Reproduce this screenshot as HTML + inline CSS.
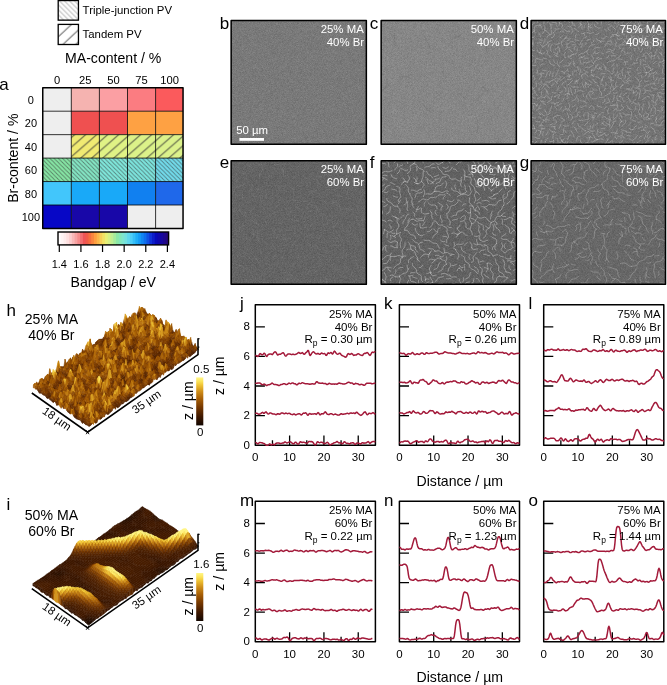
<!DOCTYPE html>
<html lang="en"><head><meta charset="utf-8"><title>Figure</title>
<style>html,body{margin:0;padding:0;background:#fff}svg{display:block}text{font-family:'Liberation Sans', sans-serif}</style>
</head><body>
<svg width="667" height="685" viewBox="0 0 667 685">
<defs>
<pattern id="hTJ" width="4.2" height="4.2" patternUnits="userSpaceOnUse" x="42.75" y="0"><path d="M-1,-1L5.2,5.2M-1,3.2L1,5.2M3.2,-1L5.2,1" stroke="#333" stroke-opacity="0.58" stroke-width="0.85"/></pattern>
<pattern id="hTD" width="11" height="9.6" patternUnits="userSpaceOnUse" x="52.3" y="135"><path d="M-1,10.47L12,-0.87M-1,0.87L1,-0.87M10,10.47L12,8.73" stroke="#333" stroke-opacity="0.75" stroke-width="1.1"/></pattern>
<pattern id="hTJl" width="5" height="5" patternUnits="userSpaceOnUse" x="59.2" y="0.6"><rect width="5" height="5" fill="#fff"/><path d="M-1,-1L6,6M-1,4L1,6M4,-1L6,1" stroke="#777" stroke-opacity="0.5" stroke-width="1.1"/></pattern>
<pattern id="hTDl" width="12.85" height="12" patternUnits="userSpaceOnUse" x="52.875" y="29.8"><rect width="13" height="12" fill="#fff"/><path d="M-1,12.93L13.85,-0.93M-1,0.93L1,-0.93M11.85,12.93L13.85,11.07" stroke="#444" stroke-opacity="0.8" stroke-width="1"/></pattern>
<filter id="sn00" x="0" y="0" width="1" height="1" color-interpolation-filters="sRGB"><feTurbulence type="fractalNoise" baseFrequency="2.31 2.73" numOctaves="2" seed="3"/><feColorMatrix type="matrix" values="0.16 0 0 0 0.395 0.16 0 0 0 0.395 0.16 0 0 0 0.395 0 0 0 0 1"/></filter>
<clipPath id="sc00"><rect x="231.15" y="20.55" width="135.2" height="123.6"/></clipPath>
<filter id="sn01" x="0" y="0" width="1" height="1" color-interpolation-filters="sRGB"><feTurbulence type="fractalNoise" baseFrequency="2.31 2.73" numOctaves="2" seed="4"/><feColorMatrix type="matrix" values="0.16 0 0 0 0.445 0.16 0 0 0 0.445 0.16 0 0 0 0.445 0 0 0 0 1"/></filter>
<clipPath id="sc01"><rect x="381.15" y="20.55" width="135.2" height="123.6"/></clipPath>
<filter id="sn02" x="0" y="0" width="1" height="1" color-interpolation-filters="sRGB"><feTurbulence type="fractalNoise" baseFrequency="2.31 2.73" numOctaves="2" seed="5"/><feColorMatrix type="matrix" values="0.16 0 0 0 0.371 0.16 0 0 0 0.371 0.16 0 0 0 0.371 0 0 0 0 1"/></filter>
<clipPath id="sc02"><rect x="531.1" y="20.55" width="134.4" height="123.6"/></clipPath>
<filter id="sn10" x="0" y="0" width="1" height="1" color-interpolation-filters="sRGB"><feTurbulence type="fractalNoise" baseFrequency="2.31 2.73" numOctaves="2" seed="6"/><feColorMatrix type="matrix" values="0.16 0 0 0 0.312 0.16 0 0 0 0.312 0.16 0 0 0 0.312 0 0 0 0 1"/></filter>
<clipPath id="sc10"><rect x="231.15" y="160.65" width="135.2" height="123.6"/></clipPath>
<filter id="sn11" x="0" y="0" width="1" height="1" color-interpolation-filters="sRGB"><feTurbulence type="fractalNoise" baseFrequency="2.31 2.73" numOctaves="2" seed="7"/><feColorMatrix type="matrix" values="0.16 0 0 0 0.304 0.16 0 0 0 0.304 0.16 0 0 0 0.304 0 0 0 0 1"/></filter>
<clipPath id="sc11"><rect x="381.15" y="160.65" width="135.2" height="123.6"/></clipPath>
<filter id="sn12" x="0" y="0" width="1" height="1" color-interpolation-filters="sRGB"><feTurbulence type="fractalNoise" baseFrequency="2.31 2.73" numOctaves="2" seed="8"/><feColorMatrix type="matrix" values="0.16 0 0 0 0.324 0.16 0 0 0 0.324 0.16 0 0 0 0.324 0 0 0 0 1"/></filter>
<clipPath id="sc12"><rect x="531.1" y="160.65" width="134.4" height="123.6"/></clipPath>
<linearGradient id="afmg" x1="0" y1="1" x2="0" y2="0"><stop offset="0.00" stop-color="rgb(18,6,0)"/><stop offset="0.18" stop-color="rgb(62,24,0)"/><stop offset="0.38" stop-color="rgb(118,56,0)"/><stop offset="0.55" stop-color="rgb(166,94,6)"/><stop offset="0.70" stop-color="rgb(206,140,24)"/><stop offset="0.83" stop-color="rgb(238,192,50)"/><stop offset="0.92" stop-color="rgb(252,228,90)"/><stop offset="1.00" stop-color="rgb(255,246,136)"/></linearGradient>
</defs>
<rect width="667" height="685" fill="#fff"/>
<rect x="58.2" y="0.55" width="20.25" height="19.6" fill="url(#hTJl)" stroke="#000" stroke-width="1.3"/>
<rect x="58.2" y="24.4" width="20.25" height="20.1" fill="url(#hTDl)" stroke="#000" stroke-width="1.3"/>
<text x="82.60" y="14.20" font-size="11.4" text-anchor="start" fill="#000">Triple-junction PV</text>
<text x="82.60" y="38.30" font-size="11.4" text-anchor="start" fill="#000">Tandem PV</text>
<rect x="42.75" y="87.75" width="28.55" height="23.45" fill="#eeeeee"/>
<rect x="71.30" y="87.75" width="28.10" height="23.45" fill="#f5b3b0"/>
<rect x="99.40" y="87.75" width="28.10" height="23.45" fill="#fb9fa3"/>
<rect x="127.50" y="87.75" width="28.10" height="23.45" fill="#fb7c81"/>
<rect x="155.60" y="87.75" width="27.45" height="23.45" fill="#fb5a5c"/>
<rect x="42.75" y="111.20" width="28.55" height="23.45" fill="#eeeeee"/>
<rect x="71.30" y="111.20" width="28.10" height="23.45" fill="#ef5050"/>
<rect x="99.40" y="111.20" width="28.10" height="23.45" fill="#ef5050"/>
<rect x="127.50" y="111.20" width="28.10" height="23.45" fill="#fea143"/>
<rect x="155.60" y="111.20" width="27.45" height="23.45" fill="#fea143"/>
<rect x="42.75" y="134.65" width="28.55" height="23.45" fill="#eeeeee"/>
<rect x="71.30" y="134.65" width="28.10" height="23.45" fill="#f0ea72"/>
<rect x="99.40" y="134.65" width="28.10" height="23.45" fill="#e0f285"/>
<rect x="127.50" y="134.65" width="28.10" height="23.45" fill="#dcf289"/>
<rect x="155.60" y="134.65" width="27.45" height="23.45" fill="#dcf28b"/>
<rect x="42.75" y="158.10" width="28.55" height="23.45" fill="#86e5a4"/>
<rect x="71.30" y="158.10" width="28.10" height="23.45" fill="#84e6c4"/>
<rect x="99.40" y="158.10" width="28.10" height="23.45" fill="#80e8dc"/>
<rect x="127.50" y="158.10" width="28.10" height="23.45" fill="#7de5de"/>
<rect x="155.60" y="158.10" width="27.45" height="23.45" fill="#72dcec"/>
<rect x="42.75" y="181.55" width="28.55" height="23.45" fill="#42c6fb"/>
<rect x="71.30" y="181.55" width="28.10" height="23.45" fill="#19a9f8"/>
<rect x="99.40" y="181.55" width="28.10" height="23.45" fill="#19a9f8"/>
<rect x="127.50" y="181.55" width="28.10" height="23.45" fill="#1180f0"/>
<rect x="155.60" y="181.55" width="27.45" height="23.45" fill="#1f68ea"/>
<rect x="42.75" y="205.00" width="28.55" height="23.45" fill="#0707c6"/>
<rect x="71.30" y="205.00" width="28.10" height="23.45" fill="#1807a8"/>
<rect x="99.40" y="205.00" width="28.10" height="23.45" fill="#1807a8"/>
<rect x="127.50" y="205.00" width="28.10" height="23.45" fill="#eeeeee"/>
<rect x="155.60" y="205.00" width="27.45" height="23.45" fill="#eeeeee"/>
<rect x="71.30" y="134.65" width="111.75" height="23.45" fill="url(#hTD)"/>
<rect x="42.75" y="158.10" width="140.30" height="23.45" fill="url(#hTJ)"/>
<path d="M71.30,87.75V228.45M99.40,87.75V228.45M127.50,87.75V228.45M155.60,87.75V228.45M42.75,111.20H183.05M42.75,134.65H183.05M42.75,158.10H183.05M42.75,181.55H183.05M42.75,205.00H183.05" stroke="#000" stroke-width="0.8" fill="none"/>
<rect x="42.75" y="87.75" width="140.30" height="140.70" fill="none" stroke="#000" stroke-width="1.5" stroke-linejoin="round"/>
<text x="113.20" y="62.60" font-size="14.1" text-anchor="middle" fill="#000">MA-content / %</text>
<text x="57.20" y="84.20" font-size="11.2" text-anchor="middle" fill="#000">0</text>
<text x="85.30" y="84.20" font-size="11.2" text-anchor="middle" fill="#000">25</text>
<text x="113.40" y="84.20" font-size="11.2" text-anchor="middle" fill="#000">50</text>
<text x="141.50" y="84.20" font-size="11.2" text-anchor="middle" fill="#000">75</text>
<text x="169.60" y="84.20" font-size="11.2" text-anchor="middle" fill="#000">100</text>
<text x="30.90" y="103.97" font-size="11" text-anchor="middle" fill="#000">0</text>
<text x="30.90" y="127.42" font-size="11" text-anchor="middle" fill="#000">20</text>
<text x="30.90" y="150.88" font-size="11" text-anchor="middle" fill="#000">40</text>
<text x="30.90" y="174.32" font-size="11" text-anchor="middle" fill="#000">60</text>
<text x="30.90" y="197.77" font-size="11" text-anchor="middle" fill="#000">80</text>
<text x="30.90" y="221.22" font-size="11" text-anchor="middle" fill="#000">100</text>
<text x="18.00" y="158.20" font-size="14.1" text-anchor="middle" fill="#000" transform="rotate(-90 18.00 158.20)">Br-content / %</text>
<text x="-0.70" y="89.90" font-size="17" text-anchor="start" fill="#000">a</text>
<rect x="58.00" y="232.0" width="3.76" height="12.90" fill="#fffcfc"/>
<rect x="60.77" y="232.0" width="3.76" height="12.90" fill="#fff5f5"/>
<rect x="63.53" y="232.0" width="3.76" height="12.90" fill="#feecec"/>
<rect x="66.30" y="232.0" width="3.76" height="12.90" fill="#fee0e0"/>
<rect x="69.06" y="232.0" width="3.76" height="12.90" fill="#fccfcf"/>
<rect x="71.83" y="232.0" width="3.76" height="12.90" fill="#fab9b9"/>
<rect x="74.59" y="232.0" width="3.76" height="12.90" fill="#f8a3a3"/>
<rect x="77.35" y="232.0" width="3.76" height="12.90" fill="#f68c8c"/>
<rect x="80.12" y="232.0" width="3.76" height="12.90" fill="#f27072"/>
<rect x="82.88" y="232.0" width="3.76" height="12.90" fill="#ef5557"/>
<rect x="85.65" y="232.0" width="3.76" height="12.90" fill="#f15b49"/>
<rect x="88.41" y="232.0" width="3.76" height="12.90" fill="#f56f40"/>
<rect x="91.18" y="232.0" width="3.76" height="12.90" fill="#f9863f"/>
<rect x="93.94" y="232.0" width="3.76" height="12.90" fill="#fe9e40"/>
<rect x="96.71" y="232.0" width="3.76" height="12.90" fill="#fbb64b"/>
<rect x="99.47" y="232.0" width="3.76" height="12.90" fill="#f8ce57"/>
<rect x="102.24" y="232.0" width="3.76" height="12.90" fill="#f2e265"/>
<rect x="105.00" y="232.0" width="3.76" height="12.90" fill="#e8f075"/>
<rect x="107.77" y="232.0" width="3.76" height="12.90" fill="#d5f085"/>
<rect x="110.53" y="232.0" width="3.76" height="12.90" fill="#c0ef93"/>
<rect x="113.30" y="232.0" width="3.76" height="12.90" fill="#a5ec9d"/>
<rect x="116.06" y="232.0" width="3.76" height="12.90" fill="#8be8a7"/>
<rect x="118.83" y="232.0" width="3.76" height="12.90" fill="#84e7ba"/>
<rect x="121.59" y="232.0" width="3.76" height="12.90" fill="#7ee6ce"/>
<rect x="124.36" y="232.0" width="3.76" height="12.90" fill="#73e1df"/>
<rect x="127.12" y="232.0" width="3.76" height="12.90" fill="#61d8ec"/>
<rect x="129.89" y="232.0" width="3.76" height="12.90" fill="#4ecef8"/>
<rect x="132.65" y="232.0" width="3.76" height="12.90" fill="#36bef8"/>
<rect x="135.42" y="232.0" width="3.76" height="12.90" fill="#1fadf8"/>
<rect x="138.19" y="232.0" width="3.76" height="12.90" fill="#169af6"/>
<rect x="140.95" y="232.0" width="3.76" height="12.90" fill="#1286f2"/>
<rect x="143.71" y="232.0" width="3.76" height="12.90" fill="#106fed"/>
<rect x="146.48" y="232.0" width="3.76" height="12.90" fill="#1051e3"/>
<rect x="149.25" y="232.0" width="3.76" height="12.90" fill="#1033d9"/>
<rect x="152.01" y="232.0" width="3.76" height="12.90" fill="#0c1eca"/>
<rect x="154.77" y="232.0" width="3.76" height="12.90" fill="#080aba"/>
<rect x="157.54" y="232.0" width="3.76" height="12.90" fill="#0f08ac"/>
<rect x="160.31" y="232.0" width="3.76" height="12.90" fill="#18089f"/>
<rect x="163.07" y="232.0" width="3.76" height="12.90" fill="#1f088e"/>
<rect x="165.83" y="232.0" width="2.77" height="12.90" fill="#25087a"/>
<rect x="58.0" y="232.0" width="110.60" height="12.90" fill="none" stroke="#000" stroke-width="1.4"/>
<path d="M59.30,244.9V252M80.92,244.9V252M102.54,244.9V252M124.16,244.9V252M145.78,244.9V252M167.40,244.9V252" stroke="#000" stroke-width="1.2" fill="none"/>
<text x="59.30" y="267.80" font-size="11" text-anchor="middle" fill="#000">1.4</text>
<text x="80.92" y="267.80" font-size="11" text-anchor="middle" fill="#000">1.6</text>
<text x="102.54" y="267.80" font-size="11" text-anchor="middle" fill="#000">1.8</text>
<text x="124.16" y="267.80" font-size="11" text-anchor="middle" fill="#000">2.0</text>
<text x="145.78" y="267.80" font-size="11" text-anchor="middle" fill="#000">2.2</text>
<text x="167.40" y="267.80" font-size="11" text-anchor="middle" fill="#000">2.4</text>
<text x="113.20" y="287.20" font-size="14.1" text-anchor="middle" fill="#000">Bandgap / eV</text>
<rect x="231.15" y="20.55" width="135.2" height="123.6" fill="rgb(121,121,121)" filter="url(#sn00)"/>
<g clip-path="url(#sc00)">
</g>
<rect x="231.15" y="20.55" width="135.2" height="123.6" fill="none" stroke="#000" stroke-width="1.5" stroke-linejoin="round"/>
<text x="363.75" y="32.55" font-size="11.4" text-anchor="end" fill="#fff">25% MA</text>
<text x="364.15" y="45.85" font-size="11.4" text-anchor="end" fill="#fff">40% Br</text>
<text x="219.85" y="29.45" font-size="17" text-anchor="start" fill="#000">b</text>
<rect x="381.15" y="20.55" width="135.2" height="123.6" fill="rgb(134,134,134)" filter="url(#sn01)"/>
<g clip-path="url(#sc01)">
<path d="M386.4,79.5l0.6,1.5l0.3,1.6l-0.1,1.6l-0.5,1.5l-0.8,1.4l-1.0,1.2l-1.2,1.1l-1.3,0.9l-1.5,0.5M518.0,161.9l-0.5,1.5l-0.2,1.6l-0.2,1.6l-0.2,1.6l-0.1,1.6l-0.2,1.6l-0.3,1.6l-0.3,1.6l-0.6,1.5l-0.7,1.5l-0.8,1.4M458.4,93.5l1.4,0.7l1.3,0.9l1.3,0.9l1.2,1.1l1.0,1.2M437.9,164.0l-1.5,-0.7l-1.4,-0.9l-1.1,-1.2l-0.8,-1.4l-0.8,-1.4l-0.7,-1.4l-0.4,-1.6l-0.1,-1.6l0.0,-1.6l0.4,-1.5l0.5,-1.5M498.6,150.5l-0.9,-1.3l-0.6,-1.5l-0.4,-1.5l-0.0,-1.6l0.1,-1.6l0.6,-1.5l0.7,-1.5l0.6,-1.5M476.0,117.2l0.7,1.4l0.5,1.5l0.2,1.6l0.2,1.6l0.3,1.6l-0.0,1.6l-0.2,1.6l-0.3,1.6l-0.4,1.6l-0.6,1.5M522.1,120.6l1.5,0.5l1.5,0.4l1.6,0.1l1.6,0.3l1.5,0.6l1.4,0.7M508.3,21.3l-0.5,-1.5l-0.5,-1.5l-0.3,-1.6l-0.3,-1.6l-0.3,-1.6l-0.3,-1.6l-0.4,-1.5l-0.6,-1.5l-0.8,-1.4M454.5,37.4l1.6,-0.2l1.6,-0.3l1.4,-0.7l1.3,-1.0l1.0,-1.3M445.4,165.9l0.3,-1.6l-0.2,-1.6l-0.3,-1.6l-0.5,-1.5l-0.5,-1.5l-0.8,-1.4l-1.1,-1.1l-1.3,-0.9l-1.5,-0.5l-1.5,-0.5l-1.5,-0.5M515.0,50.3l-1.1,-1.2l-1.1,-1.2l-1.2,-1.0l-1.3,-0.9l-1.5,-0.6l-1.6,-0.1l-1.6,-0.0l-1.6,-0.2l-1.5,-0.5l-1.4,-0.9l-1.2,-1.1l-1.2,-1.0M395.9,46.3l-0.5,-1.5l-0.4,-1.6l-0.4,-1.6l-0.2,-1.6l-0.1,-1.6l-0.1,-1.6l-0.2,-1.6l-0.1,-1.6M487.6,53.3l-0.5,-1.5l-0.5,-1.5l-0.2,-1.6l-0.0,-1.6l0.3,-1.6l0.6,-1.5l0.3,-1.6l0.3,-1.6M410.4,78.0l-1.4,-0.7l-1.6,-0.3l-1.6,-0.1l-1.6,-0.1l-1.6,0.1l-1.6,0.0l-1.6,0.1M424.4,36.2l0.7,1.4l0.5,1.5l0.6,1.5l0.8,1.4l1.0,1.3l0.8,1.4l0.5,1.5l0.4,1.6M482.9,86.9l1.3,1.0l1.1,1.1l1.2,1.1l1.2,1.0l1.2,1.0M422.4,103.8l1.1,1.2l1.0,1.2l1.1,1.1l1.1,1.1l1.1,1.2l1.2,1.1l1.3,0.9l1.5,0.7" fill="none" stroke="#444" stroke-width="0.7" stroke-opacity="0.25" stroke-linecap="round" stroke-linejoin="round"/>
<path d="M394.6,107.8l-0.8,1.4l-0.4,1.6l-0.1,1.6M546.9,77.1l-1.6,-0.2l-1.5,-0.5l-1.4,-0.7M531.2,42.8l0.5,-1.5l0.3,-1.6l0.2,-1.6M508.1,83.4l0.4,-1.5l0.2,-1.6l0.2,-1.6l0.3,-1.6l0.2,-1.6l0.1,-1.6M388.4,64.3l-0.1,-1.6l-0.2,-1.6l-0.3,-1.6l-0.2,-1.6l0.0,-1.6M497.3,24.6l0.7,1.4l1.1,1.2l1.2,1.0l1.3,1.0l1.1,1.1l1.3,1.0M466.5,116.4l1.6,0.3l1.6,-0.0l1.6,0.1l1.6,-0.1l1.6,-0.3l1.5,-0.4l1.5,-0.5M401.3,127.5l-1.5,-0.5l-1.5,-0.5l-1.5,-0.4l-1.6,-0.4M468.0,78.3l-1.4,0.8l-1.4,0.8l-1.4,0.8l-1.5,0.5l-1.6,0.3l-1.6,0.2" fill="none" stroke="#ddd" stroke-width="0.6" stroke-opacity="0.2" stroke-linecap="round" stroke-linejoin="round"/>
</g>
<rect x="381.15" y="20.55" width="135.2" height="123.6" fill="none" stroke="#000" stroke-width="1.5" stroke-linejoin="round"/>
<text x="513.75" y="32.55" font-size="11.4" text-anchor="end" fill="#fff">50% MA</text>
<text x="514.15" y="45.85" font-size="11.4" text-anchor="end" fill="#fff">40% Br</text>
<text x="369.85" y="29.45" font-size="17" text-anchor="start" fill="#000">c</text>
<rect x="531.1" y="20.55" width="134.4" height="123.6" fill="rgb(115,115,115)" filter="url(#sn02)"/>
<g clip-path="url(#sc02)">
<path d="M567.1,35.6l-1.0,0.9l-0.6,1.2l-0.7,1.1l-1.0,0.9l-1.1,0.8l-0.9,1.0M548.5,20.0l-0.3,1.3l-0.4,1.3l-0.9,0.9M606.2,67.8l-0.8,-1.0l-0.9,-0.9l-0.6,-1.2M645.8,59.2l0.1,-1.3l-0.7,-1.1l-0.2,-1.3M567.8,84.8l1.2,-0.5l0.8,-1.0l0.8,-1.0l1.0,-0.8l0.8,-1.0M648.5,114.2l-1.1,-0.8l-1.2,-0.5l-1.0,-0.9M646.3,119.7l-0.4,-1.2l0.3,-1.3l1.1,-0.7l0.9,-0.9l0.3,-1.3M609.0,21.6l1.0,-0.8l1.2,-0.4l1.3,-0.3l1.2,-0.5l1.3,-0.1M593.0,65.5l-1.2,0.5l-1.1,0.6l-1.0,0.8l-1.3,-0.1l-1.3,-0.2l-1.3,0.4M594.5,44.5l-1.3,0.4l-1.3,-0.1l-1.2,0.5l-0.7,1.1l-1.0,0.8M576.1,140.7l0.7,-1.1l0.2,-1.3l0.5,-1.2l1.1,-0.7l1.3,-0.1M648.2,28.0l0.5,1.2l0.8,1.0M570.2,113.9l0.8,1.0l0.9,0.9l0.8,1.1l-0.2,1.3l-0.8,1.0l-1.1,0.7M617.5,71.6l0.0,1.3l-0.8,1.0l-1.0,0.8l-0.4,1.2M591.5,72.6l-0.3,-1.3l0.6,-1.1l0.2,-1.3M561.6,140.9l-0.3,-1.3l-0.9,-0.9l-0.4,-1.2M567.7,145.0l-0.4,-1.2l-1.2,-0.6l-1.3,-0.2l-1.2,-0.5l-1.0,-0.8l-1.1,-0.7M607.5,42.0l1.1,-0.7l1.3,-0.2M613.3,94.7l0.9,1.0l-0.0,1.3l-0.4,1.2l-0.4,1.2l-0.4,1.3l-0.7,1.1M626.0,80.8l0.9,-1.0l1.0,-0.8l0.8,-1.0l0.8,-1.0M549.2,111.6l1.0,-0.8l0.5,-1.2l0.1,-1.3l0.4,-1.2l0.7,-1.1M618.3,35.9l-1.2,-0.5l-1.1,-0.7l-1.3,-0.3l-1.3,0.1l-1.3,0.2M611.9,25.6l-1.2,0.4l-1.0,0.8l-0.9,0.9M626.8,105.7l1.0,0.8l0.5,1.2l0.7,1.1l1.2,0.6l1.3,-0.2M661.8,54.5l-0.9,-0.9l-1.1,-0.7l-1.0,-0.8M575.7,144.3l-1.3,-0.1l-1.2,-0.6l-0.8,-1.0l-1.2,-0.5M668.7,130.5l1.3,0.2l1.3,-0.1l1.2,-0.5M580.1,106.9l1.2,0.5l1.3,-0.3l1.1,-0.8l1.2,-0.4l1.3,0.1M658.5,63.8l0.7,1.1l-0.0,1.3M580.0,100.6l1.2,0.4l1.3,0.1l1.3,0.1M533.8,92.7l-0.9,1.0l-1.0,0.8l-0.9,0.9M594.1,109.6l-0.2,-1.3l-0.6,-1.2l-0.8,-1.0M639.7,93.3l0.5,-1.2l0.1,-1.3l-0.3,-1.3l-0.4,-1.3M639.4,28.6l-0.9,-1.0l-1.0,-0.8l-1.2,-0.5l-1.2,-0.4l-0.8,-1.0l-0.1,-1.3M582.4,40.5l-1.1,0.7l-0.6,1.1l-0.3,1.3l-0.6,1.1M554.5,104.7l0.7,-1.1l1.0,-0.8l1.3,-0.0l1.3,-0.4M535.2,19.7l-0.3,-1.3l0.3,-1.3M661.0,124.1l0.6,-1.2l0.6,-1.1l0.9,-0.9l1.3,-0.2M597.4,98.0l-1.2,0.6l-1.3,0.3l-1.3,0.1l-1.2,-0.5M585.8,130.5l-1.3,0.2l-1.1,-0.7l-0.7,-1.1l-0.9,-0.9l-1.1,-0.7l-0.9,-1.0M625.3,75.0l0.2,1.3l-0.4,1.2l-0.9,0.9M537.6,104.5l-1.0,0.8l-0.4,1.2M626.2,25.1l0.8,-1.0l0.7,-1.1l1.2,-0.5M575.5,117.2l0.8,-1.0l1.0,-0.8l1.3,-0.3l1.0,0.9l0.9,1.0M616.5,108.6l-1.2,0.4l-1.0,0.8l-0.8,1.0M633.3,92.6l1.3,-0.1l1.0,-0.8l1.0,-0.8M657.2,110.4l1.3,-0.1l1.1,0.7l1.3,0.2l1.2,-0.4l0.9,-0.9M619.2,96.4l1.3,0.3l1.2,0.5l0.7,1.1l0.4,1.2l0.6,1.2l0.7,1.1M611.6,132.6l1.2,-0.5l1.2,0.6l1.2,0.5l1.3,0.1l1.2,0.4M663.4,29.6l-1.2,0.5l-0.5,1.2l-0.5,1.2l-0.8,1.0M647.9,25.6l-0.4,-1.2l-0.3,-1.3l0.4,-1.2M654.3,24.4l1.1,-0.7l0.8,-1.0l1.0,-0.8M537.2,95.2l-1.1,-0.7l-0.9,-0.9M619.7,35.7l-1.3,0.2l-1.3,-0.3l-0.9,-0.9M538.9,90.4l0.2,-1.3l0.0,-1.3M612.0,44.4l-0.1,-1.3l-0.7,-1.1l-0.3,-1.3M538.6,146.9l0.6,-1.2l1.0,-0.8l0.7,-1.1l0.2,-1.3l0.2,-1.3l0.6,-1.2M634.4,51.1l0.6,-1.2l-0.2,-1.3M586.7,51.1l-1.1,0.6l-1.0,0.8l-1.1,0.8l-1.1,0.7M534.7,133.0l1.1,-0.7l0.6,-1.1l0.3,-1.3M559.1,94.7l-1.3,0.1l-1.0,0.9l-1.2,0.6l-1.3,0.2M650.1,84.1l1.2,-0.4l1.3,0.0l1.3,-0.1M664.8,82.5l-0.3,-1.3l-0.3,-1.3l-0.8,-1.1M542.6,47.3l1.0,-0.8l1.1,-0.7l0.9,-0.9l1.2,-0.5l0.9,-0.9l0.2,-1.3M576.6,95.8l-0.1,1.3l-0.5,1.2l-1.1,0.7M535.5,98.0l-1.3,0.1l-1.2,-0.4l-0.9,-1.0M634.9,142.4l-1.1,0.6l-0.9,0.9l-0.4,1.2M591.3,144.8l-0.4,1.2l0.1,1.3l0.8,1.0l1.1,0.6l0.8,1.0l0.8,1.0M632.9,129.6l-1.3,0.1l-1.2,-0.4l-0.9,-1.0M636.4,126.1l-1.2,0.4l-0.8,1.0l-0.6,1.2l-0.9,1.0M549.5,88.0l-1.2,-0.5l-0.8,-1.1l-0.6,-1.1l-0.8,-1.0l-1.3,-0.1l-1.3,0.1M612.8,27.1l1.1,0.6l0.7,1.1l1.0,0.9M587.8,112.2l0.7,1.1l0.3,1.3l-0.5,1.2l-0.3,1.3l0.6,1.1M554.2,65.4l-1.2,-0.4l-1.3,-0.3l-1.1,-0.7l-0.7,-1.1l-0.2,-1.3l-0.7,-1.1M617.6,107.4l-0.0,-1.3l-1.0,-0.9l-1.3,-0.0l-1.3,-0.1l-1.1,-0.6M533.2,89.8l1.2,0.6l0.6,1.2l0.1,1.3M657.4,77.8l-0.7,1.1l-0.4,1.2l-0.9,0.9M570.1,87.9l0.7,1.1l0.2,1.3l0.1,1.3l0.5,1.2l0.7,1.1l0.3,1.3M666.3,125.7l1.1,-0.7l1.3,-0.1l1.2,0.4l1.2,0.4l1.3,0.0M603.3,139.7l-1.2,-0.6l-1.3,-0.2l-1.3,0.2l-1.2,0.4l-1.3,0.2l-1.1,0.8M557.1,109.4l-0.9,-0.9l-0.9,-1.0l-0.5,-1.2M634.1,63.7l-1.2,0.4l-1.2,0.6M622.1,152.6l-1.3,-0.3l-0.9,-1.0M626.9,147.0l-1.1,0.7l-0.7,1.1l-0.3,1.3l-0.6,1.2l-0.9,0.9l-1.2,0.5M561.0,118.0l1.3,0.3l0.9,0.9l1.2,0.6M596.1,60.7l-1.1,0.6l-1.0,0.8l-0.3,1.3M627.0,132.0l-1.0,-0.8l-1.3,-0.3l-1.3,-0.2l-1.2,-0.5l-1.1,-0.7M573.7,61.2l0.2,1.3l0.4,1.2M595.9,68.7l-0.3,-1.3l0.1,-1.3l0.2,-1.3M665.1,20.0l-0.4,1.2l-0.9,1.0l-1.2,0.4l-1.3,0.2l-1.3,-0.2M604.1,108.8l0.9,-1.0l1.1,-0.8M648.3,65.1l0.7,1.1l0.7,1.1l0.9,0.9l0.5,1.2l-0.6,1.1l-0.9,1.0M542.5,33.8l0.8,-1.0l0.8,-1.0l0.4,-1.2M567.1,70.1l-0.8,1.0l-1.0,0.8l-1.2,0.6M586.8,103.2l-1.0,-0.9l-1.1,-0.6l-0.9,-0.9M604.0,54.0l-1.2,-0.5l-1.2,-0.5M544.6,64.2l-1.3,-0.3l-1.3,0.3l-1.1,0.8l-1.1,0.7M531.7,79.6l-1.1,0.7l-1.2,0.5l-1.3,0.0l-1.0,-0.8l-0.9,-0.9M559.9,52.5l-0.5,-1.2l0.1,-1.3l0.0,-1.3l-0.8,-1.1M567.7,139.4l0.4,-1.2l0.3,-1.3l0.7,-1.1l1.2,-0.5M591.8,55.7l0.8,1.0l0.6,1.2l0.3,1.3M561.6,71.5l1.3,0.1l1.0,0.9l0.5,1.2M543.3,146.1l1.3,-0.1l1.2,-0.4l1.0,-0.8l1.1,-0.7l1.2,-0.4l1.3,0.2M650.1,74.4l-0.4,1.3l-0.6,1.1l-1.3,0.2M644.6,72.2l1.3,0.3l1.3,-0.0l1.3,-0.1l1.0,0.8l0.7,1.1M630.4,32.1l1.3,0.1l1.1,0.7l1.3,0.3M588.6,24.3l-0.4,1.2l0.2,1.3l1.2,0.5l1.3,0.2l1.2,0.5M574.2,42.1l-1.3,-0.3l-1.2,-0.5l-1.2,0.4l-0.8,1.0l-0.9,0.9l-1.1,0.7M593.5,32.6l-1.3,0.2l-1.2,0.6l-1.3,0.0l-1.2,-0.6l-1.3,-0.3M583.7,33.4l0.7,1.1l0.4,1.2M581.4,75.9l0.4,1.2l0.7,1.1M586.3,72.3l-0.9,0.9l-1.0,0.8l-1.3,0.1l-1.2,0.6l-0.6,1.2M622.1,135.7l0.3,-1.3l0.0,-1.3l-0.5,-1.2M649.4,119.5l-0.7,-1.1l-0.8,-1.0l-0.0,-1.3M630.2,114.8l-1.3,-0.2l-1.3,0.1l-1.3,0.3l-1.3,-0.3l-0.9,-0.9l-0.8,-1.1M530.6,67.0l-1.3,-0.3l-1.2,0.6l-1.3,-0.1l-1.2,-0.6l-0.8,-1.0M562.6,90.7l-0.8,1.0l-1.1,0.7l-1.3,0.3M583.2,64.8l-0.2,-1.3l0.7,-1.1l1.3,-0.2l1.3,0.2M599.2,52.3l-1.1,0.6l-1.2,0.6l-1.3,-0.1M588.3,58.2l-1.3,0.1l-1.3,-0.2l-1.3,0.1M652.0,139.7l0.5,1.2l0.5,1.2l0.1,1.3l-0.4,1.2M645.3,146.2l-0.6,-1.1l0.2,-1.3l0.8,-1.1l0.8,-1.1l1.0,-0.8l1.3,0.1M662.0,73.1l0.5,-1.2l-0.0,-1.3l0.2,-1.3l0.4,-1.2l0.3,-1.3l0.0,-1.3M616.9,138.7l-1.1,-0.7l-0.9,-1.0l0.3,-1.3M617.2,86.5l-1.2,0.4l-0.9,1.0l-0.7,1.1l-0.9,0.9l-1.2,0.6M581.6,33.3l1.3,0.2l1.2,-0.4l1.1,-0.7M598.3,136.6l1.2,-0.5l1.2,-0.4l1.1,-0.6l1.0,-0.8l1.2,-0.5l1.2,-0.6M639.7,113.9l-0.8,-1.0l-0.5,-1.2l0.5,-1.2l0.7,-1.1l0.3,-1.3M554.6,43.9l1.2,0.5l1.3,-0.1l1.1,-0.7l1.3,-0.0M604.1,147.3l1.3,0.3l1.2,0.5l1.3,-0.2l1.1,-0.8M576.1,45.0l-1.3,-0.3l-1.3,-0.1l-1.3,0.2M643.6,103.8l-0.3,1.3l-0.8,1.0l-0.9,0.9M532.5,112.7l-0.7,1.1l-0.7,1.1l-1.2,0.5M645.9,66.7l1.3,-0.0l1.1,0.6l1.0,0.8M610.7,82.5l0.5,-1.2l-0.2,-1.3l-0.8,-1.0l-1.0,-0.9l-0.6,-1.2M563.8,32.1l-1.1,-0.7l-1.3,-0.3l-1.1,0.6M550.1,57.3l-0.2,-1.3l-1.0,-0.8l-1.1,-0.6M546.2,92.8l0.2,-1.3l-0.0,-1.3l-0.6,-1.2l-1.2,-0.5M533.7,137.1l1.3,-0.0l1.1,0.6l1.1,0.7l1.3,-0.0l1.3,-0.2M623.1,68.4l-0.6,1.1l-0.5,1.2l-0.2,1.3l0.4,1.2l0.4,1.2l0.1,1.3M617.1,66.9l-0.0,-1.3l-0.2,-1.3M546.0,119.0l0.5,-1.2l0.8,-1.0M538.5,117.0l1.3,-0.1l0.9,0.9l0.3,1.3M534.4,36.4l-1.0,0.9l-1.3,0.2l-1.2,0.5l-0.7,1.1M537.4,49.8l0.1,1.3l0.7,1.1l1.2,0.4l1.3,0.2l1.1,0.8M590.3,136.4l-0.6,1.2l-0.2,1.3l-0.6,1.1M538.3,83.2l1.1,0.8l1.1,0.7l1.0,0.8M556.7,137.9l0.9,0.9l0.4,1.2l-0.0,1.3M601.5,95.2l0.0,-1.3l-0.2,-1.3l-0.7,-1.1l-0.9,-0.9l-0.3,-1.3l0.3,-1.3M559.6,63.2l1.0,-0.8l1.0,-0.8l0.8,-1.0l0.9,-0.9M663.4,145.4l0.9,1.0l1.2,0.5l1.3,-0.2M633.1,90.1l0.4,1.2l-0.2,1.3l0.1,1.3M660.6,41.1l-0.8,-1.0l-0.8,-1.1l-1.2,-0.4l-1.2,-0.5l-0.9,-0.9M542.8,59.8l-1.3,-0.0l-1.3,-0.2l-1.2,-0.4l-1.2,-0.6l-1.3,0.1M641.3,130.5l1.3,-0.2l1.3,-0.2l1.2,0.4l0.8,1.0l0.6,1.2M664.6,128.2l-0.3,1.3l-0.7,1.1l-1.0,0.8l-0.9,1.0M638.8,98.7l0.2,-1.3l0.7,-1.1l0.1,-1.3l-0.6,-1.2M662.1,116.2l-0.9,0.9l-0.8,1.1l-0.8,1.0M562.0,84.9l0.4,-1.2l0.9,-0.9l1.1,-0.7l1.2,-0.5M546.7,114.9l1.3,-0.3l1.2,-0.6l0.7,-1.1M667.2,103.1l0.7,1.1l0.5,1.2l0.8,1.0M613.2,119.6l0.9,-0.9l1.0,-0.8l1.2,-0.6l0.8,-1.0l0.1,-1.3M584.6,125.9l0.6,-1.1l1.1,-0.7l0.8,-1.1l0.7,-1.1M574.3,49.9l-0.2,-1.3l0.5,-1.2l0.7,-1.1M623.0,140.2l-1.0,0.9l-0.6,1.2l-0.9,0.9M579.4,111.9l-1.3,0.3l-0.6,1.1l0.4,1.2M563.6,66.5l1.2,-0.5l1.3,-0.3l1.2,0.4l1.3,-0.1l0.8,-1.0l0.8,-1.0M556.8,55.5l0.5,-1.2l0.3,-1.3l0.2,-1.3M594.9,69.8l-1.3,0.3l-1.3,0.2l-1.3,0.1M546.4,30.9l-1.3,-0.2l-0.6,-1.2l0.4,-1.2l0.1,-1.3l-0.5,-1.2M578.2,101.6l0.2,-1.3l-0.4,-1.2l-0.5,-1.2M639.0,81.5l-0.5,-1.2l-0.6,-1.2l-1.0,-0.8l-1.1,-0.7l-0.9,-0.9M608.5,108.7l-0.6,1.2l-0.3,1.3l0.2,1.3l0.7,1.1M540.7,49.8l-0.1,1.3l-0.8,1.0l-0.4,1.2M594.0,76.9l-1.1,-0.8l-0.8,-1.0l-0.7,-1.1M552.9,24.8l-1.3,-0.0l-1.2,-0.5l-0.6,-1.2M642.3,41.7l-1.3,-0.1l-1.3,-0.1l-1.1,-0.7M636.9,70.8l0.4,-1.2l0.3,-1.3l0.8,-1.0M576.5,129.4l-0.6,-1.1l-1.1,-0.6l-1.1,-0.7M598.3,129.2l-0.7,1.1l-0.1,1.3l-0.3,1.3l-0.3,1.3l0.3,1.3M628.5,83.2l-1.3,-0.2l-1.3,-0.0l-1.2,-0.4l-1.2,-0.6l-0.4,-1.2M639.2,137.6l1.0,-0.8l1.2,-0.5l1.0,-0.8M588.3,54.6l-0.9,-1.0l-0.6,-1.2l0.2,-1.3l0.8,-1.0l0.8,-1.0M536.0,81.6l0.1,1.3l0.2,1.3l0.3,1.3l-0.3,1.3M608.1,142.9l1.2,-0.5l1.0,-0.8l1.1,-0.6l1.3,0.0M544.0,73.6l-1.3,-0.0l-1.2,0.4l-1.3,-0.1l-1.3,0.0M665.9,134.8l0.2,-1.3l0.3,-1.3l1.0,-0.9M579.8,68.9l0.7,1.1l-0.1,1.3l-0.5,1.2l-0.4,1.2l-0.4,1.2M535.7,65.6l-1.3,-0.1l-1.3,0.0l-1.2,-0.5M610.2,37.4l1.1,-0.7l1.1,-0.7l1.3,-0.1M623.6,107.4l-1.1,-0.6l-0.8,-1.0l-0.1,-1.3M581.5,57.0l1.3,0.2l1.1,-0.6l0.8,-1.1M660.6,141.1l0.6,-1.1l0.6,-1.2l-0.3,-1.3l-0.6,-1.2M605.2,73.5l-1.3,-0.1l-1.3,0.3l-1.3,0.2M565.4,106.4l0.3,1.3l0.6,1.1l1.0,0.8l0.6,1.1M540.9,132.1l-0.6,-1.2l-1.2,-0.5l-1.3,-0.2M583.4,91.4l-1.3,-0.3l-1.2,-0.5l-1.3,0.0l-1.2,0.4l-1.3,0.3M558.9,85.9l-0.7,1.1l-0.2,1.3l-0.4,1.3l-0.7,1.1M557.2,61.2l-0.0,1.3l0.0,1.3l0.8,1.0l1.0,0.8l0.6,1.1M607.9,138.6l-0.0,1.3l-0.8,1.0l-0.9,1.0l-0.5,1.2l-0.2,1.3M613.9,63.4l-0.6,1.2l-0.6,1.1l-1.0,0.8M549.7,82.1l-1.3,0.1l-1.3,-0.3l-1.3,0.0M556.2,78.2l-1.2,0.5l-1.0,0.8l-1.1,0.7l-1.3,0.3l-1.2,0.6l-0.8,1.1M649.9,42.1l1.2,0.5l1.1,0.7l0.4,1.2l0.1,1.3l0.4,1.3M563.9,29.3l1.1,0.7l0.9,0.9l1.1,0.6l1.3,-0.2l1.3,0.1M554.2,83.1l-0.7,1.1l-0.8,1.0l-1.3,0.3M618.1,31.5l-0.5,1.2l-0.5,1.2l-1.0,0.8M535.1,63.0l0.3,-1.3l0.0,-1.3l0.4,-1.2M530.2,91.5l-1.3,-0.1l-1.3,0.2l-1.3,0.1l-1.3,-0.3l-1.2,-0.5M610.4,91.2l-0.2,1.3l-0.7,1.1l-1.2,0.5l-1.1,0.6l-1.1,0.7l-1.2,0.5M544.4,97.7l0.6,-1.1l1.0,-0.8M537.3,98.9l1.2,-0.5l1.1,-0.7l1.0,-0.8l1.3,-0.1l1.2,0.4l1.2,0.4M642.5,99.6l1.0,-0.8l1.0,-0.8l1.2,-0.5M579.2,22.7l0.8,1.1l1.2,0.5l0.9,0.9l0.1,1.3l-0.3,1.3l0.1,1.3M580.2,60.4l0.1,1.3l0.5,1.2l0.4,1.2M667.1,75.9l-1.0,-0.8l-1.2,-0.4l-1.1,-0.7M568.6,117.9l-0.0,-1.3l-0.2,-1.3l-0.8,-1.0l-0.3,-1.3M593.4,92.4l-0.8,1.0l-0.8,1.0M597.6,116.8l0.5,-1.2l0.9,-0.9l1.2,-0.5l1.0,-0.8l0.9,-0.9l1.3,0.1M575.0,39.3l1.1,0.8l1.3,0.2l1.3,0.3M642.9,126.2l-1.1,0.6l-1.1,0.7l-1.2,0.5l-1.3,0.2M613.0,86.1l0.1,1.3l0.6,1.2l0.4,1.2M644.3,113.8l-0.6,1.1l0.0,1.3l0.4,1.2l-0.2,1.3l0.4,1.2M551.0,147.2l1.3,-0.3l0.7,-1.1l0.2,-1.3l0.2,-1.3l0.4,-1.2l-0.1,-1.3M537.1,69.9l0.3,1.3l-0.1,1.3l-0.4,1.2M665.9,97.9l-0.9,1.0l-1.1,0.6l-0.9,1.0l-0.9,0.9M669.2,25.3l-1.1,-0.8l-0.8,-1.0M544.0,101.8l-1.3,-0.2l-1.3,-0.2l-1.0,-0.9M665.4,60.3l-1.3,0.2l-1.1,0.7l-1.1,0.7l-1.3,0.3l-1.3,-0.1M656.5,101.1l0.7,-1.1l0.2,-1.3l-0.9,-1.0M657.5,44.3l-1.2,-0.6l-0.9,-0.9l-0.6,-1.2l-1.0,-0.9l-1.2,-0.4M642.9,59.8l1.1,0.8l1.0,0.8l1.0,0.9M650.2,112.4l0.8,-1.0l0.3,-1.3l0.1,-1.3l0.8,-1.0M582.9,120.5l-1.3,-0.3l-1.3,0.2l-1.3,-0.0M653.6,73.2l-1.3,-0.1l-1.3,0.1M656.9,73.9l-0.1,-1.3l-1.0,-0.8l-1.2,0.4l-0.9,1.0M574.8,93.2l0.5,-1.2l0.2,-1.3l-0.1,-1.3M606.9,126.1l-1.2,-0.4l-1.2,-0.5l-1.0,-0.9l-0.8,-1.1l-1.0,-0.9M662.3,56.0l-0.9,-0.9l-0.1,-1.3l-0.0,-1.3M559.9,37.7l1.2,-0.5l0.9,-0.9l1.0,-0.8M653.2,75.5l0.2,1.3l0.4,1.2l0.1,1.3M585.0,119.7l1.3,-0.0l1.3,-0.2l1.2,-0.5M617.6,77.7l1.2,0.4l1.3,0.3l1.3,0.3M602.1,107.8l-1.0,-0.8l-1.2,-0.4l-1.3,-0.2l-1.1,-0.6l-0.4,-1.2M609.9,129.2l1.0,-0.8l0.8,-1.0l0.5,-1.2l0.5,-1.2l0.6,-1.1l0.1,-1.3M558.3,70.1l-0.4,1.2l-0.5,1.2l-0.5,1.2l-0.4,1.2l-0.8,1.0l-1.0,0.9M597.6,68.7l1.2,0.4l1.1,-0.7l0.9,-1.0l1.1,-0.6M546.3,121.4l-1.1,-0.6l-1.1,-0.7l-1.3,-0.2M626.6,93.3l-1.2,0.5l-1.2,0.6l-0.7,1.1M620.3,110.3l-1.3,-0.1l-1.3,-0.1l-1.2,-0.4M542.1,128.6l-0.5,1.2l-0.6,1.1l-0.4,1.2l-0.1,1.3l-0.6,1.2l-1.0,0.8M574.5,24.9l-1.0,-0.8l-0.8,-1.0l-1.0,-0.9M663.7,46.9l-0.0,-1.3l-0.1,-1.3l0.1,-1.3l0.9,-0.9l1.2,-0.5l1.1,-0.7M625.8,31.2l-1.3,0.1l-1.3,0.2l-1.1,-0.8l-0.9,-1.0l-0.8,-1.0l-1.0,-0.9M625.5,41.0l-1.1,0.7l-1.1,0.6l-0.8,1.0M602.5,81.0l-0.4,-1.2l0.2,-1.3l0.7,-1.1l0.4,-1.2M570.0,55.6l1.2,-0.4l1.1,-0.6l1.1,-0.6M585.3,113.4l-1.1,0.6l-0.5,1.2l-0.0,1.3M569.6,94.8l-0.6,-1.2l-0.6,-1.1l-0.1,-1.3l0.1,-1.3l-0.1,-1.3M532.1,46.6l0.8,-1.0l0.0,-1.3l-0.3,-1.3M542.7,135.5l0.2,-1.3l0.1,-1.3l0.1,-1.3M622.1,126.3l0.7,-1.1l1.0,-0.8l1.0,-0.8l0.8,-1.0l0.1,-1.3l-0.2,-1.3M631.8,35.5l-0.1,1.3l-0.4,1.2l-0.8,1.1l-0.4,1.2l0.0,1.3M551.4,99.8l-0.9,0.9l-1.1,0.6l-1.2,0.4l-0.8,1.1M657.8,55.7l0.2,1.3l0.9,1.0l0.8,1.0M631.1,80.8l-1.3,-0.2l-1.3,0.3l-1.2,0.6M639.3,49.4l-0.7,-1.1l-0.7,-1.1M615.1,48.7l-1.0,0.9l-1.0,0.9l-1.3,-0.1l-1.2,-0.6l-1.2,-0.6l-1.3,-0.1M592.0,142.0l1.3,-0.2l1.0,-0.8l1.0,-0.8M623.7,108.7l-1.3,0.3l-0.9,0.9l-1.0,0.8M531.8,127.5l0.8,1.0l1.3,0.3l1.3,-0.3M597.7,123.4l-1.2,0.5l-0.9,0.9l-0.7,1.1M608.9,55.5l-0.6,1.2l-1.0,0.8l-1.2,0.5M564.8,94.8l1.1,-0.7l1.2,-0.5l1.3,-0.2M529.2,47.4l-1.3,0.3l-1.3,0.2l-1.3,-0.3l-1.2,-0.5l-1.2,0.4l-0.7,1.1M551.2,37.9l1.2,-0.4l1.1,-0.8l0.6,-1.1l0.5,-1.2M576.8,18.9l-1.2,-0.5l-1.1,-0.7l-0.7,-1.1M599.0,33.0l-0.9,0.9l-1.2,0.5l-1.3,0.2M631.4,103.7l1.1,-0.7l1.3,-0.2l1.2,0.6l1.1,0.6l1.2,0.6M646.1,127.8l-1.2,-0.4l-0.9,0.9l-0.3,1.3M533.8,56.4l-1.1,-0.8l-1.1,-0.6l-1.3,0.1l-1.2,0.5l-1.3,0.1l-1.3,-0.2M566.8,47.1l0.3,-1.3l-0.3,-1.3l0.3,-1.3M630.3,136.1l-1.2,-0.4l-1.3,-0.1l-1.2,-0.5M652.0,56.2l1.3,-0.1l1.1,-0.6l1.1,-0.7M564.2,21.5l1.2,-0.5l1.2,-0.5l1.3,0.0l0.9,0.9l0.7,1.1M616.8,102.0l0.1,1.3l0.5,1.2l-0.1,1.3M544.8,109.7l0.4,1.2l0.5,1.2l0.9,0.9M651.7,87.3l0.8,1.0l1.2,0.5l1.3,-0.0l1.3,0.0l1.2,0.4M574.2,87.0l-1.3,0.2l-1.2,-0.6l-0.7,-1.1M596.7,82.9l-1.2,-0.4l-1.0,-0.8l-0.6,-1.1l-0.7,-1.1M587.2,94.7l-0.8,1.1l0.2,1.3l0.6,1.2M552.1,44.8l-1.1,0.6l-0.4,1.2l-0.3,1.3l-0.2,1.3l0.3,1.3l1.0,0.8M641.6,80.5l-0.9,0.9l-0.9,0.9l-0.4,1.2l0.0,1.3l-0.3,1.3M559.8,79.6l0.2,-1.3l0.3,-1.3l-0.5,-1.2M584.7,143.4l1.2,-0.4l1.3,-0.2l0.8,-1.0M609.4,119.5l0.4,1.2l-0.3,1.3l-0.2,1.3l0.3,1.3l0.2,1.3l-0.4,1.2M565.6,52.3l-0.9,1.0l-0.6,1.1l-0.0,1.3l0.7,1.1l0.6,1.1M572.3,107.0l1.2,-0.4l1.1,-0.7l0.7,-1.1M535.8,117.9l-1.3,0.2l-1.2,-0.4l-1.3,-0.3M549.6,98.4l-0.7,-1.1l-1.0,-0.8l-1.0,-0.8M546.9,50.5l0.9,1.0l-0.4,1.2l-0.5,1.2M666.2,70.8l0.8,-1.0l1.2,-0.4l1.3,0.0M588.9,80.2l0.7,1.1l1.2,0.6l1.3,0.4M666.7,57.6l0.7,-1.1l1.3,-0.3l1.3,-0.0l1.1,-0.7M539.8,43.9l0.8,1.0l1.0,0.9l1.2,0.6M620.5,86.6l1.1,-0.8l1.1,-0.7l0.8,-1.0M616.2,82.1l-0.6,1.2l0.1,1.3l-0.0,1.3M618.9,20.2l-1.2,-0.5l-1.3,-0.0l-1.3,0.3M557.4,115.3l1.3,0.2l1.3,0.0M553.9,120.6l-0.1,-1.3l-0.5,-1.2l0.6,-1.2l1.2,-0.4l1.2,-0.4l1.1,-0.8M580.2,140.1l0.3,1.3l0.7,1.1l1.1,0.7l0.9,0.9l1.0,0.8M572.7,71.8l0.2,1.3l0.0,1.3l0.1,1.3M585.6,82.5l0.1,1.3l-0.5,1.2l0.1,1.3l0.6,1.2M533.4,145.2l0.9,-0.9l0.5,-1.2l0.8,-1.0l1.2,-0.5M588.3,131.6l1.2,0.4l0.8,1.0M583.9,134.2l1.2,-0.5l0.9,-0.9l1.0,-0.8l1.2,-0.4M530.8,145.1l1.2,0.4l1.2,0.5l1.3,0.0M530.9,134.4l-1.1,0.7l-0.7,1.1l-0.9,1.0l-1.3,0.1M666.1,118.9l0.2,1.3l-0.4,1.2l-0.7,1.1M529.4,142.1l1.3,-0.3l1.3,-0.3l1.3,0.2M616.8,58.1l1.2,-0.5l1.1,-0.6l1.0,-0.9l0.6,-1.1M555.7,22.3l-1.3,0.2l-1.3,0.1l-1.2,-0.4M587.0,36.3l-1.1,0.7l-1.1,0.7l-0.9,0.9M654.1,115.0l-1.2,0.4l-1.3,0.3l-1.2,0.5M539.9,113.0l1.3,-0.1l0.9,0.9l0.6,1.2l1.1,0.7l1.3,0.1M657.3,146.7l0.3,1.3l0.7,1.1l0.4,1.2l0.1,1.3l0.2,1.3l0.9,0.9M631.9,55.0l-0.4,1.2l-0.6,1.2l0.0,1.3l0.2,1.3M666.1,110.3l1.0,-0.9l1.1,-0.7l0.8,-1.0M669.1,40.1l-1.3,-0.1l-0.8,-1.1l-0.5,-1.2l-1.2,-0.6l-1.3,0.3l-1.3,-0.3M652.9,68.2l-0.4,1.3l-1.0,0.8l-1.3,-0.0M618.7,145.8l1.0,-0.9l0.1,-1.3l-0.2,-1.3M615.3,40.8l1.0,0.9l-0.1,1.3l-0.5,1.2l0.0,1.3l0.5,1.2M551.1,28.7l0.1,-1.3l-0.1,-1.3l-0.5,-1.2M575.7,82.1l0.9,-0.9l1.1,-0.7l1.0,-0.8l0.7,-1.1M658.9,92.6l1.3,0.0l1.2,0.5l1.2,0.5l1.3,0.1l1.0,-0.8l0.7,-1.1M651.1,127.2l0.8,1.0l1.2,0.5l1.0,0.8l0.3,1.3l0.4,1.2l0.9,1.0M605.7,70.0l0.0,-1.3l-0.4,-1.2l-1.1,-0.6M648.3,36.5l-1.3,0.0l-1.2,0.4l-0.8,1.0l-0.9,0.9M626.9,28.5l-0.1,1.3l-0.2,1.3l0.4,1.2M658.5,125.0l-1.3,-0.1l-1.3,-0.0l-1.1,0.7M577.9,27.5l1.0,-0.8l1.2,-0.6l1.0,-0.8M591.9,131.2l1.3,0.1l1.2,-0.5M587.3,128.9l1.2,0.5l1.1,0.7l1.0,0.8l1.3,0.3M555.6,120.0l0.7,1.1l0.1,1.3l-0.7,1.1l-0.9,0.9M557.2,82.3l0.7,-1.1l0.1,-1.3l-0.1,-1.3M610.4,89.1l0.0,-1.3l0.6,-1.1l0.6,-1.2l-0.0,-1.3M624.5,61.5l0.8,1.0l0.2,1.3l0.1,1.3M584.8,45.2l0.9,-0.9l0.6,-1.2M623.9,51.0l0.8,1.0l0.3,1.3l0.1,1.3M645.3,125.1l1.2,0.6l1.0,0.8M568.6,125.7l-1.3,0.1l-1.3,0.3l-1.3,-0.1l-1.2,-0.4M566.9,96.9l0.6,-1.2l0.4,-1.2l-0.2,-1.3M659.7,46.3l0.5,1.2l0.8,1.0l0.9,0.9M656.5,122.9l-0.7,-1.1l-0.3,-1.3l0.7,-1.1l0.7,-1.1M635.8,99.4l-1.1,0.7l-1.1,0.6l-0.7,1.1M561.6,143.9l-0.9,-0.9l-1.3,-0.2l-1.2,0.6l-1.2,0.6l-1.2,0.4M642.2,25.0l-1.3,0.2l-0.6,-1.2l-0.1,-1.3l-0.4,-1.2l-0.2,-1.3l0.8,-1.1M574.9,83.8l-0.0,-1.3l0.5,-1.2l1.2,-0.6M544.9,38.7l0.2,1.3l-0.3,1.3l-0.6,1.1l-1.0,0.8M530.4,71.1l1.0,-0.8l0.9,-0.9M551.5,126.6l1.3,-0.2l1.3,0.2l1.3,0.3M622.9,120.9l-1.3,0.3l-1.0,0.8l-0.6,1.2l-0.5,1.2l0.2,1.3M568.6,38.7l-1.1,-0.7l-1.3,-0.2l-1.1,0.7M551.7,34.3l-0.2,-1.3l0.1,-1.3l0.0,-1.3M611.1,73.7l1.3,0.1l0.9,-0.9l1.0,-0.8M569.9,47.3l-1.3,0.1l-1.3,0.3l-0.8,1.0l-0.8,1.0M532.9,40.5l-0.1,1.3l0.2,1.3l-0.3,1.3M608.5,134.4l-1.1,0.7l-1.3,0.3l-1.0,-0.8M555.5,49.1l1.2,-0.5l1.0,-0.8l0.6,-1.1M594.1,113.0l1.3,0.1l1.2,0.5M641.2,75.4l0.5,1.2l0.2,1.3M588.1,76.3l-1.1,-0.6l-0.7,-1.1l-1.0,-0.8M536.6,110.1l1.2,-0.4l1.1,-0.8l1.2,-0.6l1.3,-0.3M657.3,138.8l-1.2,0.4l-1.2,0.4M540.3,105.2l-0.5,1.2l-0.7,1.1l-1.0,0.8M547.6,32.0l0.7,1.1l1.0,0.8l1.2,0.5M649.0,101.7l-0.1,1.3l0.1,1.3l0.4,1.2l-0.2,1.3l-0.5,1.2l-0.6,1.1M539.9,39.9l1.3,0.2l1.3,0.2M597.6,23.0l-1.0,-0.8l-1.0,-0.8l-1.1,-0.7l-0.7,-1.1l-0.2,-1.3M578.9,147.1l1.3,-0.3l1.3,-0.0l1.3,0.3M653.3,64.1l0.7,-1.1l1.1,-0.7l1.1,-0.7M555.3,132.4l-0.9,0.9l-0.9,0.9l-0.5,1.2l0.0,1.3l-0.1,1.3M529.5,132.1l-0.7,1.1l-0.0,1.3l0.3,1.3M552.1,92.4l1.2,0.5l1.3,0.1l1.3,-0.1M538.9,113.3l1.0,0.8l1.1,0.7M534.6,103.5l0.6,1.2l1.2,0.4l1.3,0.1M530.1,106.5l-0.1,-1.3l0.7,-1.1l1.2,-0.5l1.3,-0.0l1.3,-0.1M571.2,131.1l0.5,1.2l1.0,0.9l0.6,1.1l0.3,1.3l0.3,1.3M666.7,113.6l0.1,-1.3l-0.5,-1.2l-1.1,-0.7M541.6,80.8l-0.6,1.2l0.3,1.3M666.2,79.0l-1.0,-0.8l-1.3,0.1l-1.3,0.1M665.0,62.7l-1.3,0.3l-0.7,1.1l-0.2,1.3M631.0,68.8l-1.3,-0.3l-1.2,-0.5l-1.2,0.4M650.0,56.7l-0.7,-1.1l-0.7,-1.1l-1.0,-0.8l-0.8,-1.1M596.8,90.0l-1.3,-0.0l-1.3,0.1l-1.1,-0.7l-0.5,-1.2M545.7,105.0l-0.8,-1.0l-1.1,-0.6l-1.2,-0.4M562.6,111.3l0.8,-1.0l1.2,-0.6l1.0,-0.8M598.2,18.8l1.1,0.6l1.0,0.8l0.8,1.0l0.4,1.2l-0.2,1.3l-0.5,1.2M588.0,72.4l-1.1,-0.7l-1.2,-0.5l-1.1,-0.6l-1.1,-0.7M642.7,28.6l1.2,-0.5l1.3,-0.2l1.1,-0.7l0.6,-1.2M633.1,139.9l1.2,-0.6l0.9,-1.0l0.9,-1.0l0.8,-1.1l0.8,-1.0M655.5,101.9l0.4,1.2l0.2,1.3l-0.3,1.3M622.1,59.6l-1.2,-0.4l-1.3,-0.1l-1.3,0.2M549.0,120.3l-1.1,-0.7l-1.3,0.1l-1.3,-0.1M649.3,97.2l-1.1,-0.7l-1.3,0.1M622.2,38.1l-1.2,0.6l-1.1,0.7l-1.3,-0.1l-1.1,-0.7M594.6,117.7l-1.3,-0.2l-1.3,-0.1l-1.2,-0.5M570.2,147.6l1.3,0.2l1.3,-0.3l1.0,-0.8l1.3,-0.3l1.3,-0.2l0.9,-1.0M654.8,34.9l-1.2,0.6l-0.9,0.9l-0.4,1.2M563.0,134.6l-1.3,-0.2l-1.2,0.4l-0.9,0.9M541.9,76.1l-0.9,-0.9l-0.1,-1.3l0.1,-1.3M561.4,122.1l1.0,-0.8l1.2,-0.5l1.1,-0.7M552.1,96.1l-0.5,1.2l-0.5,1.2l0.4,1.2M548.7,71.2l-0.8,1.1l-0.7,1.1l-0.5,1.2l-0.4,1.3l-0.9,1.0M583.7,87.4l-0.3,-1.3l-0.6,-1.2l-0.5,-1.2l-0.5,-1.2M642.7,110.3l-0.3,-1.3l0.2,-1.3l0.9,-0.9M604.7,46.2l0.8,-1.0l0.5,-1.2l0.8,-1.0M602.3,102.9l1.2,-0.6l1.0,-0.8l0.4,-1.2l-0.0,-1.3M583.1,93.9l0.1,1.3l0.2,1.3M667.0,45.0l0.8,1.0l0.3,1.3l-0.9,0.9l-1.1,0.7l-0.9,0.9M661.5,27.2l-1.3,0.3l-1.0,0.8l-1.0,0.8l-1.3,0.0l-1.3,-0.3l-1.1,0.6M572.8,19.4l-0.6,1.2l0.0,1.3l0.1,1.3M611.1,77.2l-0.7,-1.1l-0.7,-1.1M613.8,80.9l-1.2,-0.5l-1.1,-0.6l-0.5,-1.2l0.1,-1.3M628.0,144.5l-0.0,1.3l0.4,1.3l0.4,1.2M641.4,121.1l-1.0,0.9l-1.3,0.2l-1.3,0.1M532.5,61.1l-1.3,0.3l-1.2,0.5l-1.0,0.8l-1.1,0.7M597.9,63.8l-0.7,1.1l-0.3,1.3l-0.7,1.1M631.1,45.1l1.1,-0.7l0.7,-1.1l0.4,-1.2l0.7,-1.1l0.8,-1.0l0.7,-1.1M636.6,60.6l0.2,-1.3l0.6,-1.2l1.1,-0.8M624.2,20.7l-0.9,1.0l-1.1,0.7l-1.1,0.7M611.9,60.6l1.2,0.4l1.2,-0.5l1.0,-0.8M665.7,138.6l-1.2,0.5l-1.1,0.6l-1.2,0.4M623.2,48.0l-0.2,1.3l-0.5,1.2l-1.1,0.6M560.8,80.4l1.0,-0.8l1.0,-0.8l1.0,-0.8l0.9,-0.9M559.1,98.7l-0.5,-1.2l0.4,-1.2l0.7,-1.1M651.3,59.2l-0.2,-1.3l0.3,-1.3l0.2,-1.3M653.1,99.6l0.0,-1.3l0.0,-1.3l0.2,-1.3l0.9,-1.0M649.9,130.9l-0.7,1.1l-1.1,0.7l-0.9,0.9M610.7,30.2l-1.3,0.0l-1.1,-0.8l-0.2,-1.3M555.8,30.4l-1.1,0.7l-1.0,0.8l-0.5,1.2M643.2,21.6l-0.3,-1.3l0.5,-1.2l0.7,-1.1M531.1,109.1l-0.6,1.1l0.0,1.3l-0.3,1.3M534.9,26.1l1.2,-0.4l1.3,-0.1l1.3,0.1l1.2,-0.4l1.2,-0.6M597.4,147.8l-0.9,1.0l-1.3,0.3l-1.3,-0.2M535.1,32.4l-0.9,-1.0l-0.2,-1.3l0.2,-1.3l0.5,-1.2M651.4,21.4l-1.3,0.2l-1.3,-0.3l-1.2,-0.5M539.2,125.9l1.3,-0.1l1.3,0.1M620.4,137.9l1.1,-0.7l1.2,-0.5l1.2,0.5l0.8,1.0M628.2,72.8l0.4,1.2l0.8,1.1l0.8,1.0M568.9,103.5l0.6,1.2l0.1,1.3l-0.2,1.3M575.2,66.9l-0.9,-1.0l-0.5,-1.2l0.1,-1.3M570.2,27.1l-1.3,-0.3l-1.1,-0.7M620.1,45.0l1.3,-0.1l1.3,0.0l1.2,-0.5M655.8,113.8l-0.6,-1.2l-0.1,-1.3l0.3,-1.3l0.2,-1.3M546.5,70.3l-1.2,0.4l-1.3,-0.2l-1.3,0.1M627.8,61.8l-1.3,-0.1l-1.3,0.1l-1.2,0.5M548.1,130.7l-0.2,1.3l-0.6,1.2l-0.5,1.2l-1.2,0.5M648.1,81.0l-1.2,0.5l-1.3,-0.1l-1.2,-0.5M615.3,145.5l-0.8,-1.0l-1.0,-0.8l-1.1,-0.7M613.9,53.8l-1.2,-0.5l-0.8,-1.0l-0.8,-1.0M564.1,138.9l-1.0,0.9l-0.5,1.2l0.1,1.3M530.9,121.0l-0.2,1.3l0.0,1.3l-0.7,1.1l-1.2,0.5l-1.3,-0.0l-1.3,0.0M590.5,125.8l-0.1,1.3l-0.4,1.2l-0.8,1.0M616.8,27.2l0.6,-1.2l0.9,-0.9l0.8,-1.0M561.6,103.7l-1.2,0.4l-1.0,0.8l-1.2,0.5l-1.3,-0.1M541.9,88.9l0.7,-1.1l0.8,-1.1l0.9,-1.0M529.2,19.2l0.0,-1.3l-0.3,-1.3l-1.0,-0.8M622.5,24.8l1.1,0.6l0.7,1.1l0.4,1.2M620.2,48.6l-0.6,-1.1l-0.6,-1.1l0.0,-1.3M544.4,52.8l-1.1,0.7l-1.1,0.6l-1.1,-0.7M568.0,55.9l1.2,0.6l1.3,0.1l0.9,-1.0M588.8,84.5l-1.3,0.0l-1.1,-0.6l-0.4,-1.2M594.8,74.7l-1.2,0.4l-1.3,0.2l-1.3,-0.1M617.3,95.5l-0.5,1.2l0.2,1.3l0.5,1.2l0.2,1.3M571.4,62.1l-0.7,1.1l-1.3,0.3l-1.2,-0.5M641.9,85.9l-1.3,0.1l-1.3,0.4l-1.2,0.6l-1.3,-0.1M569.3,77.3l-0.1,-1.3l-0.3,-1.3l-0.7,-1.1M602.0,69.4l-1.3,-0.3l-1.0,-0.8l-0.4,-1.2M596.5,38.7l0.7,1.1l1.2,0.5l1.2,0.4l1.0,0.8l0.5,1.2M548.0,47.0l0.4,-1.2l0.6,-1.2l0.9,-1.0M558.0,56.6l-1.2,-0.4l-1.2,-0.6l-0.9,-0.9M666.2,19.8l-1.1,-0.6l-1.3,0.1M650.3,144.3l-0.3,1.3l0.2,1.3M576.5,34.4l-1.1,0.8l-0.1,1.3l0.3,1.3M588.7,92.4l1.2,-0.6l1.3,-0.3l1.3,-0.0M599.7,97.4l1.3,0.2l1.3,-0.1l1.3,0.3M593.9,40.3l-0.4,1.3l-1.0,0.8l-1.1,0.6M529.3,51.2l-0.2,-1.3l0.6,-1.1l0.6,-1.2l0.3,-1.3M610.1,72.1l-0.9,-0.9l-1.1,-0.6l-1.2,-0.5M594.3,137.4l1.0,0.9l0.9,1.0l1.3,0.2M567.0,68.1l0.5,1.2l0.4,1.2l0.4,1.2M630.4,119.2l0.6,-1.2l0.2,-1.3l0.1,-1.3l0.2,-1.3l0.3,-1.3l-0.7,-1.1M592.4,137.9l-0.9,-0.9l-1.3,0.0l-1.1,0.7l-1.3,0.2l-1.3,-0.1M628.7,48.2l0.9,-0.9l1.1,-0.8l0.7,-1.1M602.2,131.9l-1.2,0.6l-1.3,-0.1l-1.1,-0.6M537.4,43.4l1.1,-0.6l1.2,-0.4l1.3,0.1M667.4,63.5l1.2,-0.4l1.2,-0.5l0.9,-0.9l1.1,-0.7M546.5,140.4l-1.0,0.8l-0.3,1.3l-0.4,1.2M668.3,97.6l1.3,0.2l1.1,0.7l0.3,1.3l0.1,1.3M548.9,94.4l-1.0,-0.8l-0.6,-1.2l-0.1,-1.3M549.8,141.5l1.3,0.0l1.3,-0.2l1.1,-0.6M637.2,142.6l1.2,-0.5l1.0,-0.9l1.1,-0.7M577.6,107.7l-0.6,1.2l-0.8,1.0l-0.2,1.3M649.6,94.0l1.0,0.8l1.3,0.3l1.3,-0.1M561.8,107.0l-0.9,1.0l-0.5,1.2l-0.9,0.9M550.0,124.7l1.3,-0.3l1.1,-0.7M559.3,22.5l1.0,0.8l1.1,0.6l1.0,0.8l0.1,1.3l-0.6,1.1l0.2,1.3M600.1,27.8l-1.2,0.5l-1.2,-0.6l-1.1,-0.8l-1.2,-0.4l-0.9,-0.9l-0.2,-1.3M640.3,52.1l1.2,-0.5l0.7,-1.1l0.1,-1.3l0.6,-1.2M594.1,136.5l-0.5,-1.2l-1.0,-0.8l-0.3,-1.3M615.2,23.7l-0.4,-1.3l0.2,-1.3l-0.4,-1.3M634.8,87.8l1.3,0.1l1.3,0.3l1.2,0.4M541.0,123.5l1.1,-0.7l0.8,-1.0l0.5,-1.2M592.8,120.2l0.3,-1.3l0.1,-1.3l-0.6,-1.2M577.6,83.4l-0.5,-1.2l-0.1,-1.3M637.3,147.4l-0.6,-1.2l-0.4,-1.3l0.1,-1.3M645.0,90.7l0.4,1.2l-0.4,1.2l-1.2,0.4M571.8,101.1l1.1,-0.7l1.3,-0.2l1.2,-0.4M591.4,60.4l0.7,1.1l0.6,1.1l0.9,0.9M668.0,84.3l0.8,1.0l0.3,1.3l0.6,1.2l1.1,0.7M634.8,110.1l0.8,-1.0l0.2,-1.3l-0.2,-1.3M533.4,75.1l-0.1,1.3l0.7,1.1l0.9,1.0l-0.5,1.2M628.4,95.6l-0.4,1.2l0.0,1.3l1.0,0.8l1.1,0.8l0.1,1.3l-0.5,1.2M662.4,125.1l-1.3,-0.1l-1.2,0.4l-1.2,0.4M630.7,52.7l-1.3,0.3l-1.3,-0.0l-1.3,0.3M647.0,137.6l0.5,-1.2l0.1,-1.3M655.3,85.4l-0.7,-1.1l-0.4,-1.2l0.0,-1.3M605.3,82.6l0.7,1.1l0.1,1.3l-0.6,1.2M589.6,31.1l-0.7,-1.1l-0.7,-1.1l0.1,-1.3M547.2,37.3l0.5,-1.2l1.1,-0.7l1.0,-0.8M576.4,53.4l-1.1,0.6l-1.3,0.2l-1.2,0.6M539.6,121.8l-1.3,0.1l-1.3,-0.2l-1.2,-0.5M551.5,103.0l1.3,-0.1l1.3,0.3l1.0,0.8M541.9,28.0l-0.5,-1.2l-0.9,-0.9l-0.7,-1.1M616.2,120.9l-1.2,0.6l-1.3,0.3l-1.2,0.5M605.8,88.5l-1.1,0.7l-0.4,1.2M650.4,49.8l-0.1,-1.3l0.4,-1.2l0.1,-1.3M605.7,117.7l0.9,0.9l1.3,0.3l1.3,0.3M573.0,30.1l-0.4,1.2l-0.4,1.2l-1.0,0.9M650.6,123.9l1.2,-0.6l1.3,0.2l1.2,0.6M541.7,91.7l-0.1,1.3l0.0,1.3l0.5,1.2M661.5,106.5l-0.5,1.2l0.4,1.2l0.7,1.1M555.9,129.6l-1.2,-0.5l-0.4,-1.2l0.0,-1.3M667.2,128.1l0.1,-1.3l0.3,-1.3l-0.1,-1.3M621.2,92.8l-0.2,1.3l-0.7,1.1l-0.4,1.2M637.4,118.2l-0.8,-1.0l-1.0,-0.8l-0.3,-1.3M603.4,41.4l-1.3,-0.3l-1.3,0.2l-1.2,-0.5M651.5,100.6l1.3,0.2l1.0,0.8l0.2,1.3M664.3,135.6l1.2,-0.6l1.2,-0.5l1.0,-0.9M538.5,18.9l-0.5,1.2l-0.4,1.3l0.2,1.3M662.2,97.4l-1.1,-0.6l-1.2,-0.6l-1.3,-0.3M643.8,67.1l1.0,0.8l0.2,1.3l0.5,1.2M575.5,26.0l-1.2,-0.5l-1.2,-0.5l-1.3,0.2M643.0,64.8l1.3,-0.2l1.3,0.2M554.2,72.2l-1.0,0.8l-0.3,1.3l0.0,1.3l-0.6,1.1M609.6,116.8l0.4,1.2l0.3,1.3l0.8,1.0M572.0,123.9l0.8,-1.0l1.0,-0.9l0.6,-1.1M590.5,39.2l-1.2,0.5l-1.3,0.2l-1.2,0.6M529.1,23.4l0.6,1.2l0.0,1.3l-1.1,0.7M583.9,28.1l0.2,-1.3l0.5,-1.2l0.9,-0.9M606.0,122.6l0.8,1.0l1.2,0.5l1.1,0.7M534.9,23.0l-1.3,0.3l-1.1,0.8l-0.5,1.2l-0.8,1.0M543.6,126.1l-0.9,-1.0l-1.3,-0.3l-1.2,0.4M590.4,97.3l-0.5,-1.2l-0.4,-1.2l-0.7,-1.1M626.8,35.5l-0.2,1.3l0.1,1.3l0.8,1.0M615.3,55.7l-1.3,0.0l-1.3,0.1l-1.3,0.1M563.9,128.6l-0.4,1.2l-0.0,1.3l-0.2,1.3M644.6,87.1l0.7,-1.1l1.0,-0.8l1.3,-0.3l1.3,0.0M563.8,144.8l0.6,-1.1l0.8,-1.0l0.5,-1.2M578.3,87.5l-1.3,-0.3l-1.3,-0.2l-1.3,-0.1M577.3,48.7l-0.4,1.2l0.5,1.2M572.0,29.5l0.1,-1.3l-0.8,-1.0l-0.8,-1.0M604.5,29.0l0.8,1.0l1.0,0.8M664.2,115.8l-0.6,1.2l-0.9,0.9l-1.0,0.8M627.6,89.5l1.3,0.3l1.3,0.3l1.3,0.1M638.3,36.8l0.2,1.3l-0.2,1.3l-0.8,1.0M569.2,49.4l0.9,1.0l1.0,0.8l1.2,0.5M665.8,28.2l-1.3,0.2l-1.3,-0.2l-1.2,0.4M565.9,99.5l0.9,-1.0l1.1,-0.6l0.8,-1.0M641.5,116.8l-0.3,-1.3l-0.8,-1.0l-1.3,-0.2M607.9,24.8l1.2,-0.5l1.2,-0.4M581.0,47.5l0.3,-1.3l0.7,-1.1l0.2,-1.3M642.9,56.6l0.5,-1.2l0.5,-1.2l1.1,-0.7M566.0,132.7l-0.3,-1.3l-0.9,-0.9M660.1,99.5l-0.2,-1.3l-0.6,-1.1l-0.8,-1.0M581.0,21.4l-0.2,1.3l0.1,1.3l-0.1,1.3M578.5,31.5l-1.1,-0.6l-1.0,-0.9l-0.8,-1.0l-1.2,-0.5M538.9,79.6l0.7,-1.1l0.8,-1.1l1.1,-0.6M593.5,49.4l1.1,-0.7l1.0,-0.8l1.2,-0.4l1.3,0.1l1.3,0.0M551.3,19.3l0.6,-1.1l-0.4,-1.2l-0.5,-1.2l-0.2,-1.3l0.6,-1.2M642.8,35.5l-0.1,1.3l-0.3,1.3l0.4,1.2M647.5,48.5l0.6,-1.1l0.1,-1.3l0.5,-1.2M608.4,98.6l0.5,1.2l0.6,1.1l-0.2,1.3l-1.3,0.3l-1.2,0.4l-1.1,0.8M560.7,124.7l-0.3,1.3l-0.9,0.9l-0.3,1.3M624.7,34.2l-1.3,-0.1l-1.3,-0.0M665.3,53.6l-0.6,-1.2l0.7,-1.1l1.1,-0.8M556.6,20.5l-0.0,-1.3l0.1,-1.3l0.4,-1.2l0.1,-1.3l-0.2,-1.3l-0.2,-1.3M635.5,121.3l-1.2,-0.5l-1.2,-0.4l-1.2,-0.5M617.5,136.1l1.3,0.2l1.3,-0.0l1.0,-0.9M538.7,33.0l0.8,1.0l0.6,1.2l0.3,1.3M672.4,140.8l0.7,1.1l0.6,1.2M665.3,143.3l1.3,-0.3l1.3,-0.1l1.1,-0.7l1.0,-0.9l1.2,-0.5l1.3,-0.0M549.6,75.9l0.1,-1.3l0.5,-1.2l0.3,-1.3l-0.6,-1.2M631.5,21.2l-0.8,1.0l-0.7,1.1M601.5,38.2l1.2,0.6l1.3,-0.2l0.8,-1.0l0.9,-0.9l1.3,-0.3M661.7,84.8l1.2,-0.4l1.2,-0.6l0.4,-1.2M558.8,28.7l-1.3,0.4l-1.3,-0.0l-1.3,-0.3M531.1,88.9l1.3,0.0l1.2,-0.4l1.1,-0.7M627.1,42.2l0.7,-1.1l0.3,-1.3l0.7,-1.1M623.5,39.2l0.8,1.0l0.6,1.2l0.9,1.0M553.3,52.1l1.1,0.7l1.2,0.4l1.1,0.7M650.2,136.5l-0.6,1.2l-0.9,1.0l-1.2,0.4M628.9,138.9l1.3,0.2l1.2,0.6l0.9,0.9M661.1,89.5l1.3,0.3l1.3,-0.3l1.3,-0.1M621.3,101.8l-1.2,-0.4l-1.1,-0.7l-1.3,-0.3M641.1,72.3l-1.1,0.7l-1.3,0.3l-1.1,0.8M657.1,33.9l1.1,0.6l1.3,0.0l1.3,0.0M531.6,33.3l0.8,-1.0l1.1,-0.8l1.1,-0.7M551.4,40.8l-1.3,0.3l-1.1,0.8l-1.3,0.3M631.3,122.2l-0.9,1.0l-0.9,0.9l-0.6,1.1M584.6,21.0l-0.1,-1.3l0.0,-1.3l-0.8,-1.0M637.2,21.8l0.9,1.0l0.4,1.2l-0.2,1.3M640.5,59.5l0.5,1.2l-0.1,1.3l-0.2,1.3l-0.4,1.2M642.7,143.6l-1.3,0.2l-1.3,0.2l-1.3,-0.0M651.7,52.9l-1.3,0.1l-1.2,0.5M645.4,135.4l-0.0,1.3l-0.6,1.1l-0.4,1.2M600.9,82.1l0.4,-1.2l0.7,-1.1l0.7,-1.1M636.0,95.5l0.8,-1.0l0.5,-1.2l0.7,-1.1M599.3,78.5l-0.8,-1.0l-1.2,-0.5l-1.3,-0.2M619.6,118.4l0.8,1.0l0.5,1.2l0.7,1.1M634.2,36.4l-1.2,0.4l-1.1,0.7l-0.1,1.3M549.8,147.2l1.3,-0.1l1.3,-0.0l1.3,0.3l1.1,0.7l1.2,0.4M607.5,62.6l0.9,-0.9l1.2,-0.5l1.3,0.1M619.9,113.0l0.2,1.3l0.8,1.1l0.7,1.1l0.3,1.3M558.5,147.4l0.6,-1.1l0.5,-1.2l0.9,-1.0M530.0,85.3l0.8,1.0l1.1,0.6l0.8,1.0M576.6,70.9l-1.3,-0.0l-1.3,0.1M663.7,113.0l0.9,-1.0l0.4,-1.2l0.4,-1.2M641.6,43.9l1.3,0.2l1.2,0.4M660.5,77.9l-0.9,1.0l-0.7,1.1l-0.1,1.3l-0.1,1.3l-0.7,1.1M613.5,68.1l0.3,1.3l-0.6,1.1l-0.5,1.2M531.0,73.8l0.2,1.3l-0.4,1.2l-0.8,1.0l-0.9,1.0M570.2,38.8l-1.1,0.7l-0.9,0.9l-1.2,0.4M627.6,71.8l1.2,0.6l1.3,-0.2M604.4,121.3l-0.9,0.9l-1.0,0.8l-1.0,0.8M534.7,50.3l-1.3,0.1l-1.3,-0.3l-0.4,-1.3M647.2,40.4l0.6,1.2l-0.3,1.3l-0.8,1.1M667.8,28.3l-1.3,0.1l-0.8,1.1l-0.1,1.3l-0.5,1.2M568.1,141.3l-0.6,1.1l-0.6,1.1l0.0,1.3l0.2,1.3l0.2,1.3M653.9,59.0l0.3,-1.3l0.1,-1.3l0.6,-1.1M643.7,88.9l1.2,0.5l1.1,0.8l1.3,0.3l1.3,0.3l1.3,0.2l1.3,0.2M636.5,32.4l0.5,-1.2l0.6,-1.2l1.2,-0.4M613.8,114.5l-0.4,1.2l-0.3,1.3l0.5,1.2M557.5,83.6l-0.8,-1.0l-0.8,-1.1l-1.0,-0.8M544.9,128.6l-1.3,0.0l-1.3,-0.3l-1.3,-0.1M662.8,58.1l0.7,1.1l0.3,1.3l0.2,1.3M544.2,20.5l-0.2,1.3l-0.0,1.3l-0.5,1.2M564.2,87.2l1.1,0.7l0.5,1.2l0.1,1.3l-0.3,1.3M664.0,106.3l-1.1,0.7l-0.2,1.3l-0.5,1.2M606.7,19.1l-1.3,-0.2l-1.0,-0.8l-0.8,-1.0l-0.7,-1.1l-0.7,-1.1l-0.6,-1.2M602.1,117.5l1.2,-0.6l1.3,-0.3l1.2,0.4M557.1,26.5l-0.7,-1.1l-0.4,-1.2l0.1,-1.3M592.5,128.3l0.4,-1.2l0.2,-1.3l0.6,-1.2M530.6,99.8l-0.9,0.9l-1.2,0.4l-1.3,0.3l-0.7,1.1l-0.1,1.3M590.7,84.4l-1.1,0.8l-0.8,1.0l-0.5,1.2M597.0,85.2l1.1,0.7l1.1,0.7M598.7,57.3l-0.8,1.0l-1.3,0.3M610.3,105.3l1.3,0.2l1.3,0.2l1.3,-0.1M570.4,111.4l-1.0,-0.8l-0.4,-1.2l-0.6,-1.2M637.5,62.8l-1.3,0.3l-1.3,-0.0l-1.2,-0.6M595.1,51.0l-0.2,1.3l-0.7,1.1l-1.1,0.6M664.9,86.1l-1.3,0.1l-1.3,-0.1l-1.0,-0.8M548.9,137.7l-0.9,0.9l-1.2,0.4l-1.2,0.5M591.1,114.8l1.2,0.4l1.3,0.3l1.2,0.6M552.3,131.7l1.2,0.4l1.1,-0.7M626.1,45.0l0.9,-0.9l0.9,-0.9l0.5,-1.2M604.6,128.8l-1.2,-0.5l-1.3,0.2l-1.2,0.4M623.6,143.5l-1.1,0.8l-0.3,1.3l-0.3,1.3M533.2,125.1l0.8,1.1l0.2,1.3l0.3,1.3M567.8,79.5l1.3,0.0l1.3,0.0l1.0,-0.8M645.5,75.4l1.0,-0.8l0.0,-1.3l-0.4,-1.2M591.3,24.5l-0.6,1.2l-1.1,0.6l-1.3,0.2M630.7,132.6l-1.3,-0.2l-1.3,-0.3l-1.3,0.2M549.4,129.7l1.1,0.7l1.0,0.8l1.1,0.7M577.3,66.4l0.5,1.2l0.3,1.3l0.6,1.2M606.1,53.2l1.0,-0.9l1.1,-0.7l1.3,-0.1M665.0,102.2l-1.2,-0.4l-1.3,-0.3l-1.1,-0.7M669.1,33.8l-0.9,-0.9l-0.9,-1.0l-1.0,-0.8M567.0,76.0l1.3,0.3l1.3,-0.3l1.1,-0.7M617.1,92.5l-1.2,0.6l-1.3,0.1l-1.2,-0.4M617.3,130.1l-0.5,1.2l-0.5,1.2l-1.1,0.7M553.5,59.9l0.6,1.2l0.4,1.2l0.9,0.9M657.4,92.8l0.6,1.1l0.1,1.3l-0.8,1.0M587.3,147.2l0.9,-0.9l0.4,-1.2l0.2,-1.3M634.2,19.1l0.3,1.3l0.7,1.1l0.7,1.1M610.8,45.1l-1.1,-0.7l-1.1,-0.6l-1.3,0.1M578.6,55.3l1.0,-0.9l1.2,-0.6l1.1,-0.7M603.9,85.9l-1.1,-0.7l-0.9,-0.9l-1.3,-0.3M656.7,135.4l-0.6,1.2l-0.7,1.1l-0.5,1.2M563.8,98.0l-0.2,1.3l-0.6,1.2l-0.9,1.0M620.3,20.2l-0.8,1.0l-1.0,0.9l-0.6,1.2M577.7,123.5l0.6,1.1l0.2,1.3l0.7,1.1M639.0,43.9l-1.3,-0.2l-1.1,-0.6l-0.8,-1.0M579.1,58.4l1.2,-0.6l1.3,-0.3l1.2,0.4M589.9,61.8l-1.3,0.2l-1.2,0.5l-0.9,0.9M601.6,58.6l-1.3,0.2l-1.3,0.3l-0.9,1.0M653.2,105.4l0.1,1.3l0.8,1.0l1.2,0.5M577.3,132.2l-0.6,-1.1l-0.5,-1.2l-1.1,-0.6M534.1,109.8l-0.3,-1.3l0.0,-1.3l-0.2,-1.3M571.7,58.6l-1.3,-0.3l-1.1,-0.7l-1.1,-0.7M641.0,31.1l1.3,-0.0l1.2,-0.5l0.5,-1.2M637.8,33.2l-0.9,-1.0l-1.2,-0.5l-0.9,-1.0l-0.4,-1.2l-0.9,-0.9M633.3,85.7l-0.6,1.2l-0.8,1.0l-0.4,1.2M651.5,119.0l-1.3,-0.1l-1.3,-0.3l-1.1,0.6M656.9,49.4l-0.3,1.3l-0.7,1.1l-0.1,1.3M588.8,107.8l1.2,-0.5l0.9,-1.0l0.9,-0.9M638.4,102.6l0.4,1.2l0.4,1.2l0.5,1.2M546.6,58.9l-1.3,-0.1l-1.2,-0.5l-1.2,-0.4M587.4,21.0l0.2,1.3l0.8,1.0l0.5,1.2M619.9,73.6l-1.1,0.7l-0.7,1.1l0.1,1.3M620.7,88.5l0.2,-1.3l0.9,-0.9l0.8,-1.1M657.2,116.0l-0.9,1.0l-0.1,1.3l-0.1,1.3M562.4,45.7l-0.6,-1.1l-0.5,-1.2l0.0,-1.3M667.3,67.4l-0.3,-1.3l-0.5,-1.2l-0.7,-1.1M560.1,21.6l-0.6,1.2l-0.0,1.3l-0.6,1.2M626.0,89.4l1.0,-0.8l1.3,0.1l1.3,0.1" fill="none" stroke="#fff" stroke-width="0.9" stroke-opacity="0.27" stroke-linecap="round" stroke-linejoin="round"/>
</g>
<rect x="531.1" y="20.55" width="134.4" height="123.6" fill="none" stroke="#000" stroke-width="1.5" stroke-linejoin="round"/>
<text x="662.90" y="32.55" font-size="11.4" text-anchor="end" fill="#fff">75% MA</text>
<text x="663.30" y="45.85" font-size="11.4" text-anchor="end" fill="#fff">40% Br</text>
<text x="519.80" y="29.45" font-size="17" text-anchor="start" fill="#000">d</text>
<rect x="231.15" y="160.65" width="135.2" height="123.6" fill="rgb(100,100,100)" filter="url(#sn10)"/>
<g clip-path="url(#sc10)">
<path d="M232.8,280.9l1.2,-0.7l1.2,-0.8M298.4,166.5l-1.3,0.5l-1.2,0.7l-1.1,0.9l-1.2,0.7M350.3,200.6l-0.7,1.2l-0.9,1.1M370.4,285.8l1.4,0.2l1.4,0.1M262.7,169.1l-0.7,1.2l-0.6,1.3l-0.7,1.2l-0.7,1.2l-0.4,1.3l-0.3,1.4l0.1,1.4M310.8,245.1l-1.2,-0.8l-1.1,-0.8l-0.7,-1.2l-0.3,-1.4M313.2,286.1l0.5,1.3l0.4,1.3l0.6,1.3l0.7,1.2M328.2,177.9l0.1,1.4l-0.1,1.4l-0.2,1.4l-0.6,1.3M253.1,230.2l0.1,1.4l0.0,1.4l0.2,1.4l0.1,1.4l-0.1,1.4M321.2,293.4l-1.3,0.4l-1.4,0.3l-1.4,0.0M345.8,220.6l0.2,-1.4l0.1,-1.4l-0.0,-1.4M236.9,212.0l1.1,-0.8l1.2,-0.8l1.3,-0.6M365.6,179.4l-1.2,0.8l-1.1,0.9l-1.2,0.8M356.1,160.0l1.4,0.1l1.4,-0.3l1.4,-0.2l1.4,-0.0l1.4,-0.0l1.4,0.0M311.3,281.3l-1.3,0.4l-1.3,0.5M302.9,175.3l1.0,1.0l1.0,1.0l1.1,0.9l1.2,0.7M278.5,202.6l0.6,-1.3l0.7,-1.2l0.6,-1.3l0.4,-1.3M249.2,269.2l0.6,1.2l0.6,1.3l0.6,1.3l0.6,1.3l0.5,1.3l0.5,1.3M361.5,240.6l-0.0,-1.4l-0.2,-1.4l-0.3,-1.4l-0.2,-1.4l-0.5,-1.3l-0.6,-1.3M326.7,284.1l-0.0,-1.4l-0.1,-1.4l-0.4,-1.3l-0.4,-1.3l-0.4,-1.3M352.1,213.5l-0.6,1.3l-0.8,1.2l-1.0,1.0l-1.0,1.0M280.8,293.5l0.9,-1.1l0.7,-1.2l0.6,-1.3M290.5,271.9l-1.4,0.1l-1.4,0.1l-1.4,0.1l-1.4,0.3l-1.3,0.4l-1.3,0.4M275.1,268.7l-0.6,1.2l-0.6,1.2l-0.6,1.3M294.8,190.2l-1.0,-1.0l-1.2,-0.7l-1.2,-0.7l-1.1,-0.8l-0.9,-1.1M231.7,250.2l1.3,0.6l1.2,0.7M310.1,161.2l-1.4,0.2l-1.4,0.3l-1.3,0.5M248.8,173.5l-1.4,0.2l-1.4,0.1l-1.4,0.0l-1.4,-0.3l-1.3,-0.5l-1.3,-0.4M274.8,207.4l1.3,-0.6l1.2,-0.7l1.2,-0.6M318.0,210.6l-0.5,-1.3l-0.6,-1.2l-0.7,-1.2l-0.7,-1.2M365.6,249.9l-0.5,-1.3l-0.5,-1.3l-0.4,-1.3l-0.1,-1.4M359.3,201.9l0.7,-1.2l0.6,-1.2l0.5,-1.3l0.5,-1.3l0.4,-1.4l0.2,-1.4M233.5,246.3l1.4,0.0l1.4,0.1M329.5,250.8l0.2,1.4l0.0,1.4M292.2,237.1l-1.2,0.8l-1.2,0.7l-1.3,0.6l-1.1,0.8l-0.9,1.1M273.3,257.2l1.2,-0.6l1.2,-0.7M291.2,211.8l-1.2,0.7l-1.2,0.7l-1.2,0.7M331.1,227.5l1.4,-0.2l1.3,-0.4l1.2,-0.7l0.9,-1.1l0.5,-1.3l0.5,-1.3M366.4,193.4l-1.3,-0.4l-1.3,-0.5l-1.1,-0.8M321.7,176.6l-1.4,-0.1l-1.4,-0.0l-1.4,-0.1l-1.4,-0.1l-1.4,-0.0M316.2,161.4l1.3,0.4l1.4,0.2M335.7,237.9l-1.3,0.6l-1.4,0.1M352.5,225.1l0.4,-1.3l0.7,-1.2l0.9,-1.1M276.7,238.6l0.5,-1.3l0.5,-1.3l0.7,-1.2M336.3,166.5l0.9,-1.1l1.1,-0.9M373.1,228.6l-0.6,1.3l-0.2,1.4l-0.0,1.4M276.1,215.0l-0.8,-1.1l-1.0,-1.0l-0.9,-1.1l-0.9,-1.1M323.0,262.7l-1.1,0.9l-1.1,0.9l-1.0,1.0l-0.8,1.2M291.0,230.3l-1.4,0.0l-1.4,-0.0l-1.4,-0.2l-1.4,-0.1M357.8,205.9l-0.1,1.4l0.1,1.4l0.2,1.4l0.5,1.3l0.7,1.2M348.8,176.3l-1.4,-0.0l-1.3,-0.5M247.6,248.9l-0.5,1.3l-0.5,1.3l-0.5,1.3l-0.6,1.3M257.1,237.4l0.2,-1.4l0.1,-1.4l-0.1,-1.4l-0.1,-1.4l-0.0,-1.4M255.2,196.8l-1.2,-0.6l-1.3,-0.6M349.0,234.9l1.3,-0.5l1.3,-0.6l1.1,-0.9M342.4,290.2l0.6,-1.2l0.5,-1.3l0.4,-1.3l0.2,-1.4M287.8,161.2l0.8,-1.2l1.0,-1.0l1.2,-0.7l1.4,-0.3l1.4,-0.1M234.5,201.1l-0.9,1.1l-0.8,1.1l-0.9,1.1l-1.1,0.8l-1.2,0.8l-1.2,0.7l-1.3,0.6M250.8,163.8l-0.7,1.2l-0.7,1.2l-0.5,1.3M237.3,176.4l-0.3,-1.4l-0.5,-1.3l-0.6,-1.2M353.8,284.8l0.5,-1.3l0.2,-1.4l0.4,-1.3l0.8,-1.1M338.3,245.9l-1.4,-0.2l-1.4,-0.1l-1.4,0.1l-1.4,0.2l-1.4,0.0l-1.4,0.2M306.3,274.6l1.0,-1.0l0.8,-1.1l0.8,-1.2l0.7,-1.2l0.6,-1.3l0.5,-1.3M258.7,240.8l-0.8,-1.1l-0.6,-1.3l-0.4,-1.4M373.0,164.3l-1.3,0.6l-1.2,0.7l-1.3,0.6l-1.3,0.4l-1.3,0.4l-1.4,0.3M368.0,236.9l-1.3,0.5l-1.3,0.5l-1.3,0.5M261.2,281.8l1.4,0.3l1.4,0.3l1.4,0.2l1.4,0.1l1.4,-0.2l1.3,-0.4M286.9,279.5l1.4,-0.2l1.4,0.3M256.0,188.9l1.4,0.2l1.4,0.0l1.4,-0.1M284.1,252.9l-0.6,1.3l-0.4,1.4l-0.6,1.3l-0.6,1.3l-0.7,1.2l-0.6,1.2M236.7,181.1l0.8,-1.1l0.7,-1.2l0.4,-1.3M346.2,252.6l0.0,1.4l-0.0,1.4l-0.0,1.4l0.1,1.4M320.1,200.7l1.4,-0.1l1.4,0.2l1.3,0.5l1.1,0.9l0.9,1.1M269.4,288.3l0.5,-1.3l0.5,-1.3l0.3,-1.4M311.8,223.3l-0.5,1.3l-0.5,1.3l-0.3,1.4M283.3,188.5l1.1,0.8l1.0,1.0l1.0,1.0M343.0,223.9l-0.4,1.3l-0.1,1.4l0.0,1.4l0.3,1.4l0.5,1.3M293.2,257.0l-1.0,-0.9l-0.9,-1.1l-0.6,-1.2l-0.2,-1.4l0.1,-1.4l0.2,-1.4M286.6,291.0l-0.7,1.2l-0.8,1.2l-0.7,1.2l-0.6,1.3l-0.7,1.2l-0.7,1.2M334.9,286.1l0.1,1.4l-0.0,1.4l0.1,1.4l0.1,1.4l-0.2,1.4l-0.3,1.4M319.2,272.1l-1.4,-0.1l-1.4,-0.3l-1.3,-0.5M366.6,258.0l-0.3,-1.4l-0.3,-1.4l-0.2,-1.4M295.2,262.1l-1.0,1.0l-0.9,1.1l-0.6,1.3l-0.8,1.2l-1.0,0.9M255.3,207.4l-1.1,0.9l-1.0,1.0l-1.1,0.9l-1.1,0.9l-1.0,1.0M331.6,189.8l1.4,0.1l1.4,-0.2l1.4,-0.3l1.2,-0.8l1.1,-0.8l1.1,-0.9l1.3,-0.6M258.6,262.8l-0.7,-1.2l-0.7,-1.2l-0.7,-1.2l-0.9,-1.1l-1.0,-1.0l-0.8,-1.1M337.7,235.5l1.4,-0.3l1.4,-0.2M359.1,270.7l1.2,-0.7l1.3,-0.6l1.2,-0.7l1.1,-0.8l1.0,-1.0M233.1,221.9l1.3,0.5l1.1,0.9M328.5,261.2l0.9,-1.1l0.9,-1.1l0.7,-1.2M292.1,244.9l0.8,-1.1l1.0,-0.9l1.0,-1.0l0.9,-1.1M266.9,224.8l-0.6,-1.3l-0.6,-1.3l-0.5,-1.3M353.4,208.7l-1.2,0.6l-1.2,0.7M232.0,272.5l-1.4,0.1l-1.4,-0.1l-1.4,-0.1M324.0,230.4l1.4,0.2l1.4,0.1l1.4,0.0M346.7,163.5l0.3,-1.4l-0.1,-1.4l-0.6,-1.3l-0.8,-1.1l-1.0,-1.0M356.4,263.0l0.5,1.3l0.4,1.3l0.5,1.3M258.9,224.3l-1.4,-0.3l-1.3,-0.6l-1.2,-0.8l-1.1,-0.9l-1.1,-0.9l-1.2,-0.6M295.2,176.1l-0.9,1.1l-1.0,0.9l-1.2,0.7M352.6,260.4l1.4,-0.1l1.4,-0.1l1.4,0.1l1.4,0.3M299.5,243.7l-1.2,0.8l-1.2,0.7l-1.3,0.6M266.8,269.0l1.0,-1.0l1.0,-1.0l0.9,-1.0M238.8,158.8l0.5,-1.3l0.4,-1.3l0.7,-1.2l0.7,-1.2l0.8,-1.1l1.0,-1.0M343.8,250.6l-0.1,1.4l-0.2,1.4l-0.4,1.3l-0.4,1.3l-0.2,1.4l-0.0,1.4M327.5,164.4l0.2,-1.4l-0.1,-1.4l-0.4,-1.4l-0.6,-1.3M294.0,195.8l0.0,-1.4l-0.2,-1.4l-0.2,-1.4M317.4,180.7l0.6,1.3l0.6,1.3l0.8,1.2M329.9,174.5l-1.4,0.1l-1.4,0.1l-1.4,-0.1l-1.4,-0.3M269.3,176.1l-0.5,1.3l-0.4,1.3M302.2,217.1l-1.2,-0.7l-1.3,-0.5l-1.4,-0.3l-1.4,-0.1l-1.4,-0.0M238.1,187.9l1.0,-1.0l1.1,-0.9l1.3,-0.6l1.3,-0.5l1.3,-0.6l1.3,-0.6M371.8,205.7l1.4,-0.4l1.3,-0.6l1.1,-0.8M337.5,159.9l-1.2,0.8l-1.3,0.4M357.9,174.8l0.9,1.1l0.8,1.2l0.6,1.3M351.1,275.0l0.4,-1.3l0.4,-1.3l0.6,-1.3M315.5,237.2l1.2,0.7l1.3,0.4l1.4,0.3M305.9,186.4l0.8,-1.1l0.6,-1.3l0.6,-1.3M347.4,192.9l0.2,-1.4l0.2,-1.4M246.8,225.5l-1.4,-0.1l-1.4,0.2l-1.3,0.4l-1.2,0.8l-0.9,1.1l-0.7,1.2M354.0,242.0l1.4,-0.2l1.4,-0.1l1.4,-0.1M336.7,202.1l-1.4,0.3l-1.4,0.3l-1.3,0.5l-1.2,0.6M273.5,220.0l-0.2,1.4l-0.2,1.4M344.2,265.3l1.3,0.5l1.2,0.7l1.1,0.8M232.7,285.8l-0.4,1.4l-0.4,1.4M298.6,221.2l-1.4,-0.3l-1.4,-0.3l-1.4,-0.3l-1.4,-0.2l-1.3,-0.5M242.3,193.1l0.2,1.4l0.1,1.4l-0.1,1.4l-0.1,1.4M306.1,207.7l0.8,-1.1l0.9,-1.0l0.9,-1.1l0.9,-1.0l1.1,-0.9M302.1,260.8l-1.2,-0.6l-1.1,-0.9l-0.8,-1.2l-0.4,-1.3l-0.4,-1.4l-0.2,-1.4M243.9,215.4l0.5,-1.3l0.8,-1.1l0.8,-1.1M333.3,269.2l1.4,-0.2l1.4,0.1l1.4,0.0l1.4,0.2l1.4,0.1M372.6,272.7l-1.4,-0.2l-1.4,-0.2l-1.4,-0.1l-1.4,-0.2M301.8,291.8l1.2,-0.7l1.2,-0.8l1.1,-0.8M256.6,286.5l1.3,-0.5l1.3,-0.5l1.3,-0.4M316.7,190.1l-1.3,0.6l-1.3,0.4l-1.4,0.1l-1.4,0.2l-1.4,0.1l-1.4,0.0M321.2,213.0l0.6,1.3l0.4,1.4l0.2,1.4l0.1,1.4l0.2,1.4M233.5,239.5l-0.9,1.1l-0.8,1.2M296.3,206.9l1.2,0.7l1.3,0.5l1.3,0.6l1.3,0.5l1.4,0.3M340.7,210.2l-0.3,-1.4l-0.4,-1.4l-0.3,-1.4l-0.5,-1.3l-0.4,-1.4M268.1,244.7l-1.1,-0.8l-1.2,-0.7M317.6,253.6l1.3,0.5l1.4,0.3l1.3,0.5l1.3,0.6l1.2,0.7M361.8,219.1l1.4,-0.1l1.4,0.0l1.3,0.4M283.0,169.7l0.6,1.3l0.2,1.4l-0.2,1.4l-0.2,1.4l-0.1,1.4M326.6,208.6l-1.1,-0.8l-1.2,-0.7l-1.3,-0.5M296.6,281.9l0.2,1.4l0.2,1.4l0.1,1.4l-0.3,1.4l-0.2,1.4M273.5,236.1l0.3,-1.4l0.3,-1.4l0.3,-1.4l0.4,-1.3l0.6,-1.3M276.5,185.4l1.3,0.5l1.3,0.4l1.2,0.7M373.0,279.3l-0.4,-1.4l-0.2,-1.4l-0.1,-1.4M295.3,225.7l-0.1,1.4l-0.2,1.4l-0.1,1.4l-0.1,1.4l-0.0,1.4l0.1,1.4M244.2,267.8l-1.1,-0.9l-1.2,-0.8l-1.3,-0.5l-1.3,-0.4l-1.3,-0.4l-1.3,-0.5M262.4,272.5l-0.2,1.4l-0.3,1.4l-0.5,1.3M259.9,195.4l0.3,1.4l0.3,1.4l0.2,1.4l0.2,1.4M337.6,195.8l1.3,0.4l1.4,0.3l1.4,0.1M261.3,253.8l-0.5,-1.3l-0.8,-1.2l-1.0,-1.0l-1.2,-0.8M264.5,209.5l-1.3,-0.5l-1.4,-0.3M368.8,217.6l1.0,-1.0l0.8,-1.1l0.8,-1.1l0.8,-1.1l0.7,-1.2M229.7,164.6l-0.3,-1.4l-0.3,-1.4M303.2,201.5l1.4,0.1l1.4,-0.1l1.4,-0.1M265.2,197.8l0.6,-1.3l0.4,-1.3l0.1,-1.4l-0.2,-1.4l-0.3,-1.4l-0.3,-1.4M346.5,182.4l-1.4,-0.1l-1.4,-0.3l-1.3,-0.4l-1.3,-0.5l-1.4,-0.3l-1.4,-0.2M247.0,293.0l-1.4,0.2l-1.4,0.1M320.0,250.1l-1.1,-0.9l-0.9,-1.1l-0.7,-1.2l-0.7,-1.2l-0.8,-1.1l-0.7,-1.2M332.1,218.4l0.7,-1.2l0.6,-1.2M281.3,165.8l-1.3,-0.6l-1.3,-0.6l-1.4,-0.3l-1.4,0.0l-1.4,0.1M278.7,224.2l1.2,-0.7l1.3,-0.5l1.3,-0.6M267.6,161.3l0.7,-1.2l0.6,-1.3l0.4,-1.3l0.3,-1.4l0.3,-1.4l0.5,-1.3M290.6,198.8l1.1,0.8l1.3,0.6l1.4,0.3l1.4,0.1l1.4,-0.2l1.4,-0.1l1.4,-0.2M277.3,283.8l-0.1,1.4l-0.1,1.4l0.2,1.4l0.4,1.3l0.5,1.3M283.0,239.9l1.3,-0.4l1.3,-0.4l1.4,-0.2M297.5,185.4l1.2,0.7l1.2,0.7M237.1,258.1l0.3,-1.4l0.6,-1.3l0.6,-1.3l0.7,-1.2l0.9,-1.1M304.4,237.2l1.3,-0.5l1.3,-0.5l1.3,-0.4l1.4,-0.3l1.3,-0.6l1.3,-0.5M252.1,184.7l-0.2,1.4l-0.1,1.4l0.0,1.4l-0.2,1.4M256.8,163.6l1.4,0.2l1.4,0.3l1.4,0.3l1.3,0.6M292.4,290.2l1.3,-0.4l1.3,-0.5l1.4,-0.2M301.2,222.8l1.3,-0.6l1.3,-0.5l1.4,-0.3M355.9,191.9l0.1,-1.4l-0.3,-1.4M248.6,287.5l1.1,-0.9l1.1,-0.9l1.3,-0.6M315.5,214.2l-1.1,-0.8l-1.1,-0.8l-1.2,-0.7l-1.4,-0.2l-1.4,-0.1l-1.4,-0.1M246.7,279.1l0.0,1.4l0.2,1.4M250.4,258.6l-1.0,-0.9l-1.1,-0.9" fill="none" stroke="#fff" stroke-width="0.5" stroke-opacity="0.15" stroke-linecap="round" stroke-linejoin="round"/>
</g>
<rect x="231.15" y="160.65" width="135.2" height="123.6" fill="none" stroke="#000" stroke-width="1.5" stroke-linejoin="round"/>
<text x="363.75" y="172.65" font-size="11.4" text-anchor="end" fill="#fff">25% MA</text>
<text x="364.15" y="185.95" font-size="11.4" text-anchor="end" fill="#fff">60% Br</text>
<text x="219.85" y="168.45" font-size="17" text-anchor="start" fill="#000">e</text>
<rect x="381.15" y="160.65" width="135.2" height="123.6" fill="rgb(98,98,98)" filter="url(#sn11)"/>
<g clip-path="url(#sc11)">
<path d="M522.5,183.8l-0.5,-1.4l-0.3,-1.5l0.4,-1.5l0.4,-1.5l0.1,-1.5l-0.8,-1.3l-1.1,-1.0M511.0,199.6l1.0,-1.2l1.0,-1.1l0.6,-1.4l0.1,-1.5l0.2,-1.5l0.8,-1.3l1.4,-0.6l1.4,-0.4l1.1,-1.0l0.4,-1.4l0.3,-1.5l0.7,-1.3l1.2,-0.9l1.2,-0.9l0.8,-1.3M397.7,206.0l-1.5,0.3l-1.5,-0.0l-1.3,-0.8l-0.9,-1.2l-0.9,-1.2l-1.3,-0.8l-1.4,-0.5l-1.3,-0.7l-0.7,-1.3l-0.1,-1.5M399.6,212.8l0.4,-1.4l0.0,-1.5l-0.8,-1.3l-1.0,-1.1l-0.6,-1.4M516.6,247.9l1.4,-0.5l1.5,0.0l1.3,0.7l1.2,0.9l1.5,0.3l1.5,-0.4l1.4,-0.6l1.5,-0.3l1.4,0.4M501.6,238.6l1.3,0.7l1.5,0.1l1.5,-0.1l1.4,0.5l1.1,1.0l1.1,1.0l1.4,0.4l1.5,-0.0l1.5,0.4l1.0,1.1l0.4,1.4l0.4,1.5l0.9,1.2M485.5,245.0l-1.0,1.1l-1.5,0.1l-1.2,-0.9l-1.2,-0.9l-1.5,-0.2l-1.5,0.4l-1.5,0.3l-1.4,-0.5l-0.8,-1.2M493.2,256.6l-0.7,-1.3l-0.7,-1.3l-1.0,-1.1l-1.3,-0.7l-1.2,-0.9l-0.5,-1.4l0.1,-1.5l-0.2,-1.5l-0.9,-1.2l-1.4,-0.6l-1.4,-0.6M513.4,238.4l-0.4,1.4l-0.9,1.2l-0.8,1.3M412.2,250.3l-1.1,-1.0l-0.6,-1.4l-0.1,-1.5l-0.3,-1.5l-0.7,-1.3l-1.0,-1.1M417.8,259.9l0.0,-1.5l-0.6,-1.4l-1.0,-1.1l-0.7,-1.3l-0.4,-1.5l-0.4,-1.4l-1.1,-1.0l-1.5,-0.4M460.7,180.8l-1.5,0.2l-1.4,-0.6l-1.1,-1.0l-1.4,-0.6l-1.5,0.2l-1.5,0.3l-1.5,-0.2l-1.0,-1.1l-0.5,-1.4l-0.8,-1.2l-1.4,-0.6l-1.5,-0.1l-1.5,-0.2l-1.3,-0.8l-0.8,-1.3l-0.7,-1.3l-1.1,-1.0l-1.2,-0.9l-0.9,-1.2l-0.2,-1.5M448.4,166.9l-1.2,1.0l-1.5,0.4l-1.5,-0.3l-1.4,-0.5M409.9,193.5l0.1,1.5l0.8,1.3l0.9,1.2l0.5,1.4l-0.2,1.5l-0.3,1.5l0.5,1.4l1.2,0.9M405.7,184.5l1.0,1.1l1.0,1.1l0.6,1.4l0.0,1.5l-0.0,1.5l0.5,1.4l1.0,1.1M451.3,187.8l0.6,1.4l0.9,1.2l1.4,0.6l1.5,0.1l1.5,0.3l1.2,0.8l0.9,1.2l1.2,0.9l1.4,0.4l1.5,-0.4l1.5,-0.2l1.4,0.5l1.3,0.7l1.5,-0.0l1.0,-1.1l0.7,-1.3l0.8,-1.3M412.3,263.3l0.1,1.5l0.6,1.4l1.1,1.1l1.2,0.9l0.9,1.2l0.3,1.5l0.3,1.5l0.8,1.3l1.3,0.7l1.4,0.6l0.9,1.2l0.1,1.5l-0.0,1.5l0.4,1.4l1.0,1.1M492.9,205.0l1.5,0.1l1.5,-0.3l1.0,-1.1l0.6,-1.4l0.9,-1.2l1.4,-0.6l1.5,-0.3M481.8,206.7l1.5,0.1l1.5,0.2l1.5,-0.3l1.2,-0.9l1.1,-1.0l1.4,-0.5l1.5,0.3l1.4,0.5M486.6,178.5l1.4,0.5l1.4,0.6l1.5,-0.1l1.3,-0.7l1.2,-0.9l1.4,-0.6M480.3,179.7l1.5,0.2l1.4,0.5l1.5,0.2l1.3,-0.8l0.6,-1.4M392.2,170.4l-1.3,0.7l-1.4,0.6l-1.5,0.2l-1.4,-0.4l-1.5,-0.3l-1.4,0.5l-1.0,1.1l-1.3,0.8l-1.5,0.0l-1.3,-0.7l-1.3,-0.8l-1.5,-0.2M395.4,276.8l1.5,0.1l1.5,0.1l1.4,-0.5l1.1,-1.1l1.0,-1.1l1.3,-0.7l1.4,-0.4l1.4,-0.4l1.2,-1.0l0.5,-1.4l0.4,-1.4l1.1,-1.0M390.1,275.6l1.4,-0.6l1.5,0.1l1.2,0.9l1.2,0.9M487.1,263.5l-0.0,1.5l0.5,1.4l0.4,1.5l-0.3,1.5l-0.7,1.3l-0.7,1.3M492.4,265.4l-1.1,-1.0l-1.2,-1.0l-1.5,-0.4l-1.5,0.4M496.0,187.9l0.5,-1.4l1.1,-1.0l1.4,-0.4l1.5,-0.3l1.3,-0.8l0.9,-1.2l0.8,-1.2l1.1,-1.0l1.4,-0.6l1.4,-0.6l0.9,-1.2l0.1,-1.5l0.2,-1.5l0.7,-1.3l1.1,-1.0l0.9,-1.2l0.3,-1.5l-0.4,-1.5l-0.3,-1.5l0.2,-1.5M442.5,225.2l1.1,1.0l1.4,0.6l1.3,0.8l0.8,1.3l-0.0,1.5l-0.3,1.5l0.5,1.4l0.8,1.3l0.5,1.4l-0.3,1.5l-0.9,1.2l-0.9,1.2l-0.2,1.5l0.5,1.4M433.8,220.9l1.5,0.2l1.2,0.8l0.8,1.3l0.8,1.2l1.3,0.7l1.5,0.0l1.5,-0.1M407.6,149.9l1.3,0.7l1.4,0.5l1.4,-0.5l1.0,-1.1l0.9,-1.2l1.2,-0.9l1.4,-0.4l1.4,-0.6M412.2,141.1l-0.4,-1.4l-1.1,-1.0l-1.2,-0.9l-0.9,-1.2l-0.3,-1.5l-0.1,-1.5l-0.6,-1.4l-1.2,-0.9l-1.3,-0.8l-0.9,-1.2l-0.3,-1.5l0.0,-1.5M394.2,162.7l1.1,-1.1l0.7,-1.3l0.3,-1.5l0.6,-1.4l1.2,-0.9l1.4,-0.5l1.4,-0.5l1.2,-0.9l0.7,-1.3l0.8,-1.3l1.2,-0.8l1.4,-0.4l1.3,-0.8l0.8,-1.3l0.1,-1.5l0.2,-1.5l1.0,-1.1l1.2,-0.9l1.0,-1.1l0.4,-1.4M434.9,251.3l1.5,-0.2l1.5,-0.4l1.5,0.3l1.2,0.8l1.2,1.0l1.4,0.5l1.5,-0.3l1.5,-0.4l1.5,0.1l1.3,0.8l1.4,0.6l1.5,-0.0M428.7,248.4l1.4,0.5l1.5,-0.1l1.5,0.2l1.1,1.0l0.7,1.4M464.7,304.3l-0.5,1.4l-1.1,1.0l-1.5,0.0l-1.5,-0.3l-1.5,0.2l-1.2,0.9l-0.8,1.3l-1.0,1.1l-1.4,0.5l-1.5,0.2l-1.4,0.6M467.2,286.4l-0.1,1.5l-0.8,1.3l-0.9,1.2l-0.3,1.5l0.3,1.5l0.2,1.5l-0.4,1.4l-0.9,1.2l-0.8,1.2l-0.2,1.5l0.6,1.4l0.7,1.3l0.1,1.5M364.0,170.7l-1.2,0.9l-1.4,0.6l-1.1,1.0l-0.4,1.5l0.2,1.5l-0.1,1.5l-1.1,1.1l-1.4,0.5l-1.4,0.6l-1.0,1.1M387.1,179.9l-1.3,-0.7l-1.2,-0.9l-1.3,-0.7l-1.5,-0.2l-1.5,0.3l-1.4,0.5l-1.5,-0.3l-1.0,-1.1l-0.9,-1.2l-1.4,-0.6l-1.5,-0.1l-1.5,-0.2l-1.3,-0.8l-0.8,-1.3l-0.7,-1.3l-1.3,-0.7l-1.5,0.0l-1.5,-0.0M434.0,191.7l1.5,-0.2l1.5,-0.3l1.5,0.1l1.4,0.5l1.4,0.6l1.5,0.0l1.4,-0.6l1.3,-0.8l1.5,-0.2l1.3,0.7M426.0,194.1l1.5,-0.3l1.5,0.1l1.5,0.2l1.4,-0.5l1.1,-1.0l1.1,-1.0M443.4,286.9l-0.1,1.5l-0.8,1.3l-0.8,1.3l0.0,1.5l0.8,1.2l0.5,1.4l-0.4,1.4l-1.1,1.0l-1.3,0.8l-0.8,1.3M436.8,286.3l1.5,-0.4l1.4,-0.4l1.4,0.5M505.4,248.7l-0.9,-1.2l-0.5,-1.4l0.4,-1.4l0.9,-1.2M365.8,224.6l-0.5,-1.4l0.3,-1.5l0.7,-1.3l0.2,-1.5l-0.4,-1.4l-0.6,-1.4l0.2,-1.5M382.1,225.3l-1.4,0.6l-1.5,-0.3l-1.4,-0.6l-1.5,-0.0l-1.2,0.9l-1.1,1.0l-1.4,0.5l-1.4,-0.5l-1.2,-0.9l-1.3,-0.8l-1.4,-0.4l-1.5,-0.2M506.3,165.4l1.5,-0.3l1.3,-0.7l1.5,-0.3M501.0,173.4l1.3,-0.8l0.9,-1.2l0.2,-1.5l-0.1,-1.5l0.6,-1.4l1.2,-0.9l1.3,-0.7M421.4,286.9l-1.5,-0.2l-1.4,-0.4l-1.2,-0.9l-0.7,-1.3l-0.7,-1.3l-1.3,-0.8l-1.5,-0.2l-1.5,-0.2l-1.0,-1.1l-0.4,-1.4l-0.3,-1.5l-0.7,-1.3M461.0,284.5l-0.0,-1.5l-0.9,-1.2l-0.8,-1.3l-0.1,-1.5M449.8,285.3l1.3,-0.8l1.3,-0.7l1.5,-0.1l1.4,0.5l1.3,0.7l1.5,0.3l1.5,-0.3l1.4,-0.4M508.1,278.0l-1.4,-0.4l-1.4,-0.6l-1.0,-1.1l-0.8,-1.3l-1.0,-1.1l-1.3,-0.7l-1.3,-0.7l-1.1,-1.0l-0.3,-1.5l0.2,-1.5l0.1,-1.5l-0.7,-1.3l-1.0,-1.1l-0.9,-1.2l-0.4,-1.4l-0.2,-1.5l-0.6,-1.4M465.9,192.3l-1.2,0.8l-1.4,0.5l-1.5,-0.3M391.4,267.9l-1.5,-0.1l-1.4,-0.5l-1.5,-0.2l-1.4,0.6l-0.9,1.2l-1.0,1.1l-1.4,0.6l-1.5,0.2l-1.4,0.5l-1.1,1.1l-0.7,1.3M497.7,254.9l-1.5,-0.1l-1.4,0.6l-1.4,0.4M424.1,240.2l1.5,0.3l1.5,-0.2l1.5,0.0l1.4,0.6l1.2,1.0l1.3,0.8l1.4,0.4l1.5,0.1l1.4,0.4l1.0,1.1l0.4,1.4l0.6,1.4l1.1,1.0M396.7,178.9l-1.4,-0.7l-1.5,-0.3l-1.3,-0.7l-0.8,-1.2l-0.4,-1.4M406.2,197.9l-0.0,1.5l0.4,1.5l0.6,1.4l0.4,1.4l0.1,1.5l-0.3,1.5l-0.3,1.5l0.1,1.5l0.8,1.2M479.2,252.6l0.8,-1.2l1.3,-0.8l1.5,-0.3l1.5,-0.3l1.3,-0.8M480.9,164.8l1.4,-0.6l1.3,-0.8l0.7,-1.3l0.1,-1.5M477.0,159.2l0.9,1.2l0.1,1.5l0.3,1.5l1.1,1.0l1.5,0.4M512.5,208.1l1.2,-0.9l1.2,-0.9l1.5,-0.2l1.2,0.8l1.1,1.0l1.4,0.5l1.5,-0.3l1.4,-0.4l1.5,0.3M460.9,161.8l1.2,-0.9l1.3,-0.7l1.0,-1.2l0.5,-1.4l0.4,-1.4M456.1,164.8l1.1,-1.0l0.9,-1.2l1.3,-0.8l1.5,-0.0M446.5,264.4l-1.4,0.6l-1.2,0.9l-0.7,1.3l-0.4,1.4l-0.8,1.3l-1.3,0.8l-1.4,0.5l-1.0,1.1M440.5,258.6l1.1,1.0l1.4,0.5l1.4,0.4l1.1,1.0l0.5,1.4l0.5,1.4M446.5,256.6l0.4,1.4l-0.3,1.5l-0.6,1.4M505.9,168.6l1.4,-0.6l1.5,-0.1l1.3,0.7M471.6,223.6l1.5,-0.2l1.2,-0.9l0.9,-1.2l0.6,-1.4l0.9,-1.2M472.3,234.8l-0.2,-1.5l-0.4,-1.4l-0.8,-1.3l-0.7,-1.3l-0.0,-1.5l0.6,-1.4l0.7,-1.3l0.2,-1.5l-0.6,-1.4l-0.9,-1.2l-0.5,-1.4l-0.1,-1.5M398.4,201.6l-0.1,-1.5l0.8,-1.3l1.0,-1.1l0.7,-1.3l-0.2,-1.5l-0.6,-1.4l-0.3,-1.5l0.2,-1.5l0.2,-1.5l-0.6,-1.4l-1.3,-0.7l-1.5,-0.4M394.1,236.1l1.4,-0.6l1.0,-1.1l0.4,-1.5l-0.3,-1.5l0.1,-1.5l0.7,-1.3l1.0,-1.2l0.5,-1.4l-0.3,-1.5l-0.8,-1.3l-0.7,-1.3l-0.0,-1.5l0.0,-1.5l-0.7,-1.3l-1.4,-0.6l-1.4,-0.4l-1.2,-0.9M404.7,230.2l1.5,0.1l1.4,0.4l1.0,1.1l0.7,1.3l1.0,1.2l1.4,0.6l1.5,0.3l1.3,0.7l0.8,1.3l0.3,1.5M409.9,218.4l-1.1,1.0l-0.7,1.4l-0.1,1.5l0.1,1.5l-0.4,1.4l-0.9,1.2l-1.1,1.0l-0.8,1.2l-0.2,1.5M446.8,213.9l0.3,1.5l0.1,1.5l0.6,1.4l1.0,1.1l1.0,1.1l0.4,1.4l-0.1,1.5l-0.3,1.5M458.2,201.7l-1.1,1.0l-0.9,1.2l-1.1,1.1l-1.4,0.4l-1.5,0.1l-1.3,0.7l-0.7,1.4l-0.1,1.5l-0.4,1.4l-0.8,1.3l-1.2,0.9l-1.0,1.1M488.2,162.8l1.3,0.7l0.8,1.2l0.8,1.3l1.3,0.8l1.5,0.2l1.5,0.3l1.1,1.0l0.5,1.4l0.7,1.3l1.2,0.9M440.2,227.9l-1.4,0.4l-0.9,1.2l-0.2,1.5l-0.4,1.5l-0.9,1.2l-1.3,0.8l-1.2,0.9l-0.8,1.3l-0.4,1.4M496.4,243.7l0.2,-1.5l0.1,-1.5l-0.5,-1.4l-1.2,-0.9l-1.5,-0.4l-1.4,-0.5l-1.1,-1.1M492.4,249.5l0.1,-1.5l0.8,-1.3l1.2,-0.8l1.1,-1.0l0.7,-1.3M393.1,195.9l1.4,0.5l1.4,0.6l1.5,0.2M442.6,283.5l-1.5,0.3l-1.5,-0.1l-1.5,0.2M480.5,240.3l1.3,0.7l1.4,0.5l1.5,-0.2l1.4,-0.6l1.5,-0.4M478.3,225.0l0.8,1.3l0.0,1.5l-0.4,1.4l-0.1,1.5l0.6,1.4l0.7,1.3l0.2,1.5l-0.5,1.4l-0.4,1.4l0.3,1.5l1.0,1.1M455.7,249.7l-1.1,-1.0l-1.4,-0.7M457.6,259.0l0.5,-1.4l0.6,-1.4l0.2,-1.5l-0.7,-1.3l-1.1,-1.1l-0.9,-1.2l-0.4,-1.5M479.6,214.1l-0.5,-1.4l-0.9,-1.2l-1.4,-0.6l-1.5,-0.3l-1.2,-0.9l-0.5,-1.4l-0.4,-1.5l-0.8,-1.3l-1.1,-1.0l-1.2,-0.9l-0.8,-1.3l0.0,-1.5l0.3,-1.5l-0.2,-1.5M485.1,287.0l1.5,0.3l1.5,-0.1l1.5,0.2l1.2,0.9l1.2,0.9l1.4,0.4M479.8,267.0l1.3,0.8l1.0,1.1l0.2,1.5l-0.4,1.5l-0.5,1.4l0.0,1.5l0.8,1.3l0.8,1.3l0.1,1.5l-0.5,1.4l-0.0,1.5l0.7,1.3l1.0,1.1l0.7,1.3l0.2,1.5M436.0,183.9l1.2,-0.9l1.4,-0.5l1.3,-0.7l0.6,-1.4l0.4,-1.4l0.8,-1.3l1.4,-0.7l1.5,-0.1l1.5,-0.3M473.9,278.3l-0.3,1.5l-0.2,1.5l-0.7,1.3l-0.9,1.2l-0.6,1.4l0.5,1.4l1.1,1.0l1.1,1.0l0.6,1.4l-0.1,1.5l0.2,1.5l0.8,1.3l1.0,1.1M446.6,204.3l1.0,1.1l0.6,1.4l-0.5,1.4l-1.1,1.0M463.5,277.8l0.3,1.5l-0.3,1.5l-0.8,1.2M394.6,170.1l0.8,-1.3l1.1,-1.0l0.9,-1.2l0.2,-1.5l-0.3,-1.5M503.4,257.0l-1.5,-0.3l-1.4,-0.6l-1.2,-0.9M452.4,167.1l-0.9,1.2l-0.7,1.3l-1.1,1.0l-1.4,0.4l-1.5,0.2l-1.5,0.3M386.4,214.1l1.3,-0.8l1.3,-0.7l0.9,-1.2l0.3,-1.5l-0.1,-1.5l0.4,-1.5M420.6,257.1l1.2,-0.9l1.1,-1.1l1.3,-0.8l1.5,-0.2l1.5,0.3l1.5,-0.1l1.2,-0.9l0.6,-1.4l0.9,-1.2M389.9,185.2l-1.5,0.3l-1.4,0.5l-1.1,1.0l-0.6,1.4l-0.6,1.4l-1.1,1.0l-1.3,0.7l-1.2,0.9l-0.3,1.5l0.2,1.5M432.7,282.4l-1.4,0.5l-1.3,0.7l-1.0,1.2l-0.7,1.3l-0.9,1.2l-1.4,0.4l-1.5,-0.0M430.1,277.1l0.7,1.4l0.9,1.2l0.8,1.3l0.3,1.5M503.7,205.2l0.4,-1.4l-0.2,-1.5l-0.4,-1.4l0.1,-1.5l1.2,-1.0l1.3,-0.8l1.1,-1.0l0.4,-1.5l-0.1,-1.5l0.4,-1.5l1.1,-1.0l1.4,-0.6M498.0,215.0l-0.0,-1.5l0.4,-1.4l1.1,-1.0l1.3,-0.8l0.9,-1.2l0.5,-1.4l0.5,-1.4l1.1,-1.0M476.0,191.7l-0.6,1.4l-0.8,1.3l-0.2,1.5l0.6,1.4l0.7,1.3l0.0,1.5l-0.7,1.3l-0.7,1.3M470.2,177.5l0.9,1.2l0.2,1.5l-0.4,1.4l-0.2,1.5l0.6,1.4l1.1,1.0l1.2,0.8l0.8,1.3l0.3,1.5l0.4,1.4l0.9,1.2l1.3,0.7l1.2,1.0l0.7,1.3M478.1,273.7l-1.3,-0.7l-0.9,-1.2l-0.9,-1.2l-1.3,-0.7l-1.4,-0.5l-1.3,-0.7l-1.0,-1.2l-0.4,-1.5l-0.3,-1.5l-0.9,-1.2l-1.3,-0.7l-1.3,-0.7l-0.8,-1.3l-0.3,-1.5l-0.3,-1.5l-0.9,-1.2l-1.3,-0.8l-1.2,-0.9M402.1,257.0l-1.3,-0.8l-1.4,-0.6l-1.5,0.0l-1.4,0.6l-1.4,0.4l-1.5,0.0l-1.5,-0.2l-1.5,0.3M405.0,243.0l-0.0,1.5l-0.1,1.5l-0.6,1.4l-0.8,1.2l-0.9,1.2l-0.5,1.4l0.1,1.5l0.5,1.4l0.1,1.5l-0.6,1.4l-1.0,1.1l-0.7,1.3l-0.1,1.5l-0.1,1.5l-0.8,1.3l-1.3,0.8l-1.4,0.5l-1.2,0.9l-0.9,1.2l-0.9,1.2M505.9,271.9l1.5,0.3l1.5,0.2l1.4,0.6l1.1,1.0M502.8,259.3l0.6,1.4l0.8,1.3l0.5,1.4l-0.2,1.5l-0.4,1.4l0.1,1.5l0.7,1.3l0.7,1.3l0.3,1.5M421.7,181.5l-1.3,0.7l-1.2,1.0l-1.4,0.4l-1.5,-0.1M424.0,171.5l-0.6,-1.4l-1.3,-0.8l-1.5,-0.4l-1.3,-0.7l-1.1,-1.0l-1.1,-1.0M422.2,187.4l1.1,-1.0l0.8,-1.3l-0.4,-1.4l-1.1,-1.0l-0.9,-1.2l0.0,-1.5l0.7,-1.4l0.5,-1.4l0.2,-1.5l-0.1,-1.5l0.1,-1.5l0.8,-1.3M490.9,284.1l0.1,1.5l0.7,1.3l1.1,1.0M384.6,158.4l-1.2,-0.9l-1.3,-0.8l-1.5,-0.1l-1.4,0.4l-1.4,0.5l-1.5,-0.3l-1.2,-0.9M389.1,167.1l-0.5,-1.4l0.0,-1.5l-0.2,-1.5l-1.0,-1.1l-1.3,-0.7l-1.1,-1.0l-0.3,-1.5M435.7,197.6l1.2,-0.9l1.0,-1.1l1.3,-0.7l1.5,-0.2l1.5,0.2l1.5,-0.1l1.3,-0.7M477.7,171.6l1.0,1.1l1.3,0.8l1.1,1.0l0.9,1.2l0.8,1.3l1.3,0.8M512.3,218.2l-0.1,1.5l-0.5,1.4l-0.3,1.5l0.7,1.3l1.3,0.7l1.3,0.7l0.9,1.2l0.4,1.4l0.8,1.3l1.4,0.4l1.4,-0.5M504.0,219.6l1.5,-0.0l1.4,-0.5l1.2,-0.9l1.3,-0.7l1.5,0.1l1.4,0.6M390.4,280.6l0.2,-1.5l0.8,-1.2l1.3,-0.8M457.9,218.7l-1.3,0.7l-1.5,0.3l-1.5,0.1l-1.4,0.6M375.0,202.9l-0.5,1.4l-1.1,1.0l-1.4,0.5l-1.4,0.6l-0.9,1.2l-0.7,1.3l-0.9,1.2M381.2,204.6l-0.7,-1.3l-1.1,-1.0l-1.5,0.1l-1.4,0.5l-1.5,0.1l-1.4,-0.6l-1.4,-0.6l-1.5,-0.1l-1.4,0.6l-1.2,0.9l-1.4,0.4l-1.4,-0.4l-1.3,-0.7l-1.5,-0.2l-1.5,0.3l-1.4,0.5l-1.5,-0.1l-1.2,-0.9M523.0,260.9l1.5,-0.1l1.4,-0.4l1.5,-0.1l1.4,0.6M518.6,264.7l0.7,-1.3l1.2,-0.9l1.4,-0.6l1.2,-0.9M412.1,219.2l-1.4,0.6l-1.0,1.1l-0.9,1.2M423.4,220.8l-1.4,-0.4l-1.5,-0.1l-1.4,0.4l-1.4,0.5l-1.5,-0.2l-1.2,-0.8l-1.3,-0.8l-1.5,-0.1M505.0,285.4l-0.3,1.5l-0.9,1.2l-1.5,0.2l-1.5,-0.0l-1.4,0.5l-1.2,0.9l-1.2,0.9M418.6,234.6l-0.9,-1.2l-1.1,-1.0l-0.7,-1.3l-0.3,-1.5l-0.3,-1.5M423.9,234.5l-1.1,1.1l-1.5,0.2l-1.4,-0.6l-1.4,-0.6M501.6,248.5l0.8,-1.3l0.1,-1.5l-0.4,-1.4l-0.4,-1.4M520.3,200.6l1.5,0.3l1.2,0.9l0.7,1.3l0.8,1.3M519.1,193.7l1.0,1.1l0.6,1.4l-0.1,1.5l-0.4,1.4l0.1,1.5M433.1,183.6l-0.6,-1.4l-1.2,-0.8l-1.4,-0.5l-1.3,-0.8l-0.9,-1.2l-1.0,-1.1l-1.4,-0.6M489.6,174.4l1.5,-0.1l1.4,0.4l1.5,0.2l1.4,-0.6M381.2,262.7l-1.2,0.9l-1.3,0.8l-1.1,1.0l-0.7,1.3l-0.4,1.4l-0.9,1.2l-1.1,1.0l-1.1,1.1l-0.4,1.4l0.3,1.5l0.7,1.3l0.2,1.5M491.3,160.0l-1.3,0.8l-1.5,0.2l-1.5,0.2M443.5,276.4l-1.4,0.6l-1.5,0.2l-1.5,0.2l-1.2,0.8l-0.8,1.3l-0.8,1.2l-1.2,0.8M463.6,243.0l-1.1,1.0l-1.4,0.4l-1.5,-0.1l-1.5,-0.2l-1.5,0.3l-1.0,1.1M417.5,224.2l-1.3,0.7l-1.5,0.2l-1.3,-0.7l-1.2,-0.8M442.5,162.5l1.2,-0.9l0.7,-1.3l0.4,-1.5l0.6,-1.4l1.1,-1.0M436.1,162.7l0.9,1.2l1.4,0.5l1.4,-0.5l1.2,-0.8l1.4,-0.5M491.2,222.6l-1.3,-0.8l-1.3,-0.8l-1.0,-1.1l-0.7,-1.3l-1.0,-1.1l-1.5,-0.4l-1.4,0.5l-1.4,0.5l-1.5,-0.0l-1.4,-0.4M501.5,215.5l1.3,0.8l1.5,0.2l1.5,0.1M487.0,233.9l-0.7,-1.3l-0.3,-1.5l0.6,-1.4l1.2,-0.9l1.3,-0.8l0.9,-1.2l0.2,-1.5l0.2,-1.5l0.8,-1.2l1.3,-0.7l1.4,-0.5l1.0,-1.1l0.6,-1.4l0.6,-1.4l1.2,-0.9l1.5,-0.2l1.5,-0.1l1.3,-0.8l0.8,-1.3l1.1,-1.0l1.4,-0.4M424.9,280.1l1.1,-1.0l1.5,-0.2l1.5,0.3M515.6,231.8l-0.4,1.4l0.1,1.5l0.7,1.3l0.9,1.2l0.5,1.4l-0.2,1.5l-0.3,1.5M511.3,227.8l1.3,0.7l1.0,1.1l0.8,1.3l1.2,0.9M420.7,227.8l-0.6,-1.4l-0.1,-1.5l-0.1,-1.5M426.6,227.1l-1.5,0.3l-1.4,0.5l-1.5,0.1l-1.5,-0.2M407.8,169.8l-1.4,0.5l-1.5,0.0l-1.4,-0.6l-1.3,-0.8l-1.5,-0.3M493.6,230.4l0.3,-1.5l-0.2,-1.5l-0.5,-1.4l-0.2,-1.5M517.7,260.1l-1.5,0.1l-1.3,0.7l-1.4,0.5l-1.5,0.0l-1.5,-0.4l-1.5,-0.3l-1.5,0.3M504.0,281.3l1.2,-0.9l0.9,-1.2l1.2,-1.0M418.6,244.1l1.1,-1.0l1.3,-0.8l1.5,-0.1M412.7,239.6l1.1,1.1l1.1,1.1l1.3,0.8l1.4,0.6l1.1,1.0l0.5,1.4l0.1,1.5l0.4,1.4l1.1,1.0l1.4,0.5l1.3,0.7l0.9,1.2M475.5,257.8l1.5,0.4l1.0,1.1l0.3,1.5l0.1,1.5l0.6,1.4l1.1,1.1M418.6,201.7l1.4,-0.6l1.1,-1.0l1.2,-0.9l1.5,-0.2l1.4,0.5l1.4,0.5l1.5,-0.3l1.1,-1.0l1.1,-1.0l1.4,-0.4l1.5,0.1l1.5,-0.1M455.7,215.3l-1.5,0.0l-1.4,0.5l-1.1,1.0M467.5,242.4l-1.2,0.9l-1.0,1.1l-1.1,1.0M399.7,234.5l-0.1,1.5l0.8,1.3l0.8,1.2l0.2,1.5l-0.5,1.4l-0.6,1.4l-0.1,1.5l0.3,1.5l0.2,1.5M513.9,265.0l-1.1,-1.0l-1.0,-1.1l-1.4,-0.6M390.8,232.3l1.2,0.9l1.5,0.2l1.5,-0.1M390.5,245.8l1.5,0.3l1.3,0.8l1.3,0.7l1.5,0.1l1.5,-0.3M513.8,166.0l1.5,-0.0l1.5,-0.3l1.1,-1.0l1.0,-1.2l1.4,-0.6l1.5,0.2l1.4,0.6l1.5,0.3l1.5,-0.3l1.3,-0.7l1.5,-0.3l1.4,0.6l1.1,1.0l1.3,0.8l1.5,-0.0l1.5,-0.1l1.4,0.6l1.0,1.1l0.7,1.3l1.0,1.1l1.4,0.6l1.5,0.2l1.4,0.5l1.1,1.0M407.8,163.7l-0.5,-1.4l-0.5,-1.4l-0.1,-1.5l0.6,-1.4l0.6,-1.4l-0.1,-1.5l-0.9,-1.2M448.9,246.0l-1.5,-0.4l-1.4,-0.4l-1.3,-0.8M493.1,279.3l-0.5,-1.4l0.1,-1.5l0.4,-1.4l-0.0,-1.5l-0.8,-1.2l-1.0,-1.1l-0.7,-1.3l0.0,-1.5l0.6,-1.4M384.2,229.7l1.5,0.4l1.1,1.0l1.2,0.9l1.5,0.2l1.4,-0.6l1.2,-0.9l1.3,-0.8M417.0,177.6l0.1,1.5l-0.4,1.4l-0.4,1.4M422.7,265.1l-0.8,1.3l-1.2,0.9l-1.5,0.1M459.8,233.0l1.3,-0.7l1.5,-0.1l1.2,0.9l0.8,1.2l1.2,0.9l1.5,0.1M451.8,233.4l1.4,-0.5l1.5,0.2l1.3,0.8l1.4,0.6l1.5,-0.3l1.0,-1.1M380.1,207.4l-1.5,0.1l-1.4,-0.5l-1.2,-0.9M382.1,214.1l0.4,-1.4l-0.1,-1.5l-0.8,-1.2l-0.9,-1.2l-0.6,-1.4M511.2,233.5l0.6,-1.4l1.0,-1.1l1.4,-0.5M517.9,169.3l0.3,1.5l0.1,1.5l0.5,1.4M465.9,176.7l1.5,-0.0l1.5,0.3l1.5,0.1M463.6,169.8l0.9,1.2l0.4,1.5l-0.1,1.5l0.3,1.5l0.9,1.2M461.1,246.7l0.3,1.5l0.3,1.5l0.9,1.2l1.3,0.7l1.3,0.7l0.9,1.2M413.0,163.4l1.5,0.3l1.4,0.5l1.0,1.1M471.2,218.5l1.5,0.2l1.4,0.6l1.0,1.1M404.1,204.9l1.2,-0.8l1.2,-0.9l0.6,-1.4M385.6,279.6l0.3,-1.5l0.2,-1.5l-0.4,-1.5l-0.8,-1.3l-0.6,-1.4M488.8,197.1l1.2,0.8l1.3,0.8l1.5,0.3l1.5,-0.3l1.4,-0.5M430.8,273.6l0.8,1.3l1.3,0.8l1.5,-0.2l1.4,-0.4M431.2,265.3l-0.8,1.3l-0.8,1.3l-0.2,1.5l0.5,1.4l0.7,1.3l0.1,1.5M381.1,187.5l0.9,-1.2l1.1,-1.1l1.5,-0.3M477.0,207.3l-1.1,1.0l-0.6,1.4l0.0,1.5M495.8,235.2l-1.5,-0.3l-1.3,-0.8l-0.5,-1.4M512.1,176.1l0.8,1.3l1.3,0.8l1.5,-0.1l1.4,-0.5l1.5,-0.0M520.4,212.7l1.2,0.9l0.7,1.4l0.4,1.5M514.7,214.2l1.5,0.2l1.4,-0.6l1.3,-0.7l1.5,-0.4M437.2,208.7l-0.5,-1.4l-0.6,-1.4l-1.2,-0.9l-1.5,-0.0l-1.5,0.2l-1.4,-0.4l-1.2,-0.9l-1.1,-1.0M416.1,218.5l1.4,0.6l1.5,-0.1l1.4,-0.5l1.5,-0.1M389.1,224.7l1.2,0.9l0.7,1.3l0.0,1.5M400.6,232.6l-1.5,0.4l-1.3,0.7l-1.5,0.2M381.9,259.3l-0.9,-1.2l-1.0,-1.1l-1.5,-0.3l-1.5,0.0l-1.4,-0.6l-0.8,-1.3l-0.3,-1.5l-0.7,-1.3l-1.3,-0.8M391.4,253.0l-0.6,1.4l-1.3,0.8l-1.5,0.2l-1.4,0.4l-1.3,0.8l-0.9,1.2l-1.1,1.0l-1.4,0.5M483.8,254.4l1.5,-0.0l1.4,0.5l1.4,0.6l1.5,-0.1M485.5,225.8l0.8,1.2l1.3,0.7l1.4,0.6M465.5,216.3l-1.4,-0.6l-1.4,0.5l-1.0,1.1l-1.1,1.0M505.9,171.9l0.4,-1.5l-0.2,-1.5l-0.6,-1.4M504.9,177.1l-0.3,-1.5l-0.4,-1.5l0.3,-1.5l1.2,-0.8M462.2,205.9l0.7,-1.3l1.4,-0.6l1.5,-0.2M435.4,255.5l1.5,-0.3l1.5,0.2l1.3,0.8l1.4,0.6l1.5,-0.1l1.2,-0.9M461.9,186.5l-1.2,-0.9l-0.1,-1.5l0.5,-1.4l0.4,-1.4l-0.3,-1.5l-0.1,-1.5l0.7,-1.3M487.3,210.3l-0.7,-1.3l-1.3,-0.8l-1.3,-0.8M444.9,284.3l1.5,-0.1l1.5,0.3l1.5,-0.0M376.8,287.8l-0.2,-1.5l-0.1,-1.5l-0.7,-1.3l-1.3,-0.7l-1.5,-0.3l-1.4,-0.6l-0.9,-1.2l-0.5,-1.4M370.9,292.0l-1.1,1.0l-0.8,1.3l-0.1,1.5l0.1,1.5l-0.2,1.5l-1.1,1.0l-1.4,0.5l-1.3,0.7l-0.9,1.2l-0.6,1.4M393.2,286.4l-1.2,0.9l-1.0,1.1l-1.2,0.9l-1.5,0.2l-1.4,-0.5l-1.5,-0.3l-1.5,0.1l-1.4,0.4l-1.5,0.3l-1.5,-0.4l-1.2,-0.8l-1.4,-0.4l-1.4,0.6l-0.9,1.2l-0.9,1.2l-1.2,0.9l-1.4,0.5M442.3,206.2l-0.8,1.2l-0.4,1.4l-0.1,1.5M438.0,202.3l1.0,1.2l1.4,0.6l1.3,0.7l0.7,1.3M422.3,192.0l-1.3,0.8l-1.5,0.2l-1.5,-0.1l-1.4,0.6l-0.7,1.3l-0.3,1.5l-0.7,1.3M435.3,179.1l1.5,0.1l1.4,-0.4l1.3,-0.8M430.5,184.2l0.9,-1.2l1.3,-0.8l1.4,-0.5l1.0,-1.1l0.2,-1.5M504.3,194.3l-1.0,1.1l-0.4,1.4l0.3,1.5M401.2,279.0l-1.1,-1.0l-0.6,-1.4l-0.3,-1.5M381.9,250.5l-1.4,0.6l-1.1,1.0l-1.2,0.9M386.9,245.7l-1.5,0.3l-1.3,0.8l-0.8,1.3l-0.5,1.4l-1.0,1.1M506.0,159.3l-1.4,-0.6l-1.5,-0.0l-1.5,0.2l-1.5,-0.3l-1.1,-1.0l-0.9,-1.2l-1.2,-0.9l-1.5,-0.2l-1.5,-0.2l-1.4,-0.6l-0.9,-1.2l-0.9,-1.2M499.5,276.0l1.3,0.7l1.5,0.1l1.5,-0.0M494.5,282.5l1.3,-0.8l0.7,-1.3l-0.0,-1.5l0.5,-1.4l1.2,-0.9l1.3,-0.7M390.3,239.5l0.7,-1.3l-0.1,-1.5l-0.5,-1.4M524.2,287.3l1.0,1.1l1.1,1.0l1.4,0.6l1.4,0.5l1.2,0.9M519.1,279.1l0.5,1.4l0.2,1.5l0.5,1.4l1.2,1.0l1.4,0.5l1.1,1.1l0.3,1.5M436.7,258.7l1.4,-0.6l1.5,0.0l1.5,0.2M433.8,269.7l1.4,-0.6l1.4,-0.5l1.0,-1.1l0.5,-1.4l0.4,-1.5l0.7,-1.3l1.1,-1.0M389.1,259.5l-0.9,1.2l-0.6,1.4l-1.0,1.2l-1.5,0.3l-1.5,-0.2M386.0,285.2l0.1,-1.5l-0.4,-1.5l-0.5,-1.4M523.6,256.9l0.2,1.5l0.5,1.4l0.7,1.3M516.7,255.6l1.2,0.9l1.3,0.8l1.5,0.2l1.5,-0.4l1.5,-0.3M502.3,284.6l-0.2,1.5l0.2,1.5l0.9,1.2M473.8,161.7l0.6,1.4l0.8,1.3l0.4,1.4l-0.4,1.4l-0.8,1.3M468.1,160.1l1.5,-0.1l1.4,0.5l1.3,0.7l1.4,0.4M488.2,283.4l-1.2,0.9l-1.3,0.8l-0.9,1.2M407.1,265.1l0.1,1.5l0.3,1.5l0.8,1.2M474.4,236.1l1.4,0.4l1.5,-0.1l1.4,-0.6M513.0,247.6l-0.9,-1.2l-0.3,-1.5l-0.6,-1.4M500.9,249.6l1.2,0.9l0.9,1.2l1.2,0.9l1.5,0.0l1.1,-1.0l1.0,-1.1l1.2,-0.8l1.4,-0.4l1.4,-0.6l1.0,-1.1M409.0,214.1l-1.4,0.4l-1.1,1.1l-0.6,1.4l-0.4,1.4l-0.8,1.3l-1.0,1.1l-0.7,1.3l-0.0,1.5M423.4,196.8l0.4,-1.4l0.7,-1.3l0.2,-1.5l-0.3,-1.5l-0.4,-1.4M510.1,301.0l-1.2,-0.9l-1.1,-1.0l-1.4,-0.5l-1.5,0.1l-1.5,-0.1l-1.3,-0.8M515.6,287.5l0.7,1.3l0.4,1.4l-0.4,1.4l-0.8,1.3l-0.7,1.3l-0.3,1.5l-0.0,1.5l-0.6,1.4l-1.2,0.9l-1.4,0.5l-1.2,0.9l-0.2,1.5M404.3,181.4l-1.1,1.0l-1.0,1.1l-0.6,1.4M428.4,257.4l0.3,-1.5l0.3,-1.5l0.8,-1.3M382.0,279.8l1.4,0.4l1.1,1.0l0.4,1.5M419.7,261.4l-1.3,-0.7l-0.9,-1.2l-0.8,-1.3M381.2,181.1l1.1,-1.0l1.2,-0.9l0.7,-1.3M457.4,228.3l0.4,1.4l1.0,1.1l1.2,0.8M400.5,218.2l0.9,-1.2l1.1,-1.0l1.4,-0.6M400.0,284.1l-0.5,-1.4l0.4,-1.5l0.4,-1.4M468.0,164.8l0.7,1.3l0.3,1.5l-0.2,1.5l0.2,1.5l0.9,1.2l1.2,0.9l1.2,0.9l0.6,1.4l-0.1,1.5M474.2,178.1l0.4,1.4l0.8,1.2l0.6,1.4l0.1,1.5l-0.1,1.5M465.9,226.5l0.6,1.4l1.2,0.9l1.5,0.2M450.3,162.7l-1.3,-0.8l-1.0,-1.1l-0.3,-1.5M481.1,203.2l-1.4,-0.5l-1.5,0.2l-1.4,0.6M510.8,258.6l0.1,-1.5l0.0,-1.5M505.2,257.6l1.2,0.9l1.4,0.5l1.5,-0.1l1.5,-0.3M529.8,281.5l1.5,0.1l1.5,0.0l1.4,-0.5l1.1,-1.0l1.0,-1.1l1.3,-0.7l1.5,-0.2l1.5,-0.2l1.2,-0.8l0.8,-1.3M518.4,275.3l1.5,0.3l1.3,0.7l1.0,1.1l1.0,1.2l1.2,0.9l1.4,0.4l1.5,0.1l1.4,0.4l1.1,1.0M489.2,201.8l-1.2,-0.9l-1.4,-0.5l-1.5,0.1l-1.5,0.3l-1.5,0.1M385.1,202.7l-1.3,-0.8l-1.4,-0.6l-1.5,0.1M505.7,188.7l-0.4,-1.5l-0.6,-1.4l-0.1,-1.5M379.1,214.9l-1.2,-0.9l-0.9,-1.2l-1.2,-0.9l-1.5,-0.2l-1.5,0.1l-1.4,-0.5M386.1,221.8l-1.2,-0.9l-1.4,-0.4l-1.4,-0.5l-1.1,-1.0l-0.6,-1.4l-0.4,-1.4l-0.8,-1.3M471.0,272.3l-0.9,1.2l-0.3,1.5l-0.5,1.4l-1.0,1.2l-1.3,0.7l-1.4,0.7M475.1,214.3l1.2,0.9l1.0,1.1l0.4,1.4M443.1,199.2l0.3,-1.5l0.8,-1.3l1.2,-0.9M470.6,288.4l1.4,-0.4l1.1,-1.0l0.6,-1.4M395.7,237.8l-1.2,-1.0l-1.4,-0.6l-1.2,-0.9M448.3,271.0l0.1,-1.5l0.7,-1.3l1.0,-1.1l0.6,-1.4l-0.2,-1.5l-0.8,-1.3M488.9,278.1l-1.1,-1.0l-1.4,-0.6l-1.3,-0.8l-0.9,-1.2M518.7,250.9l-1.5,-0.4l-1.5,0.2l-1.5,0.1M424.8,167.5l1.3,-0.7l1.5,-0.1l1.5,-0.2l1.3,-0.8l1.1,-1.1l1.3,-0.8l1.5,0.2M461.3,202.0l-0.9,-1.2l-1.3,-0.7l-1.5,0.0M495.8,250.1l-0.9,-1.2l-0.1,-1.5l0.4,-1.4M456.4,237.2l0.8,-1.3l0.8,-1.2l0.2,-1.5M483.4,237.9l1.3,-0.7l0.8,-1.2l0.5,-1.4M480.4,197.5l-0.9,1.2l-1.0,1.1l-1.4,0.5M413.0,275.2l-1.5,0.4l-1.4,0.4l-1.4,-0.4M449.9,275.1l-1.5,0.0l-1.4,-0.6l-1.3,-0.8l-1.5,-0.4l-1.5,0.3l-1.5,0.4M456.3,277.2l-1.5,-0.4l-1.5,0.2l-1.5,0.1l-1.3,-0.7l-0.6,-1.4M471.6,247.3l0.5,1.4l1.2,0.9l1.5,-0.0l1.4,-0.5l1.5,-0.1M469.7,242.1l1.1,1.0l0.9,1.2l0.2,1.5l-0.2,1.5M484.3,267.3l1.4,0.6l1.5,0.3l1.2,0.8M445.2,187.9l0.6,-1.4l0.7,-1.3l0.2,-1.5l-0.5,-1.4l-0.7,-1.3M424.4,206.0l-0.3,-1.5l0.4,-1.4l0.7,-1.3M413.0,212.3l1.2,0.9l0.6,1.4l-0.2,1.5M464.7,221.8l0.9,1.2l0.4,1.4l-0.1,1.5M469.3,205.9l1.5,-0.1l1.5,0.4l1.1,1.0M440.5,215.6l-0.2,1.5l0.6,1.4l0.8,1.2l0.4,1.4l-0.2,1.5M386.7,251.4l-0.9,-1.2l-0.1,-1.5l0.0,-1.5M412.5,287.9l1.4,-0.5l1.5,0.1l1.5,0.3M416.7,170.9l0.3,-1.5l-0.2,-1.5l-0.6,-1.4M464.6,270.1l0.2,-1.5l-0.4,-1.4l-0.2,-1.5l0.5,-1.4M506.9,203.9l1.3,-0.8l1.0,-1.1l1.0,-1.1M484.2,261.2l-1.5,-0.1l-1.4,0.4l-1.4,0.4M476.3,286.2l-1.4,-0.6l-1.3,-0.7l-1.5,-0.2M425.2,283.9l1.3,-0.7l1.1,-1.0l1.5,-0.3M418.6,206.6l-1.1,1.0l-0.5,1.4l-0.2,1.5l-0.8,1.3M476.4,252.8l-0.7,1.3l-1.1,1.0l-1.1,1.0l-0.5,1.4l0.3,1.5l0.3,1.5l-0.7,1.3l-1.4,0.6M403.7,160.1l1.5,0.0l1.5,-0.0l1.4,-0.6M457.1,197.0l1.1,-1.0l1.4,-0.5l1.3,-0.7M494.2,194.3l-0.8,1.3l-1.1,1.0l-1.4,0.5M463.4,208.8l-0.8,1.3l-1.4,0.7l-1.5,0.1l-1.5,0.3l-1.1,1.0l-0.5,1.4l-0.1,1.5M406.8,249.8l1.3,-0.7l1.5,-0.0l1.5,-0.1M479.5,209.5l-0.4,-1.4l-0.9,-1.2l-0.9,-1.2M483.8,230.0l-0.6,-1.4l0.1,-1.5l-0.1,-1.5l-1.0,-1.1l-1.4,-0.5l-1.4,-0.5l-1.3,-0.8l-0.9,-1.2M485.2,171.3l-1.5,0.0l-1.4,-0.6l-1.4,-0.6l-1.5,0.2M420.5,207.7l-0.9,1.2l-1.4,0.5l-1.5,0.1M503.1,162.6l0.5,1.4l0.3,1.5l0.6,1.4M512.9,159.3l0.6,1.4l-0.3,1.5l-0.4,1.4M381.2,164.1l1.4,-0.5l1.5,-0.0l1.4,0.4M426.8,273.4l1.5,-0.2l1.4,-0.6l1.5,-0.0M514.8,181.0l-0.8,-1.3l-1.3,-0.7l-1.4,-0.6M476.6,239.6l0.1,1.5l0.5,1.4l0.2,1.5M383.5,233.8l0.4,-1.4l0.2,-1.5l0.4,-1.4M495.6,162.9l1.4,-0.4l1.0,-1.1l0.5,-1.4M502.8,224.7l-0.6,-1.4l0.2,-1.5l0.1,-1.5l-0.5,-1.4M464.6,185.0l0.5,1.4l0.1,1.5l0.1,1.5l0.7,1.3l1.0,1.2M430.0,227.5l1.0,-1.1l1.0,-1.1l0.6,-1.4l0.4,-1.5M517.6,285.6l0.2,-1.5l-0.2,-1.5l-0.9,-1.2l-1.1,-1.0M512.9,288.3l1.5,0.1l1.4,-0.5l1.0,-1.1l0.9,-1.2M432.4,177.8l-0.6,-1.4l-1.2,-0.9l-1.4,-0.6l-1.2,-0.9l-0.8,-1.3l-0.6,-1.4M517.4,269.1l-1.5,0.1l-1.4,0.5l-1.0,1.1M447.3,200.6l1.4,0.4l1.4,0.5l1.5,0.1l1.3,-0.7l1.1,-1.0M459.4,265.4l0.9,1.2l1.2,0.9l1.5,0.0M454.0,254.5l-1.5,0.1l-1.3,0.7l-1.4,0.5M462.1,271.1l-0.6,-1.4l-1.2,-0.8l-1.3,-0.8M438.6,175.0l-1.4,0.5l-1.3,0.7l-1.5,0.3M453.9,242.4l0.4,1.5l0.3,1.5l-0.5,1.4M512.3,184.6l-1.0,1.1l-1.4,0.5l-1.5,-0.3M402.8,164.7l-1.2,0.8l-1.4,0.4l-1.3,0.7M479.3,281.3l-0.5,-1.4l-1.1,-1.1l-1.5,-0.3M414.0,182.1l1.2,0.9l1.5,0.4l1.4,0.6M505.7,233.6l-0.8,1.2l-1.3,0.7l-1.3,0.7l-0.9,1.2M451.3,227.5l-1.5,0.2l-1.3,-0.7l-1.1,-1.0M437.1,215.3l-1.0,-1.1l-0.9,-1.2l-0.1,-1.5l0.8,-1.3M399.3,219.2l-1.3,-0.7l-1.3,-0.8l-1.4,-0.4M397.3,242.3l0.0,1.5l-0.3,1.5l0.0,1.5M388.2,240.8l1.0,1.1l1.4,0.6l1.5,-0.3l1.3,-0.8l1.4,-0.5l1.4,0.5l1.2,0.9M491.6,186.5l1.1,-1.0l1.1,-1.1l0.7,-1.3l0.1,-1.5l0.0,-1.5M460.1,221.9l1.4,-0.6l1.5,-0.2l1.3,-0.7l0.8,-1.3l0.2,-1.5M407.3,182.2l-1.4,-0.5l-1.5,-0.1l-1.3,0.7M408.4,175.7l0.8,1.3l0.4,1.5l-0.6,1.4l-1.0,1.1l-0.6,1.4M456.3,264.5l-1.4,0.5l-1.4,0.5l-1.5,-0.2M379.6,241.9l0.5,1.4l0.2,1.5l-0.3,1.5M479.0,166.7l-1.3,0.7l-1.5,-0.0l-1.5,-0.1M390.4,260.2l-0.4,-1.5l0.2,-1.5l0.1,-1.5M406.9,284.6l0.6,-1.4l0.3,-1.5l0.8,-1.3M390.6,271.1l-1.4,-0.5l-0.9,-1.2l-0.4,-1.4M402.7,178.0l1.2,0.9l0.9,1.2l0.7,1.3M425.2,222.1l-1.1,1.0l-0.7,1.3l-0.9,1.2M457.0,171.1l-0.9,-1.2l-1.3,-0.8l-1.5,-0.1M391.6,189.0l1.4,0.4l1.5,0.1l1.4,0.6l0.9,1.2M478.4,271.8l-0.2,-1.5l-0.6,-1.4l-1.1,-1.0l-1.4,-0.7l-1.1,-1.0M435.8,187.2l-0.4,1.4l-0.6,1.4l-0.1,1.5M443.1,183.0l-0.8,1.2l-1.0,1.1l-1.4,0.5l-1.5,-0.1l-1.4,0.4l-1.0,1.1M492.3,169.5l1.0,-1.1l1.5,-0.3l1.5,0.1M446.3,278.7l1.5,0.2l1.5,-0.3l1.5,0.1M395.8,269.8l0.2,1.5l-0.5,1.4l-0.7,1.3M429.0,260.1l1.3,-0.7l1.5,-0.2l1.4,0.5l1.5,0.3l1.5,-0.2M459.9,225.0l-0.5,1.4l-1.1,1.0l-1.3,0.8M379.5,278.3l1.5,0.1l1.3,0.7l0.7,1.3M440.7,240.3l1.1,1.0l1.4,0.5l1.5,-0.3M470.0,254.3l-0.7,1.3l-0.4,1.4l0.4,1.5l0.9,1.2M423.2,162.9l-0.3,-1.5l0.2,-1.5l0.9,-1.2l1.2,-0.9l0.7,-1.3l0.1,-1.5l-0.1,-1.5l0.4,-1.4l0.9,-1.2l0.9,-1.2l0.3,-1.5l-0.5,-1.4l-0.6,-1.4l-0.1,-1.5l0.4,-1.5l0.1,-1.5l-0.5,-1.4l-1.1,-1.0l-1.2,-0.8l-0.9,-1.2l-0.4,-1.5l-0.2,-1.5M398.2,204.0l0.9,-1.2l0.6,-1.4l0.9,-1.2M499.0,179.7l0.3,1.5l-0.3,1.5l-0.3,1.5M405.8,290.2l-0.3,1.5l-0.8,1.3l-1.3,0.8l-1.4,0.5l-1.1,1.1l-0.4,1.4l-0.2,1.5l-0.6,1.4l-1.0,1.1M396.3,284.7l1.4,0.6l1.1,1.0l1.3,0.7l1.5,0.2l1.5,-0.0l1.4,0.4l0.9,1.2l0.3,1.5M505.3,224.9l0.9,1.2l1.3,0.8l1.2,0.8l0.7,1.3l0.1,1.5l0.0,1.5l0.7,1.3M491.0,191.4l0.8,-1.3l1.3,-0.8l1.1,-1.0M434.0,229.1l0.8,1.3l1.3,0.8l1.0,1.1M418.5,280.5l-0.2,1.5l-0.1,1.5l-0.5,1.4M428.6,183.7l-0.9,-1.2l-0.4,-1.5l-0.3,-1.5M492.1,215.1l-1.1,1.0l-0.6,1.4l0.2,1.5M470.6,213.1l0.1,1.5l-0.4,1.5l-0.2,1.5M538.9,223.1l-0.7,1.3l-0.6,1.4l0.3,1.5l0.7,1.3l0.4,1.4l-0.5,1.4l-1.0,1.1l-0.9,1.2M514.8,221.9l1.3,0.7l1.5,0.1l1.5,-0.2l1.5,0.2l1.3,0.7l1.3,0.8l1.5,0.1l1.4,-0.5l1.3,-0.8l1.5,-0.4l1.5,0.3l1.5,0.4l1.5,-0.1l1.4,-0.5l1.4,-0.5l1.5,0.2l1.3,0.7M410.5,273.1l1.4,-0.5l1.5,0.1l1.5,-0.0M429.9,210.7l1.1,1.0l0.8,1.3l0.1,1.5l-0.2,1.5l0.3,1.5l0.9,1.2M387.1,175.8l-1.4,-0.5l-1.5,-0.2l-1.4,0.6M429.7,152.5l0.8,-1.3l1.1,-1.1l1.3,-0.7l1.4,-0.4l1.4,-0.6l1.0,-1.1M428.2,160.7l1.0,-1.1l0.8,-1.3l0.2,-1.5l-0.4,-1.4l-0.3,-1.5l0.3,-1.5M431.8,263.0l1.2,-0.9l1.2,-0.9l0.8,-1.3M402.8,267.4l-1.5,0.2l-1.5,0.2l-1.3,0.8M415.1,161.2l-0.4,1.4l-0.9,1.2l-1.3,0.7l-1.4,0.5l-1.0,1.1l0.1,1.5l0.4,1.4l-0.2,1.5l-1.0,1.1l-1.2,0.9l-0.8,1.3M496.9,224.6l-0.1,-1.5l-0.9,-1.2l-1.3,-0.8M497.8,193.4l-1.4,0.5l-1.4,0.4l-1.2,0.9M411.6,190.2l1.5,-0.1l1.4,0.6l1.4,0.6l1.5,-0.2l1.2,-0.8l1.3,-0.8l1.5,-0.4M469.4,186.1l0.5,1.4l0.6,1.4l0.2,1.5M435.4,168.0l-1.4,-0.6l-1.5,0.3l-1.4,0.4M405.9,256.1l-1.5,-0.1l-1.4,0.5l-0.5,1.4M425.0,276.5l0.2,1.5l0.4,1.5l-0.1,1.5M492.5,211.0l-0.8,1.3l-0.4,1.5l-0.7,1.3M483.1,167.0l-1.3,-0.7l-1.5,-0.1l-1.5,0.4M480.7,186.7l-1.5,0.3l-1.5,-0.3l-1.5,-0.3M485.2,183.3l-1.4,0.4l-1.4,0.4l-1.1,1.1l-0.5,1.4M414.1,207.7l-1.1,-1.0l-0.4,-1.4l-0.6,-1.4M442.8,236.9l1.5,-0.4l1.5,-0.0l1.4,0.7M390.7,182.7l1.4,0.4l1.3,0.8l1.4,0.5M397.3,173.7l1.1,-1.0l0.9,-1.2l0.1,-1.5M388.1,191.6l-1.2,0.9l-1.5,0.1l-1.4,-0.5M421.8,212.8l-0.5,-1.4l0.1,-1.5l0.3,-1.5M496.4,227.9l-0.7,-1.3l-0.8,-1.3l-0.3,-1.5M500.0,232.4l-0.3,-1.5l-0.9,-1.2l-1.2,-0.9l-1.2,-0.9M484.7,190.5l-0.2,-1.5l-0.6,-1.4l-0.2,-1.5M459.1,189.4l0.7,1.3l0.2,1.5l0.7,1.3M387.6,204.6l-1.3,0.7l-1.2,0.9l-1.4,0.4M450.3,195.7l-1.1,-1.0l-1.1,-1.1l-1.4,-0.6M511.0,280.9l1.5,-0.3l1.3,-0.7l1.4,-0.4M455.1,184.9l-0.3,1.5l0.4,1.4l0.6,1.4M392.2,221.2l-1.3,-0.8l-1.5,-0.1l-1.4,0.5M427.0,231.7l1.5,-0.0l1.4,-0.5l1.0,-1.1l1.0,-1.2M408.6,262.9l-0.1,-1.5l0.3,-1.5l1.1,-1.1l1.3,-0.7l1.3,-0.7l1.0,-1.1M468.8,174.7l1.4,-0.6l1.5,-0.1l1.2,0.8M470.5,212.6l-0.0,-1.5l-0.2,-1.5l0.4,-1.4M465.6,210.6l1.1,1.0l1.0,1.1l1.4,0.4l1.4,-0.5M463.9,286.2l0.8,-1.3l0.7,-1.3l1.1,-1.0l1.5,-0.4l1.5,-0.2M387.0,237.4l0.2,-1.5l-0.1,-1.5l0.4,-1.5M415.4,247.1l-1.1,-1.0l-1.5,-0.3l-1.5,-0.2M417.6,252.2l-0.9,-1.2l-1.1,-1.0l-0.5,-1.4l0.3,-1.5M417.1,278.3l-1.5,-0.3l-1.4,-0.6l-1.4,-0.4M512.7,212.0l0.3,1.5l0.4,1.4l-0.1,1.5M464.2,179.8l0.4,-1.5l-0.2,-1.5l-0.1,-1.5M425.2,216.2l-0.5,1.4l-0.3,1.5l-0.8,1.3M369.8,157.5l-1.5,0.0l-1.5,-0.0l-1.3,0.8l-0.7,1.3l-0.6,1.4l-1.0,1.1l-1.3,0.7M379.4,160.2l-1.0,1.1l-1.3,0.7l-1.5,-0.4l-1.0,-1.2l-0.7,-1.3l-1.1,-1.0l-1.5,-0.3l-1.5,-0.3M413.7,177.9l1.3,0.8l0.7,1.3l0.1,1.5M502.0,188.8l-1.0,1.1l-0.9,1.2l-1.1,1.0M457.0,271.0l0.5,-1.4l1.0,-1.1l1.4,-0.6M428.8,213.4l-1.5,0.2l-1.4,0.4l-1.5,0.0l-1.4,-0.6M444.1,248.2l-0.0,1.5l0.5,1.4l0.0,1.5M488.2,187.9l1.3,0.7l1.2,0.9l0.7,1.3M517.6,158.7l-1.5,-0.2l-1.3,-0.7l-1.4,-0.4l-1.4,0.5l-1.2,1.0l-1.4,0.6l-1.5,-0.3M510.7,269.8l-0.9,-1.2l-0.8,-1.3l0.0,-1.5M423.7,294.1l-1.3,-0.7l-1.5,0.2l-1.3,0.8l-1.3,0.8M430.4,288.6l-1.2,0.9l-1.5,0.3l-1.3,0.7l-1.0,1.1l-0.7,1.3l-1.0,1.1" fill="none" stroke="#fff" stroke-width="0.5" stroke-opacity="0.68" stroke-linecap="round" stroke-linejoin="round"/>
</g>
<rect x="381.15" y="160.65" width="135.2" height="123.6" fill="none" stroke="#000" stroke-width="1.5" stroke-linejoin="round"/>
<text x="513.75" y="172.65" font-size="11.4" text-anchor="end" fill="#fff">50% MA</text>
<text x="514.15" y="185.95" font-size="11.4" text-anchor="end" fill="#fff">60% Br</text>
<text x="369.85" y="168.45" font-size="17" text-anchor="start" fill="#000">f</text>
<rect x="531.1" y="160.65" width="134.4" height="123.6" fill="rgb(103,103,103)" filter="url(#sn12)"/>
<g clip-path="url(#sc12)">
<path d="M553.5,263.9l-0.5,1.4l-0.2,1.5l-0.3,1.5l-0.9,1.2l-1.4,0.6l-1.4,0.5l-1.4,0.6l-1.1,1.0l-0.9,1.2l-0.9,1.2l-1.2,0.9l-1.3,0.8l-1.2,0.9l-0.7,1.3M535.4,171.7l-1.4,-0.6l-1.4,-0.6l-1.5,-0.3l-1.5,0.3l-1.4,0.5M536.1,165.9l-0.1,1.5l0.2,1.5l-0.1,1.5l-0.7,1.3M554.8,164.2l-0.6,1.4l-0.6,1.4l-0.0,1.5l0.6,1.4l0.9,1.2l0.7,1.3l0.5,1.4l0.5,1.4l0.7,1.3M552.5,196.6l-0.7,1.4l-0.3,1.5M557.8,194.7l-1.1,1.0l-1.3,0.8l-1.5,0.3l-1.5,-0.2M582.7,160.2l0.8,1.2l1.2,0.9l1.4,0.5l1.4,0.5l1.1,1.0l0.6,1.4l0.2,1.5l0.4,1.5l0.7,1.3l1.1,1.0l1.2,0.8l1.1,1.1l0.9,1.2l0.9,1.2l1.2,1.0M642.8,207.8l-0.9,-1.2l-0.9,-1.2l-0.4,-1.5l0.2,-1.5l0.6,-1.4l0.6,-1.4l0.1,-1.5l-0.1,-1.5l0.1,-1.5l0.5,-1.4l0.8,-1.2l1.0,-1.1l0.8,-1.3l0.4,-1.4l-0.1,-1.5M631.5,266.4l-1.5,-0.2l-1.4,-0.6l-1.2,-0.9l-1.2,-1.0l-1.3,-0.7l-1.5,-0.1l-1.5,0.2l-1.5,0.3M653.9,254.1l-0.9,1.2l-1.3,0.8l-1.5,0.3l-1.5,0.1l-1.5,0.3l-1.3,0.8l-0.9,1.2l-1.0,1.1l-1.3,0.7l-1.5,0.3l-1.4,0.4l-1.2,0.9l-0.7,1.3l-0.8,1.3l-1.2,0.9l-1.5,0.3l-1.5,0.1l-1.5,0.3M571.1,291.2l-1.2,-1.0l-1.3,-0.7l-1.5,-0.3l-1.5,0.3l-1.4,0.5l-1.5,0.2l-1.5,-0.2l-1.4,-0.4l-1.5,-0.2l-1.5,0.3l-1.3,0.7l-1.4,0.6l-1.4,0.4l-1.5,0.2l-1.5,0.3l-1.4,0.6l-1.2,0.9M542.5,208.0l-0.6,1.4l-1.0,1.1l-0.8,1.3l-0.4,1.4l-0.0,1.5l0.1,1.5M547.8,201.2l-1.0,1.1l-0.7,1.3l-0.5,1.4l-0.6,1.4l-1.0,1.1l-1.4,0.5M638.0,192.5l1.2,-0.9l0.8,-1.3l0.9,-1.2l1.1,-1.0M573.3,189.9l-1.1,1.0l-0.5,1.4l-0.2,1.5l-0.3,1.5l-0.9,1.2M563.7,179.9l1.5,0.1l1.3,0.8l0.9,1.2l0.8,1.3l1.0,1.1l1.3,0.8l1.4,0.6l1.1,1.1l0.4,1.4l0.1,1.5M576.7,185.3l0.4,1.4l-0.0,1.5l-0.7,1.3M569.9,225.2l-1.4,-0.4l-1.5,0.2l-1.4,0.7l-1.3,0.7l-1.5,0.3l-1.5,-0.1l-1.5,-0.3l-1.5,0.2l-1.3,0.8l-1.3,0.8l-1.4,0.5l-1.5,-0.2l-1.2,-0.9l-1.2,-0.8l-1.3,-0.7l-1.4,-0.4l-1.5,-0.4M636.5,211.4l1.3,0.7l1.4,0.4l1.5,0.2l1.4,0.5l1.2,0.9l1.2,1.0l1.3,0.7l1.5,0.2l1.5,-0.0l1.5,0.1M629.3,215.1l0.2,1.5l0.6,1.4l0.3,1.5M622.5,212.5l1.4,0.5l1.5,0.1l1.5,0.2l1.3,0.7l1.0,1.1M584.1,172.6l0.8,-1.3l1.3,-0.8l1.5,-0.3M586.7,181.8l-1.1,-1.0l-1.1,-1.0l-0.8,-1.3l0.0,-1.5l0.4,-1.5l0.3,-1.5l-0.2,-1.5M640.7,165.8l-1.5,0.3l-1.4,0.6l-1.0,1.1l-0.7,1.3l-1.0,1.1l-1.2,0.9l-1.2,0.9M661.9,167.8l-1.3,0.8l-1.4,0.6l-1.5,0.1l-1.4,-0.5l-1.4,-0.6l-1.5,-0.2l-1.5,0.2l-1.4,0.5l-1.5,0.0l-1.4,-0.6l-1.2,-0.8l-1.4,-0.6l-1.5,-0.3l-1.5,-0.1l-1.5,-0.4M570.4,209.5l1.5,0.2l1.5,-0.2l1.3,-0.7l1.3,-0.7l1.5,-0.3l1.5,0.3l1.4,0.6M562.5,222.1l1.0,-1.2l0.6,-1.4l0.5,-1.4l0.8,-1.3l1.0,-1.1l1.1,-1.0l1.0,-1.2l0.7,-1.3l0.5,-1.4l0.6,-1.4M562.7,266.6l-1.3,0.8l-1.4,0.4l-1.5,0.2l-1.3,0.7M624.8,250.5l0.6,1.4l1.0,1.1l1.1,1.0l1.0,1.1l0.8,1.3l0.6,1.4l0.9,1.2l1.3,0.8l1.4,0.4M602.0,184.5l0.5,1.4l0.4,1.4l0.7,1.3l1.2,0.9l1.4,0.6l1.3,0.8l0.8,1.3l0.3,1.5l0.1,1.5M609.4,168.1l0.4,1.4l-0.1,1.5l-0.7,1.3l-0.9,1.2l-0.7,1.4l-0.2,1.5l0.1,1.5l-0.2,1.5l-1.1,1.1l-1.3,0.7l-1.3,0.8l-1.0,1.2l-0.6,1.4M625.2,221.9l-0.3,-1.5l-0.3,-1.5l0.1,-1.5M550.7,166.9l1.0,-1.1l0.8,-1.3l1.0,-1.1M667.3,189.9l0.7,-1.3l1.0,-1.1l1.1,-1.0l0.9,-1.2l0.2,-1.5l-0.4,-1.5l-0.7,-1.3l-0.6,-1.4l-0.4,-1.5l-0.2,-1.5l-0.5,-1.4l-1.1,-1.0l-1.4,-0.6M600.7,266.5l0.6,1.4l1.0,1.1l1.0,1.1l0.7,1.3l0.2,1.5l0.2,1.5l0.7,1.3l0.8,1.3l0.7,1.3l0.1,1.5l-0.4,1.5l-0.5,1.4l-0.1,1.5l0.4,1.5l0.8,1.3l0.6,1.4l-0.1,1.5l-0.7,1.3l-0.9,1.2M587.5,218.5l0.9,-1.2l1.3,-0.8l1.2,-0.8l0.9,-1.2l0.3,-1.5l-0.3,-1.5M575.9,217.1l1.5,0.0l1.4,0.5l1.4,0.6l1.5,0.4l1.5,-0.1l1.4,-0.4l1.5,-0.1l1.4,0.5M555.6,258.7l-0.0,-1.5l0.0,-1.5l-0.3,-1.5l-0.8,-1.3l-1.0,-1.1l-0.8,-1.3M557.9,247.3l-1.3,0.7l-1.2,0.9l-0.8,1.3M591.6,253.1l-0.6,-1.4l-0.8,-1.3l-0.7,-1.3l-0.5,-1.4l-0.1,-1.5l-0.0,-1.5l-0.5,-1.4l-1.1,-1.0l-1.4,-0.6M562.0,245.6l-1.4,-0.5l-1.5,-0.3l-1.5,0.2M566.5,231.2l0.9,1.2l0.1,1.5l-0.4,1.5l-0.6,1.4l-0.5,1.4l-0.1,1.5l-0.2,1.5l-0.6,1.4l-1.0,1.1l-1.2,0.9l-1.1,1.1M555.4,279.4l1.2,-0.9l1.4,-0.6l1.3,-0.7l1.0,-1.1l0.6,-1.4M554.6,286.1l1.0,-1.1l0.8,-1.3l0.1,-1.5l-0.4,-1.4l-0.6,-1.4M544.5,232.7l-1.5,-0.3l-1.3,-0.7l-1.4,-0.6M553.0,231.1l-1.3,0.7l-1.5,0.1l-1.5,-0.3l-1.5,-0.1l-1.5,0.3l-1.2,0.9M586.5,194.5l-0.4,1.4l-0.3,1.5l0.5,1.4l0.8,1.3l0.7,1.3l0.2,1.5l-0.4,1.5M598.2,184.7l-1.4,0.6l-1.0,1.1l-1.1,1.0l-1.5,0.3l-1.5,0.1l-1.5,0.3l-1.1,1.0l-0.6,1.4l-0.4,1.4l-0.7,1.3l-1.1,1.0M590.8,302.9l0.8,1.2l0.5,1.4l0.4,1.4l0.7,1.3l1.2,0.9l1.3,0.7M592.0,291.5l0.1,1.5l-0.6,1.4l-0.7,1.4l-0.1,1.5l0.4,1.4l0.5,1.4l-0.0,1.5l-0.7,1.3M644.9,202.0l-0.8,-1.3l-0.5,-1.4l-0.5,-1.4M659.4,255.2l-1.4,0.5l-1.5,0.1l-1.5,0.1M662.9,258.1l1.0,1.1l1.0,1.1l0.7,1.3l0.6,1.4l0.9,1.2l1.2,0.9l1.5,0.4M654.1,264.8l0.5,1.4l-0.2,1.5l-0.4,1.4l-0.3,1.5l0.3,1.5l0.4,1.4l0.4,1.4l0.2,1.5l0.2,1.5M666.9,253.7l-1.0,1.1l-1.2,0.9l-1.1,1.0l-0.8,1.3l-0.6,1.4l-0.8,1.3l-1.3,0.7l-1.5,0.2l-1.5,0.2l-1.4,0.6l-0.9,1.2l-0.7,1.3M561.8,204.7l-0.2,-1.5l0.7,-1.3l1.0,-1.1l0.9,-1.2l0.5,-1.4l-0.2,-1.5l-0.5,-1.4l-0.1,-1.5l0.5,-1.4l0.7,-1.3l0.3,-1.5M569.7,174.7l1.3,-0.7l1.3,-0.8l0.9,-1.2l0.5,-1.4l0.0,-1.5l0.1,-1.5l0.5,-1.4l1.0,-1.2l1.0,-1.1l0.7,-1.3l0.0,-1.5l-0.3,-1.5l0.0,-1.5l0.5,-1.4M620.2,175.4l-1.4,-0.5l-1.4,-0.5l-1.2,-0.9l-0.7,-1.3l-0.5,-1.4l-0.8,-1.3l-1.3,-0.8M549.0,179.1l1.2,-0.9l1.5,-0.3l1.5,-0.0M663.2,228.7l1.2,0.9l0.9,1.2l0.3,1.5M653.9,232.9l1.4,-0.5l1.4,-0.5l1.2,-0.9l1.1,-1.0l1.2,-0.9l1.4,-0.5l1.5,0.1M590.9,270.8l1.3,0.8l1.4,0.6l1.5,0.0l1.5,-0.0l1.5,0.3l1.1,1.0l0.8,1.3l0.7,1.3M662.4,177.0l1.5,-0.2l1.4,-0.6l1.3,-0.8M573.1,178.5l1.2,-0.8l1.3,-0.7l1.5,-0.0l1.4,0.6l1.4,0.6l1.5,0.3M610.8,224.7l-1.4,0.4l-1.5,-0.1l-1.5,-0.2l-1.5,0.2l-1.4,0.5M612.7,219.3l-1.1,1.0l-0.5,1.4l-0.1,1.5l-0.2,1.5M531.9,224.4l-1.5,-0.0l-1.5,0.0l-1.5,-0.1l-1.4,-0.6l-1.1,-1.0M544.5,289.4l1.4,-0.6l1.3,-0.7l1.5,-0.3l1.5,0.1l1.5,0.3M663.8,163.5l-1.1,-1.0l-1.2,-0.8l-1.3,-0.8l-0.9,-1.2l-0.4,-1.5l-0.4,-1.4l-1.0,-1.1l-1.4,-0.6l-1.2,-0.8l-0.9,-1.2l-0.4,-1.4l-0.2,-1.5M605.4,261.0l0.8,-1.2l0.5,-1.4l-0.1,-1.5l-0.1,-1.5l0.1,-1.5l0.3,-1.5l0.2,-1.5l-0.3,-1.5l-0.9,-1.2l-1.0,-1.1l-0.7,-1.3l-0.1,-1.5l0.2,-1.5l0.3,-1.5l-0.1,-1.5l-0.3,-1.5l-0.4,-1.4l-0.2,-1.5l0.3,-1.5M540.8,271.6l-0.5,-1.4l0.2,-1.5l0.6,-1.4l0.5,-1.4l-0.1,-1.5l-0.4,-1.4l-0.0,-1.5l0.5,-1.4l1.1,-1.1l1.3,-0.7l1.2,-0.9l0.7,-1.3l0.4,-1.5l0.6,-1.4l1.0,-1.1l1.3,-0.8M560.1,251.3l0.1,-1.5l-0.5,-1.4l-0.9,-1.2M531.5,160.5l-1.4,0.4l-1.2,0.8l-1.1,1.0l-1.3,0.7l-1.5,0.3M625.3,194.2l-1.3,-0.7l-1.4,-0.6l-1.5,-0.2l-1.5,-0.0l-1.5,-0.2l-1.3,-0.8l-1.1,-1.1l-1.0,-1.1l-1.3,-0.8M640.0,244.4l1.4,-0.5l1.5,0.0l1.5,-0.2M632.3,235.9l1.3,0.8l1.0,1.1l0.5,1.4l0.4,1.5l0.8,1.3l1.2,0.9l1.3,0.7l1.2,0.9M632.8,205.5l1.4,-0.6l1.5,-0.1l1.4,0.5M591.1,264.5l-0.4,-1.5l0.3,-1.5l0.8,-1.3l0.7,-1.3l0.1,-1.5l-0.7,-1.3l-0.8,-1.3M660.0,282.9l1.5,0.0l1.5,0.4l1.5,0.3l1.5,-0.1l1.2,-0.9l1.0,-1.1l1.2,-1.0l1.5,-0.4l1.5,0.1l1.5,-0.2l1.4,-0.5l1.3,-0.8l1.4,-0.6l1.5,-0.0l1.4,0.4l1.5,0.2l1.4,-0.6M573.7,241.6l-0.9,1.2l-0.8,1.3l-0.5,1.4l-0.1,1.5l0.1,1.5l-0.2,1.5l-0.8,1.3l-1.0,1.1M587.5,232.2l-0.9,1.2l-0.7,1.3l-0.6,1.4l-0.8,1.2l-1.4,0.6l-1.5,0.1l-1.5,-0.1l-1.5,0.4l-1.3,0.8l-1.1,1.0l-1.1,1.0l-1.4,0.4M599.5,172.3l-1.0,-1.1l-1.0,-1.1l-1.1,-1.0l-1.4,-0.5M578.2,276.6l-1.0,1.1l-1.3,0.7l-1.5,0.4l-1.5,0.2l-1.4,0.5l-1.0,1.1l-0.7,1.3l-0.9,1.2l-1.2,0.9l-1.3,0.7l-1.2,0.9M618.6,164.5l1.4,0.6l1.1,1.0l0.9,1.2l1.1,1.1l1.3,0.7l1.5,0.3l1.4,0.5l1.0,1.1l0.4,1.4l0.2,1.5l0.5,1.4l0.9,1.2l1.1,1.0l1.2,1.0l0.8,1.3l0.3,1.5l0.2,1.5l0.5,1.4M600.7,217.2l-0.8,-1.2l-0.8,-1.3l-0.3,-1.5l0.2,-1.5l0.1,-1.5l-0.5,-1.4l-0.8,-1.3l-0.8,-1.3l-0.3,-1.5l0.1,-1.5M594.4,222.8l0.2,-1.5l0.8,-1.3l1.3,-0.7l1.4,-0.5l1.3,-0.7l1.1,-1.0M664.3,240.7l1.4,0.6l1.5,0.4l1.5,0.0l1.5,-0.3l1.5,-0.1l1.4,0.5l1.0,1.1l0.8,1.3M656.1,237.5l1.1,1.0l1.3,0.7l1.5,0.1l1.5,0.1l1.4,0.5l1.3,0.7M567.1,205.1l0.2,-1.5l-0.3,-1.5l-0.7,-1.3M562.1,212.3l0.5,-1.4l0.5,-1.4l1.0,-1.1l1.2,-0.9l1.1,-1.0l0.8,-1.3M529.4,240.0l1.5,0.0l1.4,-0.5l1.3,-0.7l1.5,-0.3l1.5,0.1l1.4,0.6l1.4,0.5l1.5,0.1l1.5,-0.3M570.7,165.6l1.3,-0.8l1.5,-0.2l1.5,-0.1M629.2,232.4l-0.4,-1.4l-0.5,-1.4l-0.0,-1.5l0.8,-1.3l1.1,-1.0l1.1,-1.1l0.7,-1.4l0.4,-1.4M562.4,232.0l1.1,-1.0l1.2,-0.9l1.4,-0.4M568.8,264.2l-1.3,0.8l-1.2,0.9l-1.3,0.8l-1.4,0.4M656.4,219.3l1.4,0.4l1.3,0.8l1.0,1.2l1.0,1.1M659.4,211.2l-0.4,1.4l-0.8,1.3l-1.0,1.1l-0.8,1.3l-0.2,1.5l0.2,1.5M596.4,229.1l-1.3,-0.8l-1.1,-1.0l-0.7,-1.3l-0.3,-1.5M593.2,238.7l0.8,-1.3l0.6,-1.4l0.0,-1.5l-0.2,-1.5l0.3,-1.5l0.8,-1.2l0.8,-1.3M615.6,223.7l1.4,0.6l1.5,0.0l1.5,0.1l1.4,0.6l1.1,1.0l1.0,1.1l1.1,1.0l1.4,0.6M650.6,190.9l-0.4,1.5l-0.5,1.4l-0.0,1.5l0.3,1.5l0.6,1.4M608.9,262.2l-0.7,-1.3l-0.8,-1.2l-0.6,-1.4M541.6,172.7l-1.3,-0.8l-1.0,-1.1l-1.1,-1.0M603.7,197.1l-1.3,0.8l-1.2,0.9l-0.5,1.4l0.2,1.5l0.5,1.4l0.2,1.5l0.3,1.5l0.3,1.5M616.9,251.6l0.2,1.5l0.5,1.4l0.3,1.5l-0.2,1.5l-0.6,1.4M653.9,185.2l-0.9,1.2l-0.5,1.4l0.4,1.5l0.9,1.2l0.9,1.2l0.4,1.4l0.2,1.5l0.3,1.5l0.9,1.2M646.2,267.4l0.5,1.4l0.4,1.4l-0.2,1.5l-0.8,1.3l-0.8,1.3l-0.3,1.5l0.3,1.5l0.6,1.4M600.5,253.8l-1.0,1.1l-0.7,1.3l-0.1,1.5l0.2,1.5M597.9,248.7l0.1,1.5l0.5,1.4l1.0,1.1l1.1,1.1M624.8,282.4l1.1,1.0l0.9,1.2l0.4,1.5l-0.2,1.5l-0.5,1.4l-0.3,1.5l0.3,1.5l0.7,1.4l0.6,1.4l0.2,1.5l-0.0,1.5M608.7,273.7l1.1,1.1l0.8,1.3l0.9,1.2l1.1,1.0l1.4,0.4l1.5,0.1l1.4,0.4l1.3,0.7l1.1,1.1l1.0,1.1l1.4,0.6l1.5,-0.0l1.5,-0.1M628.1,279.4l1.3,-0.7l1.0,-1.1l0.6,-1.4l0.5,-1.4l0.9,-1.2l1.2,-0.9l1.2,-0.9l0.8,-1.3l0.4,-1.5M582.8,248.1l1.3,0.8l1.5,0.3l1.5,-0.3M545.2,244.3l-1.2,0.9l-1.4,0.4l-1.5,-0.0l-1.5,0.0l-1.4,0.5l-1.0,1.1M571.1,288.1l-0.8,-1.2l-1.1,-1.0l-1.4,-0.7M531.7,214.0l1.5,-0.2l1.4,-0.6l1.4,-0.5M667.3,214.7l-1.1,-1.0l-1.2,-1.0l-1.4,-0.6M600.2,279.6l-1.3,-0.8l-1.2,-0.9l-0.8,-1.3M547.5,170.3l-0.0,1.5l0.6,1.4l0.6,1.4M536.4,231.8l0.1,1.5l0.5,1.4l0.8,1.2M553.0,207.6l-0.4,-1.5l-0.8,-1.3l-0.9,-1.2l-0.9,-1.2M531.4,195.9l1.0,-1.1l1.3,-0.7l1.5,-0.1l1.5,0.2l1.5,0.2l1.5,-0.3l1.3,-0.8l1.1,-1.0M532.6,204.4l-0.4,-1.4l-0.7,-1.3l-0.6,-1.4l-0.2,-1.5l0.3,-1.5l0.5,-1.4M529.7,244.3l-1.2,0.9l-1.1,1.0l-1.0,1.1l-0.9,1.2l-0.8,1.2l-1.1,1.0l-1.4,0.6l-1.5,0.0M650.7,202.7l-1.3,-0.8l-0.9,-1.2l-0.8,-1.3M577.6,245.0l-0.9,-1.2l-1.1,-1.0l-1.4,-0.5M579.6,231.6l0.4,-1.5l0.5,-1.4l0.2,-1.5l-0.1,-1.5l-0.1,-1.5l0.2,-1.5M627.2,190.7l-0.7,-1.3l-0.9,-1.2l-1.2,-0.9l-1.3,-0.7l-1.4,-0.5l-1.3,-0.8l-0.9,-1.2l-0.6,-1.4l-0.9,-1.2l-1.4,-0.6l-1.5,-0.3l-1.4,-0.6l-1.0,-1.1l-0.5,-1.4l-0.3,-1.5M568.6,271.8l-1.2,0.9l-1.1,1.0l-0.5,1.4l0.1,1.5l0.3,1.5M541.7,182.8l0.4,-1.4l0.5,-1.4l0.9,-1.2l1.1,-1.1l1.0,-1.2M576.0,226.1l0.9,-1.2l1.3,-0.7l1.4,-0.4M645.7,177.1l1.3,0.7l1.2,0.8l1.4,0.6l1.5,0.1l1.5,-0.3l1.5,-0.1l1.4,0.4l1.3,0.7l1.4,0.6l1.5,0.1l1.4,-0.6l1.2,-1.0M542.5,285.7l-1.5,-0.1l-1.4,-0.4l-1.1,-1.0l-0.8,-1.3l-0.7,-1.3l-0.9,-1.2l-1.3,-0.7l-1.3,-0.8l-0.8,-1.3l-0.1,-1.5l0.4,-1.4l0.1,-1.5l-0.2,-1.5l-0.5,-1.4M537.2,188.7l0.9,1.2l1.0,1.1l1.0,1.1M600.8,233.9l1.5,-0.4l1.5,0.0l1.4,0.4M554.2,272.7l-0.7,-1.3l-0.7,-1.3l-1.0,-1.1M541.5,158.9l-0.8,1.3l-0.3,1.5l-0.0,1.5l-0.4,1.4l-0.9,1.2M618.8,243.7l-0.0,-1.5l-0.0,-1.5l0.4,-1.4l1.0,-1.1l1.1,-1.0l0.9,-1.2l0.2,-1.5l-0.4,-1.4l-0.4,-1.5M668.0,248.3l0.6,-1.4l1.1,-1.1l1.0,-1.1M593.5,191.7l1.5,-0.3l1.5,0.1l1.5,-0.0l1.4,-0.6l1.2,-0.9M547.8,234.9l-0.7,-1.3l-0.4,-1.4l-0.6,-1.4M616.3,186.4l-1.5,-0.1l-1.5,0.3l-1.5,-0.0M635.2,233.7l-1.2,-1.0l-1.1,-1.0l-1.3,-0.7M642.1,234.5l-1.3,-0.7l-1.3,-0.7l-1.5,-0.3l-1.5,0.2l-1.4,0.6M590.9,221.0l-1.1,1.0l-0.9,1.2l-0.6,1.4l-0.6,1.4l-1.1,1.1l-1.3,0.8l-1.4,0.6M619.3,233.6l1.4,0.6l1.2,0.9l0.6,1.4M564.2,262.5l1.0,1.1l1.0,1.1l1.2,0.8M576.0,205.3l-0.8,1.3l-1.1,1.0l-1.4,0.6M642.4,237.5l0.7,1.3l1.1,1.0l1.1,1.0M545.9,160.6l-1.3,0.7l-1.5,0.1l-1.5,-0.1M536.6,197.5l1.5,-0.1l1.5,0.3l1.5,0.0l1.4,-0.5l1.2,-0.9l1.3,-0.8l1.5,-0.2l1.5,0.1M575.5,182.6l-0.9,-1.2l-1.1,-1.0l-1.4,-0.4M584.0,184.4l-1.5,-0.1l-1.4,-0.5l-1.2,-0.8l-1.4,-0.6l-1.5,-0.1l-1.4,0.5M583.5,214.1l-0.9,-1.2l-1.0,-1.1l-1.3,-0.8M591.7,208.5l-1.2,0.9l-0.8,1.3l-0.8,1.3l-1.1,1.0l-1.4,0.5l-1.5,0.1l-1.4,0.5M647.9,244.6l1.2,-0.8l0.8,-1.3l0.6,-1.4l0.8,-1.3l1.2,-0.9l1.2,-0.8l1.2,-0.9l0.8,-1.2l0.6,-1.4M633.5,247.9l1.4,0.5l1.3,0.8l0.8,1.3l0.2,1.5l-0.0,1.5l0.2,1.5l0.9,1.2l1.2,0.9M539.1,185.0l-0.1,1.5l-0.7,1.3l-1.3,0.7M552.3,189.4l-1.3,-0.7l-1.5,-0.3l-1.4,-0.5l-1.2,-0.8l-0.9,-1.2l-1.0,-1.1l-1.4,-0.5l-1.5,-0.1l-1.4,0.4l-1.5,0.4M634.4,228.3l-1.5,-0.2l-1.3,-0.7l-1.0,-1.1M618.6,290.5l0.8,1.2l1.0,1.1l1.3,0.7M553.6,218.4l0.1,-1.5l0.4,-1.4l0.6,-1.4l-0.0,-1.5l-0.8,-1.3l-1.1,-1.0M652.2,222.5l0.1,1.5l-0.4,1.5l-0.5,1.4l-0.1,1.5l0.5,1.4l0.7,1.3l0.3,1.5l-0.4,1.4M619.4,277.5l-0.8,-1.3l-0.6,-1.4l-0.2,-1.5l-0.1,-1.5l-0.4,-1.4l-1.1,-1.0l-1.4,-0.4l-1.5,-0.4l-1.4,-0.5l-1.4,-0.6l-1.4,-0.5l-1.5,-0.0M547.4,199.6l-0.2,-1.5l0.5,-1.4l0.7,-1.3M652.2,174.8l-1.5,-0.3l-1.4,-0.6l-1.0,-1.1l-0.7,-1.3M614.2,198.8l-1.0,-1.1l-0.5,-1.4M625.0,201.4l-1.5,-0.2l-1.4,-0.6l-1.0,-1.1l-1.1,-1.0l-1.4,-0.5l-1.5,0.3l-1.4,0.4l-1.5,0.3M537.1,207.0l-0.8,1.3l-1.1,1.0l-1.0,1.1M581.3,169.2l0.6,-1.4l0.2,-1.5l-0.5,-1.4l-0.8,-1.2l-0.9,-1.2M659.7,205.7l0.9,1.2l0.9,1.2l1.2,0.9M652.5,159.6l1.1,1.0l1.4,0.4l1.5,0.2M555.8,240.9l-0.3,1.5l-0.4,1.5l-0.0,1.5M559.7,191.4l1.4,-0.6l1.5,-0.2l1.5,0.3M638.2,215.6l1.3,0.8l1.3,0.8l0.9,1.2l0.3,1.5l0.2,1.5l0.3,1.5l0.7,1.3l1.1,1.0l1.1,1.0l0.8,1.2l0.3,1.5l0.4,1.4l0.9,1.2l1.1,1.0M570.3,199.6l-0.4,1.4l-0.7,1.3l-0.4,1.4M666.7,277.1l1.5,-0.2l1.4,-0.6l1.3,-0.8l1.2,-0.8l1.4,-0.5l1.5,-0.1l1.5,0.1l1.5,-0.2l1.2,-0.9l0.6,-1.4l0.4,-1.5l0.8,-1.3M578.4,253.5l1.5,0.0l1.4,-0.6l1.2,-0.9M584.1,203.9l-0.3,1.5l-0.2,1.5l-0.5,1.4M550.0,239.7l1.5,-0.1l1.5,0.3l1.5,0.1l1.4,-0.4l1.2,-0.9l1.3,-0.8l1.4,-0.5l1.5,0.0l1.5,0.3M639.1,287.2l0.3,-1.5l0.6,-1.4l0.7,-1.3l0.3,-1.5l-0.4,-1.4l-0.5,-1.4l-0.1,-1.5M644.7,288.5l-1.5,0.3l-1.5,-0.1l-1.4,-0.6l-1.2,-0.9M606.9,205.3l1.1,-1.0l0.8,-1.3l0.7,-1.3l1.0,-1.2M657.3,174.0l-1.2,0.8l-1.2,0.9l-0.9,1.2M649.2,277.5l-1.5,-0.3l-1.0,-1.1l-0.3,-1.5M538.6,226.8l1.3,0.7l1.1,1.1l0.8,1.3M606.1,167.2l1.5,-0.2l1.4,0.6l1.1,1.0M605.4,161.5l-0.5,1.4l-0.0,1.5l0.5,1.4l0.6,1.4M635.6,289.8l-0.0,-1.5l0.4,-1.5l0.4,-1.5l-0.1,-1.5l-0.5,-1.4l-0.6,-1.4l-0.0,-1.5M609.6,231.8l-1.4,0.6l-0.8,1.3l-0.3,1.5l-0.4,1.5M603.2,175.0l0.2,-1.5l0.5,-1.4l1.1,-1.0l1.3,-0.7M561.8,173.8l1.3,0.8l0.8,1.3l0.5,1.4M560.5,161.2l0.4,1.4l0.8,1.2l0.9,1.2l0.5,1.4l-0.3,1.5l-0.6,1.4l-0.5,1.4l-0.2,1.5l0.2,1.5M588.7,278.5l-1.0,1.1l-0.8,1.3l-0.1,1.5l0.4,1.4l0.5,1.4l-0.0,1.5l-0.4,1.4l-0.5,1.4M581.2,283.0l1.5,0.1l1.5,-0.1l1.4,-0.5M651.0,262.2l-1.3,0.7l-1.5,0.3l-1.5,-0.3M533.8,218.1l1.4,-0.6l1.1,-1.0l1.0,-1.2M533.1,262.8l0.4,1.5l0.9,1.2l1.3,0.7l1.4,0.6l1.1,1.0M585.0,260.1l1.5,0.1l1.5,0.2l1.4,-0.5M530.1,191.0l0.2,1.5l0.4,1.4l0.1,1.5M611.5,282.4l0.8,-1.3l1.1,-1.1l1.4,-0.7M607.7,208.3l0.7,-1.4l0.4,-1.4l0.1,-1.5M544.2,220.9l0.1,1.5l-0.4,1.4l-0.8,1.3M575.7,265.2l-1.5,-0.3l-1.5,-0.2l-1.4,-0.5M581.5,291.0l1.1,-1.0l0.8,-1.2l0.4,-1.4M626.1,234.3l-0.3,-1.5l0.1,-1.5l0.1,-1.5M633.7,212.2l-0.1,1.5l0.3,1.5l0.3,1.5l0.0,1.5l-0.4,1.5M658.8,271.5l0.1,1.5l0.0,1.5l-0.7,1.3M659.9,267.2l1.0,1.2l1.3,0.8l1.4,0.5l1.4,0.6l1.1,1.0l0.8,1.3l0.7,1.3M655.7,301.1l0.7,1.3l0.9,1.2l0.8,1.2l0.6,1.4M655.0,289.4l0.3,1.5l-0.1,1.5l-0.2,1.5l0.2,1.5l0.5,1.4l0.4,1.4l0.1,1.5l-0.4,1.4l-1.0,1.1l-1.2,1.0M543.4,282.1l-1.4,0.4l-1.5,-0.1l-1.4,-0.4M537.1,179.8l0.7,-1.3l0.4,-1.4l-0.0,-1.5M529.2,185.7l1.5,-0.3l1.4,-0.4l1.2,-1.0l0.7,-1.3l0.7,-1.4l1.1,-1.0l1.4,-0.5M559.3,179.1l0.6,1.4l0.5,1.4l0.4,1.4l0.8,1.2l1.1,1.0l1.0,1.1M570.1,169.3l-1.4,0.6l-1.3,0.7l-1.5,0.2M662.3,290.6l1.3,0.7l1.5,0.2l1.5,0.1l1.4,0.4l1.2,0.8l1.0,1.1l1.2,0.9l1.5,0.3l1.5,-0.2M596.0,287.2l-0.3,1.5l-0.9,1.2l-1.1,1.0M604.0,216.2l1.4,-0.6l1.2,-0.9l0.9,-1.2l0.7,-1.4l0.5,-1.4M575.2,259.2l1.5,-0.3l1.3,-0.8l0.9,-1.2M638.6,230.0l0.7,-1.3l0.7,-1.3l0.9,-1.2M622.8,182.0l-0.2,-1.5l-0.4,-1.4l-0.1,-1.5l0.4,-1.5l0.2,-1.5l-0.4,-1.5l-1.1,-1.0M631.1,194.9l-1.4,0.5l-1.5,-0.2l-1.4,-0.4M599.8,228.3l-1.3,-0.8l-1.1,-1.0l-0.8,-1.3l-0.1,-1.5M667.3,171.0l1.5,0.1l1.4,0.6l0.8,1.2M636.5,178.5l0.3,-1.5l0.1,-1.5l0.3,-1.5l0.6,-1.4l0.9,-1.2l0.8,-1.3M614.7,209.2l-1.5,-0.0l-1.4,0.4l-1.4,0.5M633.2,159.4l1.4,-0.6l1.3,-0.8l0.9,-1.2l0.5,-1.4l0.6,-1.4l1.1,-1.0l1.2,-0.9l1.1,-1.0M632.5,253.0l1.1,-1.0l1.4,-0.5l1.5,-0.1M556.2,183.5l-1.5,0.2l-1.5,0.2l-1.4,0.5l-1.2,0.8M658.5,247.0l0.8,-1.2l0.3,-1.5l-0.3,-1.5M530.4,228.9l-0.9,-1.2l-1.2,-0.9l-1.4,-0.6M594.3,199.4l-1.5,0.2l-1.4,0.5l-1.2,0.9M578.3,193.5l1.5,-0.1l1.4,-0.4l1.2,-0.9l1.0,-1.2l1.1,-1.1M579.5,200.6l-0.8,-1.3l-0.6,-1.4l-0.3,-1.5l0.2,-1.5l0.4,-1.4M658.9,288.2l1.1,1.0l1.2,0.9l1.0,1.1M578.2,269.9l-1.4,-0.5l-1.5,-0.1l-1.5,0.4l-1.4,0.6l-1.5,0.4l-1.5,-0.3l-1.3,-0.7M598.6,266.6l-1.1,-1.0l-0.8,-1.2l-0.5,-1.4l-0.3,-1.5M534.7,289.4l0.8,-1.2l0.2,-1.5l0.0,-1.5M595.8,160.2l-0.4,1.4l-0.9,1.2l-1.3,0.7M642.0,180.1l1.2,0.8l1.2,0.8l0.9,1.2M535.6,251.2l-1.4,0.6l-1.2,0.9l-0.5,1.4l-0.1,1.5M541.4,252.3l-1.5,-0.0l-1.5,-0.1l-1.5,-0.3l-1.4,-0.6M663.9,197.9l0.1,1.5l-0.6,1.4l-1.0,1.1l-0.9,1.2M612.3,155.3l-1.0,-1.2l-0.5,-1.4l0.1,-1.5l-0.0,-1.5l-0.7,-1.3M625.6,160.9l-1.2,-1.0l-0.8,-1.2l-0.5,-1.4l-0.7,-1.3l-1.3,-0.7l-1.5,0.1l-1.4,0.4l-1.5,0.3l-1.5,-0.1l-1.4,-0.5l-1.5,-0.2M588.6,257.3l0.8,-1.3l0.8,-1.3l0.5,-1.4M577.2,254.2l1.3,0.7l1.2,1.0l1.2,1.0l1.4,0.5l1.5,-0.2l1.4,-0.6l1.3,-0.7M545.6,181.2l1.2,0.9l1.4,0.7l1.5,0.2M639.2,247.8l0.6,-1.4l0.9,-1.2M644.3,250.2l-1.5,-0.1l-1.5,-0.2l-1.3,-0.8l-0.8,-1.3M624.8,245.9l1.3,-0.7l1.5,-0.0l1.4,0.4l1.4,0.5M575.1,230.8l1.1,-1.0l0.5,-1.4l-0.1,-1.5M649.3,282.3l-1.5,-0.2l-1.4,-0.4l-1.3,-0.7M657.1,190.6l1.3,0.7l1.4,0.4l1.3,0.7l0.8,1.2l0.5,1.4l0.6,1.4M618.3,219.6l1.1,1.0l1.4,0.5l1.5,0.3M592.2,283.9l-0.8,1.3l-1.1,1.0l-1.2,0.9M638.3,199.6l1.1,1.0l0.9,1.2l1.0,1.1M601.6,249.6l0.7,-1.3l0.4,-1.4l0.5,-1.4" fill="none" stroke="#fff" stroke-width="0.6" stroke-opacity="0.38" stroke-linecap="round" stroke-linejoin="round"/>
</g>
<rect x="531.1" y="160.65" width="134.4" height="123.6" fill="none" stroke="#000" stroke-width="1.5" stroke-linejoin="round"/>
<text x="662.90" y="172.65" font-size="11.4" text-anchor="end" fill="#fff">75% MA</text>
<text x="663.30" y="185.95" font-size="11.4" text-anchor="end" fill="#fff">60% Br</text>
<text x="519.80" y="168.45" font-size="17" text-anchor="start" fill="#000">g</text>
<text x="236.20" y="133.80" font-size="11.4" text-anchor="start" fill="#fff">50 µm</text>
<rect x="239.4" y="138" width="24.6" height="2.8" fill="#fff"/>
<g transform="scale(.1)" fill="currentColor" stroke="currentColor" stroke-width="5" stroke-linejoin="round">
<path color="#4e2100" d="M1362,3172l11-7l-12-8l-11,3zM640,3679l10-10l-11-5l-11,4z"/>
<path color="#552500" d="M1373,3165l10-8l-11-22l-11,22zM552,3744l11-13l-11-11l-11,18zM541,3747l11-3l-11-6l-11-6z"/>
<path color="#5c2900" d="M1219,3264l11-13l-11-3l-11,17zM1208,3269l11-5l-11,1l-11-6zM1165,3295l11,4l-12-9l-10,2zM629,3674l11,5l-12-11l-11,9z"/>
<path color="#632d00" d="M1230,3251l11-6l-11-10l-11,13zM1121,3327l11-8l-11,5l-11-9zM1033,3386l11-9l-11-2l-11,22zM1022,3398l11-12l-11,11l-11-6zM957,3443l11-4l-11-17l-11,28zM946,3448l11-5l-11,7l-11-3zM815,3541l11,1l-12-8l-11-1zM705,3636l11-28l-11-2l-11,16zM563,3731l11-14l-11-22l-11,25zM486,3784l11-17l-11-8l-11,16zM443,3812l11-7l-12-13l-11,3z"/>
<path color="#6a3100" d="M1176,3299l11-22l-12-18l-11,31zM968,3439l11-6l-11-20l-11,9zM749,3601l11-12l-11-14l-11-7z"/>
<path color="#713500" d="M1383,3157l11-31l-11-18l-11,27zM1088,3345l11-18l-11,9l-11,9zM1012,3398l10,0l-11-7l-11,2zM979,3433l11-10l-12-21l-10,11zM935,3450l11-2l-11-1l-11,5zM924,3469l11-19l-11,2l-11,1zM847,3526l11-27l-11,3l-11,9zM738,3606l11-5l-11-33l-11,5zM618,3668l11,6l-12,3l-11-6zM530,3732l11,15l-11-15l-11-1zM432,3811l11,1l-12-17l-10,3z"/>
<path color="#783a00" d="M1351,3129l11,43l-12-12l-11-10zM1197,3264l11,5l-11-10l-11-16zM826,3542l10-17l-11-33l-11,42zM793,3560l11-29l-12,12l-10,12zM782,3561l11-1l-11-5l-11-17zM727,3584l11,22l-11-33l-11,32zM716,3608l11-24l-11,21l-11,1zM694,3592l11,44l-11-14l-11-2z"/>
<path color="#7f3f01" d="M1241,3245l11-18l-11-31l-11,39zM1044,3377l11-35l-11,22l-11,11zM1001,3397l11,1l-12-5l-11,0zM990,3423l11-26l-12-4l-11,9zM836,3525l11,1l-11-15l-11-19zM804,3531l11,10l-12-8l-11,10zM672,3636l11-14l-11-2l-11,19zM454,3805l10-26l-11-16l-11,29zM388,3833l11-18l-11,14l-11,12z"/>
<path color="#864502" d="M1307,3179l11-13l-11,15l-11-2zM1187,3277l10-13l-11-21l-11,16zM650,3669l11-28l-11-50l-11,73zM475,3743l11,41l-11-9l-11-18zM377,3845l11-12l-11,8l-11-22z"/>
<path color="#8d4a03" d="M1132,3319l11-77l-11,65l-11,17zM1077,3323l11,22l-11,0l-11-13zM913,3467l11,2l-11-16l-11-35zM760,3589l11-43l-11-7l-11,36zM607,3680l11-12l-12,3l-10-11zM519,3733l11-1l-11-1l-11-1z"/>
<path color="#945004" d="M1318,3166l11-6l-11-11l-11,32zM1296,3167l11,12l-11,0l-11,8zM683,3622l11-30l-11,28l-11,0zM421,3784l11,27l-11-13l-11,5zM366,3844l11,1l-11-26l-11,21z"/>
<path color="#9b5605" d="M1427,3092l11-3l-11-16l-11,10zM1285,3195l11-28l-11,20l-11,0zM1154,3234l11,61l-11-3l-11-6zM661,3641l11-5l-11,3l-11-48zM497,3767l11-12l-11-68l-11,72z"/>
<path color="#a25b06" d="M1110,3295l11,32l-11-12l-11-32zM771,3546l11,15l-11-23l-11,1zM355,3839l11,5l-11-4l-11-4z"/>
<path color="#a96207" d="M1416,3070l11,22l-11-9l-11,11zM1274,3208l11-13l-11-8l-11-29zM1099,3327l11-32l-11-12l-11,53zM464,3779l11-36l-11,14l-11,6zM399,3815l11-25l-11,2l-11,37z"/>
<path color="#b06a0a" d="M1394,3126l11-31l-11-31l-11,44zM1340,3132l11-3l-12,21l-10-16zM596,3662l11,18l-11-20l-11,0zM508,3755l11-22l-11-3l-11-43z"/>
<path color="#b7710e" d="M1329,3160l11-28l-11,2l-11,15zM1055,3342l11-18l-11-11l-11,51zM858,3499l11-49l-11,7l-11,45zM344,3839l11,0l-11-3l-11,13z"/>
<path color="#bd7910" d="M574,3717l11-108l-11,40l-11,46zM410,3790l11-6l-11,19l-11-11z"/>
<path color="#c48014" d="M1066,3324l11-1l-11,9l-11-19z"/>
<path color="#cb8817" d="M1405,3095l11-25l-11,24l-11-30zM1143,3242l11-8l-11,52l-11,21z"/>
<path color="#d1911b" d="M1252,3227l11-51l-11-37l-11,57zM880,3462l11,15l-11-60l-11,22z"/>
<path color="#d79b20" d="M902,3389l11,78l-11-49l-11,6z"/>
<path color="#dda524" d="M1263,3176l11,32l-11-50l-11-19zM869,3450l11,12l-11-23l-11,18z"/>
<path color="#e4af2a" d="M585,3609l11,53l-11-2l-11-11z"/>
<path color="#eab92f" d="M891,3477l11-88l-11,35l-11-7z"/>
<path color="#4e2100" d="M1373,3180l11-8l-11-7l-11,7z"/>
<path color="#552500" d="M1384,3172l11-18l-12,3l-10,8zM760,3606l11-14l-11-3l-11,12zM749,3615l11-9l-11-5l-11,5z"/>
<path color="#5c2900" d="M1252,3263l11-10l-11-26l-11,18zM1241,3258l11,5l-11-18l-11,6zM1023,3424l11-4l-12-22l-10,0zM574,3746l11-27l-11-2l-11,14zM454,3820l11-1l-11-14l-11,7z"/>
<path color="#632d00" d="M1395,3154l11-11l-12-17l-11,31zM1034,3420l11-22l-12-12l-11,12zM498,3780l10,6l-11-19l-11,17zM465,3819l11-10l-12-30l-10,26z"/>
<path color="#6a3100" d="M1187,3297l11-22l-11,2l-11,22zM924,3487l11-13l-11-5l-11-2zM662,3674l11-17l-12-16l-11,28zM508,3786l11-20l-11-11l-11,12z"/>
<path color="#713500" d="M1012,3416l11,8l-11-26l-11-1zM990,3426l11-7l-11,4l-11,10zM968,3452l11-27l-11,14l-11,4zM957,3447l11,5l-11-9l-11,5z"/>
<path color="#783a00" d="M1045,3398l10-24l-11,3l-11,9zM1001,3419l11-3l-11-19l-11,26zM935,3474l11-25l-11,1l-11,19zM826,3545l11-19l-11,16l-11-1zM716,3638l11-56l-11,26l-11,28zM684,3651l10-8l-11-21l-11,14zM673,3657l11-6l-12-15l-11,5zM629,3687l11-8l-11-5l-11-6zM541,3752l11-25l-11,20l-11-15zM388,3858l11-3l-11-22l-11,12z"/>
<path color="#7f3f01" d="M837,3526l11-11l-12,10l-10,17zM618,3693l11-6l-11-19l-11,12zM399,3855l11-1l-11-39l-11,18z"/>
<path color="#864502" d="M1406,3143l11-19l-12-29l-11,31zM1198,3275l11-16l-12,5l-10,13zM1132,3327l11-33l-11,25l-11,8zM1055,3374l11,12l-11-44l-11,35zM859,3505l11,4l-12-10l-11,27zM815,3546l11-1l-11-4l-11-10zM804,3559l11-13l-11-15l-11,29zM771,3592l11-32l-11-14l-11,43zM530,3749l11,3l-11-20l-11,1zM519,3766l11-17l-11-16l-11,22zM377,3861l11-3l-11-13l-11-1z"/>
<path color="#8d4a03" d="M1121,3338l11-11l-11,0l-11-32zM432,3832l11-21l-11,0l-11-27z"/>
<path color="#945004" d="M1438,3105l11-18l-11,2l-11,3zM1307,3194l11,11l-11-26l-11-12zM1066,3386l11-11l-11-51l-11,18zM891,3495l11-3l-11-15l-11-15zM607,3692l11,1l-11-13l-11-18zM410,3854l11-18l-11-46l-11,25z"/>
<path color="#9b5605" d="M1340,3183l11-14l-11-37l-11,28zM1318,3205l11-45l-11,6l-11,13zM1285,3214l11-26l-11,7l-11,13zM366,3858l11,3l-11-17l-11-5z"/>
<path color="#a25b06" d="M1351,3169l11-1l-11-39l-11,3zM1263,3253l11-60l-11-17l-11,51zM913,3478l11,9l-11-20l-11-78zM476,3809l11-62l-12-4l-11,36zM421,3836l11-4l-11-48l-11,6z"/>
<path color="#a96207" d="M1427,3107l11-2l-11-13l-11-22zM1296,3188l11,6l-11-27l-11,28zM902,3492l11-14l-11-89l-11,88z"/>
<path color="#b06a0a" d="M1417,3124l10-17l-11-37l-11,25zM870,3509l10-25l-11-34l-11,49zM694,3643l11-64l-11,13l-11,30zM585,3719l11-37l-11-73l-11,108z"/>
<path color="#b7710e" d="M355,3858l11,0l-11-19l-11,0z"/>
<path color="#bd7910" d="M1077,3375l11-65l-11,13l-11,1zM880,3484l11,11l-11-33l-11-12z"/>
<path color="#c48014" d="M1143,3294l11-12l-11-40l-11,77z"/>
<path color="#cb8817" d="M596,3682l11,10l-11-30l-11-53z"/>
<path color="#fbe157" d="M1154,3282l11-61l-11,13l-11,8z"/>
<path color="#4e2100" d="M1384,3183l11-7l-11-4l-11,8z"/>
<path color="#552500" d="M1264,3267l10-17l-11,3l-11,10zM760,3625l11-10l-11-9l-11,9zM476,3824l11-12l-11-3l-11,10z"/>
<path color="#5c2900" d="M1395,3176l11-22l-11,0l-11,18zM1373,3184l11-1l-11-3l-11-12zM1253,3267l11,0l-12-4l-11-5zM1034,3426l11-14l-11,8l-11,4zM1023,3436l11-10l-11-2l-11-8zM771,3615l11-15l-11-8l-11,14zM585,3745l11-7l-11-19l-11,27z"/>
<path color="#632d00" d="M1406,3154l11-5l-11-6l-11,11zM421,3855l11-7l-11-12l-11,18z"/>
<path color="#6a3100" d="M1318,3226l11-5l-11-16l-11-11zM1078,3391l11-21l-12,5l-11,11zM1045,3412l11-23l-11,9l-11,22zM1012,3437l11-1l-11-20l-11,3zM924,3496l11,1l-11-10l-11-9zM695,3663l11-10l-12-10l-10,8zM432,3848l11-12l-11-4l-11,4z"/>
<path color="#713500" d="M1067,3393l11-2l-12-5l-11-12zM1001,3445l11-8l-11-18l-11,7zM979,3463l11-12l-11-26l-11,27zM968,3461l11,2l-11-11l-11-5zM684,3663l11,0l-11-12l-11,6z"/>
<path color="#783a00" d="M1417,3149l11-20l-11-5l-11,19zM1362,3174l11,10l-11-16l-11,1zM990,3451l11-6l-11-19l-11-1zM935,3497l11-46l-11,23l-11,13zM913,3501l11-5l-11-18l-11,14zM596,3738l11-11l-11-45l-11,37zM552,3753l11,5l-11-31l-11,25z"/>
<path color="#7f3f01" d="M1274,3250l11-14l-11-43l-11,60zM1132,3344l11-12l-11-5l-11,11zM1056,3389l11,4l-12-19l-10,24zM782,3600l11-27l-11-13l-11,32zM651,3685l11-6l-11-22l-11,22zM563,3758l11-20l-11-10l-11-1z"/>
<path color="#864502" d="M1450,3124l10-8l-11-29l-11,18zM1439,3128l11-4l-12-19l-11,2zM1428,3129l11-1l-12-21l-10,17zM957,3463l11-2l-11-14l-11,2zM870,3535l11-8l-11-18l-11-4zM859,3547l11-12l-11-30l-11,10zM848,3544l11,3l-11-32l-11,11zM717,3646l11-3l-12-5l-11-59zM629,3691l11-11l-11,7l-11,6zM618,3707l11-16l-11,2l-11-1zM509,3786l11-38l-12,38l-10-6z"/>
<path color="#8d4a03" d="M837,3536l11,8l-11-18l-11,19zM706,3653l11-7l-12-67l-11,64zM607,3727l11-20l-11-15l-11-10zM388,3860l11-19l-11,17l-11,3z"/>
<path color="#945004" d="M1329,3221l11-60l-11-1l-11,45zM1231,3279l11-32l-11-5l-11,19zM946,3451l11,12l-11-14l-11,25zM662,3679l11-47l-11,42l-11-17zM377,3863l11-3l-11,1l-11-3z"/>
<path color="#9b5605" d="M1285,3236l11-16l-11-6l-11-21zM1121,3353l11-9l-11-6l-11-47zM443,3836l11-63l-11,38l-11,21z"/>
<path color="#a25b06" d="M1089,3370l10-13l-11-47l-11,65zM881,3527l11-48l-12,5l-10,25zM487,3812l11-63l-11-2l-11,62zM366,3880l11-17l-11-5l-11,0z"/>
<path color="#a96207" d="M1143,3332l11-42l-11,4l-11,33zM793,3573l11-18l-11-6l-11,11zM728,3643l10-91l-11,30l-11,56z"/>
<path color="#b06a0a" d="M1296,3220l11-37l-11,5l-11,26zM1198,3278l11-54l-11,51l-11,22z"/>
<path color="#bd7910" d="M1154,3290l11,23l-11-31l-11,12z"/>
<path color="#cb8817" d="M1110,3322l11,31l-11-62l-11,30zM1099,3357l11-35l-11-1l-11-11z"/>
<path color="#d79b20" d="M1165,3313l11-46l-11-46l-11,61z"/>
<path color="#552500" d="M1384,3204l11-9l-11-12l-11,1z"/>
<path color="#5c2900" d="M1461,3144l11-2l-12-26l-10,8zM1395,3195l11-36l-11,17l-11,7zM607,3741l11-8l-11-6l-11,11zM487,3827l11-3l-11-12l-11,12z"/>
<path color="#632d00" d="M1373,3203l11,1l-11-20l-11-10zM1023,3444l11-8l-11,0l-11,1zM1012,3459l11-15l-11-7l-11,8zM1001,3457l11,2l-11-14l-11,6zM936,3503l11,6l-12-12l-11-1zM575,3772l11-20l-12-14l-11,20zM564,3769l11,3l-12-14l-11-5zM476,3839l11-12l-11-3l-11-10z"/>
<path color="#6a3100" d="M1450,3141l11,3l-11-20l-11,4zM990,3462l11-5l-11-6l-11,12zM979,3477l11-15l-11,1l-11-2zM881,3548l11-7l-11-14l-11,8zM870,3548l11,0l-11-13l-11,12zM782,3605l11-5l-11,0l-11,15zM717,3668l11-21l-11-1l-11,7zM618,3733l11-13l-11-13l-11,20zM443,3853l11-8l-11-9l-11,12z"/>
<path color="#713500" d="M1286,3244l11,11l-12-19l-11,14zM1253,3292l11-16l-11-9l-11-20zM1242,3302l11-10l-11-45l-11,32zM1133,3371l10-17l-11-10l-11,9zM1078,3400l11-10l-11,1l-11,2zM1034,3436l11-30l-11,20l-11,10zM947,3509l10-19l-11-39l-11,46z"/>
<path color="#783a00" d="M1439,3147l11-6l-11-13l-11,1zM1428,3152l11-5l-11-18l-11,20zM1297,3255l11-16l-12-19l-11,16zM1089,3390l11-10l-11-10l-11,21zM1067,3419l11-19l-11-7l-11-4zM925,3502l11,1l-12-7l-11,5zM728,3647l11-25l-11,21l-11,3zM662,3700l11-19l-11-2l-11,6zM586,3752l10-22l-11,15l-11-7z"/>
<path color="#7f3f01" d="M1264,3276l11-56l-11,47l-11,0zM1122,3380l11-9l-12-18l-11-31zM1056,3401l11,18l-11-30l-11,23zM968,3463l11,14l-11-16l-11,2zM509,3824l11-8l-11-30l-11-37zM498,3824l11,0l-11-75l-11,63zM378,3900l11-8l-12-29l-11,17z"/>
<path color="#864502" d="M1406,3159l11-28l-11,23l-11,22zM629,3720l11-17l-11-12l-11,16z"/>
<path color="#8d4a03" d="M1231,3288l11,14l-11-23l-11-44zM1143,3354l11-35l-11,13l-11,12zM892,3541l11-31l-11-31l-11,48zM793,3600l11-36l-11,9l-11,27z"/>
<path color="#945004" d="M1362,3190l11,13l-11-29l-11-18zM1340,3211l11-23l-11-27l-11,60zM1198,3319l11-9l-11-32l-11,2zM957,3490l11-27l-11,0l-11-12zM389,3892l11-32l-12,0l-11,3z"/>
<path color="#9b5605" d="M1165,3337l11-13l-11-11l-11-23zM520,3816l11-68l-11,0l-11,38zM465,3820l11,19l-11-25l-11-41zM421,3860l11-19l-11,14l-11-40z"/>
<path color="#a25b06" d="M1100,3380l11-44l-12,21l-10,13zM673,3681l11-21l-11-28l-11,47zM454,3845l11-25l-11-47l-11,63z"/>
<path color="#a96207" d="M1154,3319l11,18l-11-47l-11,42zM1111,3336l11,44l-12-58l-11,35zM804,3564l11,13l-11-22l-11,18zM640,3703l11-47l-11,24l-11,11z"/>
<path color="#b06a0a" d="M1308,3239l10-54l-11-2l-11,37z"/>
<path color="#b7710e" d="M1351,3188l11,2l-11-34l-11,5zM1187,3291l11,28l-11-39l-11-13zM1176,3324l11-33l-11-24l-11,46zM837,3544l11-13l-11,5l-11,10zM815,3577l11-16l-11-37l-11,31zM400,3860l10-24l-11,5l-11,19z"/>
<path color="#bd7910" d="M826,3561l11-17l-11,2l-11-22zM410,3836l11,24l-11-45l-11,26z"/>
<path color="#c48014" d="M1209,3310l11-48l-11-38l-11,54z"/>
<path color="#cb8817" d="M739,3622l11-47l-12-23l-10,91z"/>
<path color="#d1911b" d="M903,3510l11-72l-11,43l-11-2z"/>
<path color="#d79b20" d="M1220,3262l11,26l-11-53l-11-11z"/>
<path color="#f3cd40" d="M531,3748l11-38l-11-19l-11,57z"/>
<path color="#4e2100" d="M1395,3210l11-14l-11-1l-11,9zM520,3832l11-8l-11-8l-11,8z"/>
<path color="#552500" d="M1472,3139l11,11l-11-8l-11,2zM1384,3208l11,2l-11-6l-11-1zM509,3828l11,4l-11-8l-11,0z"/>
<path color="#5c2900" d="M1461,3160l11-21l-11,5l-11-3zM629,3745l11-6l-11-19l-11,13zM498,3832l11-4l-11-4l-11,3zM487,3842l11-10l-11-5l-11,12z"/>
<path color="#632d00" d="M1264,3297l11-30l-11,9l-11,16zM1209,3331l11,5l-11-26l-11,9zM1023,3463l11-17l-11-2l-11,15zM1012,3462l11,1l-11-4l-11-2zM728,3680l11-17l-11-16l-11,21zM619,3744l10,1l-11-12l-11,8zM586,3763l11,5l-11-16l-11,20zM389,3917l11-13l-11-12l-11,8z"/>
<path color="#6a3100" d="M1450,3150l11,10l-11-19l-11,6zM1308,3256l11-12l-11-5l-11,16zM1242,3306l11-14l-11,10l-11-14zM990,3489l11-19l-11-8l-11,15zM881,3557l11-4l-11-5l-11,0zM717,3683l11-3l-11-12l-11-21zM673,3709l11,0l-11-28l-11,19zM476,3848l11-6l-11-3l-11-19z"/>
<path color="#713500" d="M1100,3400l11,4l-11-24l-11,10zM892,3553l11-24l-11,12l-11,7zM794,3624l11-12l-12-12l-11,5z"/>
<path color="#783a00" d="M1297,3259l11-3l-11-1l-11-11zM1220,3336l11-14l-11-60l-11,48zM1176,3335l11,12l-11-23l-11,13zM1078,3419l11-31l-11,12l-11,19zM1067,3423l11-4l-11,0l-11-18zM1001,3470l11-8l-11-5l-11,5zM684,3709l11-13l-11-36l-11,21zM640,3739l11-35l-11-1l-11,17z"/>
<path color="#7f3f01" d="M1231,3322l11-16l-11-18l-11-26zM1198,3332l11-1l-11-12l-11-28zM1034,3446l11-34l-11,24l-11,8zM903,3529l11,10l-11-29l-11,31zM531,3824l11-37l-11-39l-11,68zM465,3844l11,4l-11-28l-11,25zM454,3848l11-4l-11,1l-11,8zM444,3868l10-20l-11,5l-11-12zM400,3904l11-20l-11-24l-11,32z"/>
<path color="#864502" d="M1187,3347l11-15l-11-41l-11,33zM826,3595l11-13l-11-21l-11,16zM739,3663l11-31l-11-10l-11,25zM706,3684l11-1l-11-36l-11,0zM695,3696l11-12l-11-37l-11,13zM662,3717l11-8l-11-9l-11-44zM597,3768l11-52l-12,14l-10,22z"/>
<path color="#8d4a03" d="M1406,3196l11-79l-11,42l-11,36zM1362,3211l11-13l-11-8l-11-2zM1144,3365l11-49l-12,38l-10,17zM870,3554l11,3l-11-9l-11-23zM433,3853l11,15l-12-27l-11,19z"/>
<path color="#945004" d="M1352,3196l10,15l-11-23l-11,23zM1341,3211l11-15l-12,15l-11,10zM1319,3244l11-6l-12-53l-10,54zM805,3612l10-31l-11-17l-11,36zM761,3661l11-20l-11-28l-11-38z"/>
<path color="#9b5605" d="M1056,3413l11,10l-11-22l-11,5zM1045,3412l11,1l-11-7l-11,30zM815,3581l11,14l-11-18l-11-13zM651,3704l11,13l-11-61l-11,47z"/>
<path color="#a25b06" d="M1330,3238l11-27l-12,10l-11-36zM1275,3267l11-22l-11-25l-11,56zM1111,3404l11-47l-11-21l-11,44zM772,3641l11-47l-12-9l-10,28zM422,3879l11-26l-12,7l-11-24zM411,3884l11-5l-12-43l-10,24z"/>
<path color="#a96207" d="M914,3539l11-15l-11-86l-11,72zM837,3582l11-29l-11-9l-11,17zM750,3632l11,29l-11-86l-11,47z"/>
<path color="#b06a0a" d="M859,3551l11,3l-11-29l-11,6z"/>
<path color="#b7710e" d="M925,3524l11-30l-11,8l-11-64z"/>
<path color="#bd7910" d="M848,3553l11-2l-11-20l-11,13z"/>
<path color="#eab92f" d="M542,3787l11-67l-11-10l-11,38z"/>
<path color="#fde864" d="M553,3720l11,23l-11-42l-11,9z"/>
<path color="#552500" d="M1231,3330l11-3l-11-5l-11,14zM772,3664l11-6l-11-17l-11,20zM717,3702l11-8l-11-11l-11,1zM695,3723l11-11l-11-16l-11,13z"/>
<path color="#5c2900" d="M1472,3165l11-13l-11-13l-11,21zM1242,3327l11-12l-11-9l-11,16zM706,3712l11-10l-11-18l-11,12zM641,3752l11-19l-12,6l-11,6zM400,3923l11-7l-11-12l-11,13z"/>
<path color="#632d00" d="M1483,3152l11-15l-11,13l-11-11zM1406,3199l11-4l-11,1l-11,14zM1275,3312l11-16l-11-29l-11,30zM1199,3361l11-20l-12-9l-11,15zM1002,3498l11-17l-12-11l-11,19zM925,3560l11-17l-11-19l-11,15zM892,3576l11-13l-11-10l-11,4zM630,3751l11,1l-12-7l-10-1zM597,3776l11,4l-11-12l-11-5zM542,3824l11-9l-11-28l-11,37zM411,3916l11-11l-11-21l-11,20z"/>
<path color="#6a3100" d="M1330,3267l11-17l-11-12l-11,6zM1111,3410l11-10l-11,4l-11-4zM761,3665l11-1l-11-3l-11-29zM487,3853l11-14l-11,3l-11,6z"/>
<path color="#713500" d="M1210,3341l10-19l-11,9l-11,1z"/>
<path color="#783a00" d="M1078,3429l11-9l-11-1l-11,4zM1034,3472l11-40l-11,14l-11,17zM1013,3481l11-20l-12,1l-11,8zM881,3559l11,17l-11-19l-11-3zM652,3733l11-8l-12-21l-11,35zM586,3777l11-1l-11-13l-11,5zM498,3839l11-13l-11,6l-11,10zM477,3852l10,1l-11-5l-11-4z"/>
<path color="#7f3f01" d="M1286,3296l11-12l-11-39l-11,22zM1067,3446l11-17l-11-6l-11-10zM991,3494l11,4l-12-9l-10-42zM936,3543l11-16l-11-33l-11,30zM783,3658l11-33l-11-31l-11,47zM728,3694l11-77l-11,63l-11,3zM608,3780l11-33l-11-31l-11,52zM422,3905l11-28l-11,2l-11,5z"/>
<path color="#864502" d="M1100,3411l11-1l-11-10l-11-12zM1089,3420l11-9l-11-23l-11,31zM859,3598l11-9l-11-38l-11,2zM663,3725l10-26l-11,18l-11-13zM455,3867l11-11l-12-8l-10,20zM444,3879l11-12l-11,1l-11-15z"/>
<path color="#8d4a03" d="M1417,3195l11-8l-11-70l-11,79zM1341,3250l11-38l-11-1l-11,27zM1253,3315l11-71l-11,48l-11,14zM903,3563l11-55l-11,21l-11,24zM870,3589l11-30l-11-5l-11-3zM849,3573l10,25l-11-45l-11,29zM816,3620l11-32l-12-7l-10,31zM619,3747l11,4l-11-7l-11-28zM466,3856l11-4l-12-8l-11,4zM433,3877l11,2l-11-26l-11,26z"/>
<path color="#945004" d="M1374,3216l11-25l-12,7l-11,13zM1297,3284l11-48l-11,23l-11-14zM838,3584l11-11l-12,9l-11,13z"/>
<path color="#9b5605" d="M1450,3165l11-32l-11,17l-11-13zM575,3777l11,0l-11-9l-11-25z"/>
<path color="#a96207" d="M1439,3166l11-1l-11-28l-11-13zM1144,3373l11-39l-11,31l-11-8zM1122,3400l11-81l-11,38l-11,47z"/>
<path color="#b06a0a" d="M1045,3432l11-20l-11,0l-11,34zM947,3527l11-39l-11-19l-11,25z"/>
<path color="#b7710e" d="M980,3480l11,14l-11-47l-11,2zM553,3815l11-60l-11-35l-11,67z"/>
<path color="#bd7910" d="M1428,3187l11-21l-11-42l-11-7zM1352,3212l11-23l-11,7l-11,15z"/>
<path color="#d79b20" d="M958,3488l11-38l-11,29l-11-10zM564,3755l11,22l-11-34l-11-23z"/>
<path color="#dda524" d="M1155,3334l11-49l-11,31l-11,49z"/>
<path color="#fde864" d="M1166,3285l11,12l-11-32l-11,51z"/>
<path color="#4e2100" d="M783,3677l11-11l-11-8l-11,6zM728,3712l11-6l-11-12l-11,8z"/>
<path color="#552500" d="M1286,3315l11-17l-11-2l-11,16zM772,3680l11-3l-11-13l-11,1zM553,3833l11-10l-11-8l-11,9z"/>
<path color="#5c2900" d="M1210,3362l11-2l-11-19l-11,20zM903,3584l11-20l-11-1l-11,13zM641,3777l11-14l-11-11l-11-1zM608,3787l11-2l-11-5l-11-4z"/>
<path color="#632d00" d="M1494,3163l11-12l-11-14l-11,15zM1429,3212l10-19l-11-6l-11,8zM1297,3298l11-8l-11-6l-11,12zM794,3666l11-22l-11-19l-11,33zM706,3728l11-40l-11,24l-11,11zM652,3763l11-15l-11-15l-11,19z"/>
<path color="#6a3100" d="M1418,3209l11,3l-12-17l-11,4zM1341,3261l11-5l-11-6l-11,17zM1221,3360l11-14l-12-24l-10,19zM892,3579l11,5l-11-8l-11-17zM871,3598l11-18l-12,9l-11,9zM663,3748l11-5l-11-18l-11,8zM411,3925l11-27l-11,18l-11,7z"/>
<path color="#713500" d="M1439,3193l11-3l-11-24l-11,21zM1078,3457l11-24l-11-4l-11,17zM936,3557l11-42l-11,28l-11,17zM860,3617l11-19l-12,0l-10-25zM455,3902l11-18l-11-17l-11,12z"/>
<path color="#783a00" d="M1450,3190l11-14l-11-11l-11,1zM1232,3346l11-21l-12,5l-11-8zM1122,3410l11-7l-11-3l-11,10zM1068,3467l10-10l-11-11l-11-34zM1024,3477l11,10l-11-26l-11,20zM1013,3483l11-6l-11,4l-11,17zM882,3580l10-1l-11-20l-11,30zM816,3639l11-2l-11-17l-11-14zM761,3682l11-2l-11-15l-11-37zM619,3785l11-42l-11,4l-11,33zM444,3898l11,4l-11-23l-11-2z"/>
<path color="#7f3f01" d="M1308,3290l11-11l-11-43l-11,48zM1275,3323l11-8l-11-3l-11-68zM1254,3319l10-36l-11,32l-11,12zM1111,3422l11-12l-11,0l-11,1zM1035,3487l11-37l-12,22l-10-11zM925,3562l11-5l-11,3l-11-52zM805,3644l11-5l-11-33l-11,19zM466,3884l11-8l-11-20l-11,11zM433,3896l11,2l-11-21l-11,28z"/>
<path color="#864502" d="M1461,3176l11-7l-11-36l-11,32zM914,3564l11-2l-11-54l-11,55zM564,3823l11-25l-11-43l-11,60zM477,3876l11-23l-11-1l-11,4z"/>
<path color="#8d4a03" d="M1472,3169l11-26l-11,22l-11-32zM1155,3403l11-14l-11-55l-11,39zM849,3603l11,14l-11-44l-11,11z"/>
<path color="#945004" d="M1407,3204l11,5l-12-10l-10-29zM1089,3433l11-41l-11,28l-11,9zM1046,3450l11-3l-12-15l-11,40zM674,3743l11-50l-12,6l-10,26zM575,3798l11,3l-11-24l-11-22z"/>
<path color="#9b5605" d="M1385,3224l11-20l-11-13l-11,25zM1057,3447l11,20l-12-55l-11,20zM827,3637l11-71l-11,22l-11,32zM739,3706l11-60l-11-29l-11,77zM586,3801l11-64l-11,40l-11,0z"/>
<path color="#a25b06" d="M1319,3279l11-11l-11-47l-11,15zM1264,3283l11,40l-11-79l-11,71zM1144,3404l11-1l-11-30l-11-54zM1133,3403l11,1l-11-85l-11,81z"/>
<path color="#a96207" d="M531,3814l11-17l-11-6l-11,31z"/>
<path color="#b06a0a" d="M1396,3204l11,0l-11-34l-11,21zM1352,3256l11-101l-11,57l-11,38zM1188,3358l11-2l-11-9l-11-50z"/>
<path color="#bd7910" d="M1166,3389l11-14l-11-90l-11,49zM980,3507l11-15l-11-12l-11-30zM750,3646l11,36l-11-54l-11-11z"/>
<path color="#c48014" d="M969,3498l11,9l-11-57l-11,38z"/>
<path color="#d1911b" d="M1177,3375l11-17l-11-61l-11-12z"/>
<path color="#4e2100" d="M772,3695l11-5l-11-10l-11,2zM740,3717l10-6l-11-5l-11,6z"/>
<path color="#552500" d="M1232,3375l11-15l-11-14l-11,14zM1079,3481l11-17l-12-7l-10,10zM783,3690l11-17l-11,4l-11,3zM652,3775l11-5l-11-7l-11,14zM455,3921l11-10l-11-9l-11-4z"/>
<path color="#5c2900" d="M1287,3330l10-23l-11,8l-11,8zM1221,3363l11,12l-11-15l-11,2zM1166,3414l11-7l-11-18l-11,14zM1155,3418l11-4l-11-11l-11,1zM827,3661l11-17l-11-7l-11,2zM794,3673l11-16l-11,9l-11,11zM674,3758l11-5l-11-10l-11,5zM663,3770l11-12l-11-10l-11,15z"/>
<path color="#632d00" d="M1429,3224l11-9l-11-3l-11-3zM1297,3307l11-3l-11-6l-11,17zM871,3616l11-15l-11-3l-11,19zM860,3633l11-17l-11,1l-11-14zM816,3654l11,7l-11-22l-11,5zM805,3657l11-3l-11-10l-11,22zM729,3726l11-9l-12-5l-11-24zM718,3739l11-13l-12-38l-11,40zM586,3823l11-7l-11-15l-11-3zM565,3838l10-29l-11,14l-11,10z"/>
<path color="#6a3100" d="M1505,3154l11,6l-11-9l-11,12zM1462,3193l11,0l-12-17l-11,14zM1440,3215l11-25l-12,3l-10,19zM1319,3297l11-5l-11-13l-11,11zM1308,3304l11-7l-11-7l-11,8zM1144,3420l11-2l-11-14l-11-1zM1090,3464l11-15l-12-16l-11,24zM1068,3474l11,7l-11-14l-11-20zM936,3565l11-6l-11-2l-11,5z"/>
<path color="#713500" d="M1473,3193l10-23l-11-1l-11,7zM1330,3292l11-14l-11-10l-11,11zM1276,3336l11-6l-12-7l-11-40zM1243,3360l11-31l-11-4l-11,21zM1177,3407l11-29l-11-3l-11,14zM926,3568l10-3l-11-3l-11,2zM915,3569l11-1l-12-4l-11,20zM575,3809l11,14l-11-25l-11,25zM466,3911l11-49l-11,22l-11,18z"/>
<path color="#783a00" d="M1418,3217l11,7l-11-15l-11-5zM1254,3329l11,13l-11-23l-11,6zM750,3711l11-26l-11-39l-11,60zM685,3753l11-12l-11-48l-11,50z"/>
<path color="#7f3f01" d="M1265,3342l11-6l-12-53l-10,36zM947,3559l11-14l-11-30l-11,42zM882,3601l11-14l-11-7l-11,18zM761,3685l11,10l-11-13l-11-36z"/>
<path color="#864502" d="M838,3644l11-19l-11-59l-11,71z"/>
<path color="#8d4a03" d="M1341,3278l11-41l-11,24l-11,7zM980,3535l11-7l-11-21l-11-9zM630,3771l11-14l-11-14l-11,42zM488,3863l11,2l-11-12l-11,23zM422,3926l11-35l-11,7l-11,27z"/>
<path color="#945004" d="M1407,3222l11-5l-11-13l-11,0zM1101,3449l11-19l-12-38l-11,41zM1024,3489l11-12l-11,0l-11,6zM1013,3499l11-10l-11-6l-11,8zM893,3587l11-30l-12,22l-10,1zM849,3625l11,8l-11-30l-11-37z"/>
<path color="#9b5605" d="M1483,3170l11-38l-11,11l-11,26zM1188,3378l11-33l-11,13l-11,17zM597,3816l11-48l-11-31l-11,64zM532,3859l11-29l-12-16l-10-8z"/>
<path color="#a25b06" d="M991,3528l11-53l-11,17l-11,15zM696,3741l11-17l-11-44l-11,13zM543,3830l11,4l-12-37l-11,17z"/>
<path color="#a96207" d="M521,3838l11,21l-11-53l-11,10z"/>
<path color="#b06a0a" d="M1112,3430l10-35l-11,27l-11-30zM1046,3473l11-76l-11,53l-11,37z"/>
<path color="#b7710e" d="M969,3517l11,18l-11-37l-11-14zM958,3545l11-28l-11-33l-11,31z"/>
<path color="#bd7910" d="M1363,3247l11-28l-11-64l-11,101z"/>
<path color="#c48014" d="M499,3865l11-74l-11,38l-11,24z"/>
<path color="#dda524" d="M1374,3219l11,1l-11-14l-11-51z"/>
<path color="#4e2100" d="M1243,3382l11-15l-11-7l-11,15z"/>
<path color="#552500" d="M1287,3351l11-17l-11-4l-11,6zM1177,3422l11-16l-11,1l-11,7zM598,3831l10-7l-11-8l-11,7zM466,3918l11,1l-11-8l-11,10z"/>
<path color="#5c2900" d="M1232,3377l11,5l-11-7l-11-12zM1166,3416l11,6l-11-8l-11,4zM1090,3477l11-9l-11-4l-11,17zM1079,3488l11-11l-11,4l-11-7zM860,3650l11-20l-11,3l-11-8zM784,3692l10-6l-11,4l-11,5zM751,3712l11-3l-12,2l-10,6z"/>
<path color="#632d00" d="M1298,3334l11-20l-12-7l-10,23zM794,3686l11-14l-11,1l-11,17zM762,3709l11-9l-12-15l-11,26zM663,3772l11-4l-11,2l-11,5z"/>
<path color="#6a3100" d="M1440,3227l11-18l-11,6l-11,9zM1101,3468l11-10l-11-9l-11,15zM991,3545l11-4l-11-13l-11,7zM871,3630l11-16l-11,2l-11,17zM773,3700l11-8l-12,3l-11-10zM729,3731l11-26l-11,21l-11,13zM587,3828l11,3l-12-8l-11-14zM543,3878l11-21l-11-27l-11,29zM532,3877l11,1l-11-19l-11-21z"/>
<path color="#713500" d="M1341,3299l11-21l-11,0l-11,14zM1320,3312l11-24l-12,9l-11,7zM1309,3314l11-2l-12-8l-11,3zM1155,3421l11-5l-11,2l-11,2zM893,3612l11-2l-11-23l-11,14zM882,3614l11-2l-11-11l-11,15zM816,3665l11-6l-11-5l-11,3zM805,3672l11-7l-11-8l-11,16zM608,3824l11-8l-11-48l-11,48zM576,3835l11-7l-12-19l-10,29zM455,3924l11-6l-11,3l-11-30z"/>
<path color="#783a00" d="M1221,3382l11-5l-11-14l-11-13zM1188,3406l11-26l-11-2l-11,29zM1112,3458l11-15l-11-13l-11,19zM838,3652l11-43l-11,35l-11,17zM674,3768l11-38l-11,28l-11,12zM652,3780l11-8l-11,3l-11-18zM499,3897l11,5l-11-37l-11-2zM477,3919l11-28l-11-29l-11,49z"/>
<path color="#7f3f01" d="M1516,3164l11-13l-11,9l-11-6zM1254,3367l11-49l-11,11l-11,31zM1024,3518l11-5l-11-24l-11,10zM959,3556l10-4l-11-7l-11,14zM707,3737l11-18l-11,5l-11,17zM630,3794l11-7l-11-16l-11,15zM619,3816l11-22l-11-8l-11-18zM554,3857l11-23l-11,0l-11-4zM433,3945l11-9l-11-45l-11,35z"/>
<path color="#864502" d="M980,3542l11,3l-11-10l-11-18zM926,3589l11-25l-11,4l-11,1zM641,3787l11-7l-11-23l-11,14z"/>
<path color="#8d4a03" d="M1451,3209l11-29l-11,10l-11,25zM1035,3513l11-18l-11-18l-11,12zM1002,3541l11-17l-11-49l-11,53zM969,3552l11-10l-11-25l-11,28zM904,3610l11-21l-11-32l-11,30zM444,3936l11-12l-11-33l-11,0z"/>
<path color="#945004" d="M1046,3495l11-17l-11-5l-11,4zM1013,3524l11-6l-11-19l-11-24zM915,3589l11,0l-11-20l-11-12zM510,3902l11-16l-11-95l-11,74zM488,3891l11,6l-11-34l-11-1z"/>
<path color="#9b5605" d="M1385,3265l11-9l-11-36l-11-1zM1352,3278l11-27l-11-14l-11,41zM521,3886l11-9l-11-39l-11-47z"/>
<path color="#a25b06" d="M1506,3159l10,5l-11-10l-11-22zM1374,3245l11,20l-11-46l-11,28zM937,3564l11-48l-12,49l-10,3z"/>
<path color="#b06a0a" d="M1495,3156l11,3l-12-27l-11,38z"/>
<path color="#b7710e" d="M1396,3256l11-47l-11-13l-11,24zM1363,3251l11-6l-11,2l-11-10zM1199,3380l11-45l-11,10l-11,33z"/>
<path color="#bd7910" d="M1123,3443l11-68l-12,20l-10,35z"/>
<path color="#c48014" d="M1057,3478l11-17l-11-64l-11,76z"/>
<path color="#eab92f" d="M1134,3375l11,28l-12-31l-11,23z"/>
<path color="#4e2100" d="M543,3894l11-8l-11-8l-11-1z"/>
<path color="#552500" d="M532,3891l11,3l-11-17l-11,9zM521,3897l11-6l-11-5l-11,16z"/>
<path color="#5c2900" d="M1298,3354l11-24l-11,4l-11,17zM1243,3389l11-18l-11,11l-11-5zM1232,3402l11-13l-11-12l-11,5zM1189,3437l10-21l-11-10l-11,16zM1178,3434l11,3l-12-15l-11-6zM620,3827l11-15l-12,4l-11,8zM609,3838l11-11l-12-3l-10,7zM598,3848l11-10l-11-7l-11-3zM554,3886l11-21l-11-8l-11,21zM477,3927l11-5l-11-3l-11-1z"/>
<path color="#632d00" d="M1254,3371l11-9l-11,5l-11,15zM1013,3550l11,3l-11-29l-11,17zM806,3695l11-3l-12-20l-11,14zM795,3703l11-8l-12-9l-10,6zM784,3712l11-9l-11-11l-11,8zM587,3852l11-4l-11-20l-11,7zM445,3950l11-9l-12-5l-11,9z"/>
<path color="#6a3100" d="M1396,3289l11-31l-11-2l-11,9zM1167,3441l11-7l-12-18l-11,5zM1024,3553l11-26l-11-9l-11,6zM817,3692l11-17l-12-10l-11,7zM773,3710l11,2l-11-12l-11,9zM565,3865l11-6l-11-25l-11,23zM488,3922l11-20l-11-11l-11,28z"/>
<path color="#713500" d="M1199,3416l11-13l-11-23l-11,26zM1112,3467l11-7l-11-2l-11,10zM1101,3477l11-10l-11,1l-11,9zM1090,3481l11-4l-11,0l-11,11zM882,3635l11-6l-11-15l-11,16zM828,3675l10-13l-11-3l-11,6zM762,3719l11-9l-11-1l-11,3zM576,3859l11-7l-11-17l-11-1z"/>
<path color="#783a00" d="M1156,3456l11-15l-12-20l-10-18zM1057,3520l11-16l-11-26l-11,17zM915,3613l11-16l-11-8l-11,21zM893,3629l11-19l-11,2l-11,2zM663,3799l11-28l-11,1l-11,8zM456,3941l10-34l-11,17l-11,12z"/>
<path color="#7f3f01" d="M1385,3270l11,19l-11-24l-11-20zM1309,3330l11-34l-11,18l-11,20zM970,3573l11-10l-12-11l-10,4zM838,3662l11-20l-11,10l-11,7zM674,3771l11-10l-11,7l-11,4zM499,3902l11-20l-11,15l-11-6z"/>
<path color="#864502" d="M1451,3221l11-17l-11,5l-11,18zM1123,3460l11-26l-11,9l-11,15zM1079,3491l11-10l-11,7l-11-27zM740,3729l11-16l-11-8l-11,26zM631,3812l11-42l-12,24l-11,22z"/>
<path color="#8d4a03" d="M1528,3158l11,2l-12-9l-11,13zM1221,3391l11,11l-11-20l-11-47zM1068,3504l11-13l-11-30l-11,17zM926,3597l11-33l-11,25l-11,0z"/>
<path color="#945004" d="M1265,3362l11-36l-11-8l-11,49zM1035,3527l11-63l-11,49l-11,5z"/>
<path color="#9b5605" d="M1517,3172l11-14l-12,6l-10-5zM981,3563l11-50l-12,29l-11,10z"/>
<path color="#a25b06" d="M1210,3403l11-12l-11-56l-11,45zM959,3577l11-4l-11-17l-11-40zM849,3642l11-15l-11-18l-11,43zM718,3728l11-10l-11,1l-11,18z"/>
<path color="#b06a0a" d="M1506,3161l11,11l-11-13l-11-3zM685,3761l11-49l-11,18l-11,38z"/>
<path color="#b7710e" d="M1462,3204l11-39l-11,15l-11,29zM1407,3258l11-69l-11,20l-11,47zM1145,3424l11,32l-11-53l-11-28zM948,3564l11,13l-11-61l-11,48z"/>
<path color="#bd7910" d="M1484,3189l11-31l-11,8l-11,8zM1134,3434l11-10l-11-49l-11,68z"/>
<path color="#c48014" d="M1495,3158l11,3l-11-5l-11,10z"/>
<path color="#d1911b" d="M1429,3214l11-12l-11,9l-11-31z"/>
<path color="#efc335" d="M1418,3189l11,25l-11-34l-11,29z"/>
<path color="#4e2100" d="M554,3899l11-13l-11,0l-11,8z"/>
<path color="#552500" d="M1243,3405l11-10l-11-6l-11,13zM1189,3452l11-10l-11-5l-11-3zM1178,3449l11,3l-11-18l-11,7zM609,3863l11-18l-11-7l-11,10zM598,3871l11-8l-11-15l-11,4z"/>
<path color="#5c2900" d="M1232,3413l11-8l-11-3l-11-11zM1200,3442l11-19l-12-7l-10,21zM1167,3455l11-6l-11-8l-11,15zM587,3868l11,3l-11-19l-11,7z"/>
<path color="#632d00" d="M1068,3532l11-21l-11-7l-11,16zM817,3697l11-8l-11,3l-11,3zM456,3956l11-7l-11-8l-11,9z"/>
<path color="#6a3100" d="M1408,3290l10-29l-11-3l-11,31zM1309,3341l11,2l-11-13l-11,24zM1222,3415l10-2l-11-22l-11,12zM1211,3423l11-8l-12-12l-11,13zM828,3689l11-14l-11,0l-11,17zM806,3701l11-4l-11-2l-11,8zM620,3845l11-26l-11,8l-11,11zM565,3886l11-34l-11,13l-11,21zM489,3928l11-4l-12-2l-11,5z"/>
<path color="#713500" d="M1156,3460l11-5l-11,1l-11-32zM904,3635l11-3l-11-22l-11,19zM893,3641l11-6l-11-6l-11,6zM675,3801l11-10l-12-20l-11,28z"/>
<path color="#783a00" d="M1254,3395l11-43l-11,19l-11,18zM1079,3511l11-16l-11-4l-11,13zM915,3632l11-22l-11,3l-11-3zM762,3733l11-2l-11-12l-11-6zM740,3763l11-14l-11-20l-11-11zM664,3802l11-1l-12-2l-11-22z"/>
<path color="#7f3f01" d="M981,3574l11-11l-11,0l-11,10zM882,3646l11-5l-11-6l-11-10zM751,3749l11-16l-11-20l-11,16zM631,3819l11-12l-11,5l-11,15zM500,3924l10-40l-11,18l-11,20zM478,3930l11-2l-12-1l-11-20zM467,3949l11-19l-12-23l-10,34z"/>
<path color="#864502" d="M686,3791l10-13l-11-17l-11,10z"/>
<path color="#8d4a03" d="M1353,3324l11-12l-11-37l-11,8zM871,3657l11-11l-11-21l-11,2zM839,3675l11-38l-12,25l-10,13zM729,3751l11,12l-11-45l-11,10z"/>
<path color="#945004" d="M1462,3234l11-14l-11-16l-11,17zM1276,3358l11-7l-11-25l-11,36zM1036,3543l11-92l-12,76l-11,26zM773,3731l11-58l-11,37l-11,9zM642,3807l11-1l-11-36l-11,42z"/>
<path color="#9b5605" d="M1451,3235l11-1l-11-13l-11-19zM1145,3446l11,14l-11-36l-11,10zM1090,3495l11-40l-11,26l-11,10zM926,3610l11-46l-11,33l-11,16zM653,3806l11-4l-12-25l-10-7z"/>
<path color="#a25b06" d="M1539,3151l11,16l-11-7l-11-2zM1364,3312l11-12l-11-56l-11,31zM510,3884l11,1l-11-3l-11,20z"/>
<path color="#a96207" d="M1495,3205l11-11l-11-36l-11,31z"/>
<path color="#b06a0a" d="M1484,3209l11-4l-11-16l-11-24zM1473,3220l11-11l-11-44l-11,39zM1440,3247l11-12l-11-33l-11,12zM1320,3343l11-81l-11,34l-11,34zM1287,3351l11-31l-11,8l-11-2zM948,3585l11-10l-11-11l-11,0z"/>
<path color="#b7710e" d="M1418,3261l11-22l-11-50l-11,69zM1342,3307l11,17l-11-41l-11-38zM992,3563l11-44l-11-6l-11,50z"/>
<path color="#c48014" d="M1506,3194l11-32l-11-1l-11-3zM718,3737l11,14l-11-23l-11-35z"/>
<path color="#cb8817" d="M1429,3239l11,8l-11-33l-11-25zM696,3778l11-66l-11,0l-11,49z"/>
<path color="#d1911b" d="M1375,3300l11-36l-11-46l-11,26z"/>
<path color="#dda524" d="M1003,3519l11-2l-11,0l-11-4z"/>
<path color="#e4af2a" d="M1331,3262l11,45l-11-62l-11,51z"/>
<path color="#f3cd40" d="M707,3712l11,25l-11-44l-11,19z"/>
<path color="#552500" d="M609,3873l11-19l-11,9l-11,8zM598,3879l11-6l-11-2l-11-3zM565,3902l11-14l-11-2l-11,13z"/>
<path color="#5c2900" d="M1255,3411l11-14l-12-2l-11,10zM1222,3445l11-8l-11-22l-11,8zM1211,3440l11,5l-11-22l-11,19zM1178,3464l11-8l-11-7l-11,6zM554,3904l11-2l-11-3l-11-8zM467,3976l11-8l-11-19l-11,7z"/>
<path color="#632d00" d="M1189,3456l11-21l-11,17l-11-3zM1167,3469l11-5l-11-9l-11,5zM751,3761l11-4l-11-8l-11,14zM675,3819l11-3l-11-15l-11,1zM500,3956l11-20l-11-12l-11,4zM489,3964l11-8l-11-28l-11,2zM478,3968l11-4l-11-34l-11,19z"/>
<path color="#6a3100" d="M1364,3331l11-15l-11-4l-11,12zM1233,3437l11-42l-12,18l-10,2zM762,3757l11-10l-11-14l-11,16z"/>
<path color="#713500" d="M1375,3316l11-3l-11-13l-11,12zM1320,3366l11-26l-11,3l-11-2zM1080,3531l10-34l-11,14l-11,21zM926,3639l11-9l-11-20l-11,22zM773,3747l11-19l-11,3l-11,2z"/>
<path color="#783a00" d="M1353,3330l11,1l-11-7l-11-17zM1036,3553l11-2l-11-8l-11,4zM992,3597l11-17l-11-17l-11,11zM883,3670l11-17l-12-7l-11,11zM828,3696l11-3l-11-4l-11,8zM817,3713l11-17l-11,1l-11,4zM686,3816l11-42l-11,17l-11,10zM664,3816l11,3l-11-17l-11,4zM576,3888l11-19l-11-17l-11,34z"/>
<path color="#7f3f01" d="M1462,3258l11-17l-11-7l-11,1zM839,3693l11-15l-11-3l-11,14zM544,3895l10,9l-11-13l-11-7z"/>
<path color="#864502" d="M1452,3248l10,10l-11-23l-11,12zM1419,3275l11-14l-12,0l-10,29zM1309,3371l11-5l-11-25l-11-21zM1266,3397l10-18l-11-27l-11,43zM872,3682l11-12l-12-13l-10-30zM653,3819l11-3l-11-10l-11,1zM620,3854l11-61l-11,52l-11,18zM511,3936l11-28l-12-24l-10,40z"/>
<path color="#8d4a03" d="M1386,3313l11-20l-11-29l-11,36zM1287,3375l11-16l-11-8l-11,7zM1090,3497l11,0l-11-2l-11,16zM894,3653l11-34l-12,22l-11,5z"/>
<path color="#945004" d="M1298,3359l11,12l-11-51l-11,31zM1276,3379l11-4l-11-17l-11-6zM1003,3580l11-6l-11-55l-11,44zM981,3589l11,8l-11-23l-11-28z"/>
<path color="#9b5605" d="M1506,3216l11-26l-11,4l-11,11zM959,3610l11-32l-11-3l-11,10z"/>
<path color="#a25b06" d="M1550,3173l11,8l-11-14l-11-16zM1047,3551l11-21l-11-79l-11,92zM937,3630l11-31l-11-35l-11,46zM850,3678l11-15l-11-26l-11,38z"/>
<path color="#a96207" d="M1539,3206l11-33l-11-22l-11,5zM1430,3261l11-24l-12,2l-11,22zM1397,3293l11-35l-11,15l-11-9zM948,3599l11,11l-11-25l-11-21zM861,3663l11,19l-11-55l-11,10z"/>
<path color="#b06a0a" d="M1473,3241l11-70l-11,49l-11,14zM970,3578l11,11l-11-43l-11,29zM522,3908l11-23l-12,0l-11-1z"/>
<path color="#b7710e" d="M1101,3497l11-35l-11-7l-11,40z"/>
<path color="#bd7910" d="M1331,3340l11-39l-11-39l-11,81zM1014,3574l11-36l-11-21l-11,2zM784,3728l11-86l-11,31l-11,58z"/>
<path color="#c48014" d="M708,3776l11-44l-12-20l-11,66z"/>
<path color="#d1911b" d="M1517,3190l11-46l-11,18l-11,32z"/>
<path color="#d79b20" d="M1112,3462l11-5l-11-2l-11,0zM1058,3530l11-48l-12,15l-10-46z"/>
<path color="#eab92f" d="M1123,3457l11-47l-11,14l-11,31z"/>
<path color="#4e2100" d="M500,3972l11-8l-11-8l-11,8zM489,3975l11-3l-11-8l-11,4zM478,3982l11-7l-11-7l-11,8z"/>
<path color="#552500" d="M1222,3449l11,3l-11-7l-11-5zM511,3964l11-16l-11-12l-11,20z"/>
<path color="#5c2900" d="M1233,3452l11-29l-11,14l-11,8zM1003,3613l11-6l-11-27l-11,17zM992,3619l11-6l-11-16l-11-8z"/>
<path color="#632d00" d="M1014,3607l11-17l-11-16l-11,6zM938,3651l10-12l-11-9l-11,9zM609,3884l11-30l-11,19l-11,6zM566,3906l11-4l-12,0l-11,2z"/>
<path color="#6a3100" d="M1474,3276l11-19l-12-16l-11,17zM1266,3412l11-13l-11-2l-11,14zM1211,3452l11-3l-11-9l-11-5zM1189,3464l11-11l-11,3l-11,8zM1047,3572l11-3l-11-18l-11,2zM883,3679l11-8l-11-1l-11,12zM773,3759l11-4l-11-8l-11,10zM577,3902l10-15l-11,1l-11,14zM522,3948l11-13l-11-27l-11,28z"/>
<path color="#713500" d="M1463,3273l11,3l-12-18l-10-10zM1310,3379l10-6l-11-2l-11-12zM1200,3453l11-1l-11-17l-11,21zM763,3762l10-3l-11-2l-11,4zM752,3780l11-18l-12-1l-11,3zM686,3818l11-14l-11,12l-11,3z"/>
<path color="#783a00" d="M1430,3307l11-13l-11-33l-11,14zM1091,3545l11-18l-12-30l-10,34zM894,3671l11-11l-11-7l-11,17zM784,3755l11-16l-11-11l-11,19z"/>
<path color="#7f3f01" d="M1419,3313l11-6l-11-32l-11-17zM1277,3399l11-14l-12-6l-10,18zM1058,3569l11-40l-11,1l-11,21zM1025,3590l11-21l-11-31l-11,36zM981,3607l11,12l-11-30l-11-11zM872,3685l11-6l-11,3l-11-19zM828,3711l11-4l-11-11l-11,17zM587,3887l11-23l-11,5l-11,19z"/>
<path color="#864502" d="M1561,3178l11,27l-11-24l-11-8zM1550,3213l11-35l-11-5l-11,33zM1320,3373l11-55l-11,48l-11,5zM1244,3423l11-28l-11,0l-11,42zM1036,3569l11,3l-11-19l-11-15zM948,3639l11-31l-11-9l-11,31zM741,3776l11,4l-12-16l-11-13zM697,3804l11-4l-11-26l-11,42z"/>
<path color="#8d4a03" d="M1167,3482l11-22l-11,9l-11-32zM839,3707l11-24l-11,10l-11,3zM533,3935l11-23l-11-27l-11,23z"/>
<path color="#945004" d="M1539,3219l11-6l-11-7l-11-62zM1452,3269l11,4l-11-25l-11-11zM1441,3294l11-25l-11-32l-11,24zM1288,3385l11-25l-12,15l-11,4zM1102,3527l11-22l-12-8l-11,0z"/>
<path color="#9b5605" d="M1342,3343l11,4l-11-46l-11,39zM1156,3494l11-12l-11-45l-11,5zM1113,3505l11,9l-12-52l-11,35zM861,3668l11,17l-11-22l-11,15zM850,3683l11-15l-11,10l-11,15zM544,3912l11-12l-11-5l-11-10z"/>
<path color="#a25b06" d="M1408,3273l11,40l-11-55l-11,35zM905,3660l11-31l-11-10l-11,34z"/>
<path color="#a96207" d="M1353,3347l11-45l-11,28l-11-29zM1124,3514l10-14l-11-43l-11,5z"/>
<path color="#b06a0a" d="M1145,3503l11-9l-11-52l-11-32zM795,3739l11-17l-11-80l-11,86zM708,3800l11-54l-11,30l-11-2z"/>
<path color="#b7710e" d="M1134,3500l11,3l-11-93l-11,47z"/>
<path color="#bd7910" d="M1069,3529l11-15l-11-32l-11,48zM730,3758l11,18l-12-25l-10-19z"/>
<path color="#c48014" d="M1528,3181l11,38l-11-75l-11,46zM1485,3257l10-67l-11-19l-11,70z"/>
<path color="#cb8817" d="M916,3629l11-36l-12,28l-10-2z"/>
<path color="#d1911b" d="M719,3746l11,12l-11-26l-11,44zM631,3830l11-42l-11,5l-11,61z"/>
<path color="#dda524" d="M806,3722l11-22l-11-35l-11-23z"/>
<path color="#4e2100" d="M1430,3327l11-6l-11-14l-11,6zM522,3972l11-8l-11-16l-11,16z"/>
<path color="#552500" d="M1441,3321l11-8l-11-19l-11,13zM533,3964l11-15l-11-14l-11,13zM511,3969l11,3l-11-8l-11,8z"/>
<path color="#5c2900" d="M1550,3233l11-3l-11-17l-11,6zM1474,3286l11-8l-11-2l-11-3zM1233,3454l11-6l-11,4l-11-3zM1168,3507l10-4l-11-21l-11,12zM1025,3605l11-11l-11-4l-11,17zM489,3977l11-4l-11,2l-11,7z"/>
<path color="#632d00" d="M1485,3278l11-10l-11-11l-11,19zM1452,3313l11-16l-11-28l-11,25zM1222,3461l11-7l-11-5l-11,3zM1157,3502l11,5l-12-13l-11,9zM752,3797l11,0l-11-17l-11-4z"/>
<path color="#6a3100" d="M1572,3216l11-4l-11-7l-11-27zM1463,3297l11-11l-11-13l-11-4zM1146,3517l11-15l-12,1l-11-3zM1135,3528l11-11l-12-17l-10,14zM1102,3548l11-15l-11-6l-11,18zM796,3761l10,4l-11-26l-11,16z"/>
<path color="#713500" d="M1561,3230l11-14l-11-38l-11,35zM1321,3393l11-18l-12-2l-10,6zM1244,3448l11-31l-11,6l-11,29zM1124,3534l11-6l-11-14l-11-9zM1036,3594l11-25l-11,0l-11,21zM949,3656l11-26l-12,9l-10,12z"/>
<path color="#783a00" d="M1178,3503l11-39l-11-4l-11,22zM1113,3533l11,1l-11-29l-11,22zM916,3689l11-12l-11-48l-11,31zM806,3765l11-29l-11-14l-11,17zM763,3797l11-48l-11,13l-11,18z"/>
<path color="#7f3f01" d="M1277,3416l11-17l-11,0l-11,13zM960,3630l11,13l-12-35l-11,31zM708,3808l11,16l-11-24l-11,4zM577,3908l11-19l-11,13l-11,4zM544,3949l11-52l-11,15l-11,23z"/>
<path color="#864502" d="M938,3669l11-13l-11-5l-11-58zM839,3712l11,7l-11-12l-11,4zM697,3820l11-12l-11-4l-11,14z"/>
<path color="#8d4a03" d="M1200,3469l11-42l-11,26l-11,11zM850,3719l11-23l-11-13l-11,24zM741,3785l11,12l-11-21l-11-18z"/>
<path color="#945004" d="M1496,3268l11-17l-12-61l-10,67zM1397,3336l11-21l-11-26l-11,20zM1386,3325l11,11l-11-27l-11,0zM883,3681l11-26l-11,24l-11,6zM686,3836l11-16l-11-2l-11-31zM621,3894l10-78l-11,38l-11,30z"/>
<path color="#9b5605" d="M1364,3350l11-20l-11-28l-11,45zM1332,3375l11-23l-12-34l-11,55zM1069,3533l11,0l-11-4l-11,40zM927,3677l11-8l-11-76l-11,36z"/>
<path color="#a25b06" d="M1288,3399l11-47l-11,33l-11,14zM1255,3417l11-25l-11,3l-11,28zM982,3625l10-10l-11-8l-11-51zM971,3643l11-18l-12-69l-11,52zM675,3836l11,0l-11-49l-11,29zM588,3889l11-46l-12,44l-10,15z"/>
<path color="#a96207" d="M817,3736l11-40l-11,4l-11,22zM719,3824l11-60l-11-18l-11,54z"/>
<path color="#b06a0a" d="M1375,3330l11-5l-11-16l-11-7z"/>
<path color="#b7710e" d="M861,3696l11-28l-11,0l-11,15zM642,3869l11-27l-11-54l-11,42z"/>
<path color="#bd7910" d="M1507,3251l11-21l-12-32l-11-8zM1080,3533l11-26l-11,7l-11,15z"/>
<path color="#c48014" d="M1408,3315l11-47l-11,5l-11,16zM1343,3352l11-34l-12,25l-11-25z"/>
<path color="#cb8817" d="M730,3764l11,21l-11-27l-11-12z"/>
<path color="#dda524" d="M1529,3197l10,17l-11-33l-11-22zM1518,3230l11-33l-12-38l-11,39z"/>
<path color="#efc335" d="M653,3842l11-53l-11,3l-11-4z"/>
<path color="#4e2100" d="M533,3972l11-1l-11-7l-11,8z"/>
<path color="#552500" d="M1562,3248l11-7l-12-11l-11,3z"/>
<path color="#5c2900" d="M1573,3241l10-29l-11,4l-11,14zM1474,3297l11-4l-11-7l-11,11zM1463,3305l11-8l-11,0l-11,16zM1146,3534l11-9l-11-8l-11,11zM927,3687l11-11l-11,1l-11,12z"/>
<path color="#632d00" d="M1485,3293l11-17l-11,2l-11,8zM1332,3409l11-13l-11-21l-11,18zM938,3676l11-6l-11-1l-11,8zM621,3904l11-4l-11-6l-11-8zM544,3971l11-42l-11,20l-11,15z"/>
<path color="#6a3100" d="M1583,3212l11-8l-11,8l-11,4zM1551,3251l11-3l-12-15l-11-19zM1255,3464l11-16l-11-31l-11,31zM1157,3525l11-18l-11-5l-11,15zM500,3990l11-11l-11-6l-11,4z"/>
<path color="#713500" d="M1496,3276l11-12l-11,4l-11,10zM1321,3412l11-3l-11-16l-11-28zM949,3670l11-29l-11,15l-11,13z"/>
<path color="#783a00" d="M1113,3546l11-15l-11,2l-11,15zM971,3649l11-6l-11,0l-11-13z"/>
<path color="#7f3f01" d="M1343,3396l11-22l-11-22l-11,23zM1047,3582l11,5l-11-18l-11,25zM982,3643l11-30l-11,12l-11,18zM752,3802l11-10l-11,5l-11-12zM730,3826l11-8l-11-54l-11,60zM686,3847l11-4l-11-7l-11,0zM654,3875l10-11l-11-22l-11,27zM511,3979l11-45l-11,35l-11,4z"/>
<path color="#864502" d="M1015,3617l11-13l-12-4l-11-9zM960,3641l11,8l-11-19l-11,26zM861,3725l11-15l-11-14l-11,23zM850,3726l11-1l-11-6l-11-7zM697,3843l11-28l-11,5l-11,16zM632,3900l11-11l-12-73l-10,78z"/>
<path color="#8d4a03" d="M1507,3264l11-38l-11,25l-11,17zM1376,3357l11-10l-12-17l-11,20zM1058,3587l11,6l-11-56l-11,32zM796,3780l11-44l-11,25l-11-7zM555,3929l11-2l-11-30l-11,52z"/>
<path color="#945004" d="M1540,3248l11,3l-12-37l-10-17zM1408,3333l11-42l-11,24l-11,21zM1069,3593l11-15l-11-45l-11,4zM1004,3606l11,11l-12-26l-11,24zM741,3818l11-16l-11-17l-11-21zM643,3889l11-14l-12-6l-11-53zM610,3905l11-1l-11-18l-11-43zM588,3895l11,18l-11-24l-11,19z"/>
<path color="#9b5605" d="M1266,3448l11-35l-11-21l-11,25zM1201,3489l10-53l-11,33l-11-5zM905,3695l11-8l-11-28l-11-4zM894,3694l11,1l-11-40l-11,26zM785,3757l11,23l-11-26l-11-5zM708,3815l11-4l-11-3l-11,12z"/>
<path color="#a25b06" d="M1365,3361l11-4l-12-7l-10-32zM599,3913l11-8l-11-62l-11,46zM577,3919l11-24l-11,13l-11-11zM566,3927l11-8l-11-22l-11,0z"/>
<path color="#a96207" d="M1529,3237l11,11l-11-51l-11,33zM1354,3374l11-13l-11-43l-11,34zM883,3689l11,5l-11-13l-11-13zM872,3710l11-21l-11-21l-11,28zM840,3726l10,0l-11-14l-11-16zM829,3732l11-6l-12-30l-11,40zM675,3853l11-6l-11-11l-11-47z"/>
<path color="#b06a0a" d="M1387,3347l10-49l-11,27l-11,5zM1080,3578l11-61l-11,16l-11,0zM664,3864l11-11l-11-64l-11,53z"/>
<path color="#cb8817" d="M1211,3436l11-13l-11,4l-11,42zM1091,3517l11,20l-11-30l-11,26z"/>
<path color="#d1911b" d="M1299,3375l11-11l-11-12l-11,47z"/>
<path color="#dda524" d="M1419,3291l11-30l-11,7l-11,47z"/>
<path color="#552500" d="M1343,3411l11-7l-11-8l-11,13z"/>
<path color="#5c2900" d="M1573,3244l11-8l-11,5l-11,7zM1562,3257l11-13l-11,4l-11,3zM1551,3269l11-12l-11-6l-11-3z"/>
<path color="#632d00" d="M1485,3309l11-10l-11-6l-11,4zM1157,3547l11-20l-11-2l-11,9zM982,3669l11-11l-11-15l-11,6zM512,4000l10-13l-11-8l-11,11z"/>
<path color="#6a3100" d="M1354,3404l11-17l-11-13l-11,22zM741,3825l11,0l-11-7l-11,8zM687,3881l11-8l-12-26l-11,6zM676,3883l11-2l-12-28l-11,11z"/>
<path color="#713500" d="M1584,3236l11-21l-12-3l-10,29zM1168,3527l11-15l-11-5l-11,18zM949,3673l11,2l-11-5l-11,6zM752,3825l11-14l-11-9l-11,16zM698,3873l10-22l-11-8l-11,4z"/>
<path color="#783a00" d="M1113,3563l11,10l-11-27l-11-9zM971,3668l11,1l-11-20l-11-8zM960,3675l11-7l-11-27l-11,29zM905,3715l11-8l-11-12l-11-1zM763,3811l11-6l-11-13l-11,10zM621,3907l11-10l-11,7l-11,1zM610,3921l11-14l-11-2l-11,8z"/>
<path color="#7f3f01" d="M1496,3299l11-43l-11,20l-11,17zM1365,3387l11-9l-11-17l-11,13zM1080,3593l11-50l-11,35l-11,15zM1059,3605l11-15l-12-3l-11-5zM873,3731l11-8l-12-13l-11,15zM840,3767l11-12l-11-29l-11,6zM730,3836l11-11l-11,1l-11-15zM643,3896l11-41l-11,34l-11,11zM566,3948l11,5l-11-26l-11,2zM555,3952l11-4l-11-19l-11,42z"/>
<path color="#864502" d="M1376,3378l11-16l-11-5l-11,4zM1179,3512l11-13l-11-2l-11,10zM1124,3573l11-51l-11,9l-11,15zM708,3851l11-8l-11-28l-11,28zM577,3953l11-30l-11-4l-11,8z"/>
<path color="#8d4a03" d="M1452,3327l11-25l-11,3l-11-9zM1277,3451l11-43l-11,5l-11,35zM1026,3614l11-12l-11,2l-11,13zM993,3658l11-42l-11-3l-11,30zM894,3712l11,3l-11-21l-11-5zM851,3755l11-33l-12,4l-10,0zM829,3763l11,4l-11-35l-11-3zM719,3843l11-7l-11-25l-11,4z"/>
<path color="#945004" d="M1595,3215l11-34l-12,23l-11,8zM1048,3603l11,2l-12-23l-11-3zM884,3723l10-11l-11-23l-11,21zM796,3801l11-64l-11,43l-11-23zM522,3987l11-31l-11-22l-11,45z"/>
<path color="#9b5605" d="M1387,3362l11-30l-11,15l-11,10zM1212,3486l11-11l-12-39l-10,53zM1037,3602l11,1l-12-24l-10,25zM916,3707l11-69l-11,49l-11,8z"/>
<path color="#a25b06" d="M1135,3522l11,2l-11-8l-11,15zM774,3805l11-20l-11-52l-11,59zM588,3923l11-17l-11-11l-11,24z"/>
<path color="#a96207" d="M1441,3332l11-5l-11-31l-11-35zM1190,3499l11-25l-11-15l-11,38zM785,3785l11,16l-11-44l-11-24z"/>
<path color="#b06a0a" d="M1420,3333l11-17l-12-25l-11,42z"/>
<path color="#b7710e" d="M1004,3616l11-20l-11,10l-11,7zM818,3736l11,27l-11-34l-11,7z"/>
<path color="#bd7910" d="M1310,3424l11-33l-11-27l-11,11zM1299,3406l11,18l-11-49l-11,12zM1288,3408l11-2l-11-19l-11,26zM1091,3543l11-8l-11-18l-11,61z"/>
<path color="#cb8817" d="M1431,3316l10,16l-11-71l-11,30z"/>
<path color="#d1911b" d="M1518,3234l11-19l-11,11l-11,38z"/>
<path color="#d79b20" d="M1398,3332l11-44l-12,10l-10,49z"/>
<path color="#dda524" d="M1223,3475l11-59l-12,7l-11,13z"/>
<path color="#4e2100" d="M698,3888l11-5l-11-10l-11,8z"/>
<path color="#552500" d="M687,3891l11-3l-11-7l-11,2z"/>
<path color="#5c2900" d="M1343,3432l11-11l-11-10l-11-3zM1124,3577l11,6l-11-10l-11-10zM993,3677l11-13l-11-6l-11,11zM982,3682l11-5l-11-8l-11-1zM523,4015l11-12l-12-16l-10,13z"/>
<path color="#632d00" d="M1354,3421l11-26l-11,9l-11,7zM1168,3552l11-16l-11-9l-11,20zM971,3692l11-10l-11-14l-11,7zM763,3840l11-12l-11-17l-11,14zM709,3883l11-23l-12-9l-10,22z"/>
<path color="#6a3100" d="M1496,3317l11-27l-11,9l-11,10zM1453,3342l11-3l-12-12l-11,5zM960,3709l11-17l-11-17l-11-2zM917,3721l11-2l-12-12l-11,8zM851,3772l11-21l-11,4l-11,12zM796,3813l11-15l-11,3l-11-16zM774,3828l11-5l-11-18l-11,6zM621,3935l11-3l-11-25l-11,14z"/>
<path color="#713500" d="M1365,3395l11-3l-11-5l-11,17zM1070,3616l11-14l-11-12l-11,15zM884,3751l11-16l-11-12l-11,8zM785,3823l11-10l-11-28l-11,20zM752,3827l11,13l-11-15l-11,0z"/>
<path color="#783a00" d="M1485,3321l11-4l-11-8l-11-23zM1332,3439l11-7l-11-24l-11-17zM1321,3440l11-1l-11-48l-11,33zM1179,3536l11-9l-11-15l-11,15zM1059,3617l11-1l-11-11l-11-2zM949,3712l11-3l-11-36l-11-7zM742,3843l10-16l-11-2l-11,11zM731,3846l11-3l-12-7l-11,7zM720,3860l11-14l-12-3l-11,8zM632,3932l11-23l-11-12l-11,10z"/>
<path color="#7f3f01" d="M1376,3392l11-18l-11,4l-11,9zM1278,3462l11-3l-12-8l-11-10zM1212,3517l11-4l-11-27l-11-12zM1190,3527l11-9l-11-19l-11,13zM1135,3583l11-42l-11-19l-11,51zM1081,3602l11-20l-12,11l-10-3zM1004,3664l11-15l-11-33l-11,42zM610,3937l11-2l-11-14l-11-15zM534,4003l11-29l-12-18l-11,31z"/>
<path color="#864502" d="M1595,3227l11-7l-11-5l-11,21zM1442,3343l11-1l-12-10l-10-16zM1289,3459l10-12l-11-39l-11,43zM566,3963l11-18l-11,3l-11,4z"/>
<path color="#8d4a03" d="M1387,3374l11-8l-11-4l-11,16zM1267,3454l11,8l-12-21l-11,20zM1201,3518l11-1l-11-43l-11,25zM1113,3572l11,5l-11-14l-11-28zM1048,3617l11,0l-11-14l-11-1zM895,3735l11-31l-12,8l-10,11zM807,3798l11-13l-11-48l-11,64zM643,3909l11-30l-11,17l-11,1z"/>
<path color="#945004" d="M1223,3513l11-58l-11,20l-11,11zM1092,3582l11,4l-12-43l-11,50zM928,3719l10-19l-11-62l-11,69zM862,3751l11-23l-11-6l-11,33zM599,3932l11,5l-11-31l-11,17z"/>
<path color="#9b5605" d="M1464,3339l11-72l-12,35l-11,25z"/>
<path color="#a25b06" d="M1431,3326l11,17l-11-27l-11,17zM1146,3541l11-3l-11-14l-11-2zM938,3700l11,12l-11-46l-11-28zM829,3771l11-17l-11,9l-11-27z"/>
<path color="#a96207" d="M1606,3220l11-20l-11-19l-11,34zM1103,3586l10-14l-11-37l-11,8z"/>
<path color="#b06a0a" d="M1256,3478l11-24l-12,7l-10-65zM654,3879l11-9l-11-15l-11,41z"/>
<path color="#b7710e" d="M1507,3290l11-59l-11,25l-11,43zM1398,3366l11-46l-11,12l-11,30zM1015,3649l11-41l-11-12l-11,20zM818,3785l11-14l-11-35l-11,1zM665,3870l11,14l-11-35l-11,6z"/>
<path color="#bd7910" d="M1420,3356l11-30l-11,7l-11-45zM1299,3447l11-57l-11,16l-11,2z"/>
<path color="#c48014" d="M545,3974l11-38l-12-25l-11,45z"/>
<path color="#cb8817" d="M1234,3455l11,13l-11-52l-11,59z"/>
<path color="#d79b20" d="M1529,3265l11-23l-11-27l-11,19zM1409,3320l11,36l-11-68l-11,44zM1245,3468l11,10l-11-82l-11,20z"/>
<path color="#4e2100" d="M534,4022l11-6l-11-13l-11,12z"/>
<path color="#552500" d="M1136,3600l11-16l-12-1l-11-6zM709,3891l11,2l-11-10l-11,5z"/>
<path color="#5c2900" d="M993,3689l11-9l-11-3l-11,5zM982,3694l11-5l-11-7l-11,10zM720,3893l11-23l-11-10l-11,23zM698,3895l11-4l-11-3l-11,3z"/>
<path color="#632d00" d="M1332,3444l11-11l-11,6l-11,1zM1125,3606l11-6l-12-23l-11-5zM961,3711l10-25l-11,23l-11,3zM950,3726l11-15l-12,1l-11-12zM939,3726l11,0l-12-26l-10,19zM796,3817l11,4l-11-8l-11,10zM545,4016l11-19l-11-23l-11,29z"/>
<path color="#6a3100" d="M1464,3348l11-3l-11-6l-11,3zM1365,3423l11-12l-11-16l-11,26zM1300,3467l11-3l-12-17l-10,12zM1179,3547l11-5l-11-6l-11,16zM1114,3615l11-9l-12-34l-10,14zM1004,3680l11-23l-11,7l-11,13zM807,3821l11-15l-11-8l-11,15zM775,3847l11-33l-12,14l-11,12z"/>
<path color="#713500" d="M1497,3329l11-29l-12,17l-11,4zM1289,3472l11-5l-11-8l-11,3zM1147,3584l10-29l-11-14l-11,42zM1103,3609l11,6l-11-29l-11-4zM895,3752l11-18l-11,1l-11,16zM818,3806l11-2l-11-19l-11,13zM687,3897l11-2l-11-4l-11-7zM643,3936l11-26l-11-1l-11,23z"/>
<path color="#783a00" d="M1190,3542l11-15l-11,0l-11,9zM1015,3657l11-1l-11-7l-11,15zM862,3777l11-18l-11-8l-11,21zM621,3942l11-19l-11,12l-11,2zM610,3964l11-22l-11-5l-11-5zM578,3981l11-3l-12-33l-11,18z"/>
<path color="#7f3f01" d="M1617,3248l11-10l-11-38l-11,20zM1606,3241l11,7l-11-28l-11,7zM1376,3411l11-13l-11-6l-11,3zM1278,3482l11-10l-11-10l-11-8zM1267,3492l11-10l-11-28l-11,24zM1256,3494l11-2l-11-14l-11-10zM1201,3527l11-9l-11,0l-11,9zM829,3804l11-19l-11-14l-11,14zM731,3870l11-25l-11,1l-11,14z"/>
<path color="#864502" d="M1387,3398l11-10l-11-14l-11,18zM1092,3597l11,12l-11-27l-11,20zM1059,3631l11-11l-11-3l-11,0zM600,3967l10-3l-11-32l-11-13zM589,3978l11-11l-12-48l-11,26z"/>
<path color="#8d4a03" d="M1475,3345l11-9l-11-69l-11,72zM1398,3388l11-9l-11-13l-11,8zM1322,3450l10-6l-11-4l-11-50zM1311,3464l11-14l-12-60l-11,57zM676,3908l11-11l-11-13l-11-14zM654,3910l11,8l-11-39l-11,30zM567,3987l11-6l-12-18l-10-27zM556,3997l11-10l-11-51l-11,38z"/>
<path color="#945004" d="M1486,3336l11-7l-12-8l-10-54zM1420,3390l11-20l-11-14l-11-36zM1070,3620l11-43l-11,39l-11,1zM906,3734l11-14l-11-16l-11,31zM665,3918l11-10l-11-38l-11,9z"/>
<path color="#9b5605" d="M1595,3248l11-7l-11-14l-11-18zM1409,3379l11,11l-11-70l-11,46z"/>
<path color="#a25b06" d="M1573,3266l11-21l-11-7l-11-2zM1234,3503l11-37l-11-11l-11,58zM840,3785l11-32l-11,1l-11,17z"/>
<path color="#a96207" d="M1584,3245l11,3l-11-39l-11,29zM1562,3282l11-16l-11-30l-11-14zM1026,3656l11-47l-11-1l-11,41z"/>
<path color="#b06a0a" d="M1551,3274l11,8l-11-60l-11,20zM1508,3300l10-78l-11,68l-11,27zM1157,3555l11-50l-11,33l-11,3zM1048,3628l11,3l-11-14l-11-71zM742,3845l11-75l-11,73l-11,3z"/>
<path color="#b7710e" d="M1540,3256l11,18l-11-32l-11,23zM1431,3370l11-68l-11,24l-11,30zM873,3759l11-61l-11,30l-11,23z"/>
<path color="#d79b20" d="M1037,3609l11,19l-11-82l-11,62z"/>
<path color="#5c2900" d="M1628,3260l11-9l-11-13l-11,10zM1311,3492l11-8l-11-20l-11,3zM1300,3500l11-8l-11-25l-11,5zM1147,3591l11-5l-11-2l-11,16zM994,3716l11-15l-12-12l-11,5z"/>
<path color="#632d00" d="M1497,3349l11-9l-11-11l-11,7zM1322,3484l11-21l-11-13l-11,14zM1289,3493l11,7l-11-28l-11,10zM1278,3505l11-12l-11-11l-11,10zM1125,3608l11-15l-11,13l-11,9zM950,3728l11-4l-11,2l-11,0zM731,3890l11-12l-11-8l-11,23zM567,3999l11,4l-11-16l-11,10z"/>
<path color="#6a3100" d="M1486,3345l11,4l-11-13l-11,9zM1376,3441l11-29l-11-1l-11,12zM1344,3454l11-9l-12-12l-11,11zM1333,3463l11-9l-12-10l-10,6zM1267,3509l11-4l-11-13l-11,2zM1026,3690l11-13l-11-21l-11,1zM1005,3701l10-29l-11,8l-11,9zM829,3816l11-3l-11-9l-11,2zM676,3936l11-24l-11-4l-11,10zM578,4003l11-31l-11,9l-11,6z"/>
<path color="#713500" d="M1573,3295l11-18l-11-11l-11,16zM1475,3361l11-16l-11,0l-11,3zM1366,3444l10-3l-11-18l-11-29zM1190,3562l11-15l-11-5l-11,5zM1158,3586l11-20l-12-11l-10,29zM1015,3672l11,18l-11-33l-11,23zM840,3813l11-23l-11-5l-11,19zM709,3893l11-3l-11,1l-11,4zM687,3912l11-7l-11-8l-11,11zM545,4010l11-24l-11,30l-11,6z"/>
<path color="#783a00" d="M1595,3278l11-8l-11-22l-11-3zM1201,3547l11-3l-11-17l-11,15zM961,3724l11-41l-11,28l-11,15zM939,3728l11,0l-11-2l-11-7zM873,3781l11-9l-11-13l-11,18zM698,3905l11-12l-11,2l-11,2z"/>
<path color="#7f3f01" d="M1584,3277l11,1l-11-33l-11,21zM1464,3366l11-5l-11-13l-11-18zM1387,3412l11-16l-11,2l-11,13zM1355,3445l11-1l-12-50l-11,39z"/>
<path color="#864502" d="M1212,3544l11-22l-11-4l-11,9zM622,3966l11-58l-12,34l-11,22z"/>
<path color="#8d4a03" d="M1409,3389l11-7l-11-3l-11,9zM1398,3396l11-7l-11-1l-11,10zM1256,3508l11,1l-11-15l-11-28zM1180,3571l10-9l-11-15l-11-42zM1070,3642l11-31l-11,9l-11,11zM786,3854l11-58l-11,18l-11,33zM654,3918l11-1l-11-7l-11,26z"/>
<path color="#945004" d="M928,3729l11-1l-11-9l-11,1zM742,3878l11-47l-11,14l-11,25z"/>
<path color="#9b5605" d="M1606,3270l11-64l-11,35l-11,7zM1169,3566l11,5l-12-66l-11,50z"/>
<path color="#a25b06" d="M1508,3340l11-105l-11,65l-11,29zM851,3790l11-27l-11-10l-11,32z"/>
<path color="#a96207" d="M1442,3363l11,4l-11-65l-11,68zM1223,3522l11-50l-11,42l-11,4zM884,3772l11-13l-11-61l-11,61z"/>
<path color="#b06a0a" d="M1453,3367l11-1l-11-36l-11-28zM1245,3477l11,31l-11-42l-11,37zM1037,3677l11-84l-11,16l-11,47z"/>
<path color="#bd7910" d="M1081,3611l11-24l-11-10l-11,43zM895,3759l11-47l-11,40l-11-54z"/>
<path color="#cb8817" d="M1541,3314l11-51l-12-7l-11-25z"/>
<path color="#eab92f" d="M1530,3260l11,54l-12-83l-11-9zM753,3831l11-42l-11-19l-11,75z"/>
<path color="#f3cd40" d="M1519,3235l11,25l-12-38l-10,78z"/>
<path color="#4e2100" d="M1322,3500l11-8l-11-8l-11,8zM1311,3507l11-7l-11-8l-11,8z"/>
<path color="#552500" d="M1639,3271l11-11l-11-9l-11,9zM1606,3292l11-8l-11-14l-11,8zM1377,3457l11-16l-12,0l-10,3zM1366,3469l11-12l-11-13l-11,1zM1333,3492l11-17l-11-12l-11,21z"/>
<path color="#5c2900" d="M1191,3591l11-13l-12-16l-10,9z"/>
<path color="#632d00" d="M1355,3460l11,9l-11-24l-11,9zM1344,3475l11-15l-11-6l-11,9zM1289,3504l11-3l-11-8l-11,12zM1202,3578l11-12l-12-19l-11,15zM1180,3589l11,2l-11-20l-11-5zM578,4009l11-1l-11-5l-11-4z"/>
<path color="#6a3100" d="M1596,3282l10,10l-11-14l-11-1zM1508,3356l11-23l-11,7l-11,9zM1475,3379l11-14l-11-4l-11,5zM1464,3385l11-6l-11-13l-11,1zM1038,3693l10-44l-11,28l-11,13zM1005,3715l11-40l-11,26l-11,15zM841,3823l11-5l-12-5l-11,3zM786,3861l11-4l-11-3l-11-9zM687,3930l11-11l-11-7l-11,24z"/>
<path color="#713500" d="M1497,3351l11,5l-11-7l-11-4zM1388,3441l11-30l-12,1l-11,29zM1169,3588l11,1l-11-23l-11,20zM961,3736l11-8l-11-4l-11,4zM852,3818l11-13l-12-15l-11,23zM589,4008l11-25l-11-11l-11,31z"/>
<path color="#783a00" d="M1585,3287l11-5l-12-5l-11,18zM1574,3302l11-15l-12,8l-11-14zM1486,3365l11-14l-11-6l-11,16zM1213,3566l11-28l-12,6l-11,3zM1125,3612l11-7l-11,3l-11,2zM895,3778l11,3l-11-22l-11,13z"/>
<path color="#7f3f01" d="M1453,3383l11,2l-11-18l-11-4zM950,3732l11,4l-11-8l-11,0zM884,3776l11,2l-11-6l-11,9zM830,3832l11-9l-12-7l-10-16zM742,3885l11-23l-11,16l-11,12zM698,3919l11-16l-11,2l-11,7zM567,4015l11-6l-11-10l-11-13z"/>
<path color="#864502" d="M1628,3263l11,8l-11-11l-11-54zM1617,3284l11-21l-11-57l-11,64zM972,3728l11-14l-11-31l-11,41zM939,3754l11-22l-11-4l-11,1zM819,3837l11-5l-11-32l-11,20zM720,3897l11-11l-11,4l-11,3zM709,3903l11-6l-11-4l-11,12z"/>
<path color="#8d4a03" d="M1016,3675l11-1l-12-2l-10,29zM556,4011l11,4l-11-29l-11,24z"/>
<path color="#945004" d="M1442,3387l11-4l-11-20l-11,2zM1420,3401l11-13l-11-6l-11,7zM1410,3402l10-1l-11-12l-11,7zM1399,3411l11-9l-12-6l-11,16zM1136,3605l11-48l-11,36l-11,15zM983,3714l11-7l-11-16l-11-8zM753,3862l11,23l-11-54l-11,47z"/>
<path color="#9b5605" d="M1431,3388l11-1l-11-22l-11,17zM906,3781l11-30l-11-39l-11,47zM863,3805l10-27l-11-15l-11,27z"/>
<path color="#a25b06" d="M1563,3293l11,9l-12-21l-10-18zM1224,3538l10-42l-11,26l-11,22zM797,3857l11-56l-11-5l-11,58zM775,3863l11-2l-11-16l-11-56zM666,3922l11,0l-12-5l-11,1zM633,3972l11-47l-11-17l-11,58z"/>
<path color="#b06a0a" d="M1552,3276l11,17l-11-30l-11,51zM1081,3631l11-32l-11,12l-11,31zM928,3732l11,22l-11-25l-11-35zM655,3929l11-7l-12-4l-10,2z"/>
<path color="#b7710e" d="M764,3885l11-22l-11-74l-11,42z"/>
<path color="#bd7910" d="M1048,3649l11-20l-11-36l-11,84z"/>
<path color="#cb8817" d="M1519,3333l11-65l-11-33l-11,105zM644,3925l11,4l-11-9l-11-12zM600,3983l11-63l-11,7l-11,45z"/>
<path color="#d1911b" d="M1092,3599l11,2l-11-14l-11,24zM917,3751l11-19l-11-38l-11,18z"/>
<path color="#dda524" d="M1234,3496l11-13l-11-11l-11,50z"/>
<path color="#e4af2a" d="M1245,3483l11,14l-11-20l-11-5z"/>
<path color="#efc335" d="M1530,3268l11,44l-11-52l-11-25z"/>
<path color="#552500" d="M1629,3298l10-11l-11-24l-11,21zM1618,3290l11,8l-12-14l-11,8zM1322,3514l11-25l-11,11l-11,7zM1202,3594l11-16l-11,0l-11,13zM1191,3601l11-7l-11-3l-11-2z"/>
<path color="#5c2900" d="M1639,3287l11-18l-11,2l-11-8z"/>
<path color="#632d00" d="M1213,3578l11-14l-11,2l-11,12zM841,3851l11-22l-11-6l-11,9zM830,3855l11-4l-11-19l-11,5zM578,4040l11-21l-11-10l-11,6z"/>
<path color="#6a3100" d="M1005,3722l11,2l-11-9l-11-8zM852,3829l11-6l-11-5l-11,5zM775,3893l11-18l-11-12l-11,22zM567,4050l11-10l-11-25l-11-4z"/>
<path color="#713500" d="M1519,3355l11-4l-11-18l-11,23zM1399,3447l11-13l-11-23l-11,30zM994,3737l11-15l-11-15l-11,7zM983,3737l11,0l-11-23l-11,14zM906,3789l11-7l-11-1l-11-3zM863,3823l11-13l-11-5l-11,13z"/>
<path color="#783a00" d="M1486,3373l11-9l-11,1l-11,14zM1355,3473l11-28l-11,15l-11,15zM1049,3694l11-12l-12-33l-10,44zM1016,3724l11-28l-11-21l-11,40zM972,3734l11,3l-11-9l-11,8zM797,3860l11-8l-11,5l-11,4zM786,3875l11-15l-11,1l-11,2zM699,3933l11-9l-12-5l-11,11zM589,4019l11-29l-11,18l-11,1z"/>
<path color="#7f3f01" d="M1497,3364l11-8l-11-5l-11,14z"/>
<path color="#864502" d="M1650,3269l11-70l-11,61l-11,11zM1289,3508l11-8l-11,4l-11,2zM961,3747l11-13l-11,2l-11-4zM917,3782l11-29l-11-2l-11,30zM896,3791l10-2l-11-11l-11-2zM742,3899l11-4l-11-10l-11,1zM600,3990l11,1l-11-8l-11,25z"/>
<path color="#8d4a03" d="M1585,3305l11-30l-11,12l-11,15zM1454,3394l10-14l-11,3l-11,4zM1443,3402l11-8l-12-7l-11,1zM1432,3412l11-10l-12-14l-11,13zM1421,3422l11-10l-12-11l-10,1zM1410,3434l11-12l-11-20l-11,9zM874,3810l11-22l-12-10l-10,27zM753,3895l11-11l-11-22l-11,23z"/>
<path color="#945004" d="M1224,3564l11-48l-11,22l-11,28zM1169,3591l11-3l-11,0l-11-25zM1125,3618l11,4l-11-10l-11-4zM644,3978l11-26l-11-27l-11,47z"/>
<path color="#9b5605" d="M1136,3622l11-43l-11,26l-11,7zM1082,3661l10-7l-11-23l-11-6zM1060,3682l11-5l-12-48l-11,20zM1027,3696l11-15l-11-7l-11,1zM939,3761l11-36l-11,29l-11-22zM885,3788l11,3l-12-15l-11,2zM808,3852l11-19l-11-32l-11,56z"/>
<path color="#a25b06" d="M1278,3526l11-18l-11-2l-11-38zM1071,3677l11-16l-12-36l-11,4zM928,3753l11,8l-11-29l-11,19zM710,3924l11-50l-12,29l-11,16z"/>
<path color="#a96207" d="M655,3952l11,2l-11-25l-11-4zM611,3991l11-6l-11-65l-11,63z"/>
<path color="#b06a0a" d="M1268,3519l10,7l-11-58l-11,29zM622,3985l11-16l-11-6l-11-43z"/>
<path color="#b7710e" d="M1552,3326l11-46l-11-4l-11,36zM1530,3351l11-40l-11-43l-11,65zM1257,3536l11-17l-12-22l-11-14zM1092,3654l11-35l-11-20l-11,32z"/>
<path color="#bd7910" d="M666,3954l11-57l-11,25l-11,7z"/>
<path color="#d1911b" d="M1235,3516l11-15l-12-5l-10,42z"/>
<path color="#d79b20" d="M1246,3501l11,35l-12-53l-11,13zM1147,3579l11-28l-11,6l-11,48z"/>
<path color="#dda524" d="M1103,3619l11-27l-11,9l-11-2z"/>
<path color="#4e2100" d="M1640,3301l11-5l-12-9l-10,11z"/>
<path color="#552500" d="M1333,3523l11-14l-11-20l-11,25zM579,4047l10-1l-11-6l-11,10z"/>
<path color="#5c2900" d="M1322,3518l11,5l-11-9l-11-9zM1016,3737l11-7l-11-6l-11-2zM589,4046l11-24l-11-3l-11,21z"/>
<path color="#632d00" d="M1213,3587l11,5l-11-14l-11,16zM1202,3601l11-14l-11,7l-11,7zM1027,3730l11-4l-11-30l-11,28zM1005,3742l11-5l-11-15l-11,15zM852,3857l11-23l-11-5l-11,22z"/>
<path color="#6a3100" d="M1224,3592l11-20l-11-8l-11,14zM1191,3614l11-13l-11,0l-11-13zM994,3745l11-3l-11-5l-11,0z"/>
<path color="#713500" d="M1344,3509l11-22l-11-14l-11,16zM1049,3715l11-11l-11-10l-11-13zM1038,3726l11-11l-11-34l-11,15z"/>
<path color="#783a00" d="M1651,3296l11-60l-12,33l-11,18zM1618,3297l11-3l-11-4l-11-1zM1530,3354l11,7l-11-10l-11,4zM1355,3487l11-3l-11-11l-11,0zM1312,3514l10,4l-11-13l-11-5zM1279,3542l11-4l-12-12l-10-7zM1180,3614l11,0l-11-26l-11,3zM1060,3704l11-29l-11,7l-11,12zM907,3808l11-14l-12-5l-10,2zM896,3823l11-15l-11-17l-11-3z"/>
<path color="#7f3f01" d="M1290,3538l11-20l-12-10l-11,18zM1093,3661l11,10l-12-17l-10,7zM918,3794l11-19l-12,7l-11,7zM885,3811l11,12l-11-35l-11,22zM754,3916l10-17l-11-4l-11,4z"/>
<path color="#864502" d="M1541,3361l11-14l-11-36l-11,40zM1487,3393l10-18l-11-2l-11,3zM1421,3436l11-24l-11,10l-11,12zM1366,3484l11-21l-11-18l-11,28zM1268,3544l11-2l-11-23l-11,17zM797,3870l11-5l-11-5l-11,15zM764,3899l11-14l-11-1l-11,11z"/>
<path color="#8d4a03" d="M1552,3347l11-6l-11-15l-11-15zM1301,3518l11-4l-12-14l-11,8zM1104,3671l11-24l-12-28l-11,35zM972,3754l11-20l-11,0l-11,13zM961,3775l11-21l-11-7l-11-22zM929,3775l11,3l-12-25l-11,29zM863,3834l11-44l-11,33l-11,6zM808,3865l11-10l-11-3l-11,8zM666,3976l11-20l-11-2l-11-2zM655,3960l11,16l-11-24l-11,26z"/>
<path color="#945004" d="M1607,3293l11,4l-11-8l-11-14zM1497,3375l11-17l-11,6l-11,9zM1476,3382l11,11l-12-17l-11,4zM699,3944l11-3l-11-8l-11-21zM633,3985l11-10l-11-6l-11,16zM600,4022l11-47l-11,15l-11,29z"/>
<path color="#9b5605" d="M1454,3400l11-12l-11,6l-11,8zM819,3855l11-13l-11-9l-11,19zM710,3941l11-52l-11,35l-11,9z"/>
<path color="#a25b06" d="M1465,3388l11-6l-12-2l-10,14zM950,3733l11,42l-11-50l-11,36zM940,3778l10-45l-11,28l-11-8z"/>
<path color="#a96207" d="M1596,3288l11,5l-11-18l-11,30zM1563,3341l11-36l-11-25l-11,46zM1257,3539l11,5l-11-8l-11-35z"/>
<path color="#b06a0a" d="M1377,3463l11-52l-11,37l-11-3zM1169,3601l11,13l-11-23l-11-40zM1147,3621l11-20l-11-22l-11,43z"/>
<path color="#b7710e" d="M1508,3358l11-56l-11,54l-11,8zM1235,3572l11-69l-11,13l-11,48z"/>
<path color="#c48014" d="M677,3956l11-42l-11-17l-11,57z"/>
<path color="#cb8817" d="M1662,3236l11-18l-12-19l-11,70zM1115,3647l11-39l-12-16l-11,27z"/>
<path color="#d1911b" d="M1158,3601l11,0l-11-50l-11,28zM688,3914l11,30l-11-32l-11-15z"/>
<path color="#d79b20" d="M1574,3305l11-38l-11,24l-11-11z"/>
<path color="#dda524" d="M1246,3503l11,36l-11-38l-11,15zM721,3889l11-39l-11,24l-11,50z"/>
<path color="#552500" d="M1345,3522l10-8l-11-5l-11,14z"/>
<path color="#5c2900" d="M1334,3528l11-6l-12,1l-11-5zM601,4044l11,4l-12-26l-11,24z"/>
<path color="#632d00" d="M1355,3514l11-12l-11-15l-11,22zM1323,3537l11-9l-12-10l-10-4zM852,3870l11,2l-11-15l-11-15z"/>
<path color="#6a3100" d="M1640,3309l11-22l-11,14l-11-7zM1552,3371l11-15l-11-9l-11,14zM1366,3502l11-5l-11-13l-11,3zM1235,3592l11-8l-11-12l-11,20zM1202,3609l11-6l-11-2l-11,13zM1191,3620l11-11l-11,5l-11,0zM1104,3693l11-10l-11-12l-11-10zM973,3787l11-20l-12-13l-11,21z"/>
<path color="#713500" d="M1629,3314l11-5l-11-15l-11,3zM1377,3497l11-17l-11-17l-11,21zM1312,3538l11-1l-11-23l-11,4zM1290,3547l11-6l-11-3l-11,4zM907,3813l11-3l-11-2l-11,15zM863,3872l11-44l-11,6l-11,23z"/>
<path color="#783a00" d="M1301,3541l11-3l-11-20l-11,20zM1213,3603l11-11l-11-5l-11,14zM1180,3639l11-19l-11-6l-11-13zM940,3803l11-4l-11-21l-11-3zM590,4007l11,37l-12,2l-10,1z"/>
<path color="#7f3f01" d="M1563,3356l11-18l-11,3l-11,6zM1170,3654l10-15l-11-38l-11,0zM1159,3663l11-9l-12-53l-11,20zM929,3797l11,6l-11-28l-11,19zM918,3810l11-13l-11-3l-11,14zM841,3867l11,3l-11-28l-11,0zM754,3932l11-7l-11-9l-11-18zM612,4048l10-21l-11-52l-11,47z"/>
<path color="#864502" d="M1115,3683l11-43l-11,7l-11,24zM984,3767l10-17l-11-16l-11,20z"/>
<path color="#8d4a03" d="M1574,3338l11-1l-11-32l-11,36zM1421,3447l11,0l-11-11l-11-4zM994,3750l11-9l-11,4l-11-11zM798,3900l10-11l-11-19l-11,0zM710,3964l11-37l-11,14l-11,3zM644,4002l11-9l-11-18l-11,10z"/>
<path color="#945004" d="M1465,3422l11-6l-11-28l-11,12zM1432,3447l11-24l-11-11l-11,24zM951,3799l11-29l-12-37l-10,45zM830,3859l11,8l-11-25l-11,13zM787,3890l11,10l-12-30l-11,15zM699,3972l11-8l-11-20l-11-30zM633,4012l11-10l-11-17l-11-1z"/>
<path color="#9b5605" d="M1476,3416l11-19l-11-15l-11,6zM1454,3425l11-3l-11-22l-11,0zM1410,3456l11-9l-11-15l-11,1zM1148,3631l11,32l-12-42l-11-19zM765,3925l11-65l-12,39l-10,17zM655,3993l11-20l-11-13l-11,15zM622,4027l11-15l-11-28l-11-9z"/>
<path color="#a25b06" d="M1662,3272l11-27l-11-9l-11,60zM1487,3397l11-31l-11,27l-11-11zM1443,3423l11,2l-11-25l-11,12zM1246,3584l11-16l-11-65l-11,69z"/>
<path color="#a96207" d="M1388,3480l11-23l-11-46l-11,52zM874,3828l11-14l-11-24l-11,44zM688,3946l11,26l-11-58l-11,42z"/>
<path color="#b06a0a" d="M1126,3640l11,11l-11-43l-11,39zM885,3814l11-5l-11,2l-11-21zM808,3889l11-68l-11,44l-11,5z"/>
<path color="#b7710e" d="M1509,3382l11-46l-12,22l-11,17zM1399,3457l11-1l-11-23l-11-22zM743,3927l11,5l-11-34l-11-48z"/>
<path color="#bd7910" d="M1673,3245l11,28l-11-55l-11,18zM1137,3651l11-20l-12-29l-10,6zM721,3927l11-13l-11-25l-11,52z"/>
<path color="#c48014" d="M1585,3337l11-36l-11-34l-11,38z"/>
<path color="#cb8817" d="M1257,3568l11-49l-11,20l-11-36z"/>
<path color="#d79b20" d="M732,3914l11,13l-11-77l-11,39z"/>
<path color="#dda524" d="M1082,3641l11-2l-11,0l-11,36z"/>
<path color="#eab92f" d="M1596,3301l11-64l-11,51l-11-21z"/>
<path color="#efc335" d="M1520,3336l11-20l-12-14l-11,56z"/>
<path color="#552500" d="M1181,3653l11-12l-12-2l-10,15z"/>
<path color="#5c2900" d="M1115,3708l11-30l-11,5l-11,10zM984,3796l11-10l-11-19l-11,20zM863,3877l11-18l-11,13l-11-2zM765,3954l11-10l-11-19l-11,7z"/>
<path color="#632d00" d="M1389,3506l10-14l-11-12l-11,17zM1345,3531l11-15l-11,6l-11,6zM951,3812l11-12l-11-1l-11,4zM852,3879l11-2l-11-7l-11-3z"/>
<path color="#6a3100" d="M1334,3530l11,1l-11-3l-11,9zM1323,3543l11-13l-11,7l-11,1zM1246,3598l11-5l-11-9l-11,8zM1235,3614l11-16l-11-6l-11,0zM1224,3621l11-7l-11-22l-11,11zM754,3951l11,3l-11-22l-11-5zM634,4034l11-6l-12-16l-11,15z"/>
<path color="#713500" d="M1640,3319l11-18l-11,8l-11,5zM1553,3383l11-6l-12-6l-11-11zM1465,3454l11-20l-11-12l-11,3zM1356,3516l11-19l-12,17l-10,8zM1257,3593l11-9l-11-16l-11,16zM1192,3641l11-28l-12,7l-11,19zM995,3786l11-20l-12-16l-10,17zM645,4028l11-5l-12-21l-11,10z"/>
<path color="#783a00" d="M1454,3460l11-6l-11-29l-11-2zM1443,3459l11,1l-11-37l-11,24zM1432,3468l11-9l-11-12l-11,0zM1399,3492l11-11l-11-24l-11,23zM1312,3542l11,1l-11-5l-11,3zM962,3800l11-18l-11-12l-11,29zM940,3808l11,4l-11-9l-11-6zM874,3859l11-13l-11-18l-11,44zM842,3888l10-9l-11-12l-11-8zM710,3976l11-20l-11,8l-11,8z"/>
<path color="#7f3f01" d="M1564,3377l11-38l-12,17l-11,15zM1476,3434l11-14l-11-4l-11,6zM1421,3475l11-7l-11-21l-11,9zM1410,3481l11-6l-11-19l-11,1zM1301,3557l11-15l-11-1l-11,6zM929,3820l11-12l-11-11l-11,13zM918,3829l11-9l-11-10l-11,3zM907,3847l11-18l-11-16l-11-4zM743,3966l11-15l-11-24l-11-13zM656,4023l10-28l-11-2l-11,9z"/>
<path color="#864502" d="M1651,3301l11-15l-11,1l-11,22zM1629,3322l11-3l-11-5l-11-28zM1126,3678l11-7l-11-31l-11,43zM896,3847l11,0l-11-38l-11,5zM809,3901l11-19l-12,7l-10,11zM721,3956l11,9l-11-38l-11,37z"/>
<path color="#8d4a03" d="M1487,3420l11-14l-11-9l-11,19zM885,3846l11,1l-11-33l-11,14zM732,3965l11,1l-11-52l-11,13z"/>
<path color="#945004" d="M1203,3613l10-23l-11,19l-11,11zM1137,3671l11-16l-11-4l-11-11zM1038,3734l11-14l-11-3l-11,6zM776,3944l11-37l-11-47l-11,65zM677,3987l11,14l-11-44l-11,16zM666,3995l11-8l-11-14l-11,20z"/>
<path color="#9b5605" d="M1662,3286l11-15l-11,1l-11,15zM1290,3560l11-3l-11-10l-11-36zM1148,3655l11-20l-11-4l-11,20zM1006,3766l11-45l-12,20l-11,9z"/>
<path color="#a25b06" d="M1575,3339l10-12l-11,11l-11,18zM1268,3584l11-31l-11-34l-11,49zM688,4001l11-38l-11-17l-11,11z"/>
<path color="#a96207" d="M1684,3228l11,59l-11-14l-11-28zM1542,3379l11,4l-12-23l-10-44zM1498,3406l11-12l-11-28l-11,31z"/>
<path color="#b06a0a" d="M1509,3394l11-14l-11,2l-11-16zM1049,3720l11-46l-11,42l-11,1z"/>
<path color="#b7710e" d="M1596,3315l11-12l-11-2l-11,36zM1520,3380l11-5l-11-39l-11,46z"/>
<path color="#bd7910" d="M1071,3724l11-31l-11-55l-11,42zM820,3882l11-22l-12-39l-11,68z"/>
<path color="#c48014" d="M1279,3553l11,7l-11-49l-11,8zM787,3907l11-29l-11,12l-11-30z"/>
<path color="#cb8817" d="M1673,3271l11-43l-11,17l-11,27zM601,4015l11-33l-11,62l-11-37z"/>
<path color="#d1911b" d="M1531,3375l11,4l-11-63l-11,20z"/>
<path color="#e4af2a" d="M1093,3656l11,24l-11-41l-11,2z"/>
<path color="#eab92f" d="M1082,3693l11-37l-11-15l-11-3z"/>
<path color="#efc335" d="M1607,3303l11-53l-11-13l-11,64z"/>
<path color="#552500" d="M1465,3477l11-13l-11-10l-11,6zM1236,3637l11-8l-12-15l-11,7zM995,3797l11,5l-11-16l-11,10z"/>
<path color="#5c2900" d="M1454,3480l11-3l-11-17l-11-1zM1192,3664l11-12l-11-11l-11,12zM907,3868l11-19l-11-2l-11,0zM776,3956l11-16l-11,4l-11,10z"/>
<path color="#632d00" d="M1443,3475l11,5l-11-21l-11,9zM1400,3512l11-11l-12-9l-10,14zM1247,3629l10-23l-11-8l-11,16zM918,3849l11-7l-11-13l-11,18z"/>
<path color="#6a3100" d="M1476,3464l11-31l-11,1l-11,20zM1279,3608l11-7l-11-48l-11,31zM1268,3587l11,21l-11-24l-11,9zM1006,3802l11-34l-11-2l-11,20zM951,3826l11-3l-11-11l-11-4zM853,3903l11-24l-12,0l-10,9z"/>
<path color="#713500" d="M1564,3396l11-33l-11,14l-11,6zM1553,3391l11,5l-11-13l-11-4zM1432,3473l11,2l-11-7l-11,7zM1301,3593l11-27l-11-9l-11,3zM1290,3601l11-8l-11-33l-11-7zM1082,3741l11-10l-11-38l-11,31zM962,3823l11-30l-11,7l-11,12zM940,3833l11-7l-11-18l-11,12zM929,3842l11-9l-11-13l-11,9zM896,3852l11,16l-11-21l-11-1zM875,3875l10-9l-11-7l-11,18zM864,3879l11-4l-12,2l-11,2zM732,3986l11-19l-11-2l-11-9zM721,3992l11-6l-11-30l-11,20z"/>
<path color="#783a00" d="M1356,3536l11-22l-11,2l-11,15zM1257,3606l11-19l-11,6l-11,5zM1225,3627l11,10l-12-16l-11-31zM1203,3652l11-23l-11-16l-11,28z"/>
<path color="#7f3f01" d="M1651,3307l11,14l-11-20l-11,18zM1411,3501l11-41l-12,21l-11,11zM885,3866l11-14l-11-6l-11,13zM842,3900l11,3l-11-15l-11-28zM787,3940l11-25l-11-8l-11,37z"/>
<path color="#864502" d="M1662,3321l11-22l-11-13l-11,15zM1640,3329l11-22l-11,12l-11,3zM1487,3433l11-10l-11-3l-11,14zM1334,3535l11-6l-11,1l-11,13zM1312,3566l11-22l-11-2l-11,15zM1137,3690l11-28l-11,9l-11,7zM634,4044l11-16l-11,6l-11-15z"/>
<path color="#8d4a03" d="M1542,3394l11-3l-11-12l-11-4zM1498,3423l11-9l-11-8l-11,14zM1148,3662l11,3l-11-10l-11,16zM1071,3734l11,7l-11-17l-11-50zM1050,3743l11-7l-12-16l-11,14zM973,3793l11-15l-11,4l-11,18zM700,3990l10-14l-11-13l-11,38zM667,4029l11-59l-12,25l-10,28z"/>
<path color="#945004" d="M1509,3414l11-6l-11-14l-11,12zM1214,3629l11-2l-12-37l-10,23z"/>
<path color="#9b5605" d="M1520,3408l11-12l-11-16l-11,14zM1367,3514l11-30l-11,13l-11,19zM1159,3665l11-13l-11-17l-11,20zM1039,3747l11-4l-12-9l-10-14zM1017,3768l11-17l-11-30l-11,45zM820,3903l11-18l-11-3l-11,19zM809,3914l11-11l-11-2l-11-23z"/>
<path color="#a25b06" d="M1575,3363l11-21l-11-3l-11,38zM1531,3396l11-2l-11-19l-11,5zM831,3885l11,15l-11-40l-11,22zM798,3915l11-1l-11-36l-11,29z"/>
<path color="#a96207" d="M1061,3736l10-2l-11-60l-11,46z"/>
<path color="#b06a0a" d="M1093,3731l11-46l-11-29l-11,37z"/>
<path color="#b7710e" d="M1586,3342l11,4l-12-19l-10,12zM1104,3685l11,14l-11-19l-11-24zM1028,3751l11-4l-11-27l-11,1z"/>
<path color="#bd7910" d="M1695,3241l11,34l-11,12l-11-59zM1673,3299l11-76l-11,48l-11,15zM623,4022l11,22l-11-25l-11-37z"/>
<path color="#cb8817" d="M1597,3346l11-42l-12,11l-11,12z"/>
<path color="#d79b20" d="M612,4036l11-14l-11-40l-11,33z"/>
<path color="#eab92f" d="M1608,3304l10-30l-11,29l-11,12z"/>
<path color="#efc335" d="M1618,3274l11,45l-11-69l-11,53z"/>
<path color="#4e2100" d="M1301,3609l11-11l-11-5l-11,8zM1290,3616l11-7l-11-8l-11,7z"/>
<path color="#552500" d="M1466,3489l10-20l-11,8l-11,3zM1455,3492l11-3l-12-9l-11-5zM1247,3635l11-3l-11-3l-11,8zM1203,3667l11-4l-11-11l-11,12zM1094,3747l11-4l-12-12l-11,10z"/>
<path color="#5c2900" d="M1280,3624l10-8l-11-8l-11-21zM1258,3632l11-8l-12-18l-10,23zM1236,3647l11-12l-11,2l-11-10z"/>
<path color="#632d00" d="M1214,3663l11-10l-11-24l-11,23zM1083,3751l11-4l-12-6l-11-7zM1017,3804l11-16l-11-20l-11,34zM962,3833l11-1l-11-9l-11,3zM744,3991l10-8l-11-16l-11,19zM733,3997l11-6l-12-5l-11,6z"/>
<path color="#6a3100" d="M1673,3340l11-19l-11-22l-11,22zM1476,3469l11-29l-11,24l-11,13zM1444,3494l11-2l-12-17l-11-2zM1269,3624l11,0l-12-37l-11,19zM1225,3653l11-6l-11-20l-11,2zM951,3836l11-3l-11-7l-11,7zM919,3869l10-30l-11,10l-11,19zM864,3900l11-4l-11-17l-11,24zM853,3911l11-11l-11,3l-11-3z"/>
<path color="#713500" d="M1662,3341l11-1l-11-19l-11-14zM1411,3511l11-12l-11,2l-11,11zM1105,3743l10-10l-11-48l-11,46zM973,3832l11-24l-11-15l-11,30zM940,3839l11-3l-11-3l-11,9zM886,3892l11-18l-12-8l-10,9zM875,3896l11-4l-11-17l-11,4zM787,3949l11-7l-11-2l-11,16z"/>
<path color="#783a00" d="M1400,3515l11-4l-11,1l-11-14zM1072,3746l11,5l-12-17l-10,2z"/>
<path color="#7f3f01" d="M1170,3686l11-10l-11-24l-11,13zM1159,3692l11-6l-11-21l-11-3zM1148,3702l11-10l-11-30l-11,28zM798,3942l11-1l-11-26l-11,25zM645,4053l11-14l-11-11l-11,16z"/>
<path color="#864502" d="M1553,3399l11,2l-11-10l-11,3zM1433,3495l11-1l-12-21l-10-13zM1422,3499l11-4l-11-35l-11,41zM1181,3676l11-13l-11-15l-11,4zM1115,3733l11-28l-11-6l-11-14zM1028,3788l11-22l-11-15l-11,17zM776,3963l11-14l-11,7l-11-34z"/>
<path color="#8d4a03" d="M1564,3401l11-43l-11,38l-11-5zM1487,3440l11-13l-11,6l-11,31zM1345,3559l11-22l-11-8l-11,6zM1312,3598l11-104l-11,72l-11,27zM897,3874l11-28l-12,6l-11,14zM809,3941l11-29l-11,2l-11,1zM754,3983l11-34l-11-18l-11,36zM634,4053l11,0l-11-9l-11-22z"/>
<path color="#9b5605" d="M1367,3528l11-29l-11,15l-11,22zM1039,3766l11-26l-11,7l-11,4zM984,3808l11-18l-11-12l-11,15z"/>
<path color="#a25b06" d="M1531,3414l11-29l-11,11l-11,12z"/>
<path color="#a96207" d="M1641,3340l11-42l-12,31l-11-10zM1389,3500l11,15l-11-17l-11-14zM1126,3705l11-14l-11-51l-11,59zM820,3912l11-35l-11,26l-11,11zM765,3949l11,14l-11-41l-11,9zM656,4039l11-45l-11,23l-11,11zM623,4052l11,1l-11-31l-11,14z"/>
<path color="#b06a0a" d="M1498,3427l11-38l-11,34l-11,10z"/>
<path color="#bd7910" d="M1608,3369l11-41l-11-24l-11,42zM1378,3499l11,1l-11-16l-11,30zM678,4013l11-47l-11,4l-11,59z"/>
<path color="#c48014" d="M1630,3330l11,10l-12-21l-11-45z"/>
<path color="#cb8817" d="M1706,3294l11-58l-11,39l-11-34z"/>
<path color="#d1911b" d="M1684,3321l11-76l-11-22l-11,76z"/>
<path color="#d79b20" d="M1586,3346l11-42l-11,38l-11,21z"/>
<path color="#e4af2a" d="M1619,3328l11,2l-12-56l-10,30z"/>
<path color="#efc335" d="M1695,3245l11,49l-11-53l-11-18z"/>
<path color="#4e2100" d="M1269,3642l11-4l-11-14l-11,8zM1116,3753l11-5l-12-15l-10,10z"/>
<path color="#552500" d="M1455,3512l11-14l-11-6l-11,2zM1313,3607l11-7l-12-2l-11,11zM1302,3613l11-6l-12,2l-11,7zM1291,3623l11-10l-12,3l-10,8zM1280,3638l11-15l-11,1l-11,0zM1258,3644l11-2l-11-10l-11,3zM1247,3662l11-18l-11-9l-11,12zM1236,3671l11-9l-11-15l-11,6zM1017,3826l11-15l-11-7l-11-2z"/>
<path color="#5c2900" d="M1225,3657l11,14l-11-18l-11,10zM1028,3811l11-19l-11-4l-11,16z"/>
<path color="#632d00" d="M1685,3325l11,14l-12-18l-11,19zM1444,3509l11,3l-11-18l-11,1zM1159,3717l11-16l-11-9l-11,10zM886,3903l11,0l-11-11l-11,4zM864,3929l11-17l-11-12l-11,11z"/>
<path color="#6a3100" d="M1094,3756l11-19l-11,10l-11,4zM973,3846l11-23l-11,9l-11,1zM963,3847l10-1l-11-13l-11,3zM897,3903l11-26l-11-3l-11,18zM875,3912l11-9l-11-7l-11,4z"/>
<path color="#713500" d="M1411,3533l11-15l-11-7l-11,4zM1181,3686l11-3l-11-7l-11,10zM1170,3701l11-15l-11,0l-11,6zM1083,3762l11-6l-11-5l-11-5zM1006,3820l11,6l-11-24l-11-12zM809,3967l11-26l-11,0l-11,1zM766,3991l11-9l-12-33l-11,34zM656,4066l11-6l-11-21l-11,14z"/>
<path color="#783a00" d="M1564,3420l11-6l-11-13l-11-2zM1433,3502l11,7l-11-14l-11,4zM1039,3792l11-10l-11-16l-11,22zM984,3823l11-3l-11-12l-11,24zM952,3845l11,2l-12-11l-11,3zM853,3920l11,9l-11-18l-11-21zM645,4068l11-2l-11-13l-11,0z"/>
<path color="#7f3f01" d="M1466,3498l11-72l-11,63l-11,3zM1422,3518l11-16l-11-3l-11,12zM1192,3683l11-30l-11,10l-11,13zM1127,3748l11-67l-12,24l-11,28zM995,3820l11,0l-11-30l-11,18z"/>
<path color="#864502" d="M1575,3414l11-3l-11-53l-11,43zM1072,3774l11-12l-11-16l-11-18zM1050,3782l11-2l-11-40l-11,26zM634,4075l11-7l-11-15l-11-1z"/>
<path color="#8d4a03" d="M1696,3339l10-2l-11-92l-11,76zM1324,3600l10-13l-11-93l-11,104zM678,4052l11,6l-11-45l-11-19zM667,4060l11-8l-11-58l-11,45z"/>
<path color="#945004" d="M1717,3325l11-24l-11-65l-11,58zM1706,3337l11-12l-11-31l-11-49zM1553,3416l11,4l-11-21l-11-14zM1061,3780l11-6l-11-46l-11,12zM930,3859l11-37l-12,17l-10,30z"/>
<path color="#9b5605" d="M1641,3363l11-29l-11,6l-11-10zM1488,3453l11-19l-12,6l-11,29zM908,3877l11-31l-11,0l-11,28zM820,3941l11-48l-11,19l-11,29zM777,3982l10-61l-11,42l-11-14z"/>
<path color="#a25b06" d="M1542,3423l11-7l-11-31l-11,29zM1499,3434l11,20l-12-27l-11,13zM689,4058l11-37l-11-55l-11,47z"/>
<path color="#b06a0a" d="M1630,3342l11,21l-11-33l-11-2zM1586,3411l11-34l-11-31l-11,12zM842,3913l11,7l-11-30l-11-13z"/>
<path color="#b7710e" d="M1510,3454l10-23l-11-42l-11,38zM1378,3541l11-37l-11-5l-11,29z"/>
<path color="#bd7910" d="M722,4014l11-56l-11,35l-11-45z"/>
<path color="#c48014" d="M1389,3504l11,8l-11-12l-11-1zM831,3893l11,20l-11-36l-11,35z"/>
<path color="#cb8817" d="M1334,3587l11-52l-11-8l-11-33z"/>
<path color="#d1911b" d="M1652,3334l11-61l-11,25l-11,42z"/>
<path color="#d79b20" d="M1520,3431l11-33l-11-6l-11-3zM711,3993l11,21l-11-66l-11-6z"/>
<path color="#dda524" d="M1597,3377l11-34l-11-39l-11,42zM700,4021l11-28l-11-51l-11,24z"/>
<path color="#4e2100" d="M1718,3338l11-7l-12-6l-11,12zM1247,3679l11-13l-11-4l-11,9z"/>
<path color="#552500" d="M1324,3612l11,4l-11-16l-11,7zM1280,3654l11-17l-11,1l-11,4zM1269,3654l11,0l-11-12l-11,2zM1258,3666l11-12l-11-10l-11,18z"/>
<path color="#5c2900" d="M1729,3331l10-6l-11-24l-11,24zM1335,3616l11-26l-12-3l-10,13zM1313,3617l11-5l-11-5l-11,6zM1171,3724l11-3l-12-20l-11,16zM1028,3824l11-21l-11,8l-11,15zM1017,3828l11-4l-11,2l-11-6zM897,3915l11-4l-11-8l-11,0z"/>
<path color="#632d00" d="M1422,3548l11-9l-11-21l-11,15zM1291,3637l11-21l-11,7l-11,15zM1127,3755l11-35l-11,28l-11,5zM1006,3839l11-11l-11-8l-11,0zM886,3920l11-5l-11-12l-11,9zM875,3927l11-7l-11-8l-11,17zM821,3969l10-11l-11-17l-11,26z"/>
<path color="#6a3100" d="M1302,3616l11,1l-11-4l-11,10zM1072,3787l11-19l-11,6l-11,6zM700,4056l11-13l-11-22l-11,37z"/>
<path color="#713500" d="M1521,3485l11-16l-12-38l-10,23zM1061,3790l11-3l-11-7l-11,2zM1039,3803l11-14l-11,3l-11,19zM678,4067l11-24l-11,9l-11,8z"/>
<path color="#783a00" d="M1575,3428l11-24l-11,10l-11,6zM1510,3487l11-2l-11-31l-11-20zM1433,3539l11-29l-11-8l-11,16zM1411,3543l11,5l-11-15l-11-21zM1083,3768l11-5l-11-1l-11,12zM1050,3789l11,1l-11-8l-11,10z"/>
<path color="#7f3f01" d="M1597,3403l11,0l-11-26l-11,34zM1564,3422l11,6l-11-8l-11-4zM1203,3682l11,5l-11-34l-11,30zM1182,3721l10-56l-11,21l-11,15zM963,3854l11-7l-11,0l-11-2zM908,3911l11-58l-11,24l-11,26z"/>
<path color="#864502" d="M1094,3763l11-32l-11,25l-11,6zM810,3977l11-8l-12-2l-11-59zM645,4079l11-25l-11,14l-11,7z"/>
<path color="#8d4a03" d="M1466,3506l11-72l-11,64l-11,14zM974,3847l11-51l-12,50l-10,1zM853,3936l11-24l-11,8l-11-7zM831,3958l11-9l-11-56l-11,48zM711,4043l11-16l-11-34l-11,28z"/>
<path color="#945004" d="M1532,3469l11-19l-12-52l-11,33zM1499,3468l11,19l-11-53l-11,19zM1378,3567l11-12l-11-14l-11-17zM722,4027l11-18l-11,5l-11-21z"/>
<path color="#9b5605" d="M1685,3349l11-10l-11-14l-11-28zM1641,3380l11-34l-11,17l-11-21zM1214,3687l11-44l-11,11l-11-1zM952,3866l11-12l-11-9l-11-23zM842,3949l11-13l-11-23l-11-20zM755,4011l11-47l-11,14l-11,7z"/>
<path color="#a25b06" d="M941,3860l11,6l-11-44l-11,37z"/>
<path color="#a96207" d="M1652,3346l11-10l-11-2l-11,29zM1608,3403l11-23l-11-37l-11,34zM1389,3555l11-40l-11-11l-11,37zM1368,3556l10,11l-11-43l-11,7zM1346,3590l11-55l-12,0l-11,52z"/>
<path color="#b06a0a" d="M1543,3450l11-50l-12,23l-11-25zM1400,3515l11,28l-11-31l-11-8z"/>
<path color="#b7710e" d="M733,4009l11-29l-11-22l-11,56z"/>
<path color="#bd7910" d="M1138,3720l11-74l-11,35l-11,67zM919,3853l11-5l-11-2l-11,31zM788,3943l11,5l-12-27l-10,61z"/>
<path color="#c48014" d="M1630,3363l11,17l-11-38l-11-53zM799,3948l11,29l-12-69l-11,13z"/>
<path color="#cb8817" d="M1674,3336l11,13l-11-52l-11-24zM1663,3336l11,0l-11-63l-11,61zM1357,3535l11,21l-12-25l-11,4z"/>
<path color="#d1911b" d="M1477,3434l11,18l-11-26l-11,72z"/>
<path color="#d79b20" d="M1619,3380l11-17l-11-74l-11,54z"/>
<path color="#4e2100" d="M1521,3500l11-11l-11-4l-11,2z"/>
<path color="#552500" d="M1532,3489l11-16l-11-4l-11,16zM1433,3554l11-12l-11-3l-11,9zM1346,3624l11-15l-11-19l-11,26zM1335,3621l11,3l-11-8l-11-4zM1182,3732l11-6l-11-5l-11,3zM908,3925l11-8l-11-6l-11,4z"/>
<path color="#5c2900" d="M1740,3331l11-12l-12,6l-10,6zM1729,3336l11-5l-11,0l-11,7zM1422,3557l11-3l-11-6l-11-5zM1258,3672l11-13l-11,7l-11,13zM1018,3850l11-16l-12-6l-11,11z"/>
<path color="#632d00" d="M1543,3473l11-11l-11-12l-11,19zM1510,3498l11,2l-11-13l-11-19zM1324,3619l11,2l-11-9l-11,5zM1269,3659l11-4l-11-1l-11,12zM1029,3834l11-7l-12-3l-11,4zM843,3970l11-11l-12-10l-11,9zM832,3972l11-2l-12-12l-10,11zM821,3978l11-6l-11-3l-11,8zM711,4057l11-5l-11-9l-11,13z"/>
<path color="#6a3100" d="M1291,3646l11-25l-11,16l-11,17zM722,4052l11-4l-11-21l-11,16z"/>
<path color="#713500" d="M1718,3342l11-6l-11,2l-11-17zM1696,3367l11-20l-11-8l-11,10zM1444,3542l11-23l-11-9l-11,29zM1390,3563l11,18l-12-26l-11,12zM1313,3636l11-17l-11-2l-11-1zM1302,3621l11,15l-11-20l-11,21zM1040,3827l10-21l-11-3l-11,21zM854,3959l10-14l-11-9l-11,13zM700,4060l11-3l-11-1l-11-13zM689,4079l11-19l-11-17l-11,24z"/>
<path color="#783a00" d="M733,4048l11-14l-11-25l-11,18z"/>
<path color="#7f3f01" d="M1707,3347l11-5l-11-21l-11,18zM1401,3581l11-19l-12-47l-11,40zM1171,3728l11,4l-11-8l-11-43zM1061,3799l11,4l-11-13l-11-1zM919,3917l11-20l-11-44l-11,58zM810,3990l11-12l-11-1l-11-29z"/>
<path color="#864502" d="M1619,3391l11,16l-11-27l-11,23zM1412,3562l10-5l-11-14l-11-28zM1050,3806l11-7l-11-10l-11,14zM952,3881l11-12l-11-3l-11-6zM755,4033l11-21l-11-1l-11-31z"/>
<path color="#8d4a03" d="M1641,3397l11-20l-11,3l-11-17zM1630,3407l11-10l-11-34l-11,17zM1357,3609l11-22l-11-52l-11,55zM1193,3726l11-51l-12-10l-10,56zM1138,3737l11-9l-11-8l-11,35zM744,4034l11-1l-11-53l-11,29z"/>
<path color="#945004" d="M1576,3437l11-35l-12,26l-11-6zM1477,3515l11-7l-11-74l-11,72zM1466,3519l11-4l-11-9l-11-46zM1116,3766l11-20l-11-2l-11-13zM1072,3803l11-71l-11,55l-11,3zM864,3945l11-36l-11,3l-11,24zM766,4012l11-15l-11-33l-11,47z"/>
<path color="#9b5605" d="M1597,3417l11-27l-11,13l-11,1zM1499,3471l11,27l-11-30l-11-16zM1105,3748l11,18l-11-35l-11,32zM941,3884l11-3l-11-21l-11-12z"/>
<path color="#a25b06" d="M1652,3377l11-30l-11-1l-11,34zM1455,3519l11,0l-11-59l-11,50z"/>
<path color="#a96207" d="M1368,3587l11-19l-11-12l-11-21zM1226,3694l10-67l-11,16l-11,44zM963,3869l11-84l-11,69l-11,12zM930,3897l11-13l-11-36l-11,5zM799,3973l11,17l-11-42l-11-5zM777,3997l11-5l-11-24l-11-4z"/>
<path color="#b06a0a" d="M1554,3462l11-69l-11,7l-11,50zM788,3992l11-19l-11-30l-11,25z"/>
<path color="#bd7910" d="M1160,3727l11,1l-11-47l-11-35zM1149,3728l11-1l-11-81l-11,74z"/>
<path color="#c48014" d="M1663,3347l11-12l-11,1l-11,10zM1488,3508l11-37l-11-19l-11-18z"/>
<path color="#cb8817" d="M657,4040l11-3l-12,17l-11,25z"/>
<path color="#4e2100" d="M1357,3631l11-11l-11-11l-11,15z"/>
<path color="#552500" d="M1532,3501l11-16l-11,4l-11,11zM1521,3507l11-6l-11-1l-11-2z"/>
<path color="#5c2900" d="M1543,3485l11-2l-11-10l-11,16zM1445,3562l10-17l-11-3l-11,12zM1434,3566l11-4l-12-8l-11,3zM1368,3620l11-15l-11-18l-11,22zM1040,3851l11-10l-11-14l-11,7zM1029,3852l11-1l-11-17l-11,16z"/>
<path color="#632d00" d="M1554,3483l11-19l-11-2l-11,11zM1412,3584l11-18l-11-4l-11,19zM919,3925l11-8l-11,0l-11,8zM755,4042l11,5l-11-14l-11,1zM712,4084l10-15l-11-12l-11,3zM701,4082l11,2l-12-24l-11,19z"/>
<path color="#6a3100" d="M1488,3516l11,4l-11-12l-11,7zM1423,3566l11,0l-12-9l-10,5zM930,3917l11-8l-11-12l-11,20zM854,3973l11-19l-11,5l-11,11zM843,3977l11-4l-11-3l-11,2zM766,4047l11-30l-11-5l-11,21zM744,4047l11-5l-11-8l-11,14zM733,4057l11-10l-11,1l-11,4zM722,4069l11-12l-11-5l-11,5z"/>
<path color="#713500" d="M1740,3343l11-14l-11,2l-11,5zM1729,3344l11-1l-11-7l-11,6zM1641,3406l11,1l-11-10l-11,10zM908,3930l11-5l-11,0l-11-11zM832,3987l11-10l-11-5l-11,6zM821,3990l11-3l-11-9l-11,12z"/>
<path color="#783a00" d="M1652,3407l11-15l-11-15l-11,20zM1631,3431l10-25l-11,1l-11-16zM1609,3452l11-6l-12-56l-11,27zM1477,3525l11-9l-11-1l-11,4zM1455,3545l11-17l-11-9l-11,23zM1379,3605l11-15l-11-22l-11,19zM1313,3642l11-3l-11-3l-11-15zM1171,3749l11-10l-11-11l-11-1zM1160,3763l11-14l-11-22l-11,1zM963,3894l11-12l-11-13l-11,12zM952,3902l11-8l-11-13l-11,3zM941,3909l11-7l-11-18l-11,13zM865,3954l11-6l-12-3l-10,14zM810,4007l11-17l-11,0l-11-17z"/>
<path color="#7f3f01" d="M1696,3380l11-34l-11,21l-11-18zM1620,3446l11-15l-12-40l-11-1zM1587,3469l11-22l-11-45l-11,35zM1499,3520l11-23l-11-26l-11,37zM1466,3528l11-3l-11-6l-11,0zM1182,3739l11-37l-11,30l-11-4zM1149,3758l11,5l-11-35l-11,9zM1051,3841l11-46l-12,11l-10,21z"/>
<path color="#864502" d="M1751,3329l11-35l-11,25l-11,12zM1598,3447l11,5l-12-35l-10-15zM1324,3639l11-44l-11,24l-11,17zM1302,3637l11,5l-11-21l-11,25zM1127,3770l11-7l-11-17l-11,20zM1116,3787l11-17l-11-4l-11-18zM799,4003l11,4l-11-34l-11,19z"/>
<path color="#8d4a03" d="M1576,3477l11-8l-11-32l-11-44zM1565,3464l11,13l-11-84l-11,69zM1138,3763l11-5l-11-21l-11,9zM876,3948l11-7l-12-32l-11,36z"/>
<path color="#945004" d="M1390,3590l11-31l-11,4l-11,5zM898,3938l10-8l-11-16l-11-28z"/>
<path color="#9b5605" d="M1685,3369l11,11l-11-31l-11-14zM1663,3392l11-20l-11-25l-11,30zM1204,3726l11-56l-11,5l-11,51z"/>
<path color="#a25b06" d="M777,4017l11-52l-11,32l-11,15z"/>
<path color="#a96207" d="M887,3941l11-3l-12-52l-11,23z"/>
<path color="#b06a0a" d="M1674,3372l11-3l-11-34l-11,12zM1237,3697l11-48l-12-22l-10,67z"/>
<path color="#bd7910" d="M974,3882l11-45l-11-52l-11,84zM679,4076l11-29l-11,21l-11-31z"/>
<path color="#c48014" d="M668,4101l11-25l-11-39l-11,3z"/>
<path color="#dda524" d="M1084,3761l10-63l-11,34l-11,71z"/>
<path color="#f3cd40" d="M985,3837l11,0l-11-72l-11,20z"/>
<path color="#fbe157" d="M996,3837l11-47l-11-30l-11,5z"/>
<path color="#4e2100" d="M1587,3485l11-10l-11-6l-11,8z"/>
<path color="#5c2900" d="M1620,3451l11-15l-11,10l-11,6zM1576,3490l11-5l-11-8l-11-13zM1532,3512l11-17l-11,6l-11,6zM1445,3575l11-11l-11-2l-11,4zM1379,3619l11-4l-11-10l-11,15zM1368,3626l11-7l-11,1l-11,11zM1171,3773l11-20l-11-4l-11,14zM1160,3776l11-3l-11-10l-11-5zM777,4055l11-13l-11-25l-11,30zM723,4090l11-12l-12-9l-10,15zM712,4095l11-5l-11-6l-11-2z"/>
<path color="#632d00" d="M1751,3361l11-8l-11-24l-11,14zM1456,3564l11-9l-12-10l-10,17zM1390,3615l11-12l-11-13l-11,15zM1051,3847l11-8l-11,2l-11,10zM1040,3853l11-6l-11,4l-11,1z"/>
<path color="#6a3100" d="M1631,3436l11-26l-11,21l-11,15zM1598,3475l11-45l-11,17l-11,22zM1565,3472l11,18l-11-26l-11,19zM1543,3495l11-10l-11,0l-11,16zM974,3906l11-3l-11-21l-11,12zM942,3931l10-11l-11-11l-11,8zM832,4001l11,2l-11-16l-11,3z"/>
<path color="#713500" d="M1696,3407l11-34l-11,7l-11-11zM1554,3485l11-13l-11,11l-11,2zM1182,3753l11-15l-11,1l-11,10zM963,3904l11,2l-11-12l-11,8zM952,3920l11-16l-11-2l-11,7zM843,4003l11-32l-11,6l-11,10zM734,4078l11-25l-12,4l-11,12z"/>
<path color="#783a00" d="M1685,3403l11,4l-11-38l-11,3zM1489,3533l10-8l-11-9l-11,9zM1467,3555l11-19l-12-8l-11,17zM898,3947l11,1l-11-10l-11,3zM679,4118l11-12l-11-30l-11,25z"/>
<path color="#7f3f01" d="M1664,3407l10-18l-11,3l-11,15zM1653,3409l11-2l-12,0l-11-1zM1642,3410l11-1l-12-3l-10,25zM1478,3536l11-3l-12-8l-11,3zM1324,3641l11-1l-11-1l-11,3zM1313,3668l11-27l-11,1l-11-5zM1128,3794l10-26l-11,2l-11,17zM985,3903l11-9l-11-57l-11,45zM909,3948l11-28l-12,10l-10,8zM887,3964l11-17l-11-6l-11,7zM810,4020l11-41l-11,28l-11-4z"/>
<path color="#864502" d="M1674,3389l11,14l-11-31l-11,20zM1499,3525l11-32l-11,27l-11-4zM1062,3839l11-25l-11-19l-11,46zM701,4089l11,6l-11-13l-11-35z"/>
<path color="#8d4a03" d="M1762,3353l11-29l-11-30l-11,35zM1707,3373l11-19l-11-8l-11,34zM1303,3660l10,8l-11-31l-11-5zM1193,3738l11-7l-11-29l-11,37zM1138,3768l11-9l-11,4l-11,7zM1029,3855l11-2l-11-1l-11-36zM865,3969l11-30l-11,15l-11,19zM788,4042l11-16l-11-61l-11,52z"/>
<path color="#945004" d="M1292,3668l11-8l-12-28l-11,23zM1281,3679l11-11l-12-13l-10-7zM799,4026l11-6l-11-17l-11-38zM690,4106l11-17l-11-42l-11,29z"/>
<path color="#9b5605" d="M1729,3355l11-26l-11,15l-11-4zM1718,3354l11,1l-11-15l-11,6zM1401,3603l11-58l-11,14l-11,31zM1237,3703l11,10l-11-16l-11-53zM1204,3731l11-30l-11,25l-11-24zM996,3894l11-15l-11-42l-11,0zM745,4053l11-57l-12,51l-11,10z"/>
<path color="#a96207" d="M1335,3640l11-46l-11,1l-11,44zM1248,3713l11-58l-11-6l-11,48z"/>
<path color="#b7710e" d="M1270,3689l11-10l-11-31l-11-54zM1073,3814l11-9l-11-31l-11,21z"/>
<path color="#c48014" d="M1084,3805l11-13l-11-31l-11,13z"/>
<path color="#cb8817" d="M1215,3701l11-66l-11,35l-11,56zM1007,3879l11-54l-11-35l-11,47z"/>
<path color="#d79b20" d="M1259,3655l11,34l-11-95l-11,55zM1095,3792l11-9l-12-85l-10,63zM1018,3825l11,30l-11-39l-11-26z"/>
<path color="#dda524" d="M1106,3783l11,2l-12-85l-11-2z"/>
<path color="#552500" d="M1697,3415l11,0l-12-8l-11-4zM800,4054l10-5l-11-23l-11,16zM789,4055l11-1l-12-12l-11,13zM723,4105l11,0l-11-15l-11,5z"/>
<path color="#5c2900" d="M1762,3363l11-4l-11-6l-11,8zM1708,3415l10-8l-11-34l-11,34zM1598,3481l11-19l-11,13l-11,10zM1171,3783l11-14l-11,4l-11,3zM996,3905l11-2l-11-9l-11,9zM810,4049l11-15l-11-14l-11,6z"/>
<path color="#632d00" d="M1631,3467l11-21l-11-10l-11,15zM1543,3532l11-22l-11-15l-11,17zM1401,3607l11,7l-11-11l-11,12zM986,3906l10-1l-11-2l-11,3zM734,4105l11-34l-11,7l-11,12zM690,4119l11-1l-11-12l-11,12z"/>
<path color="#6a3100" d="M1620,3471l11-4l-11-16l-11-21zM1532,3528l11,4l-11-20l-11-11zM1007,3903l11-33l-11,9l-11,15z"/>
<path color="#713500" d="M1686,3411l11,4l-12-12l-11-14zM1609,3462l11,9l-11-41l-11,45zM1554,3510l11-11l-11-14l-11,10zM1500,3553l11-21l-12-7l-10,8zM1489,3557l11-4l-11-20l-11,3zM1478,3555l11,2l-11-21l-11,19zM1467,3561l11-6l-11,0l-11,9zM1456,3570l11-9l-11,3l-11,11zM1368,3651l11-30l-11,5l-11-10z"/>
<path color="#783a00" d="M1718,3407l11-23l-11-30l-11,19zM1379,3621l11-10l-11,8l-11,7zM1204,3758l11-18l-11-9l-11,7zM1128,3823l11-38l-11,9l-11-9zM1117,3834l11-11l-11-38l-11-2zM953,3934l11-32l-12,18l-10,11zM843,4005l11-24l-11,22l-11-2z"/>
<path color="#7f3f01" d="M1729,3384l11-7l-11-22l-11-1zM1664,3431l11-21l-11-3l-11,2zM1642,3446l11-17l-11-19l-11,26zM1565,3499l11-12l-11-15l-11,13zM1281,3705l11-35l-11,9l-11,10zM1259,3715l11,5l-11-65l-11,58zM1182,3769l11-37l-11,21l-11,20zM745,4071l11-6l-11-12l-11,25zM701,4118l11-44l-11,15l-11,17z"/>
<path color="#864502" d="M1773,3359l11-63l-11,28l-11,29zM1675,3410l11,1l-12-22l-10,18zM1653,3429l11,2l-11-22l-11,1zM1522,3526l10,2l-11-27l-11-8zM1357,3659l11-8l-11-35l-11-22zM1347,3650l10,9l-11-65l-11,46zM1270,3720l11-15l-11-16l-11-34zM1106,3830l11,4l-11-51l-11,9zM920,3943l11-3l-11-20l-11,28zM821,4034l11-30l-11-25l-11,41z"/>
<path color="#8d4a03" d="M1740,3377l11-15l-11-33l-11,26zM1511,3532l11-6l-12-33l-11,32zM1095,3827l11,3l-11-38l-11,13zM1040,3871l11-42l-11,24l-11,2zM1029,3886l11-15l-11-16l-11-30zM942,3933l11,1l-11-3l-11-47zM832,4004l11,1l-11-4l-11-22z"/>
<path color="#945004" d="M1412,3614l11-37l-11-32l-11,58zM1084,3821l11,6l-11-22l-11,9zM1018,3870l11,16l-11-61l-11,54zM898,3953l11-20l-11,14l-11,17zM854,3981l11-12l-11,2l-11,32z"/>
<path color="#9b5605" d="M1215,3740l11-23l-11-16l-11,30zM1139,3785l11-26l-12,9l-10,26z"/>
<path color="#a25b06" d="M1292,3670l11-22l-11,20l-11,11zM931,3940l11-7l-11-49l-11,36z"/>
<path color="#a96207" d="M876,3966l11-12l-11-15l-11,30z"/>
<path color="#b06a0a" d="M756,4065l11-21l-11-48l-11,57z"/>
<path color="#d1911b" d="M1226,3717l11-15l-11-67l-11,66z"/>
<path color="#e4af2a" d="M1423,3577l11-77l-11,33l-11,12z"/>
<path color="#4e2100" d="M1719,3423l11-11l-12-5l-10,8zM1708,3425l11-2l-11-8l-11,0zM1128,3838l11-8l-11-7l-11,11zM734,4114l11-1l-11-8l-11,0z"/>
<path color="#552500" d="M1730,3412l11-11l-12-17l-11,23zM1631,3475l11-5l-11-3l-11,4zM1500,3570l11-1l-11-16l-11,4zM1281,3729l11-14l-11-10l-11,15zM1117,3836l11,2l-11-4l-11-4z"/>
<path color="#5c2900" d="M1697,3428l11-3l-11-10l-11-4zM1642,3470l11-10l-11-14l-11,21zM1369,3653l11-3l-12,1l-11,8zM811,4051l11-12l-12,10l-10,5zM745,4113l11-15l-11-27l-11,34zM701,4138l11-9l-11-11l-11,1z"/>
<path color="#632d00" d="M1741,3401l11-18l-12-6l-11,7zM1620,3475l11,0l-11-4l-11-9zM1511,3569l11-17l-11-20l-11,21zM1139,3830l11-17l-11-28l-11,38zM800,4058l11-7l-11,3l-11,1z"/>
<path color="#6a3100" d="M1773,3372l11-22l-11,9l-11,4zM1762,3374l11-2l-11-9l-11-1zM1555,3540l11-46l-12,16l-11,22zM1380,3650l10-17l-11-12l-11,30zM1215,3764l11-7l-11-17l-11,18zM1008,3913l11-18l-12,8l-11,2zM997,3914l11-1l-12-8l-10,1z"/>
<path color="#713500" d="M1752,3383l10-9l-11-12l-11,15zM1686,3429l11-1l-11-17l-11-1zM1675,3444l11-15l-11-19l-11,21zM1533,3532l11-6l-12,2l-10-2zM1522,3552l11-20l-11-6l-11,6zM756,4098l11-13l-11-20l-11,6z"/>
<path color="#783a00" d="M1653,3460l11-29l-11-2l-11,17zM1576,3500l11-11l-11-2l-11,12zM844,4034l10-19l-11-10l-11-1zM822,4039l11-38l-12,33l-11,15zM723,4108l11,6l-11-9l-11-31zM712,4129l11-21l-11-34l-11,44z"/>
<path color="#7f3f01" d="M1423,3614l11-17l-11-20l-11,37zM1226,3757l11-13l-11-27l-11,23zM942,3948l11,2l-11-17l-11,7zM767,4085l11-12l-11-29l-11,21z"/>
<path color="#864502" d="M1390,3633l11-13l-11-9l-11,10zM1172,3791l11-34l-12,26l-10-6zM953,3950l11-40l-11,24l-11-1zM931,3956l11-8l-11-8l-11,3z"/>
<path color="#8d4a03" d="M1478,3562l11-14l-11,7l-11,6zM1467,3563l11-1l-11-1l-11,9zM1292,3715l11-48l-11,3l-11,35zM1161,3799l11-8l-11-14l-11-18zM1150,3813l11-14l-11-40l-11,26zM964,3910l11,23l-11-31l-11,32zM898,3984l11-9l-11-22l-11,1zM887,4000l11-16l-11-30l-11,12zM876,4001l11-1l-11-34l-11,3zM778,4073l11-25l-11-4l-11,0z"/>
<path color="#945004" d="M1587,3489l11-32l-11,22l-11,8zM1401,3620l11-28l-11,15l-11,4zM1019,3895l10-41l-11,16l-11,33zM920,3970l11-14l-11-13l-11-10zM909,3975l11-5l-11-37l-11,20z"/>
<path color="#9b5605" d="M854,4015l11-39l-11,5l-11,24z"/>
<path color="#a25b06" d="M1194,3742l11,18l-12-28l-11,37zM975,3933l11-35l-11-8l-11,12zM865,3976l11,25l-11-32l-11,12z"/>
<path color="#b06a0a" d="M1314,3678l11-24l-11,5l-11-11zM1237,3744l11-47l-11,5l-11,15z"/>
<path color="#b7710e" d="M1784,3350l11-63l-11,9l-11,63zM1303,3667l11,11l-11-30l-11,22z"/>
<path color="#d1911b" d="M1336,3647l11-3l-11-14l-11-30zM1325,3654l11-7l-11-47l-11,59z"/>
<path color="#d79b20" d="M1434,3597l11-60l-11-37l-11,77zM1062,3847l11-59l-11,32l-11,9z"/>
<path color="#4e2100" d="M745,4125l11-4l-11-8l-11,1z"/>
<path color="#552500" d="M1708,3442l11-7l-11-10l-11,3zM1292,3736l11-18l-11-3l-11,14zM1139,3838l11-7l-11-1l-11,8zM756,4121l11-19l-11-4l-11,15z"/>
<path color="#5c2900" d="M1719,3435l11-27l-11,15l-11,2zM1697,3445l11-3l-11-14l-11,1zM1686,3455l11-10l-11-16l-11,15zM1555,3555l11-11l-11-4l-11-14zM1533,3563l11-2l-11-29l-11,20zM1522,3554l11,9l-11-11l-11,17zM1227,3783l11-12l-12-14l-11,7zM887,4022l11-6l-11-16l-11,1z"/>
<path color="#632d00" d="M1675,3466l11-11l-11-11l-11-13zM1642,3476l11-7l-11,1l-11,5zM1566,3544l11-4l-11-46l-11,46zM1544,3561l11-6l-11-29l-11,6zM1281,3732l11,4l-11-7l-11-9zM1238,3771l10-5l-11-22l-11,13zM1216,3795l11-12l-12-19l-10-4zM1150,3831l11-17l-11-1l-11,17zM898,4016l11-16l-11-16l-11,16zM855,4050l11-29l-12-6l-10,19z"/>
<path color="#6a3100" d="M1774,3386l11-8l-12-6l-11,2zM1631,3485l11-9l-11-1l-11,0zM1161,3814l11-3l-11-12l-11,14z"/>
<path color="#713500" d="M1653,3469l11-31l-11,22l-11,10zM1588,3521l11-12l-12-20l-11,11zM1577,3540l11-19l-12-21l-10-6zM1117,3851l11-15l-11,0l-11-5zM1008,3917l11-1l-11-3l-11,1zM811,4063l11-10l-11-2l-11,7z"/>
<path color="#783a00" d="M1785,3378l11-24l-12-4l-11,22zM1664,3438l11,28l-11-35l-11,29zM1434,3614l11,3l-11-20l-11,17zM1402,3642l11,4l-12-26l-11,13zM1391,3641l11,1l-12-9l-10,17zM1303,3718l11,2l-11-53l-11,48zM1106,3863l11-12l-11-20l-11-4zM909,4000l11-29l-11,4l-11,9zM767,4102l11-53l-11,36l-11,13z"/>
<path color="#7f3f01" d="M1205,3795l11,0l-11-35l-11-18zM800,4068l11-5l-11-5l-11-10z"/>
<path color="#864502" d="M1314,3720l11-23l-11-19l-11-11zM975,3951l11-25l-11,7l-11-23zM964,3950l11,1l-11-41l-11,40z"/>
<path color="#8d4a03" d="M1248,3766l11-38l-11-31l-11,47zM1172,3811l11-56l-11,36l-11,8zM822,4053l11-44l-11,30l-11,12zM712,4089l11,9l-11,31l-11,9z"/>
<path color="#945004" d="M1752,3397l11-71l-11,57l-11,18zM1489,3573l11-10l-11-15l-11,14zM1413,3646l11-38l-12-16l-11,28zM931,3964l11-26l-11,18l-11,14z"/>
<path color="#9b5605" d="M1478,3565l11,8l-11-11l-11,1zM1019,3916l11-90l-11,69l-11,18zM986,3926l11-20l-11-8l-11,35z"/>
<path color="#a25b06" d="M1599,3509l11-46l-12-6l-11,32zM1445,3617l11-20l-11-60l-11,60zM1325,3697l11-32l-11-11l-11,24zM866,4021l11-35l-12-10l-11,39zM833,4009l11,26l-11-34l-11,38z"/>
<path color="#a96207" d="M1796,3354l10,0l-11-67l-11,63zM1347,3671l11-17l-11-10l-11,3zM1095,3840l11,23l-11-36l-11-26z"/>
<path color="#b06a0a" d="M1467,3579l11-14l-11-2l-11-1zM1336,3665l11,6l-11-24l-11,7zM1194,3750l11,45l-11-53l-11,15zM1063,3887l10-15l-11-25l-11-46z"/>
<path color="#bd7910" d="M1456,3597l11-18l-11-17l-11-25z"/>
<path color="#c48014" d="M1358,3654l11-22l-11-19l-11,31zM1259,3728l11-13l-11-26l-11,8zM1052,3876l11,11l-12-86l-11,41z"/>
<path color="#d79b20" d="M1610,3463l10-6l-11-38l-11,38zM1073,3872l11-91l-11,7l-11,59z"/>
<path color="#4e2100" d="M1555,3571l11-8l-11-8l-11,6zM1544,3572l11-1l-11-10l-11,2zM1249,3788l11-11l-12-11l-10,5zM1238,3795l11-7l-11-17l-11,12zM756,4136l11-7l-11-8l-11,4z"/>
<path color="#552500" d="M1697,3461l11-11l-11-5l-11,10zM1599,3540l11-8l-11-23l-11,12zM1588,3541l11-1l-11-19l-11,19zM1577,3542l11-1l-11-1l-11,4zM1566,3563l11-21l-11,2l-11,11zM1227,3789l11,6l-11-12l-11,12zM1216,3808l11-19l-11,6l-11,0zM899,4022l11-6l-12,0l-11,6z"/>
<path color="#5c2900" d="M1708,3450l11-10l-11,2l-11,3zM1303,3741l11-18l-11-5l-11,18zM1292,3742l11-1l-11-5l-11-4zM1150,3845l11-5l-11-9l-11,7zM1117,3873l11-4l-11-18l-11,12zM767,4129l11-26l-11-1l-11,19z"/>
<path color="#632d00" d="M1719,3440l11-18l-11,13l-11,7zM1533,3574l11-2l-11-9l-11-9zM1446,3643l11-14l-12-12l-11-3zM1260,3777l11-11l-12-38l-11,38zM1161,3840l11-16l-11-10l-11,17zM855,4053l11-9l-11,6l-11-15z"/>
<path color="#6a3100" d="M1730,3422l11,1l-11-15l-11,27zM1413,3649l11,6l-11-9l-11-4zM910,4016l11-27l-12,11l-11,16zM745,4129l11,7l-11-11l-11-24z"/>
<path color="#713500" d="M1741,3423l11-7l-11-17l-11,9zM1643,3488l11-9l-12-3l-11,9zM1314,3723l11-28l-11,25l-11-2zM1128,3869l11-38l-11,5l-11,15zM1106,3869l11,4l-11-10l-11-23zM1074,3897l11-14l-12-11l-10,15zM1063,3913l11-16l-11-10l-11-11z"/>
<path color="#783a00" d="M1807,3372l11,1l-12-19l-10,0zM1654,3479l10-20l-11,10l-11,7zM1610,3532l11-24l-11-45l-11,46zM1336,3712l11,1l-11-48l-11,32zM1282,3756l10-14l-11-10l-11-17zM975,3959l11-8l-11,0l-11-1zM822,4068l11-13l-11-2l-11,10z"/>
<path color="#7f3f01" d="M1457,3629l11-36l-12,4l-11,20zM1347,3713l11-18l-11-24l-11-6zM1271,3766l11-10l-12-41l-11,13zM1205,3797l11,11l-11-13l-11-45zM986,3951l11-16l-11-9l-11,25z"/>
<path color="#864502" d="M1522,3569l11,5l-11-20l-11-12zM1402,3651l11-2l-11-7l-11-1zM1172,3824l11-38l-11,25l-11,3zM1008,3940l11-5l-11-18l-11-11zM921,3989l10-3l-11-15l-11,29z"/>
<path color="#8d4a03" d="M1785,3390l11-58l-11,46l-11,8zM1752,3416l11-47l-11,28l-11,2zM1500,3577l11-2l-11-12l-11,10zM1019,3935l11-48l-11,29l-11,1zM931,3986l11-3l-11-19l-11,7zM866,4044l11-66l-11,43l-11,29zM778,4103l11-17l-11-37l-11,53z"/>
<path color="#945004" d="M1664,3459l11-10l-11-11l-11,31zM1511,3575l11-6l-11-27l-11,21zM1489,3591l11-14l-11-4l-11-8zM1424,3655l11-69l-11,22l-11,38zM1358,3695l11-35l-11-6l-11,17zM997,3935l11,5l-11-34l-11,20zM844,4044l11,9l-11-18l-11-26z"/>
<path color="#9b5605" d="M1774,3388l11,2l-11-4l-11-60zM1391,3656l11-5l-11-10l-11-8zM833,4055l11-11l-11-35l-11,44z"/>
<path color="#a25b06" d="M1380,3673l11-17l-11-23l-11-1zM800,4083l11-37l-11,22l-11-28z"/>
<path color="#a96207" d="M1369,3660l11,13l-11-41l-11,22zM1052,3897l11,16l-11-37l-11-58zM789,4086l11-3l-11-43l-11,9z"/>
<path color="#b06a0a" d="M1621,3508l11-37l-12-14l-10,6zM1468,3593l10-28l-11,14l-11,18zM1183,3786l11-2l-11-29l-11,56zM1085,3883l11-29l-12-73l-11,91z"/>
<path color="#b7710e" d="M1763,3369l11,19l-11-62l-11,71zM942,3983l11-57l-11,12l-11,26z"/>
<path color="#bd7910" d="M1194,3784l11,13l-11-47l-11,5zM1096,3854l10,15l-11-29l-11-59z"/>
<path color="#d79b20" d="M724,4103l11-19l-12,14l-11-9z"/>
<path color="#dda524" d="M1030,3887l11-63l-11,2l-11,90z"/>
<path color="#f3cd40" d="M1041,3824l11,73l-11-79l-11,8z"/>
<path color="#4e2100" d="M1610,3547l11-7l-11-8l-11,8zM1555,3583l11-9l-11-3l-11,1zM768,4144l11-12l-12-3l-11,7z"/>
<path color="#552500" d="M1566,3574l11-23l-11,12l-11,8zM1544,3594l11-11l-11-11l-11,2zM1358,3723l11-15l-11-13l-11,18zM1227,3815l11-13l-11-13l-11,19zM757,4147l11-3l-12-8l-11-7z"/>
<path color="#5c2900" d="M1621,3540l11-27l-11-5l-11,24zM1457,3654l11-28l-11,3l-11,14zM1238,3802l11-15l-11,8l-11-6zM1216,3816l11-1l-11-7l-11-11z"/>
<path color="#632d00" d="M1588,3544l11-3l-11,0l-11,1zM1577,3551l11-7l-11-2l-11,21zM1293,3761l11-20l-12,1l-10,14zM1161,3850l11-9l-11-1l-11,5zM1129,3872l11-10l-12,7l-11,4zM779,4132l10-31l-11,2l-11,26z"/>
<path color="#6a3100" d="M1533,3581l11,13l-11-20l-11-5zM1315,3739l11-14l-12-2l-11,18zM1085,3898l11,4l-11-19l-11,14zM1074,3905l11-7l-11-1l-11,16z"/>
<path color="#713500" d="M1752,3421l11,4l-11-9l-11,7zM1697,3470l11-21l-11,12l-11-7zM1654,3507l11-17l-11-11l-11,9zM1172,3841l11-24l-11,7l-11,16zM1019,3950l11-21l-11,6l-11,5z"/>
<path color="#783a00" d="M1741,3438l11-17l-11,2l-11-1zM1643,3512l11-5l-11-19l-11-17zM1205,3823l11-7l-11-19l-11-13zM1096,3902l11-5l-11-43l-11,29zM1008,3953l11-3l-11-10l-11-5zM855,4061l11-7l-11-1l-11-9z"/>
<path color="#7f3f01" d="M1818,3366l11-2l-11,9l-11-1zM1785,3399l11-11l-11,2l-11-2zM1687,3471l10-1l-11-16l-11-5zM1665,3490l11-11l-12-20l-10,20zM1632,3513l11-1l-11-41l-11,37zM1391,3682l11-10l-11-16l-11,17zM1369,3708l11-31l-11-17l-11,35zM1107,3897l11-25l-12-3l-10-15zM866,4054l11-32l-11,22l-11,9zM746,4148l11-1l-12-18l-10-45z"/>
<path color="#864502" d="M1522,3575l11,6l-11-12l-11,6zM1501,3596l11-3l-12-16l-11,14zM1413,3656l11-5l-11-2l-11,2zM1030,3929l11,17l-11-59l-11,48zM833,4083l11-32l-11,4l-11,13z"/>
<path color="#8d4a03" d="M1763,3425l11-23l-11-33l-11,47zM1676,3479l11-8l-12-22l-11,10zM1512,3593l10-18l-11,0l-11,2zM1402,3672l11-16l-11-5l-11,5zM1380,3677l11,5l-11-9l-11-13zM1326,3725l10-24l-11-6l-11,28zM1194,3829l11-6l-11-39l-11,2zM1183,3817l11,12l-11-43l-11,38zM997,3939l11,14l-11-18l-11,16zM986,3962l11-23l-11,12l-11,8zM844,4051l11,10l-11-17l-11,11zM789,4101l11-26l-11,11l-11,17z"/>
<path color="#945004" d="M1140,3862l10-56l-11,25l-11,38z"/>
<path color="#9b5605" d="M1796,3388l11-3l-11-53l-11,58zM1774,3402l11-3l-11-11l-11-19zM1468,3626l11-49l-11,16l-11,36z"/>
<path color="#a25b06" d="M1807,3385l11-19l-11,6l-11-40zM975,3979l11-17l-11-3l-11-56zM877,4022l11,22l-11-66l-11,66zM735,4156l11-8l-11-64l-11,19z"/>
<path color="#a96207" d="M954,3979l10-11l-11-42l-11,57zM888,4044l11-34l-11,4l-11-36z"/>
<path color="#b06a0a" d="M811,4061l11,3l-11-18l-11,37z"/>
<path color="#b7710e" d="M1435,3599l11,33l-11-46l-11,69zM1041,3946l11-40l-11-82l-11,63z"/>
<path color="#cb8817" d="M1052,3906l11-32l-11,23l-11-73zM964,3968l11,11l-11-76l-11,23z"/>
<path color="#d79b20" d="M1479,3577l11-12l-12,0l-10,28z"/>
<path color="#4e2100" d="M1566,3594l11-8l-11-12l-11,9zM1555,3593l11,1l-11-11l-11,11zM779,4147l11-3l-11-12l-11,12z"/>
<path color="#552500" d="M1577,3586l11-12l-11-23l-11,23zM1249,3816l11-5l-11-24l-11,15zM1238,3817l11-1l-11-14l-11,13zM1107,3915l11-3l-11-15l-11,5zM768,4146l11,1l-11-3l-11,3z"/>
<path color="#5c2900" d="M1227,3819l11-2l-11-2l-11,1zM1216,3834l11-15l-11-3l-11,7zM1205,3846l11-12l-11-11l-11,6zM757,4157l11-11l-11,1l-11,1z"/>
<path color="#632d00" d="M1698,3501l11-8l-12-23l-10,1zM1665,3515l11-16l-11-9l-11,17zM1654,3512l11,3l-11-8l-11,5zM1599,3566l11-22l-11-3l-11,3zM1588,3574l11-8l-11-22l-11,7zM1096,3912l11,3l-11-13l-11-4zM1052,3956l11-14l-11-36l-11,40zM746,4160l11-3l-11-9l-11,8z"/>
<path color="#6a3100" d="M1752,3462l11-25l-11-16l-11,17zM1709,3493l11-25l-12-19l-11,21zM1687,3493l11,8l-11-30l-11,8zM1380,3718l11-16l-11-25l-11,31zM1173,3846l11,10l-12-15l-11,9zM1019,3967l11-4l-11-13l-11,3zM987,3998l11-15l-12-21l-11,17z"/>
<path color="#713500" d="M1774,3430l11-2l-11-26l-11,23zM1763,3437l11-7l-11-5l-11-4zM1676,3499l11-6l-11-14l-11,11zM1402,3693l11-6l-11-15l-11,10zM1194,3832l11,14l-11-17l-11-12zM1118,3912l11-40l-11,0l-11,25zM1085,3924l11-12l-11-14l-11,7z"/>
<path color="#783a00" d="M1534,3600l11-7l-12-12l-11-6zM1523,3613l11-13l-12-25l-10,18zM1468,3649l11-32l-11,9l-11,28zM1391,3702l11-9l-11-11l-11-5zM1326,3748l11-14l-11-9l-11,14zM1184,3856l10-24l-11-15l-11,24zM1030,3963l11-27l-11-7l-11,21zM888,4057l11-3l-11-10l-11-22zM790,4144l11-59l-12,16l-10,31z"/>
<path color="#7f3f01" d="M1741,3453l11,9l-11-24l-11-37zM1512,3600l11,13l-11-20l-11,3zM1413,3687l11-20l-11-11l-11,16zM866,4058l11,5l-11-9l-11,7z"/>
<path color="#864502" d="M1140,3867l11-18l-11,13l-11,10zM877,4063l11-6l-11-35l-11,32zM833,4093l11-19l-11,9l-11-19z"/>
<path color="#8d4a03" d="M1818,3384l11-2l-11-16l-11,19zM1807,3390l11-6l-11,1l-11,3zM1785,3428l11-45l-11,16l-11,3zM1424,3667l11-15l-11-1l-11,5zM899,4054l11-41l-11-3l-11,34zM844,4074l11-10l-11-13l-11,32z"/>
<path color="#945004" d="M1829,3382l11-23l-11,5l-11,2zM998,3983l10-43l-11-1l-11,23zM855,4064l11-6l-11,3l-11-10z"/>
<path color="#9b5605" d="M1260,3811l11-89l-11,38l-11,27z"/>
<path color="#a25b06" d="M1337,3734l11-49l-12,16l-10,24z"/>
<path color="#a96207" d="M1479,3617l11-5l-11-35l-11,49zM1063,3942l11-48l-11-20l-11,32z"/>
<path color="#b06a0a" d="M1720,3468l11-73l-12,30l-11,24zM954,4000l11-40l-11,19l-11-7z"/>
<path color="#b7710e" d="M1151,3849l11-25l-12-18l-10,56zM943,3998l11,2l-11-28l-11-10zM801,4085l11-17l-12,7l-11,26z"/>
<path color="#c48014" d="M1435,3652l11-37l-11-16l-11,52zM910,4013l11,7l-11-71l-11,61z"/>
<path color="#d1911b" d="M932,4008l11-10l-11-36l-11-21zM812,4068l10-11l-11,4l-11,14z"/>
<path color="#d79b20" d="M1490,3612l11-35l-11-12l-11,12z"/>
<path color="#dda524" d="M921,4020l11-12l-11-67l-11,8z"/>
<path color="#4e2100" d="M1709,3509l11-8l-11-8l-11,8zM1578,3601l11-8l-12-7l-11,8zM1260,3825l11-11l-11-3l-11,5zM1249,3834l11-9l-11-9l-11,1z"/>
<path color="#552500" d="M1753,3473l11-6l-12-5l-11-9zM1698,3511l11-2l-11-8l-11-8zM1589,3593l10-18l-11-1l-11,12zM768,4171l11-10l-11-15l-11,11zM757,4178l11-7l-11-14l-11,3z"/>
<path color="#5c2900" d="M1785,3452l11-16l-11-8l-11,2zM1764,3467l10-21l-11-9l-11,25zM1599,3575l11-16l-11,7l-11,8zM1238,3834l11,0l-11-17l-11,2zM1184,3876l11-3l-11-17l-11-10zM1063,3944l11,3l-11-5l-11,14zM998,4001l11-10l-11-8l-11,15z"/>
<path color="#632d00" d="M1774,3446l11,6l-11-22l-11,7zM1228,3830l10,4l-11-15l-11,15zM1129,3911l11-2l-11-37l-11,40zM899,4074l11-13l-11-7l-11,3zM888,4078l11-4l-11-17l-11,6z"/>
<path color="#6a3100" d="M1720,3501l11-47l-11,14l-11,25zM1534,3614l11-5l-11-9l-11,13zM1392,3713l11-4l-12-7l-11,16zM1195,3873l11-29l-12-12l-10,24zM1031,3966l11,3l-12-6l-11,4zM779,4161l11-39l-11,25l-11-1z"/>
<path color="#713500" d="M1610,3559l11-14l-11-1l-11,22zM1545,3609l11-13l-11-3l-11,7zM1413,3696l11-4l-11-5l-11,6zM1403,3709l10-13l-11-3l-11,9zM1337,3759l11-13l-11-12l-11,14zM1042,3969l10-15l-11-18l-11,27z"/>
<path color="#783a00" d="M1556,3596l11-28l-12,25l-10,0zM1468,3663l11-12l-11-2l-11-6zM1424,3692l11-12l-11-13l-11,20z"/>
<path color="#7f3f01" d="M1676,3508l11-28l-11,19l-11,16zM1479,3651l11-7l-11-27l-11,32zM1435,3680l11,2l-11-30l-11,15zM1140,3909l11-29l-11-13l-11,5zM910,4061l11-21l-11-27l-11,41z"/>
<path color="#864502" d="M1796,3436l11-28l-11-25l-11,45zM1096,3918l11-36l-11,30l-11,12zM1074,3947l11-34l-11-19l-11,48zM954,4021l11-7l-11-14l-11-2zM845,4109l11-43l-12,8l-11,19z"/>
<path color="#8d4a03" d="M1621,3545l11-20l-11-1l-11,20zM1490,3644l11-9l-11-23l-11,5zM1326,3757l11,2l-11-11l-11-39zM1271,3814l11-28l-11-64l-11,89zM1173,3863l11,13l-11-30l-11-22zM1009,3991l11-40l-12-11l-10,43zM943,4030l11-9l-11-23l-11,10zM932,4030l11,0l-11-22l-11,12zM834,4106l11,3l-12-16l-11-36z"/>
<path color="#945004" d="M1840,3377l11,11l-11-29l-11,23zM1742,3460l11,13l-12-20l-10-58zM1457,3673l11-10l-11-20l-11-28zM1446,3682l11-9l-11-58l-11,37zM1151,3880l11-23l-11-8l-11,18z"/>
<path color="#9b5605" d="M965,4014l11-14l-11-40l-11,40zM921,4040l11-10l-11-10l-11-7z"/>
<path color="#a25b06" d="M1501,3635l11-20l-11-38l-11,35zM1348,3746l11-29l-11-32l-11,49z"/>
<path color="#a96207" d="M1731,3454l11,6l-11-65l-11,73zM1632,3525l11-24l-11,9l-11,14zM1162,3857l11,6l-11-39l-11,25z"/>
<path color="#b06a0a" d="M1807,3408l11-31l-11,13l-11-7zM1512,3615l11-18l-11,3l-11-23zM1304,3765l11-3l-11-51l-11,31zM976,4000l11-24l-11-4l-11-12zM856,4066l10-22l-11,20l-11,10z"/>
<path color="#b7710e" d="M1315,3762l11-5l-11-48l-11,2zM1293,3770l11-5l-11-23l-11-21z"/>
<path color="#cb8817" d="M1282,3786l11-16l-11-49l-11,1z"/>
<path color="#d1911b" d="M823,4064l11,42l-12-49l-10,11z"/>
<path color="#dda524" d="M1643,3501l11-60l-11,37l-11,32zM1359,3717l11-67l-11,40l-11-5zM812,4081l11-17l-11,4l-11,17z"/>
<path color="#4e2100" d="M1720,3517l11-16l-11,0l-11,8zM1709,3522l11-5l-11-8l-11,2zM1250,3850l11-8l-12-8l-11,0zM768,4187l11-9l-11-7l-11,7z"/>
<path color="#552500" d="M1797,3455l11-6l-12-13l-11,16zM1764,3479l11-17l-11,5l-11,6z"/>
<path color="#5c2900" d="M1753,3491l11-12l-11-6l-11-13z"/>
<path color="#632d00" d="M1468,3685l11-6l-11-16l-11,10zM1348,3766l11,2l-11-22l-11,13zM1261,3842l10-48l-11,31l-11,9zM1239,3843l11,7l-12-16l-10-4zM779,4178l11-39l-11,22l-11,10z"/>
<path color="#6a3100" d="M1808,3449l10-18l-11-23l-11,28zM1775,3462l11-19l-12,3l-10,21zM1501,3652l11,6l-11-23l-11,9zM1479,3679l11-17l-11-11l-11,12zM1457,3678l11,7l-11-12l-11,9zM1447,3709l10-31l-11,4l-11-2zM1337,3770l11-4l-11-7l-11-2zM1282,3816l11-17l-11-13l-11,28zM1151,3908l11-16l-11-12l-11,29zM1075,3952l11,8l-12-13l-11-3zM910,4064l11,0l-11-3l-11,13z"/>
<path color="#713500" d="M1731,3501l11-19l-11-28l-11,47zM1600,3582l11-28l-12,21l-10,18zM1490,3662l11-10l-11-8l-11,7zM1436,3693l11,16l-12-29l-11,12z"/>
<path color="#783a00" d="M1742,3482l11,9l-11-31l-11-6zM1326,3774l11-4l-11-13l-11,5zM1009,4000l11-26l-11,17l-11,10zM921,4064l11-14l-11-10l-11,21zM845,4116l11-18l-11,11l-11-3z"/>
<path color="#7f3f01" d="M1632,3552l11,12l-11-39l-11,20zM1556,3604l11-12l-11,4l-11,13zM1425,3695l11-2l-12-1l-11,4zM1359,3768l11-31l-11-20l-11,29zM1293,3799l11-8l-11-21l-11,16zM1206,3869l11-53l-11,28l-11,29zM1086,3960l10-44l-11-3l-11,34z"/>
<path color="#864502" d="M1643,3564l11-8l-11-55l-11,24zM1512,3658l11-43l-11,0l-11,20zM1315,3778l11-4l-11-12l-11,3zM1304,3791l11-13l-11-13l-11,5zM1162,3892l11-15l-11-20l-11,23zM1053,3963l11-30l-12,21l-10,15zM976,4008l11,10l-11-18l-11,14zM943,4036l11-6l-11,0l-11,0zM790,4139l11,3l-11-20l-11,39z"/>
<path color="#8d4a03" d="M1818,3431l11-8l-11-46l-11,31zM932,4050l11-14l-11-6l-11,10z"/>
<path color="#945004" d="M1851,3371l11,31l-11-14l-11-11zM1173,3877l11-15l-11,1l-11-6zM1107,3924l11-8l-11-34l-11,36z"/>
<path color="#9b5605" d="M987,4018l11-33l-11-9l-11,24zM954,4030l11-49l-11,40l-11,9zM856,4098l11-28l-11-4l-11,43z"/>
<path color="#a25b06" d="M1392,3720l11-34l-11,27l-11-11zM1020,3974l11-15l-11-8l-11,40z"/>
<path color="#a96207" d="M1829,3423l11-36l-11-5l-11-5zM1687,3485l11,14l-11-19l-11,28zM1567,3592l11-33l-11,9l-11,28z"/>
<path color="#b06a0a" d="M1523,3615l11-17l-11-1l-11,18zM1118,3916l11-30l-11,6l-11-10z"/>
<path color="#b7710e" d="M1840,3387l11-16l-11,6l-11,5z"/>
<path color="#c48014" d="M1654,3556l11-52l-11-63l-11,60zM1381,3705l11,15l-11-18l-11-52zM1370,3737l11-32l-11-55l-11,67zM801,4142l11-37l-11-43l-11,60z"/>
<path color="#d79b20" d="M867,4070l11-35l-12,9l-10,22z"/>
<path color="#e4af2a" d="M1665,3504l11-33l-11,23l-11-53z"/>
<path color="#efc335" d="M812,4105l11-24l-11,0l-11-19z"/>
<path color="#f3cd40" d="M823,4081l11-20l-11,3l-11,17z"/>
<path color="#4e2100" d="M1261,3857l11-10l-11-5l-11,8z"/>
<path color="#552500" d="M1764,3495l11-17l-11,1l-11,12zM1250,3866l11-9l-11-7l-11-7z"/>
<path color="#5c2900" d="M1819,3448l11-2l-12-15l-10,18zM1753,3501l11-6l-11-4l-11-9zM1731,3519l11-22l-11,4l-11,16z"/>
<path color="#632d00" d="M1742,3497l11,4l-11-19l-11,19zM1490,3694l11-30l-11-2l-11,17zM1359,3782l11-31l-11,17l-11-2zM1348,3776l11,6l-11-16l-11,4zM779,4190l11-29l-11,17l-11,9z"/>
<path color="#6a3100" d="M1830,3446l11-18l-12-5l-11,8zM1797,3468l11-19l-11,6l-11-12zM1775,3478l11-13l-11-3l-11,17zM1655,3557l11-11l-12,10l-11,8zM1523,3667l11-9l-11-43l-11,43z"/>
<path color="#713500" d="M1786,3465l11,3l-11-25l-11,19zM1337,3786l11-10l-11-6l-11,4zM1272,3847l11-27l-12-26l-10,48zM1119,3944l10-1l-11-27l-11,8z"/>
<path color="#783a00" d="M1370,3751l11-2l-11-12l-11,31zM1305,3803l10-4l-11-8l-11,8zM1151,3916l11-11l-11,3l-11-13zM998,4033l11-14l-11-34l-11,33zM922,4074l11-1l-12-9l-11,0z"/>
<path color="#7f3f01" d="M1841,3428l11-5l-12-36l-11,36zM1217,3885l11-22l-11-47l-11,53zM856,4121l11-5l-11-18l-11,18z"/>
<path color="#864502" d="M1862,3409l11-7l-11,0l-11-31zM1501,3664l11-27l-11,15l-11,10zM1458,3713l11-76l-12,41l-10,31zM1315,3799l11-26l-11,5l-11,13zM1162,3905l11-41l-11,28l-11,16zM1064,3984l11-13l-11-38l-11,30zM954,4042l11,12l-11-24l-11,6zM801,4151l11,18l-11-27l-11-3zM790,4161l11-10l-11-12l-11,39z"/>
<path color="#8d4a03" d="M1666,3546l10-22l-11-20l-11,52zM1567,3612l11-1l-11-19l-11,12zM1556,3621l11-9l-11-8l-11,5zM1436,3701l11-3l-11-5l-11,2zM1239,3853l11,13l-11-23l-11-51zM1195,3874l11-11l-11,9l-11-10zM1129,3943l11-36l-11-21l-11,30zM1108,3936l11,8l-12-20l-11-8zM1097,3935l11,1l-12-20l-10,44zM1075,3971l11-13l-11-6l-11-19zM1009,4019l11-30l-11,11l-11-15zM867,4116l11-3l-11-43l-11,28zM812,4169l11-32l-11-32l-11,37z"/>
<path color="#945004" d="M1633,3573l11-10l-12-11l-10-19zM1600,3599l11-37l-11,20l-11-15zM1578,3611l11-1l-11-51l-11,33zM1534,3658l11-35l-11-25l-11,17zM1283,3820l11-40l-12,36l-11-22z"/>
<path color="#9b5605" d="M1852,3423l10-14l-11-38l-11,16zM1698,3536l11-30l-11-7l-11-14zM1589,3610l11-11l-11-32l-11-8zM1545,3623l11-2l-11-12l-11-11zM1140,3907l11,9l-11-21l-11-9zM933,4073l11-68l-12,45l-11,14z"/>
<path color="#a25b06" d="M1381,3749l11-28l-11-16l-11,32zM1020,3989l11-19l-11,4l-11,26zM878,4113l11,5l-11-83l-11,35z"/>
<path color="#a96207" d="M1687,3540l11-4l-11-51l-11-14zM1425,3699l11,2l-11-6l-11-16zM965,4054l11-42l-11-31l-11,49z"/>
<path color="#b06a0a" d="M1228,3863l11-10l-11-61l-11,24z"/>
<path color="#b7710e" d="M1676,3524l11,16l-11-69l-11,33zM1611,3562l11-33l-11,25l-11,28zM823,4137l11-3l-11-53l-11,24z"/>
<path color="#c48014" d="M976,4012l11-5l-11,1l-11-27zM889,4118l11-49l-11-32l-11-2z"/>
<path color="#cb8817" d="M1403,3716l11-58l-11,28l-11,34z"/>
<path color="#d1911b" d="M1031,3970l11-43l-11,32l-11,15z"/>
<path color="#d79b20" d="M834,4134l11-35l-11-38l-11,20z"/>
<path color="#dda524" d="M900,4069l11-43l-11,21l-11-10z"/>
<path color="#4e2100" d="M1534,3675l11-3l-11-14l-11,9z"/>
<path color="#5c2900" d="M1731,3531l11-8l-11-4l-11-5zM1699,3561l11-15l-12-10l-11,4zM1130,3953l11-3l-12-7l-10,1zM1009,4048l11-14l-11-15l-11,14zM889,4129l11-11l-11,0l-11-5z"/>
<path color="#632d00" d="M1742,3523l11-17l-11-9l-11,22zM1458,3717l11,3l-11-7l-11-15zM1359,3792l11-16l-11,6l-11-6zM1250,3878l11-27l-11,15l-11-13zM1239,3887l11-9l-11-25l-11,10zM1228,3867l11,20l-11-24l-11,22zM878,4130l11-1l-11-16l-11,3zM823,4174l11-7l-11-30l-11,32z"/>
<path color="#6a3100" d="M1852,3441l11-10l-11-8l-11,5zM1841,3439l11,2l-11-13l-11,18zM1710,3546l10-10l-11-30l-11,30zM1600,3619l11-13l-11-7l-11,11zM1545,3672l11-27l-11-22l-11,35zM1348,3801l11-9l-11-16l-11,10zM1316,3827l11-10l-12-18l-10,4zM966,4072l11,3l-12-21l-11-12z"/>
<path color="#713500" d="M1863,3431l11-16l-12-6l-10,14zM1775,3482l11-6l-11,2l-11,17zM1720,3536l11-5l-11-17l-11-8zM1589,3622l11-3l-11-9l-11,1zM1338,3810l10-9l-11-15l-11-13zM1327,3817l11-7l-12-37l-11,26zM1141,3950l11-20l-12-23l-11,36zM1119,3954l11-1l-11-9l-11-8zM1075,3988l11-16l-11-1l-11,13zM834,4167l11-10l-11-23l-11,3zM791,4196l10-22l-11-13l-11,29z"/>
<path color="#783a00" d="M1753,3506l11-31l-11,26l-11-4zM1578,3630l11-8l-11-11l-11,1z"/>
<path color="#7f3f01" d="M1874,3415l11-13l-12,0l-11,7zM1786,3476l11-15l-11,4l-11,13zM1644,3580l11-19l-11,2l-11,10zM1567,3631l11-1l-11-18l-11,9zM1206,3900l11-15l-11-22l-11,11zM1086,3972l11-6l-11-8l-11,13zM977,4075l10-41l-11-22l-11,42z"/>
<path color="#864502" d="M1655,3561l11-3l-11-1l-11,6zM1611,3606l11-12l-11-32l-11,37zM1556,3645l11-14l-11-10l-11,2zM1502,3684l11-43l-12,23l-11,30zM1447,3718l11-1l-11-19l-11,3zM1370,3776l11-36l-11,11l-11,31zM1152,3930l11-17l-12,3l-11-9zM1097,3966l11-7l-11-24l-11,23zM1020,4034l11-36l-11-9l-11,30zM933,4084l11-29l-11,18l-11,1zM900,4118l11-47l-11-2l-11,49z"/>
<path color="#8d4a03" d="M1436,3733l11-15l-11-17l-11-2zM1403,3753l11-5l-11-32l-11,5zM1392,3755l11-2l-11-32l-11,28zM1305,3806l11,21l-11-24l-11-23zM1195,3899l11,1l-11-26l-11-16zM1108,3959l11-5l-11-18l-11-1z"/>
<path color="#945004" d="M1808,3460l11-56l-11,45l-11,19zM1666,3558l11-29l-11,17l-11,11zM845,4157l11-39l-11-19l-11,35z"/>
<path color="#9b5605" d="M1633,3592l11-12l-11-7l-11-44zM1513,3641l11,27l-12-31l-11,27zM1469,3720l11-56l-11-27l-11,76zM1294,3819l11-13l-11-26l-11,40zM1163,3913l10-47l-11,39l-11,11z"/>
<path color="#a25b06" d="M1677,3529l11,12l-12-17l-10,22zM801,4174l11-40l-11,17l-11,10z"/>
<path color="#a96207" d="M1622,3594l11-2l-11-63l-11,33zM1425,3740l11-7l-11-34l-11-41zM1414,3748l11-8l-11-82l-11,58zM987,4034l11-3l-11-24l-11,5z"/>
<path color="#b7710e" d="M1184,3876l11,23l-11-41l-11,6z"/>
<path color="#bd7910" d="M944,4055l11-19l-11-31l-11,68z"/>
<path color="#c48014" d="M1173,3866l11,10l-11-12l-11,41zM1031,3998l11-42l-11,14l-11,19z"/>
<path color="#d79b20" d="M911,4071l11-19l-11-26l-11,43z"/>
<path color="#eab92f" d="M1042,3956l11,8l-11-37l-11,43z"/>
<path color="#4e2100" d="M1546,3684l11-9l-12-3l-11,3z"/>
<path color="#552500" d="M1732,3548l11-6l-12-11l-11,5zM1710,3571l11-20l-11-5l-11,15zM1349,3822l11-8l-12-13l-10,9zM1338,3827l11-5l-11-12l-11,7zM1327,3836l11-9l-11-10l-11,10zM1250,3887l11-14l-11,5l-11,9zM1021,4050l10-8l-11-8l-11,14z"/>
<path color="#5c2900" d="M1721,3551l11-3l-12-12l-10,10zM1557,3675l11-19l-12-11l-11,27zM1535,3683l11,1l-12-9l-10-7zM1469,3735l11-16l-11,1l-11-3zM1436,3757l11-2l-11-22l-11,7zM1360,3814l11-17l-12-5l-11,9zM845,4173l11-15l-11-1l-11,10zM835,4175l10-2l-11-6l-11,7z"/>
<path color="#632d00" d="M1743,3542l11-31l-12,12l-11,8zM1611,3631l11-12l-11-13l-11,13zM1600,3643l11-12l-11-12l-11,3zM1589,3654l11-11l-11-21l-11,8zM1458,3741l11-6l-11-18l-11,1zM1447,3755l11-14l-11-23l-11,15zM1425,3760l11-3l-11-17l-11,8zM1414,3772l11-12l-11-12l-11,5z"/>
<path color="#6a3100" d="M1578,3649l11,5l-11-24l-11,1zM1403,3776l11-4l-11-19l-11,2zM1316,3838l11-2l-11-9l-11-21zM1261,3873l11-9l-11-13l-11,27zM1217,3912l11-27l-11,0l-11,15zM1130,3964l11-5l-11-6l-11,1z"/>
<path color="#713500" d="M1568,3656l10-7l-11-18l-11,14zM1031,4042l11-18l-11-26l-11,36zM988,4072l11-22l-12-16l-10,41zM802,4195l11-11l-12-10l-10,22z"/>
<path color="#783a00" d="M1622,3619l11-20l-11-5l-11,12zM1305,3850l11-12l-11-32l-11,13zM1163,3938l11-3l-11-22l-11,17zM1141,3959l11-43l-11,34l-11,3z"/>
<path color="#7f3f01" d="M1797,3491l11-14l-11-16l-11,15zM1786,3487l11,4l-11-15l-11,6zM1754,3511l10-13l-11,8l-11,17zM1633,3599l11-8l-11,1l-11,2zM1097,3990l11-25l-11,1l-11,6zM966,4085l11-12l-11-1l-11-36z"/>
<path color="#864502" d="M1808,3477l11-10l-11-7l-11,1zM1524,3683l11,0l-11-15l-11-27zM1513,3702l11-19l-11-42l-11,43zM1371,3797l11-58l-12,37l-11,16zM1294,3832l11,18l-11-31l-11,1zM1228,3885l11-8l-11-10l-11,18zM856,4158l11-32l-11-8l-11,39z"/>
<path color="#8d4a03" d="M1874,3439l11-49l-11,25l-11,16zM1666,3565l11,8l-11-15l-11,3zM1392,3768l11,8l-11-21l-11-15zM1108,3965l11-12l-11,6l-11,7zM944,4071l11,22l-11-38l-11,29z"/>
<path color="#945004" d="M1677,3573l11-17l-11-27l-11,29zM1272,3864l11-19l-11-34l-11,40zM1174,3935l11,1l-12-70l-10,47zM999,4050l11-26l-12,7l-11,3zM955,4093l11-8l-11-49l-11,19zM911,4094l11,11l-11-34l-11,47z"/>
<path color="#9b5605" d="M1885,3390l11,22l-11-10l-11,13zM1688,3556l11,1l-11-16l-11-12zM1644,3591l11-52l-11,41l-11,12zM813,4184l11-16l-12-34l-11,40z"/>
<path color="#a25b06" d="M1283,3845l11-13l-11-12l-11-9zM1042,4024l11-5l-11-63l-11,42z"/>
<path color="#a96207" d="M1764,3498l11-36l-11,13l-11,31zM1480,3719l11-91l-11,36l-11,56zM1064,4013l11-49l-11,19l-11-19zM1053,4019l11-6l-11-49l-11-8zM933,4088l11-17l-11,13l-11-32z"/>
<path color="#b06a0a" d="M1819,3467l11-26l-11-37l-11,56zM922,4105l11-17l-11-36l-11,19z"/>
<path color="#bd7910" d="M1185,3936l11-66l-12,6l-11-10zM867,4126l11-16l-11-11l-11,19z"/>
<path color="#e4af2a" d="M1830,3441l11-35l-11,3l-11-5z"/>
<path color="#4e2100" d="M1601,3664l10-7l-11-14l-11,11zM1557,3692l11-4l-11-13l-11,9zM1458,3758l11-3l-11-14l-11,14z"/>
<path color="#552500" d="M1611,3657l11-19l-11-7l-11,12zM1590,3666l11-2l-12-10l-11-5zM1568,3688l11-15l-11-17l-11,19zM1469,3755l11-16l-11-4l-11,6zM1447,3760l11-2l-11-3l-11,2zM1349,3834l11,1l-11-13l-11,5z"/>
<path color="#5c2900" d="M1721,3579l11-22l-11-6l-11,20zM1710,3575l11,4l-11-8l-11-14zM1579,3673l11-7l-12-17l-10,7zM1546,3688l11,4l-11-8l-11-1zM1524,3714l11-16l-11-15l-11,19zM1360,3835l11-37l-11,16l-11,8z"/>
<path color="#632d00" d="M1622,3638l11-14l-11-5l-11,12zM1404,3804l11-20l-12-8l-11-8zM999,4080l11,3l-11-33l-11,22z"/>
<path color="#6a3100" d="M1732,3557l11-19l-11,10l-11,3zM1535,3698l11-10l-11-5l-11,0zM1480,3739l11-27l-11,7l-11,16zM813,4213l11-9l-11-20l-11,11z"/>
<path color="#713500" d="M1633,3624l11-6l-11-19l-11,20zM1513,3720l11-6l-11-12l-11-41zM1272,3876l11-5l-11-7l-11,9zM1064,4025l11-14l-11,2l-11,6zM955,4110l11-8l-11-9l-11-22zM835,4201l11-23l-11-3l-11-7zM824,4204l11-3l-11-33l-11,16z"/>
<path color="#783a00" d="M1808,3497l11-8l-11-12l-11,14zM1797,3508l11-11l-11-6l-11-4zM1644,3618l11-5l-11-22l-11,8zM1283,3871l11-7l-11-19l-11,19zM966,4102l11-48l-11,31l-11,8zM933,4122l11-10l-11-24l-11,17z"/>
<path color="#7f3f01" d="M1819,3489l11-9l-11-13l-11,10zM1677,3598l11-16l-11-9l-11-8zM1415,3784l11-58l-12,46l-11,4zM1305,3856l11-31l-11,25l-11-18zM1294,3864l11-8l-11-24l-11,13zM1108,3995l11-20l-11-10l-11,25z"/>
<path color="#864502" d="M1754,3536l11-38l-11,13l-11,31zM1218,3918l11-29l-12,23l-11-26zM944,4112l11-2l-11-39l-11,17zM868,4161l11-10l-12-25l-11,32zM846,4178l11-42l-12,37l-10,2z"/>
<path color="#8d4a03" d="M1830,3480l11-5l-11-34l-11,26zM1688,3582l11-31l-11,5l-11,17zM1393,3797l11,7l-12-36l-10-29zM1382,3796l11,1l-11-58l-11,58zM1240,3881l10,5l-11-9l-11,8zM1229,3889l11-8l-12,4l-11,27zM1196,3925l11,1l-11-56l-11,66z"/>
<path color="#945004" d="M1885,3450l11-34l-11-26l-11,49zM1010,4083l11-58l-11-1l-11,26z"/>
<path color="#9b5605" d="M1787,3506l10,2l-11-21l-11-25zM1207,3926l11-8l-12-32l-10-16zM1119,3975l11-13l-11-9l-11,12zM879,4151l10-8l-11-33l-11,16z"/>
<path color="#a25b06" d="M1075,4011l11-33l-11-14l-11,49z"/>
<path color="#a96207" d="M1841,3475l11-17l-11-52l-11,35zM1655,3613l11-43l-11-31l-11,52zM1491,3712l11-7l-11-77l-11,91z"/>
<path color="#b06a0a" d="M1666,3570l11,28l-11-33l-11-26z"/>
<path color="#b7710e" d="M1502,3705l11,15l-11-59l-11-33z"/>
<path color="#bd7910" d="M1776,3468l11,38l-12-44l-11,36zM1765,3498l11-30l-12,30l-10,13zM1152,3926l11-23l-11,13l-11,43zM1086,3978l11-2l-11-6l-11-6z"/>
<path color="#c48014" d="M1896,3416l11-42l-11,38l-11-22zM889,4143l11-22l-11-66l-11,55z"/>
<path color="#eab92f" d="M900,4121l11-57l-11,28l-11-37z"/>
<path color="#efc335" d="M1852,3458l11-85l-11,2l-11,31z"/>
<path color="#4e2100" d="M1601,3680l11-8l-11-8l-11,2z"/>
<path color="#552500" d="M1721,3588l11-13l-11,4l-11-4zM1623,3652l11,1l-12-15l-11,19zM1612,3672l11-20l-12,5l-10,7zM1568,3703l11-24l-11,9l-11,4zM1557,3701l11,2l-11-11l-11-4zM1524,3728l11-13l-11-1l-11,6zM1470,3773l10-22l-11,4l-11,3zM1459,3779l11-6l-12-15l-11,2zM1415,3812l11-21l-11-7l-11,20zM1404,3817l11-5l-11-8l-11-7zM1010,4086l11,3l-11-6l-11-3zM835,4221l11-10l-11-10l-11,3zM824,4230l11-9l-11-17l-11,9z"/>
<path color="#5c2900" d="M1655,3640l11-8l-11-19l-11,5zM1645,3649l10-9l-11-22l-11,6zM1634,3653l11-4l-12-25l-11,14zM955,4126l11-3l-11-13l-11,2z"/>
<path color="#632d00" d="M1688,3613l11-15l-11-16l-11,16zM1546,3699l11,2l-11-13l-11,10zM1535,3715l11-16l-11-1l-11,16zM1513,3728l11,0l-11-8l-11-15zM1448,3781l11-2l-12-19l-11-13zM966,4123l11-20l-11-1l-11,8zM944,4135l11-9l-11-14l-11,10z"/>
<path color="#6a3100" d="M1896,3464l11-10l-11-38l-11,34zM1732,3575l11-25l-11,7l-11,22zM846,4211l11-38l-11,5l-11,23z"/>
<path color="#713500" d="M1820,3506l11-6l-12-11l-11,8zM1809,3515l11-9l-12-9l-11,11zM1754,3559l11-16l-11-7l-11,2zM1710,3588l11,0l-11-13l-11-24zM1677,3623l11-10l-11-15l-11-28zM1666,3632l11-9l-11-53l-11,43zM1371,3827l11-12l-11-17l-11,37zM1218,3944l11-34l-11,8l-11,8zM1207,3937l11,7l-11-18l-11-1z"/>
<path color="#783a00" d="M1831,3500l10-13l-11-7l-11,9zM1798,3517l11-2l-12-7l-10-2zM1743,3550l11,9l-11-21l-11,19zM1699,3598l11-10l-11-37l-11,31zM999,4092l11-6l-11-6l-11-26zM977,4103l11,5l-11-54l-11,48zM901,4163l11,1l-12-43l-11,22z"/>
<path color="#7f3f01" d="M1579,3679l11-62l-11,56l-11,15zM1294,3873l11-23l-11,14l-11,7zM1284,3876l10-3l-11-2l-11,5zM1021,4089l11-36l-11-28l-11,58zM890,4155l11,8l-12-20l-10,8zM879,4172l11-17l-11-4l-11,10z"/>
<path color="#864502" d="M1841,3487l11-27l-11,15l-11,5zM1480,3751l11-70l-11,58l-11,16zM1382,3815l11-23l-11,4l-11,2zM1316,3855l11-3l-11-27l-11,31zM1273,3889l11-13l-12,0l-11-7z"/>
<path color="#8d4a03" d="M1852,3460l11,8l-11-10l-11,17zM1065,4030l11-13l-12,8l-10-11zM988,4108l11-16l-11-38l-11,0z"/>
<path color="#945004" d="M1262,3874l11,15l-12-20l-11,17zM1076,4017l11-19l-12,13l-11,14z"/>
<path color="#9b5605" d="M1765,3543l11-39l-11-6l-11,38zM1426,3791l11-41l-11-24l-11,58z"/>
<path color="#a25b06" d="M1907,3454l11-29l-11-51l-11,42zM1229,3910l11-34l-11,13l-11,29zM1087,3998l11,7l-12-27l-11,33z"/>
<path color="#a96207" d="M1338,3834l11-8l-11-16l-11-13zM1327,3852l11-18l-11-37l-11,28zM857,4173l11-28l-11-9l-11,42z"/>
<path color="#b06a0a" d="M1163,3972l11-13l-11-56l-11,23zM1130,3988l11-60l-11,34l-11,13z"/>
<path color="#b7710e" d="M1054,4025l11,5l-11-16l-11-24z"/>
<path color="#bd7910" d="M1032,4053l11-31l-11-18l-11,21z"/>
<path color="#c48014" d="M1863,3468l11-40l-11-55l-11,85zM1098,4005l10-50l-11,21l-11,2z"/>
<path color="#cb8817" d="M912,4164l10-98l-11-2l-11,57z"/>
<path color="#d1911b" d="M1776,3504l11-8l-11-28l-11,30zM1043,4022l11,3l-11-35l-11,14z"/>
<path color="#eab92f" d="M1174,3959l11-99l-11,20l-11,23z"/>
<path color="#4e2100" d="M1645,3661l11-7l-11-5l-11,4zM1612,3688l11-8l-11-8l-11,8zM1470,3789l11-9l-11-7l-11,6zM1459,3792l11-3l-11-10l-11,2zM1415,3824l11-4l-11-8l-11,5z"/>
<path color="#552500" d="M1678,3630l11-6l-12-1l-11,9zM1667,3634l11-4l-12,2l-11,8zM1656,3654l11-20l-12,6l-10,9zM1634,3672l11-11l-11-8l-11-1zM1623,3680l11-8l-11-20l-11,20zM1568,3707l11,0l-11-4l-11-2zM1426,3820l11-13l-11-16l-11,21zM956,4153l10-10l-11-17l-11,9zM912,4176l11-10l-11-2l-11-1z"/>
<path color="#5c2900" d="M1689,3624l10-19l-11,8l-11,10zM1579,3707l11-21l-11-7l-11,24zM1218,3955l11-2l-11-9l-11-7zM1032,4096l11-5l-11-38l-11,36zM1021,4092l11,4l-11-7l-11-3zM999,4112l11-12l-11-8l-11,16zM988,4121l11-9l-11-4l-11-5zM846,4219l11-20l-11,12l-11,10zM835,4222l11-3l-11,2l-11,9z"/>
<path color="#632d00" d="M1918,3465l11-4l-11-36l-11,29zM1721,3600l11-16l-11,4l-11,0zM1710,3602l11-2l-11-12l-11,10zM1699,3605l11-3l-11-4l-11,15zM1404,3833l11-9l-11-7l-11-25zM1382,3840l11-5l-11-20l-11,12zM1010,4100l11-8l-11-6l-11,6z"/>
<path color="#6a3100" d="M1831,3521l11-12l-11-9l-11,6zM1765,3567l11-19l-11-5l-11,16zM1535,3724l11-15l-11,6l-11,13zM1481,3780l11-43l-12,14l-10,22zM1448,3795l11-3l-11-11l-11-31zM1393,3835l11-2l-11-41l-11,23zM1229,3953l11-19l-11-24l-11,34z"/>
<path color="#713500" d="M1896,3471l11-16l-11,9l-11-16zM1437,3807l11-12l-11-45l-11,41zM966,4143l11-53l-11,33l-11,3z"/>
<path color="#783a00" d="M1732,3584l11-35l-11,26l-11,13zM1546,3709l11-8l-11-2l-11,16zM1174,3982l11-22l-11-1l-11,13zM945,4161l11-8l-12-18l-11-46zM857,4199l11-3l-11-23l-11,38z"/>
<path color="#7f3f01" d="M1842,3509l11-35l-12,13l-10,13zM1284,3902l11-16l-11-10l-11,13zM1043,4091l11-16l-11-53l-11,31zM890,4182l11-19l-11-8l-11,17zM879,4207l11-25l-11-10l-11-27z"/>
<path color="#864502" d="M1349,3850l11-8l-11-16l-11,8zM1338,3849l11,1l-11-16l-11,18zM1065,4061l11-15l-11-16l-11-5z"/>
<path color="#8d4a03" d="M1885,3480l11-9l-11-23l-11-20zM1295,3886l11-22l-12,9l-10,3zM1273,3903l11-1l-11-13l-11-15zM1076,4046l11-20l-11-9l-11,13zM1054,4075l11-14l-11-36l-11-3zM868,4196l11,11l-11-62l-11,28z"/>
<path color="#945004" d="M1776,3548l11-17l-11-27l-11,39zM1207,3948l11,7l-11-18l-11-37zM923,4166l11-28l-12-72l-10,98z"/>
<path color="#9b5605" d="M1853,3474l11,9l-12-23l-11,27zM1360,3842l11-33l-11,6l-11,11z"/>
<path color="#a25b06" d="M1864,3483l10-41l-11,26l-11-8zM1163,3978l11,4l-11-10l-11-70z"/>
<path color="#a96207" d="M1874,3442l11,38l-11-52l-11,40zM1262,3891l11,12l-11-29l-11,8zM1240,3934l11-45l-11-13l-11,34zM1087,4026l11-21l-11-7l-11,19z"/>
<path color="#b7710e" d="M1787,3531l11-14l-11-21l-11,8zM1590,3686l11-66l-11-3l-11,62zM1492,3737l11-26l-12-30l-11,70zM1185,3960l11-15l-11-85l-11,99z"/>
<path color="#bd7910" d="M1306,3864l11-58l-12,44l-11,23zM934,4138l11,23l-12-72l-11-23z"/>
<path color="#c48014" d="M1251,3889l11,2l-11-9l-11-6zM1109,3997l11-9l-12-33l-10,50z"/>
<path color="#cb8817" d="M1503,3711l10,7l-11-14l-11-23zM1196,3945l11,3l-11-48l-11-40z"/>
<path color="#d1911b" d="M1120,3988l11-10l-12-5l-11-18z"/>
<path color="#e4af2a" d="M1142,3942l10,0l-11-14l-11,60z"/>
<path color="#eab92f" d="M1152,3942l11,36l-11-76l-11,26z"/>
<path color="#4e2100" d="M956,4167l11-7l-11-7l-11,8z"/>
<path color="#552500" d="M1929,3476l11-18l-11,3l-11,4zM1656,3658l11-3l-11-1l-11,7zM1645,3670l11-12l-11,3l-11,11zM1634,3677l11-7l-11,2l-11,8zM1579,3723l11-8l-11-8l-11,0zM1415,3833l11-12l-11,3l-11,9z"/>
<path color="#5c2900" d="M1404,3835l11-2l-11,0l-11,2zM1054,4083l11-1l-11-7l-11,16zM967,4160l11-34l-12,17l-10,10zM945,4173l11-6l-11-6l-11-23z"/>
<path color="#632d00" d="M1897,3498l11-23l-12-4l-11,9zM1732,3602l11-3l-11-15l-11,16zM1689,3629l11,1l-11-6l-11,6zM1667,3655l11-21l-11,0l-11,20zM1568,3727l11-4l-11-16l-11-6zM1448,3804l11-10l-11,1l-11,12zM1393,3842l11-7l-11,0l-11,5zM1010,4113l11-4l-11-9l-11,12zM1000,4123l10-10l-11-1l-11,9zM934,4178l11-5l-11-35l-11,28zM890,4215l11-37l-11,4l-11,25zM846,4228l11-2l-11-7l-11,3z"/>
<path color="#6a3100" d="M1722,3604l10-2l-11-2l-11,2zM1700,3630l11-23l-12-2l-10,19zM1678,3634l11-5l-11,1l-11,4zM1065,4082l11-36l-11,15l-11,14z"/>
<path color="#713500" d="M1776,3565l11-7l-11-10l-11,19zM1557,3729l11-2l-11-26l-11,8zM1547,3730l10-1l-11-20l-11,15zM1459,3794l11-27l-11,25l-11,3zM1295,3907l11,3l-11-24l-11,16zM1196,3993l11-10l-11-38l-11,15zM857,4226l11-21l-11-6l-11,20z"/>
<path color="#783a00" d="M1886,3500l11-2l-12-18l-11-38zM1853,3525l11-13l-11-38l-11,35zM1711,3607l11-3l-12-2l-11,3zM1590,3715l11-63l-11,34l-11,21zM1186,3967l10,26l-11-33l-11,22zM989,4134l11-11l-12-2l-11-31zM868,4205l11,1l-11-10l-11,3z"/>
<path color="#7f3f01" d="M1908,3475l10-24l-11,4l-11,16zM1382,3849l11-7l-11-2l-11-31zM1306,3910l11-10l-11-36l-11,22zM1207,3983l11-24l-11-11l-11-3zM1021,4109l11-45l-11,28l-11,8zM978,4126l11,8l-12-44l-11,53z"/>
<path color="#864502" d="M1864,3512l11-16l-11-13l-11-9zM1787,3558l11-19l-11-8l-11,17zM1743,3599l11-26l-11-24l-11,35zM1492,3745l11,17l-11-25l-11,43zM1218,3959l11-34l-11,30l-11-7zM1175,3988l11-21l-12,15l-11-4z"/>
<path color="#8d4a03" d="M1875,3496l11,4l-12-58l-10,41zM1371,3842l11,7l-11-40l-11,33zM1361,3848l10-6l-11,0l-11,8zM1350,3858l11-10l-12,2l-11-1z"/>
<path color="#945004" d="M1503,3762l11-7l-11-44l-11,26zM1087,4049l11-23l-11,0l-11,20z"/>
<path color="#9b5605" d="M1514,3755l11-21l-12-16l-10-7zM1131,4024l11-5l-11-41l-11,10z"/>
<path color="#a25b06" d="M1339,3867l11-9l-12-9l-11-15zM1164,4001l11-13l-12-10l-11-36zM1120,4024l11,0l-11-36l-11,9zM901,4178l11-57l-11,42l-11,19z"/>
<path color="#a96207" d="M1525,3734l11-32l-12,17l-11-1zM1109,4027l11-3l-11-27l-11,8zM1098,4026l11,1l-11-22l-11,21z"/>
<path color="#b06a0a" d="M1798,3539l11-37l-11,15l-11,14zM1317,3900l11-24l-11-70l-11,58z"/>
<path color="#b7710e" d="M1142,4019l11-22l-11-55l-11,36z"/>
<path color="#c48014" d="M1754,3573l11-42l-11-9l-11,27zM1328,3876l11-9l-12-33l-10-28zM1251,3913l11-68l-11,44l-11,45zM1153,3997l11,4l-12-59l-10,0z"/>
<path color="#cb8817" d="M1601,3652l11-8l-11-24l-11,66z"/>
<path color="#4e2100" d="M1897,3514l11-4l-11-12l-11,2zM1208,4002l11-6l-12-13l-11,10z"/>
<path color="#552500" d="M1864,3539l11-12l-11-15l-11,13zM1580,3742l10-22l-11,3l-11,4zM1569,3750l11-8l-12-15l-11,2zM945,4187l11-18l-11,4l-11,5z"/>
<path color="#5c2900" d="M1886,3514l11,0l-11-14l-11-4zM1667,3670l11-6l-11-9l-11,3zM1558,3748l11,2l-12-21l-10,1zM1022,4129l11-6l-12-14l-11,4zM956,4169l11-14l-11,12l-11,6z"/>
<path color="#632d00" d="M1875,3527l11-13l-11-18l-11,16zM1744,3612l11-8l-12-5l-11,3zM1645,3686l11-26l-11,10l-11,7zM1634,3691l11-5l-11-9l-11-5zM1317,3910l11,0l-11-10l-11,10zM978,4159l11-7l-11-26l-11,34zM858,4244l10-8l-11-10l-11,2z"/>
<path color="#6a3100" d="M1930,3480l11,0l-12-4l-11-25zM1908,3510l11-38l-11,3l-11,23zM1733,3624l11-12l-12-10l-10,2zM1700,3643l11-13l-11,0l-11-1zM1678,3664l11-20l-11-10l-11,21zM1656,3660l11,10l-11-12l-11,12zM1426,3835l11-12l-11-2l-11,12zM1415,3837l11-2l-11-2l-11,2zM1328,3910l11-10l-11-24l-11,24zM1153,4034l11-4l-11-33l-11,22zM1142,4039l11-5l-11-15l-11,5zM1011,4122l11,7l-12-16l-10,10zM989,4152l11-21l-11,3l-11-8z"/>
<path color="#713500" d="M1941,3480l11-46l-12,24l-11,18zM1755,3604l11-12l-12-19l-11,26zM1722,3626l11-2l-11-20l-11,3zM1711,3630l11-4l-11-19l-11,23zM1689,3644l11-1l-11-14l-11,5zM1306,3915l11-5l-11,0l-11-3zM1164,4030l11-21l-11-8l-11-4zM1131,4043l11-4l-11-15l-11,0zM1000,4131l11-9l-11,1l-11,11zM934,4189l11-2l-11-9l-11-43zM868,4236l11-25l-11-6l-11,21z"/>
<path color="#783a00" d="M1590,3720l11-54l-11,49l-11,8zM1514,3772l11-22l-11,5l-11,7zM1405,3839l10-2l-11-2l-11,7zM1394,3851l11-12l-12,3l-11,7zM1350,3891l11-6l-11-27l-11,9zM1339,3900l11-9l-11-24l-11,9zM1219,3996l10-50l-11,13l-11,24z"/>
<path color="#7f3f01" d="M1919,3472l11,8l-12-29l-10,24zM1459,3799l11-18l-11,13l-11,10zM1383,3860l11-9l-12-2l-11-7zM1361,3885l11-18l-11-19l-11,10zM1175,4009l11-12l-11-9l-11,13zM1120,4050l11-7l-11-19l-11,3z"/>
<path color="#864502" d="M1547,3748l11,0l-11-18l-11-28zM1525,3750l11-2l-11-14l-11,21zM1503,3768l11,4l-11-10l-11-17zM1437,3823l11-14l-11-30l-11,42zM1372,3867l11-7l-12-18l-10,6zM1186,3997l11-5l-11-25l-11,21zM901,4209l11-47l-11,16l-11,37zM879,4211l11-19l-11,14l-11-1z"/>
<path color="#8d4a03" d="M1448,3809l11-10l-11,5l-11-25zM1033,4123l11-47l-12-12l-11,45z"/>
<path color="#945004" d="M1798,3548l11,2l-11-11l-11,19zM1766,3592l10-10l-11-51l-11,42zM1623,3681l11,10l-11-19l-11-28zM1536,3748l11,0l-11-46l-11,32zM1295,3919l11-4l-11-8l-11-31zM1109,4043l11,7l-11-23l-11-1z"/>
<path color="#9b5605" d="M1470,3781l11-16l-11,2l-11,27z"/>
<path color="#a25b06" d="M1842,3541l11-20l-11-33l-11,12zM1809,3550l11-5l-11-43l-11,37zM1776,3582l11-33l-11,16l-11-34zM1492,3747l11,21l-11-23l-11,34zM1240,3950l11-8l-11-14l-11-3zM1229,3946l11,4l-11-25l-11,34z"/>
<path color="#a96207" d="M1831,3544l11-3l-11-41l-11-20zM1251,3942l11-12l-11-17l-11,15zM1076,4067l11-76l-11,55l-11,36z"/>
<path color="#b7710e" d="M1820,3545l11-1l-11-64l-11,22z"/>
<path color="#bd7910" d="M1601,3666l11-11l-11-3l-11,63z"/>
<path color="#cb8817" d="M1612,3655l11,26l-11-37l-11,8zM1044,4076l10-65l-11,62l-11-9z"/>
<path color="#d1911b" d="M1262,3930l11-25l-11-60l-11,68z"/>
<path color="#d79b20" d="M1284,3888l11,31l-11-43l-11-18z"/>
<path color="#dda524" d="M912,4162l11-34l-11-7l-11,57z"/>
<path color="#f3cd40" d="M1273,3905l11-17l-11-30l-11-13z"/>
<path color="#4e2100" d="M1875,3548l11-9l-11-12l-11,12zM1219,4007l11-9l-11-2l-11,6z"/>
<path color="#552500" d="M1908,3512l11,6l-11-8l-11,4zM1580,3747l11-7l-11,2l-11,8zM1164,4050l11-5l-11-15l-11,4z"/>
<path color="#5c2900" d="M1700,3665l11-2l-11-20l-11,1zM1591,3740l11-12l-12-8l-10,22zM1208,4013l11-6l-11-5l-11-10z"/>
<path color="#632d00" d="M1919,3518l11-21l-11-25l-11,38zM1864,3543l11,5l-11-9l-11-18zM1689,3660l11,5l-11-21l-11,20zM1678,3677l11-17l-11,4l-11,6zM1339,3908l11-2l-11-6l-11,10zM1131,4064l11-4l-11-17l-11,7zM869,4246l11-9l-12-1l-10,8z"/>
<path color="#6a3100" d="M1711,3663l11-27l-11-6l-11,13zM1667,3684l11-7l-11-7l-11-10zM1427,3856l11-9l-12-12l-11,2zM1350,3906l11-17l-11,2l-11,9zM1175,4045l11-45l-11,9l-11,21zM1142,4060l11-29l-11,8l-11,4z"/>
<path color="#713500" d="M1941,3487l11-37l-11,30l-11,0zM1930,3497l11-10l-11-7l-11-8zM1886,3539l11-53l-11,28l-11,13zM1820,3575l11-6l-11-24l-11,5zM1777,3609l11-25l-12-2l-10,10zM1558,3756l11-26l-11,18l-11,0zM1547,3763l11-7l-11-8l-11,0zM1383,3878l11,2l-11-20l-11,7z"/>
<path color="#783a00" d="M1853,3538l11,5l-11-22l-11,20zM1722,3636l11-16l-11,6l-11,4zM1514,3786l11-16l-11,2l-11-4zM1438,3847l10-35l-11,11l-11,12zM1416,3849l11,7l-12-19l-10,2zM1394,3880l11-25l-11-4l-11,9zM1197,4000l11,13l-11-21l-11,5zM1044,4120l11-5l-11-39l-11,47z"/>
<path color="#7f3f01" d="M1831,3569l11-40l-11,15l-11,1zM1810,3581l10-6l-11-25l-11-2zM1634,3702l11-26l-11,15l-11-10zM1263,3972l10-9l-11-33l-11,12zM1230,3998l11-36l-12-16l-10,50zM1120,4053l11,11l-11-14l-11-7zM1011,4132l11-3l-11-7l-11,9zM901,4227l11-32l-11,14l-11-17zM880,4237l11-29l-12,3l-11,25z"/>
<path color="#864502" d="M1952,3450l11,25l-11-41l-11,46zM1405,3855l11-6l-11-10l-11,12zM1361,3889l11-39l-11,35l-11,6zM1186,4000l11,0l-11-3l-11,12zM945,4200l11-86l-11,73l-11,2zM934,4207l11-7l-11-11l-11-61z"/>
<path color="#8d4a03" d="M1525,3770l11-26l-11,6l-11,22zM1252,3950l11,22l-12-30l-11,8zM891,4208l10,19l-11-35l-11,19z"/>
<path color="#945004" d="M1799,3572l11,9l-12-33l-11,1zM1788,3584l11-12l-12-23l-11,33zM1602,3728l11-27l-12-35l-11,54zM1503,3783l11,3l-11-18l-11-21zM1470,3803l11-3l-11-19l-11,18zM1273,3963l11-16l-11-42l-11,25z"/>
<path color="#9b5605" d="M1448,3812l11-18l-11,15l-11,14z"/>
<path color="#a25b06" d="M1481,3800l11-18l-11-17l-11,16zM1241,3962l11-12l-12,0l-11-4z"/>
<path color="#a96207" d="M1295,3925l11-12l-11,6l-11-31z"/>
<path color="#b06a0a" d="M1492,3782l11,1l-11-36l-11,18zM1284,3947l11-22l-11-37l-11,17zM1109,4052l11,1l-11-10l-11-29zM912,4195l11-36l-11,3l-11,47z"/>
<path color="#c48014" d="M923,4159l11,48l-11-79l-11,34z"/>
<path color="#cb8817" d="M1087,4066l11-17l-11-58l-11,76z"/>
<path color="#d1911b" d="M1055,4115l11-66l-12-38l-10,65z"/>
<path color="#d79b20" d="M1613,3701l11-51l-12,5l-11,11z"/>
<path color="#dda524" d="M1098,4049l11,3l-11-38l-11-23z"/>
<path color="#efc335" d="M1066,4049l11,14l-12-20l-11-32z"/>
<path color="#4e2100" d="M1886,3548l11,1l-11-10l-11,9zM1711,3680l11-10l-11-7l-11,2zM1175,4060l11-8l-11-7l-11,5z"/>
<path color="#552500" d="M1930,3525l11-13l-11-15l-11,21zM1919,3528l11-3l-11-7l-11-6zM945,4223l11-14l-11-9l-11,7z"/>
<path color="#5c2900" d="M1832,3586l11-15l-12-2l-11,6zM1821,3593l11-7l-12-11l-10,6zM1678,3701l11-22l-11-2l-11,7zM1274,3990l11-19l-12-8l-10,9zM1230,4004l11-6l-11,0l-11,9zM1219,4021l11-17l-11,3l-11,6zM1164,4061l11-1l-11-10l-11-19zM1142,4070l11-6l-11-4l-11,4z"/>
<path color="#632d00" d="M1722,3670l11-31l-11-3l-11,27zM1700,3669l11,11l-11-15l-11-5zM1558,3776l11-5l-11-15l-11,7zM1285,3971l11-4l-12-20l-11,16zM1208,4024l11-3l-11-8l-11-13zM1153,4064l11-3l-11-30l-11,29z"/>
<path color="#6a3100" d="M1941,3512l11-38l-11,13l-11,10zM1689,3679l11-10l-11-9l-11,17zM1438,3855l11-12l-11,4l-11,9zM1427,3874l11-19l-11,1l-11-7zM1394,3889l11-15l-11,6l-11-2zM1296,3967l10-6l-11-36l-11,22zM1263,3995l11-5l-11-18l-11-22zM1186,4052l11-23l-11-29l-11,45zM1055,4123l11,3l-11-11l-11,5zM880,4253l11-9l-11-7l-11,9z"/>
<path color="#713500" d="M1897,3549l11-26l-11-37l-11,53zM1810,3589l11,4l-11-12l-11-9zM1591,3746l11-20l-11,14l-11,7zM1503,3823l11-3l-11-37l-11-1zM1492,3835l11-12l-11-41l-11,18zM1482,3840l10-5l-11-35l-11,3zM1350,3910l11,1l-11-5l-11,2zM1131,4067l11,3l-11-6l-11-11z"/>
<path color="#783a00" d="M1908,3523l11,5l-11-16l-11-26zM1777,3616l11-9l-11,2l-11-17zM1580,3756l11-10l-11,1l-11-17zM1569,3771l11-15l-11-26l-11,26zM1514,3820l11-35l-11,1l-11-3zM1416,3859l11,15l-11-25l-11,6zM1405,3874l11-15l-11-4l-11,25zM1361,3911l11-24l-11,2l-11,17zM1241,3998l11-23l-11-13l-11,36zM1044,4126l11-3l-11-3l-11,4zM902,4237l11-9l-12-1l-10-19zM891,4244l11-7l-11-29l-11,29z"/>
<path color="#7f3f01" d="M1963,3478l11,3l-11-6l-11-25zM1733,3639l11-4l-11-15l-11,16zM1646,3711l11-25l-12-10l-11,26zM1197,4029l11-5l-11-24l-11,0zM1000,4176l11-15l-11-29l-11,10z"/>
<path color="#864502" d="M1788,3607l11-42l-11,19l-11,25zM1471,3830l11,10l-12-37l-11-9zM1306,3961l11-31l-11-17l-11,12zM1066,4126l11,3l-11-80l-11,66zM1033,4131l11-5l-11-2l-11,5z"/>
<path color="#8d4a03" d="M1952,3474l11,4l-11-28l-11,37zM1843,3571l11-34l-12-8l-11,40zM1449,3843l11-29l-12-2l-10,35zM1252,3975l11,20l-11-45l-11,12zM1099,4104l11-14l-12-41l-11,17zM1022,4136l11-5l-11-2l-11,3zM1011,4161l11-25l-11-4l-11,0z"/>
<path color="#945004" d="M1744,3635l11-29l-11-1l-11,15zM1613,3730l11-46l-11,17l-11,27zM1525,3785l11-34l-11,19l-11,16zM1121,4065l10,2l-11-14l-11-1zM956,4209l11-34l-11-61l-11,86z"/>
<path color="#9b5605" d="M1110,4090l11-25l-12-13l-11-3zM1088,4085l11,19l-12-38l-10-3zM989,4151l11,25l-11-34l-11-10z"/>
<path color="#a25b06" d="M1460,3814l11,16l-12-36l-11,18zM913,4228l11-70l-12,37l-11,32z"/>
<path color="#b06a0a" d="M1077,4129l11-44l-11-22l-11-14z"/>
<path color="#b7710e" d="M1536,3751l11-11l-11,4l-11,26zM1372,3887l11-40l-11,3l-11,39zM1317,3930l11-41l-11,9l-11,15z"/>
<path color="#bd7910" d="M978,4178l11-27l-11-19l-11-15z"/>
<path color="#c48014" d="M1755,3606l11-29l-11-2l-11,30zM1657,3686l11-34l-12-20l-11,44z"/>
<path color="#cb8817" d="M967,4175l11,3l-11-61l-11-3z"/>
<path color="#d79b20" d="M1624,3684l11-18l-11-16l-11,51z"/>
<path color="#4e2100" d="M1941,3531l11-14l-11-5l-11,13zM1930,3536l11-5l-11-6l-11,3zM1897,3564l11-7l-11-8l-11-1zM1722,3688l11-8l-11-10l-11,10zM1274,4006l11-8l-11-8l-11,5zM1186,4068l11-8l-11-8l-11,8zM1175,4073l11-5l-11-8l-11,1zM957,4229l11-6l-12-14l-11,14z"/>
<path color="#552500" d="M1919,3546l11-10l-11-8l-11-5zM1908,3557l11-11l-11-23l-11,26zM1832,3602l11-7l-11-9l-11,7zM1493,3849l11-21l-12,7l-10,5zM1307,3972l11-2l-12-9l-10,6zM1296,3983l11-11l-11-5l-11,4zM1285,3998l11-15l-11-12l-11,19zM1219,4035l11,0l-11-14l-11,3zM1077,4136l11,2l-11-9l-11-3z"/>
<path color="#5c2900" d="M1843,3595l11-12l-11-12l-11,15zM1712,3679l10,9l-11-8l-11-11zM1504,3828l11-9l-12,4l-11,12zM1263,4013l11-7l-11-11l-11-20zM1230,4035l11-17l-11-14l-11,17zM1197,4060l11-19l-11-12l-11,23zM1164,4064l11,9l-11-12l-11,3zM1011,4187l11-18l-11-8l-11,15z"/>
<path color="#632d00" d="M1690,3706l11-22l-12-5l-11,22zM1569,3783l11-6l-11-6l-11,5zM1482,3837l11,12l-11-9l-11-10zM1438,3876l11-11l-11-10l-11,19zM1241,4018l11-5l-11-15l-11,6zM1208,4041l11-6l-11-11l-11,5zM1110,4111l11-14l-11-7l-11,14zM1088,4138l11-16l-11-37l-11,44z"/>
<path color="#6a3100" d="M1952,3517l11-18l-11-25l-11,38zM1887,3535l10,29l-11-16l-11,1zM1733,3680l11-37l-11-4l-11,31zM1515,3819l11-29l-12,30l-11,3zM1252,4013l11,0l-11-38l-11,23zM1154,4076l10-12l-11,0l-11,6zM1099,4122l11-11l-11-7l-11-19zM1066,4136l11,0l-11-10l-11-3zM902,4255l11-10l-11-8l-11,7zM891,4262l11-7l-11-11l-11,9z"/>
<path color="#713500" d="M1974,3485l11,2l-11-6l-11-3zM1821,3582l11,20l-11-9l-11-4zM1701,3684l11-5l-12-10l-11,10zM1580,3777l11-26l-11,5l-11,15zM1427,3870l11,6l-11-2l-11-15zM1405,3899l11-14l-11-11l-11,15zM1318,3970l11-36l-12-4l-11,31zM1143,4074l11,2l-12-6l-11-3zM913,4245l11-12l-11-5l-11,9z"/>
<path color="#783a00" d="M1788,3614l11,1l-11-8l-11,9zM1591,3751l11,3l-11-8l-11,10zM1449,3865l11-16l-11-6l-11,12zM1372,3918l11-8l-11-23l-11,24zM1361,3916l11,2l-11-7l-11-1zM1055,4137l11-1l-11-13l-11,3zM1000,4168l11,19l-11-11l-11-25zM968,4223l11-46l-12-2l-11,34z"/>
<path color="#7f3f01" d="M1854,3583l11-21l-11-25l-11,34zM1744,3643l11,1l-11-9l-11,4zM1657,3717l11-16l-11-15l-11,25zM1416,3885l11-15l-11-11l-11,15z"/>
<path color="#864502" d="M1963,3499l11-14l-11-7l-11-4zM1755,3644l11-5l-11-33l-11,29zM1613,3732l11,2l-11-4l-11-4zM1602,3754l11-22l-11-6l-11,20zM1526,3790l10-3l-11-2l-11,35zM1471,3847l11-10l-11-7l-11-16zM1121,4097l11-26l-11-6l-11,25zM1022,4169l11-37l-11,4l-11,25zM946,4193l11,36l-12-6l-10-43z"/>
<path color="#8d4a03" d="M1876,3548l11-13l-12,14l-11-14zM1799,3615l11-15l-11-35l-11,42zM1679,3677l11,29l-12-5l-10-49zM1460,3849l11-2l-11-33l-11,29zM1132,4071l11,3l-12-7l-10-2zM1044,4134l11,3l-11-11l-11,5z"/>
<path color="#945004" d="M1777,3628l11-14l-11,2l-11-39zM1350,3927l11-11l-11-6l-11-18z"/>
<path color="#9b5605" d="M1865,3562l11-14l-12-13l-10,2zM1810,3600l11-18l-11,7l-11-24zM1624,3734l11-24l-11-26l-11,46zM1033,4132l11,2l-11-3l-11,5z"/>
<path color="#a25b06" d="M1766,3639l11-11l-11-51l-11,29zM1646,3693l11,24l-11-6l-11-45zM1558,3744l11,39l-11-7l-11-36zM1394,3871l11,28l-11-10l-11-42zM989,4153l11,15l-11-17l-11,27zM979,4177l10-24l-11,25l-11-3z"/>
<path color="#a96207" d="M1668,3701l11-24l-11-25l-11,34zM1536,3787l11-24l-11-12l-11,34z"/>
<path color="#b06a0a" d="M1383,3910l11-39l-11-24l-11,40z"/>
<path color="#bd7910" d="M1329,3934l11-38l-12-7l-11,41zM924,4233l11-55l-11-20l-11,70z"/>
<path color="#c48014" d="M1340,3896l10,31l-11-35l-11-3z"/>
<path color="#cb8817" d="M1635,3710l11-17l-11-27l-11,18z"/>
<path color="#d1911b" d="M1547,3763l11-19l-11-4l-11,11z"/>
<path color="#dda524" d="M935,4178l11,15l-11-13l-11-22z"/>
</g>
<g transform="scale(.1)" fill="currentColor" stroke="currentColor" stroke-width="4" stroke-linejoin="round">
<path color="#9e5705" d="M333,3851L344,3841L344,3878L333,3880z"/>
<path color="#a55d06" d="M344,3841L355,3860L355,3892L344,3878z"/>
<path color="#884602" d="M355,3860L366,3882L366,3892L355,3892z"/>
<path color="#6a3100" d="M366,3882L378,3902L378,3903L366,3892z"/>
<path color="#522400" d="M378,3902L389,3919L389,3925L378,3903z"/>
<path color="#4b1f00" d="M389,3919L400,3925L400,3935L389,3925z"/>
<path color="#532400" d="M400,3925L411,3927L411,3928L400,3935z"/>
<path color="#612c00" d="M411,3927L422,3928L422,3942L411,3928z"/>
<path color="#5c2900" d="M422,3928L433,3947L433,3951L422,3942z"/>
<path color="#542400" d="M433,3947L445,3952L445,3953L433,3951z"/>
<path color="#592800" d="M445,3952L456,3958L456,3959L445,3953z"/>
<path color="#502200" d="M456,3958L467,3978L467,3979L456,3959z"/>
<path color="#451c00" d="M467,3978L478,3984L478,3985L467,3979z"/>
<path color="#522300" d="M478,3984L489,3979L489,3980L478,3985z"/>
<path color="#5a2800" d="M489,3979L500,3992L500,4001L489,3980z"/>
<path color="#532400" d="M500,3992L512,4002L512,4003L500,4001z"/>
<path color="#4b1f00" d="M512,4002L523,4017L523,4018L512,4003z"/>
<path color="#451c00" d="M523,4017L534,4024L534,4025L523,4018z"/>
<path color="#5a2800" d="M534,4024L545,4012L545,4013L534,4025z"/>
<path color="#763800" d="M545,4012L556,4013L556,4023L545,4013z"/>
<path color="#622c00" d="M556,4013L567,4052L567,4053L556,4023z"/>
<path color="#4a1f00" d="M567,4052L579,4049L579,4050L567,4053z"/>
<path color="#854402" d="M579,4049L590,4009L590,4049L579,4050z"/>
<path color="#ba750f" d="M590,4009L601,4017L601,4067L590,4049z"/>
<path color="#ad6609" d="M601,4017L612,4038L612,4083L601,4067z"/>
<path color="#945004" d="M612,4038L623,4054L623,4064L612,4083z"/>
<path color="#793b00" d="M623,4054L634,4077L634,4085L623,4064z"/>
<path color="#6d3300" d="M634,4077L645,4081L645,4085L634,4085z"/>
<path color="#a86007" d="M645,4081L657,4042L657,4087L645,4085z"/>
<path color="#a05905" d="M657,4042L668,4103L668,4104L657,4087z"/>
<path color="#592800" d="M668,4103L679,4120L679,4121L668,4104z"/>
<path color="#562600" d="M679,4120L690,4121L690,4126L679,4121z"/>
<path color="#522300" d="M690,4121L701,4140L701,4141L690,4126z"/>
<path color="#854402" d="M701,4140L712,4091L712,4140L701,4141z"/>
<path color="#bd7810" d="M712,4091L724,4105L724,4132L712,4140z"/>
<path color="#854302" d="M724,4105L735,4158L735,4159L724,4132z"/>
<path color="#562600" d="M735,4158L746,4162L746,4175L735,4159z"/>
<path color="#4f2200" d="M746,4162L757,4180L757,4182L746,4175z"/>
<path color="#451c00" d="M757,4180L768,4189L768,4190L757,4182z"/>
<path color="#481e00" d="M768,4189L779,4192L779,4193L768,4190z"/>
<path color="#4e2100" d="M779,4192L791,4198L791,4199L779,4193z"/>
<path color="#5a2800" d="M791,4198L802,4197L802,4198L791,4199z"/>
<path color="#582700" d="M802,4197L813,4215L813,4216L802,4198z"/>
<path color="#491e00" d="M813,4215L824,4232L824,4233L813,4216z"/>
<path color="#502200" d="M824,4232L835,4224L835,4228L824,4233z"/>
<path color="#5d2a00" d="M835,4224L846,4230L846,4237L835,4228z"/>
<path color="#562600" d="M846,4230L858,4246L858,4247L846,4237z"/>
<path color="#552500" d="M858,4246L869,4248L869,4249L858,4247z"/>
<path color="#5c2900" d="M869,4248L880,4255L880,4256L869,4249z"/>
<path color="#5b2900" d="M880,4255L891,4264L891,4265L880,4256z"/>
<path color="#5a2800" d="M891,4264L902,4257L902,4258L891,4250z"/>
<path color="#5c2900" d="M902,4257L913,4247L913,4248L902,4258z"/>
<path color="#622d00" d="M913,4247L924,4235L924,4236L913,4248z"/>
<path color="#9c5605" d="M924,4235L935,4180L935,4244L924,4236z"/>
<path color="#b7710e" d="M935,4180L946,4195L946,4214L935,4244z"/>
<path color="#713500" d="M946,4195L957,4231L957,4232L946,4214z"/>
<path color="#451c00" d="M957,4231L968,4225L968,4226L957,4232z"/>
<path color="#693100" d="M968,4225L979,4179L979,4200L968,4226z"/>
<path color="#a15a05" d="M979,4179L989,4155L989,4187L979,4200z"/>
<path color="#9a5404" d="M989,4155L1000,4170L1000,4196L989,4187z"/>
<path color="#622d00" d="M1000,4170L1011,4189L1011,4190L1000,4196z"/>
<path color="#4f2200" d="M1011,4189L1022,4171L1022,4172L1011,4190z"/>
<path color="#7b3c01" d="M1022,4171L1033,4134L1033,4170L1022,4172z"/>
<path color="#914d03" d="M1033,4134L1044,4136L1044,4169L1033,4170z"/>
<path color="#793a00" d="M1044,4136L1055,4139L1055,4140L1044,4169z"/>
<path color="#652f00" d="M1055,4139L1066,4138L1066,4139L1055,4140z"/>
<path color="#562600" d="M1066,4138L1077,4138L1077,4145L1066,4139z"/>
<path color="#491e00" d="M1077,4138L1088,4140L1088,4141L1077,4145z"/>
<path color="#471d00" d="M1088,4140L1099,4124L1099,4125L1088,4141z"/>
<path color="#4d2000" d="M1099,4124L1110,4113L1110,4120L1099,4125z"/>
<path color="#582700" d="M1110,4113L1121,4099L1121,4108L1110,4120z"/>
<path color="#733600" d="M1121,4099L1132,4073L1132,4085L1121,4108z"/>
<path color="#7c3c01" d="M1132,4073L1143,4076L1143,4077L1132,4085z"/>
<path color="#652f00" d="M1143,4076L1154,4078L1154,4093L1143,4077z"/>
<path color="#5f2b00" d="M1154,4078L1164,4066L1164,4067L1154,4093z"/>
<path color="#542500" d="M1164,4066L1175,4075L1175,4077L1164,4067z"/>
<path color="#451c00" d="M1175,4075L1186,4070L1186,4071L1175,4077z"/>
<path color="#451c00" d="M1186,4070L1197,4062L1197,4063L1186,4071z"/>
<path color="#4c2000" d="M1197,4062L1208,4043L1208,4044L1197,4063z"/>
<path color="#502200" d="M1208,4043L1219,4037L1219,4038L1208,4044z"/>
<path color="#491e00" d="M1219,4037L1230,4037L1230,4038L1219,4038z"/>
<path color="#4b1f00" d="M1230,4037L1241,4020L1241,4021L1230,4038z"/>
<path color="#4e2100" d="M1241,4020L1252,4015L1252,4016L1241,4021z"/>
<path color="#471d00" d="M1252,4015L1263,4015L1263,4016L1252,4016z"/>
<path color="#451c00" d="M1263,4015L1274,4008L1274,4009L1263,4016z"/>
<path color="#451c00" d="M1274,4008L1285,4000L1285,4001L1274,4009z"/>
<path color="#471d00" d="M1285,4000L1296,3985L1296,3987L1285,4001z"/>
<path color="#4c2000" d="M1296,3985L1307,3974L1307,3975L1296,3987z"/>
<path color="#4a1f00" d="M1307,3974L1318,3972L1318,3973L1307,3975z"/>
<path color="#642e00" d="M1318,3972L1329,3936L1329,3965L1318,3973z"/>
<path color="#a65e06" d="M1329,3936L1340,3898L1340,3961L1329,3965z"/>
<path color="#9b5505" d="M1340,3898L1350,3929L1350,3930L1340,3961z"/>
<path color="#723600" d="M1350,3929L1361,3918L1361,3937L1350,3930z"/>
<path color="#6c3200" d="M1361,3918L1372,3920L1372,3921L1361,3937z"/>
<path color="#622c00" d="M1372,3920L1383,3912L1383,3913L1372,3921z"/>
<path color="#854402" d="M1383,3912L1394,3873L1394,3911L1383,3913z"/>
<path color="#804001" d="M1394,3873L1405,3901L1405,3902L1394,3911z"/>
<path color="#5e2a00" d="M1405,3901L1416,3887L1416,3891L1405,3902z"/>
<path color="#6d3300" d="M1416,3887L1427,3872L1427,3880L1416,3891z"/>
<path color="#662f00" d="M1427,3872L1438,3878L1438,3879L1427,3880z"/>
<path color="#5a2800" d="M1438,3878L1449,3867L1449,3868L1438,3879z"/>
<path color="#683000" d="M1449,3867L1460,3851L1460,3857L1449,3868z"/>
<path color="#6b3200" d="M1460,3851L1471,3849L1471,3850L1460,3857z"/>
<path color="#662f00" d="M1471,3849L1482,3839L1482,3845L1471,3850z"/>
<path color="#562600" d="M1482,3839L1493,3851L1493,3852L1482,3845z"/>
<path color="#502200" d="M1493,3851L1504,3830L1504,3831L1493,3852z"/>
<path color="#5b2900" d="M1504,3830L1515,3821L1515,3831L1504,3831z"/>
<path color="#743700" d="M1515,3821L1526,3792L1526,3821L1515,3831z"/>
<path color="#884602" d="M1526,3792L1536,3789L1536,3791L1526,3821z"/>
<path color="#955104" d="M1536,3789L1547,3765L1547,3798L1536,3791z"/>
<path color="#b36d0c" d="M1547,3765L1558,3746L1558,3790L1547,3798z"/>
<path color="#8b4903" d="M1558,3746L1569,3785L1569,3799L1558,3790z"/>
<path color="#552500" d="M1569,3785L1580,3779L1580,3780L1569,3799z"/>
<path color="#683000" d="M1580,3779L1591,3753L1591,3765L1580,3780z"/>
<path color="#713500" d="M1591,3753L1602,3756L1602,3776L1591,3765z"/>
<path color="#743700" d="M1602,3756L1613,3734L1613,3749L1602,3776z"/>
<path color="#783900" d="M1613,3734L1624,3736L1624,3741L1613,3749z"/>
<path color="#804001" d="M1624,3736L1635,3712L1635,3751L1624,3741z"/>
<path color="#9e5705" d="M1635,3712L1646,3695L1646,3725L1635,3751z"/>
<path color="#834302" d="M1646,3695L1657,3719L1657,3723L1646,3725z"/>
<path color="#693000" d="M1657,3719L1668,3703L1668,3708L1657,3723z"/>
<path color="#844302" d="M1668,3703L1679,3679L1679,3711L1668,3708z"/>
<path color="#6d3300" d="M1679,3679L1690,3708L1690,3709L1679,3711z"/>
<path color="#552500" d="M1690,3708L1701,3686L1701,3687L1690,3709z"/>
<path color="#612c00" d="M1701,3686L1712,3681L1712,3698L1701,3687z"/>
<path color="#512300" d="M1712,3681L1722,3690L1722,3691L1712,3698z"/>
<path color="#451c00" d="M1722,3690L1733,3682L1733,3683L1722,3691z"/>
<path color="#602b00" d="M1733,3682L1744,3645L1744,3646L1733,3683z"/>
<path color="#713500" d="M1744,3645L1755,3646L1755,3660L1744,3646z"/>
<path color="#632d00" d="M1755,3646L1766,3641L1766,3645L1755,3660z"/>
<path color="#642e00" d="M1766,3641L1777,3630L1777,3633L1766,3645z"/>
<path color="#6f3400" d="M1777,3630L1788,3616L1788,3634L1777,3633z"/>
<path color="#6d3300" d="M1788,3616L1799,3617L1799,3625L1788,3634z"/>
<path color="#6a3100" d="M1799,3617L1810,3602L1810,3619L1799,3625z"/>
<path color="#7d3e01" d="M1810,3602L1821,3584L1821,3609L1810,3619z"/>
<path color="#6b3200" d="M1821,3584L1832,3604L1832,3605L1821,3609z"/>
<path color="#4b2000" d="M1832,3604L1843,3597L1843,3598L1832,3605z"/>
<path color="#4f2100" d="M1843,3597L1854,3585L1854,3586L1843,3598z"/>
<path color="#622d00" d="M1854,3585L1865,3564L1865,3566L1854,3586z"/>
<path color="#793a00" d="M1865,3564L1876,3550L1876,3582L1865,3566z"/>
<path color="#864402" d="M1876,3550L1887,3537L1887,3557L1876,3582z"/>
<path color="#683000" d="M1887,3537L1897,3566L1897,3567L1887,3557z"/>
<path color="#451c00" d="M1897,3566L1908,3559L1908,3560L1897,3567z"/>
<path color="#451c00" d="M1908,3559L1919,3548L1919,3549L1908,3560z"/>
<path color="#451c00" d="M1919,3548L1930,3538L1930,3539L1919,3549z"/>
<path color="#451c00" d="M1930,3538L1941,3533L1941,3534L1930,3539z"/>
<path color="#471d00" d="M1941,3533L1952,3519L1952,3522L1941,3534z"/>
<path color="#562600" d="M1952,3519L1963,3501L1963,3507L1952,3522z"/>
<path color="#693000" d="M1963,3501L1974,3487L1974,3490L1963,3507z"/>
<path color="#652e00" d="M1974,3487L1985,3489L1985,3502L1974,3490z"/>
</g>
<path d="M31.8,393.0L87.6,432.2L198.0,354.7v-16.5" fill="none" stroke="#000" stroke-width="1.55" stroke-linejoin="miter"/>
<path d="M198.0,338.8h1.6M198.0,347.1h1.3" stroke="#000" stroke-width="1.1" fill="none"/>
<path d="M86.1,430.2l3,4M86.1,434.2l3,-4" stroke="#000" stroke-width="0.9" fill="none"/>
<text x="54.60" y="421.90" font-size="11.5" text-anchor="middle" fill="#000" transform="rotate(35.1 54.60 421.90)">18 µm</text>
<text x="148.60" y="405.00" font-size="11.5" text-anchor="middle" fill="#000" transform="rotate(-35.1 148.60 405.00)">35 µm</text>
<rect x="196.2" y="377.4" width="7.1" height="48" fill="url(#afmg)"/>
<text x="201.30" y="372.60" font-size="11.5" text-anchor="middle" fill="#000">0.5</text>
<text x="200.30" y="436.40" font-size="11.5" text-anchor="middle" fill="#000">0</text>
<text x="193.20" y="400.60" font-size="14.1" text-anchor="middle" fill="#000" transform="rotate(-90 193.20 400.60)">z / µm</text>
<text x="224.20" y="375.70" font-size="14.1" text-anchor="middle" fill="#000" transform="rotate(-90 224.20 375.70)">z / µm</text>
<text x="6.40" y="315.70" font-size="17" text-anchor="start" fill="#000">h</text>
<text x="51.40" y="324.40" font-size="14.1" text-anchor="middle" fill="#000">25% MA</text>
<text x="51.40" y="340.40" font-size="14.1" text-anchor="middle" fill="#000">40% Br</text>
<g transform="scale(.1)" fill="currentColor" stroke="currentColor" stroke-width="5" stroke-linejoin="round">
<path color="#361500" d="M1425,5090l15-13l-15-12l-16,11z"/>
<path color="#321300" d="M1409,5100l16-10l-16-14l-15,17z"/>
<path color="#2f1200" d="M1393,5113l16-13l-15-7l-16,11z"/>
<path color="#321300" d="M1378,5122l15-9l-15-9l-16,9zM1362,5134l16-12l-16-9l-15,10z"/>
<path color="#2f1200" d="M1346,5148l16-14l-15-11l-16,14zM1331,5159l15-11l-15-11l-16,12z"/>
<path color="#2b1000" d="M1315,5172l16-13l-16-10l-15,13z"/>
<path color="#270f00" d="M1299,5187l16-15l-15-10l-16,15z"/>
<path color="#230d00" d="M1284,5198l15-11l-15-10l-16,8z"/>
<path color="#270f00" d="M1268,5205l16-7l-16-13l-15,13zM1252,5217l16-12l-15-7l-16,7z"/>
<path color="#2b1000" d="M1237,5225l15-8l-15-12l-16,10z"/>
<path color="#2f1200" d="M1221,5235l16-10l-16-10l-15,9z"/>
<path color="#321300" d="M1205,5245l16-10l-15-11l-16,9z"/>
<path color="#361500" d="M1190,5251l15-6l-15-12l-16,7z"/>
<path color="#3e1800" d="M1174,5259l16-8l-16-11l-15,11zM1158,5272l16-13l-15-8l-16,7z"/>
<path color="#421a00" d="M1143,5280l15-8l-15-14l-16,12z"/>
<path color="#3e1800" d="M1127,5294l16-14l-16-10l-15,16z"/>
<path color="#3a1600" d="M1111,5310l16-16l-15-8l-16,11z"/>
<path color="#361500" d="M1096,5322l15-12l-15-13l-16,13z"/>
<path color="#321300" d="M1080,5333l16-11l-16-12l-15,13zM1064,5343l16-10l-15-10l-16,10z"/>
<path color="#361500" d="M1049,5355l15-12l-15-10l-16,9zM1033,5363l16-8l-16-13l-15,13zM1017,5375l16-12l-15-8l-16,13zM1002,5386l15-11l-15-7l-16,8zM986,5398l16-12l-16-10l-15,12z"/>
<path color="#321300" d="M970,5411l16-13l-15-10l-16,14zM955,5424l15-13l-15-9l-16,10zM939,5430l16-6l-16-12l-15,9z"/>
<path color="#3a1600" d="M923,5435l16-5l-15-9l-16,10z"/>
<path color="#421a00" d="M908,5443l15-8l-15-4l-16,6z"/>
<path color="#471d00" d="M892,5442l16,1l-16-6l-16,2z"/>
<path color="#4f2200" d="M876,5437l16,5l-16-3l-15,3z"/>
<path color="#6a3100" d="M861,5425l15,12l-15,5l-16-2z"/>
<path color="#914e03" d="M845,5415l16,10l-16,15l-16-14z"/>
<path color="#c48114" d="M829,5405l16,10l-16,11l-15-10z"/>
<path color="#efc235" d="M814,5410l15-5l-15,11l-16-10z"/>
<path color="#f9db50" d="M798,5429l16-19l-16-4l-16,7z"/>
<path color="#ecbc30" d="M782,5460l16-31l-16-16l-15,18z"/>
<path color="#c07c12" d="M767,5494l15-34l-15-29l-16,30z"/>
<path color="#8d4a03" d="M751,5527l16-33l-16-33l-16,32z"/>
<path color="#652e00" d="M735,5556l16-29l-16-34l-15,35z"/>
<path color="#4f2200" d="M720,5575l15-19l-15-28l-16,26z"/>
<path color="#471d00" d="M704,5593l16-18l-16-21l-16,18z"/>
<path color="#421a00" d="M688,5605l16-12l-16-21l-15,19z"/>
<path color="#3a1600" d="M673,5619l15-14l-15-14l-16,17z"/>
<path color="#361500" d="M657,5631l16-12l-16-11l-16,10zM641,5640l16-9l-16-13l-15,12zM626,5652l15-12l-15-10l-16,11z"/>
<path color="#3a1600" d="M610,5660l16-8l-16-11l-16,7z"/>
<path color="#3e1800" d="M594,5671l16-11l-16-12l-15,12z"/>
<path color="#3a1600" d="M579,5685l15-14l-15-11l-16,12zM563,5697l16-12l-16-13l-16,12zM547,5707l16-10l-16-13l-15,12z"/>
<path color="#361500" d="M532,5720l15-13l-15-11l-16,10zM516,5731l16-11l-16-14l-16,13zM500,5743l16-12l-16-12l-15,12zM485,5753l15-10l-15-12l-16,9zM469,5764l16-11l-16-13l-16,13z"/>
<path color="#321300" d="M453,5778l16-14l-16-11l-15,13zM438,5789l15-11l-15-12l-16,9zM422,5800l16-11l-16-14l-16,11z"/>
<path color="#361500" d="M406,5803l16-3l-16-14l-15,10z"/>
<path color="#3a1600" d="M391,5816l15-13l-15-7l-16,8z"/>
<path color="#3e1800" d="M375,5825l16-9l-16-12l-16,11zM359,5837l16-12l-16-10l-15,11zM344,5848l15-11l-15-11l-16,10z"/>
<path color="#361500" d="M1440,5094l16-7l-16-10l-15,13zM1425,5113l15-19l-15-4l-16,10z"/>
<path color="#321300" d="M1409,5124l16-11l-16-13l-16,13zM1393,5134l16-10l-16-11l-15,9zM1378,5146l15-12l-15-12l-16,12z"/>
<path color="#2f1200" d="M1362,5157l16-11l-16-12l-16,14zM1346,5172l16-15l-16-9l-15,11z"/>
<path color="#2b1000" d="M1331,5181l15-9l-15-13l-16,13zM1315,5195l16-14l-16-9l-16,15z"/>
<path color="#270f00" d="M1299,5203l16-8l-16-8l-15,11z"/>
<path color="#2b1000" d="M1284,5214l15-11l-15-5l-16,7z"/>
<path color="#2f1200" d="M1268,5222l16-8l-16-9l-16,12zM1252,5236l16-14l-16-5l-15,8zM1237,5246l15-10l-15-11l-16,10z"/>
<path color="#321300" d="M1221,5253l16-7l-16-11l-16,10z"/>
<path color="#3a1600" d="M1205,5262l16-9l-16-8l-15,6z"/>
<path color="#3e1800" d="M1190,5274l15-12l-15-11l-16,8zM1174,5284l16-10l-16-15l-16,13zM1158,5295l16-11l-16-12l-15,8zM1143,5306l15-11l-15-15l-16,14z"/>
<path color="#3a1600" d="M1127,5321l16-15l-16-12l-16,16z"/>
<path color="#361500" d="M1111,5332l16-11l-16-11l-15,12z"/>
<path color="#321300" d="M1096,5344l15-12l-15-10l-16,11zM1080,5355l16-11l-16-11l-16,10zM1064,5367l16-12l-16-12l-15,12z"/>
<path color="#361500" d="M1049,5376l15-9l-15-12l-16,8zM1033,5386l16-10l-16-13l-16,12zM1017,5397l16-11l-16-11l-15,11zM1002,5409l15-12l-15-11l-16,12z"/>
<path color="#321300" d="M986,5423l16-14l-16-11l-16,13zM970,5430l16-7l-16-12l-15,13z"/>
<path color="#361500" d="M955,5440l15-10l-15-6l-16,6z"/>
<path color="#3e1800" d="M939,5446l16-6l-16-10l-16,5z"/>
<path color="#471d00" d="M923,5440l16,6l-16-11l-15,8z"/>
<path color="#f9db50" d="M829,5429l16-19l-16-5l-15,5z"/>
<path color="#efc235" d="M813,5457l16-28l-15-19l-16,19z"/>
<path color="#c48114" d="M798,5493l15-36l-15-28l-16,31z"/>
<path color="#8d4a03" d="M782,5526l16-33l-16-33l-15,34z"/>
<path color="#652e00" d="M766,5554l16-28l-15-32l-16,33z"/>
<path color="#4f2200" d="M751,5575l15-21l-15-27l-16,29z"/>
<path color="#471d00" d="M735,5591l16-16l-16-19l-15,19z"/>
<path color="#421a00" d="M719,5603l16-12l-15-16l-16,18z"/>
<path color="#3e1800" d="M704,5616l15-13l-15-10l-16,12z"/>
<path color="#3a1600" d="M688,5628l16-12l-16-11l-15,14zM672,5638l16-10l-15-9l-16,12zM657,5649l15-11l-15-7l-16,9zM641,5660l16-11l-16-9l-15,12zM625,5671l16-11l-15-8l-16,8zM610,5686l15-15l-15-11l-16,11z"/>
<path color="#361500" d="M594,5697l16-11l-16-15l-15,14zM578,5707l16-10l-15-12l-16,12zM563,5720l15-13l-15-10l-16,10z"/>
<path color="#321300" d="M547,5734l16-14l-16-13l-15,13zM531,5745l16-11l-15-14l-16,11zM516,5753l15-8l-15-14l-16,12z"/>
<path color="#361500" d="M500,5761l16-8l-16-10l-15,10zM484,5774l16-13l-15-8l-16,11z"/>
<path color="#321300" d="M469,5787l15-13l-15-10l-16,14zM453,5796l16-9l-16-9l-15,11zM437,5807l16-11l-15-7l-16,11z"/>
<path color="#3a1600" d="M422,5815l15-8l-15-7l-16,3z"/>
<path color="#3e1800" d="M406,5824l16-9l-16-12l-15,13zM390,5834l16-10l-15-8l-16,9z"/>
<path color="#421a00" d="M375,5842l15-8l-15-9l-16,12zM359,5853l16-11l-16-5l-15,11z"/>
<path color="#3e1800" d="M1456,5105l16-10l-16-8l-16,7zM1440,5115l16-10l-16-11l-15,19z"/>
<path color="#361500" d="M1424,5130l16-15l-15-2l-16,11zM1409,5141l15-11l-15-6l-16,10zM1393,5154l16-13l-16-7l-15,12z"/>
<path color="#321300" d="M1377,5168l16-14l-15-8l-16,11z"/>
<path color="#2f1200" d="M1362,5182l15-14l-15-11l-16,15zM1346,5189l16-7l-16-10l-15,9zM1330,5199l16-10l-15-8l-16,14zM1315,5211l15-12l-15-4l-16,8zM1299,5224l16-13l-16-8l-15,11z"/>
<path color="#321300" d="M1283,5234l16-10l-15-10l-16,8zM1268,5243l15-9l-15-12l-16,14zM1252,5256l16-13l-16-7l-15,10z"/>
<path color="#361500" d="M1236,5264l16-8l-15-10l-16,7z"/>
<path color="#3a1600" d="M1221,5274l15-10l-15-11l-16,9zM1205,5285l16-11l-16-12l-15,12zM1189,5295l16-10l-15-11l-16,10zM1174,5306l15-11l-15-11l-16,11zM1158,5318l16-12l-16-11l-15,11zM1142,5329l16-11l-15-12l-16,15z"/>
<path color="#361500" d="M1127,5343l15-14l-15-8l-16,11z"/>
<path color="#321300" d="M1111,5355l16-12l-16-11l-15,12zM1095,5366l16-11l-15-11l-16,11z"/>
<path color="#361500" d="M1080,5373l15-7l-15-11l-16,12zM1064,5384l16-11l-16-6l-15,9z"/>
<path color="#3a1600" d="M1048,5391l16-7l-15-8l-16,10zM1033,5405l15-14l-15-5l-16,11zM1017,5420l16-15l-16-8l-15,12z"/>
<path color="#361500" d="M1001,5428l16-8l-15-11l-16,14zM986,5440l15-12l-15-5l-16,7z"/>
<path color="#3a1600" d="M970,5448l16-8l-16-10l-15,10z"/>
<path color="#421a00" d="M954,5444l16,4l-15-8l-16,6z"/>
<path color="#efc235" d="M876,5411l16-6l-16,5l-16-4z"/>
<path color="#f9db50" d="M860,5430l16-19l-16-5l-15,4z"/>
<path color="#ecbc30" d="M845,5458l15-28l-15-20l-16,19z"/>
<path color="#c48114" d="M829,5489l16-31l-16-29l-16,28z"/>
<path color="#965104" d="M813,5517l16-28l-16-32l-15,36z"/>
<path color="#6e3300" d="M798,5548l15-31l-15-24l-16,33z"/>
<path color="#542400" d="M782,5572l16-24l-16-22l-16,28z"/>
<path color="#471d00" d="M766,5588l16-16l-16-18l-15,21z"/>
<path color="#421a00" d="M751,5606l15-18l-15-13l-16,16z"/>
<path color="#3e1800" d="M735,5616l16-10l-16-15l-16,12zM719,5626l16-10l-16-13l-15,13zM704,5636l15-10l-15-10l-16,12zM688,5651l16-15l-16-8l-16,10zM672,5658l16-7l-16-13l-15,11zM657,5672l15-14l-15-9l-16,11z"/>
<path color="#3a1600" d="M641,5685l16-13l-16-12l-16,11z"/>
<path color="#361500" d="M625,5697l16-12l-16-14l-15,15z"/>
<path color="#321300" d="M610,5712l15-15l-15-11l-16,11zM594,5724l16-12l-16-15l-16,10zM578,5735l16-11l-16-17l-15,13z"/>
<path color="#2f1200" d="M563,5747l15-12l-15-15l-16,14zM547,5752l16-5l-16-13l-16,11z"/>
<path color="#321300" d="M531,5763l16-11l-16-7l-15,8z"/>
<path color="#361500" d="M516,5773l15-10l-15-10l-16,8z"/>
<path color="#3a1600" d="M500,5783l16-10l-16-12l-16,13z"/>
<path color="#361500" d="M484,5798l16-15l-16-9l-15,13zM469,5805l15-7l-15-11l-16,9z"/>
<path color="#3a1600" d="M453,5812l16-7l-16-9l-16,11z"/>
<path color="#3e1800" d="M437,5824l16-12l-16-5l-15,8z"/>
<path color="#421a00" d="M422,5830l15-6l-15-9l-16,9zM406,5840l16-10l-16-6l-16,10z"/>
<path color="#471d00" d="M390,5852l16-12l-16-6l-15,8zM374,5859l16-7l-15-10l-16,11z"/>
<path color="#421a00" d="M1471,5113l16-10l-15-8l-16,10zM1456,5123l15-10l-15-8l-16,10z"/>
<path color="#3e1800" d="M1440,5139l16-16l-16-8l-16,15z"/>
<path color="#3a1600" d="M1424,5151l16-12l-16-9l-15,11zM1409,5165l15-14l-15-10l-16,13z"/>
<path color="#361500" d="M1393,5174l16-9l-16-11l-16,14z"/>
<path color="#321300" d="M1377,5186l16-12l-16-6l-15,14zM1362,5199l15-13l-15-4l-16,7z"/>
<path color="#361500" d="M1346,5210l16-11l-16-10l-16,10zM1330,5220l16-10l-16-11l-15,12z"/>
<path color="#321300" d="M1315,5232l15-12l-15-9l-16,13zM1299,5242l16-10l-16-8l-16,10z"/>
<path color="#361500" d="M1283,5253l16-11l-16-8l-15,9z"/>
<path color="#321300" d="M1268,5267l15-14l-15-10l-16,13z"/>
<path color="#361500" d="M1252,5276l16-9l-16-11l-16,8zM1236,5290l16-14l-16-12l-15,10zM1221,5298l15-8l-15-16l-16,11z"/>
<path color="#3a1600" d="M1205,5308l16-10l-16-13l-16,10zM1189,5318l16-10l-16-13l-15,11zM1174,5331l15-13l-15-12l-16,12z"/>
<path color="#361500" d="M1158,5342l16-11l-16-13l-16,11zM1142,5355l16-13l-16-13l-15,14z"/>
<path color="#321300" d="M1127,5365l15-10l-15-12l-16,12z"/>
<path color="#361500" d="M1111,5373l16-8l-16-10l-16,11z"/>
<path color="#3a1600" d="M1095,5382l16-9l-16-7l-15,7z"/>
<path color="#3e1800" d="M1080,5392l15-10l-15-9l-16,11zM1064,5403l16-11l-16-8l-16,7z"/>
<path color="#421a00" d="M1048,5413l16-10l-16-12l-15,14z"/>
<path color="#3e1800" d="M1033,5425l15-12l-15-8l-16,15zM1017,5438l16-13l-16-5l-16,8zM1001,5444l16-6l-16-10l-15,12z"/>
<path color="#421a00" d="M986,5445l15-1l-15-4l-16,8z"/>
<path color="#efc235" d="M907,5412l16-8l-16,6l-15-5z"/>
<path color="#f4cf43" d="M891,5436l16-24l-15-7l-16,6z"/>
<path color="#e4b02a" d="M876,5460l15-24l-15-25l-16,19z"/>
<path color="#c07c12" d="M860,5492l16-32l-16-30l-15,28z"/>
<path color="#965104" d="M844,5519l16-27l-15-34l-16,31z"/>
<path color="#723600" d="M829,5546l15-27l-15-30l-16,28z"/>
<path color="#582700" d="M813,5570l16-24l-16-29l-15,31z"/>
<path color="#4b1f00" d="M797,5587l16-17l-15-22l-16,24z"/>
<path color="#421a00" d="M782,5604l15-17l-15-15l-16,16z"/>
<path color="#3e1800" d="M766,5616l16-12l-16-16l-15,18z"/>
<path color="#3a1600" d="M750,5627l16-11l-15-10l-16,10z"/>
<path color="#3e1800" d="M735,5636l15-9l-15-11l-16,10zM719,5647l16-11l-16-10l-15,10zM703,5659l16-12l-15-11l-16,15zM688,5670l15-11l-15-8l-16,7zM672,5681l16-11l-16-12l-15,14z"/>
<path color="#3a1600" d="M656,5696l16-15l-15-9l-16,13z"/>
<path color="#361500" d="M641,5709l15-13l-15-11l-16,12z"/>
<path color="#321300" d="M625,5721l16-12l-16-12l-15,15z"/>
<path color="#2f1200" d="M609,5734l16-13l-15-9l-16,12z"/>
<path color="#2b1000" d="M594,5747l15-13l-15-10l-16,11zM578,5756l16-9l-16-12l-15,12z"/>
<path color="#321300" d="M562,5764l16-8l-15-9l-16,5z"/>
<path color="#361500" d="M547,5774l15-10l-15-12l-16,11zM531,5784l16-10l-16-11l-15,10z"/>
<path color="#3a1600" d="M515,5794l16-10l-15-11l-16,10zM500,5804l15-10l-15-11l-16,15zM484,5812l16-8l-16-6l-15,7z"/>
<path color="#3e1800" d="M468,5826l16-14l-15-7l-16,7z"/>
<path color="#421a00" d="M453,5831l15-5l-15-14l-16,12zM437,5839l16-8l-16-7l-15,6z"/>
<path color="#471d00" d="M421,5845l16-6l-15-9l-16,10zM406,5857l15-12l-15-5l-16,12zM390,5868l16-11l-16-5l-16,7z"/>
<path color="#421a00" d="M1487,5125l15-13l-15-9l-16,10zM1471,5137l16-12l-16-12l-15,10zM1455,5146l16-9l-15-14l-16,16z"/>
<path color="#3e1800" d="M1440,5160l15-14l-15-7l-16,12z"/>
<path color="#3a1600" d="M1424,5172l16-12l-16-9l-15,14zM1408,5185l16-13l-15-7l-16,9zM1393,5198l15-13l-15-11l-16,12z"/>
<path color="#361500" d="M1377,5210l16-12l-16-12l-15,13zM1361,5223l16-13l-15-11l-16,11zM1346,5229l15-6l-15-13l-16,10z"/>
<path color="#3a1600" d="M1330,5240l16-11l-16-9l-15,12z"/>
<path color="#361500" d="M1314,5253l16-13l-15-8l-16,10zM1299,5263l15-10l-15-11l-16,11zM1283,5277l16-14l-16-10l-15,14z"/>
<path color="#321300" d="M1267,5288l16-11l-15-10l-16,9zM1252,5299l15-11l-15-12l-16,14zM1236,5309l16-10l-16-9l-15,8z"/>
<path color="#361500" d="M1220,5317l16-8l-15-11l-16,10z"/>
<path color="#3a1600" d="M1205,5327l15-10l-15-9l-16,10zM1189,5337l16-10l-16-9l-15,13zM1173,5352l16-15l-15-6l-16,11z"/>
<path color="#361500" d="M1158,5365l15-13l-15-10l-16,13zM1142,5374l16-9l-16-10l-15,10z"/>
<path color="#3a1600" d="M1126,5383l16-9l-15-9l-16,8zM1111,5395l15-12l-15-10l-16,9z"/>
<path color="#3e1800" d="M1095,5402l16-7l-16-13l-15,10z"/>
<path color="#421a00" d="M1079,5410l16-8l-15-10l-16,11zM1064,5422l15-12l-15-7l-16,10zM1048,5432l16-10l-16-9l-15,12zM1032,5441l16-9l-15-7l-16,13zM1017,5444l15-3l-15-3l-16,6z"/>
<path color="#efc235" d="M938,5413l16-9l-16,6l-15-6z"/>
<path color="#f6d549" d="M923,5431l15-18l-15-9l-16,8z"/>
<path color="#e0a927" d="M907,5463l16-32l-16-19l-16,24z"/>
<path color="#b8730e" d="M891,5496l16-33l-16-27l-15,24z"/>
<path color="#914e03" d="M876,5520l15-24l-15-36l-16,32z"/>
<path color="#6e3300" d="M860,5543l16-23l-16-28l-16,27z"/>
<path color="#582700" d="M844,5566l16-23l-16-24l-15,27z"/>
<path color="#4b1f00" d="M829,5584l15-18l-15-20l-16,24z"/>
<path color="#471d00" d="M813,5597l16-13l-16-14l-16,17z"/>
<path color="#421a00" d="M797,5617l16-20l-16-10l-15,17z"/>
<path color="#3a1600" d="M782,5628l15-11l-15-13l-16,12zM766,5638l16-10l-16-12l-16,11z"/>
<path color="#3e1800" d="M750,5649l16-11l-16-11l-15,9zM735,5657l15-8l-15-13l-16,11z"/>
<path color="#421a00" d="M719,5664l16-7l-16-10l-16,12z"/>
<path color="#3e1800" d="M703,5681l16-17l-16-5l-15,11zM688,5692l15-11l-15-11l-16,11z"/>
<path color="#3a1600" d="M672,5705l16-13l-16-11l-16,15z"/>
<path color="#361500" d="M656,5717l16-12l-16-9l-15,13z"/>
<path color="#321300" d="M641,5732l15-15l-15-8l-16,12zM625,5744l16-12l-16-11l-16,13z"/>
<path color="#2f1200" d="M609,5757l16-13l-16-10l-15,13zM594,5763l15-6l-15-10l-16,9z"/>
<path color="#321300" d="M578,5776l16-13l-16-7l-16,8z"/>
<path color="#361500" d="M562,5783l16-7l-16-12l-15,10z"/>
<path color="#3a1600" d="M547,5794l15-11l-15-9l-16,10zM531,5806l16-12l-16-10l-16,10zM515,5817l16-11l-16-12l-15,10z"/>
<path color="#3e1800" d="M500,5827l15-10l-15-13l-16,8zM484,5831l16-4l-16-15l-16,14z"/>
<path color="#421a00" d="M468,5840l16-9l-16-5l-15,5z"/>
<path color="#471d00" d="M453,5848l15-8l-15-9l-16,8zM437,5857l16-9l-16-9l-16,6zM421,5868l16-11l-16-12l-15,12z"/>
<path color="#4b1f00" d="M406,5876l15-8l-15-11l-16,11z"/>
<path color="#421a00" d="M1502,5136l16-11l-16-13l-15,13zM1487,5150l15-14l-15-11l-16,12zM1471,5159l16-9l-16-13l-16,9zM1455,5171l16-12l-16-13l-15,14z"/>
<path color="#3e1800" d="M1440,5186l15-15l-15-11l-16,12z"/>
<path color="#3a1600" d="M1424,5198l16-12l-16-14l-16,13z"/>
<path color="#361500" d="M1408,5212l16-14l-16-13l-15,13zM1393,5218l15-6l-15-14l-16,12zM1377,5232l16-14l-16-8l-16,13zM1361,5240l16-8l-16-9l-15,6z"/>
<path color="#3a1600" d="M1346,5251l15-11l-15-11l-16,11zM1330,5262l16-11l-16-11l-16,13z"/>
<path color="#361500" d="M1314,5275l16-13l-16-9l-15,10zM1299,5288l15-13l-15-12l-16,14zM1283,5296l16-8l-16-11l-16,11zM1267,5307l16-11l-16-8l-15,11zM1252,5319l15-12l-15-8l-16,10z"/>
<path color="#3a1600" d="M1236,5324l16-5l-16-10l-16,8z"/>
<path color="#3e1800" d="M1220,5338l16-14l-16-7l-15,10zM1205,5348l15-10l-15-11l-16,10z"/>
<path color="#3a1600" d="M1189,5363l16-15l-16-11l-16,15zM1173,5372l16-9l-16-11l-15,13zM1158,5382l15-10l-15-7l-16,9z"/>
<path color="#3e1800" d="M1142,5392l16-10l-16-8l-16,9zM1126,5399l16-7l-16-9l-15,12z"/>
<path color="#421a00" d="M1111,5410l15-11l-15-4l-16,7zM1095,5418l16-8l-16-8l-16,8z"/>
<path color="#471d00" d="M1079,5427l16-9l-16-8l-15,12zM1064,5438l15-11l-15-5l-16,10z"/>
<path color="#4b1f00" d="M1048,5435l16,3l-16-6l-16,9z"/>
<path color="#f6d549" d="M954,5432l15-22l-15-6l-16,9z"/>
<path color="#e4b02a" d="M938,5465l16-33l-16-19l-15,18z"/>
<path color="#b8730e" d="M922,5497l16-32l-15-34l-16,32z"/>
<path color="#884702" d="M907,5525l15-28l-15-34l-16,33z"/>
<path color="#6a3100" d="M891,5548l16-23l-16-29l-15,24z"/>
<path color="#582700" d="M875,5564l16-16l-15-28l-16,23z"/>
<path color="#4f2200" d="M860,5582l15-18l-15-21l-16,23z"/>
<path color="#471d00" d="M844,5597l16-15l-16-16l-15,18zM828,5611l16-14l-15-13l-16,13z"/>
<path color="#3e1800" d="M813,5627l15-16l-15-14l-16,20z"/>
<path color="#3a1600" d="M797,5638l16-11l-16-10l-15,11zM781,5649l16-11l-15-10l-16,10z"/>
<path color="#3e1800" d="M766,5657l15-8l-15-11l-16,11z"/>
<path color="#421a00" d="M750,5666l16-9l-16-8l-15,8zM734,5678l16-12l-15-9l-16,7zM719,5690l15-12l-15-14l-16,17z"/>
<path color="#3e1800" d="M703,5704l16-14l-16-9l-15,11z"/>
<path color="#3a1600" d="M687,5715l16-11l-15-12l-16,13zM672,5728l15-13l-15-10l-16,12z"/>
<path color="#361500" d="M656,5741l16-13l-16-11l-15,15z"/>
<path color="#321300" d="M640,5751l16-10l-15-9l-16,12zM625,5762l15-11l-15-7l-16,13z"/>
<path color="#361500" d="M609,5772l16-10l-16-5l-15,6zM593,5787l16-15l-15-9l-16,13zM578,5795l15-8l-15-11l-16,7z"/>
<path color="#3a1600" d="M562,5805l16-10l-16-12l-15,11zM546,5814l16-9l-15-11l-16,12zM531,5825l15-11l-15-8l-16,11z"/>
<path color="#3e1800" d="M515,5833l16-8l-16-8l-15,10z"/>
<path color="#421a00" d="M499,5842l16-9l-15-6l-16,4z"/>
<path color="#471d00" d="M484,5850l15-8l-15-11l-16,9zM468,5858l16-8l-16-10l-15,8zM452,5868l16-10l-15-10l-16,9zM437,5877l15-9l-15-11l-16,11z"/>
<path color="#4b1f00" d="M421,5889l16-12l-16-9l-15,8z"/>
<path color="#3e1800" d="M1518,5152l16-12l-16-15l-16,11zM1502,5159l16-7l-16-16l-15,14zM1486,5170l16-11l-15-9l-16,9zM1471,5182l15-12l-15-11l-16,12z"/>
<path color="#3a1600" d="M1455,5197l16-15l-16-11l-15,15z"/>
<path color="#361500" d="M1439,5208l16-11l-15-11l-16,12zM1424,5219l15-11l-15-10l-16,14zM1408,5230l16-11l-16-7l-15,6zM1392,5242l16-12l-15-12l-16,14zM1377,5253l15-11l-15-10l-16,8z"/>
<path color="#3a1600" d="M1361,5263l16-10l-16-13l-15,11z"/>
<path color="#361500" d="M1345,5278l16-15l-15-12l-16,11zM1330,5288l15-10l-15-16l-16,13zM1314,5298l16-10l-16-13l-15,13zM1298,5308l16-10l-15-10l-16,8z"/>
<path color="#3a1600" d="M1283,5318l15-10l-15-12l-16,11zM1267,5329l16-11l-16-11l-15,12z"/>
<path color="#3e1800" d="M1251,5337l16-8l-15-10l-16,5z"/>
<path color="#421a00" d="M1236,5347l15-10l-15-13l-16,14zM1220,5353l16-6l-16-9l-15,10z"/>
<path color="#3e1800" d="M1204,5368l16-15l-15-5l-16,15zM1189,5381l15-13l-15-5l-16,9zM1173,5390l16-9l-16-9l-15,10z"/>
<path color="#421a00" d="M1157,5401l16-11l-15-8l-16,10zM1142,5408l15-7l-15-9l-16,7zM1126,5419l16-11l-16-9l-15,11z"/>
<path color="#471d00" d="M1110,5424l16-5l-15-9l-16,8z"/>
<path color="#4b1f00" d="M1095,5427l15-3l-15-6l-16,9z"/>
<path color="#4f2200" d="M1079,5429l16-2l-16,0l-15,11z"/>
<path color="#f1c93c" d="M1001,5411l15-9l-15,7l-16-8z"/>
<path color="#f6d549" d="M985,5433l16-22l-16-10l-16,9z"/>
<path color="#e4b02a" d="M969,5461l16-28l-16-23l-15,22z"/>
<path color="#b8730e" d="M954,5495l15-34l-15-29l-16,33z"/>
<path color="#884702" d="M938,5525l16-30l-16-30l-16,32z"/>
<path color="#652e00" d="M922,5549l16-24l-16-28l-15,28z"/>
<path color="#542400" d="M907,5568l15-19l-15-24l-16,23z"/>
<path color="#4b1f00" d="M891,5583l16-15l-16-20l-16,16z"/>
<path color="#471d00" d="M875,5595l16-12l-16-19l-15,18zM860,5611l15-16l-15-13l-16,15z"/>
<path color="#421a00" d="M844,5623l16-12l-16-14l-16,14z"/>
<path color="#3e1800" d="M828,5638l16-15l-16-12l-15,16z"/>
<path color="#3a1600" d="M813,5649l15-11l-15-11l-16,11zM797,5658l16-9l-16-11l-16,11z"/>
<path color="#3e1800" d="M781,5668l16-10l-16-9l-15,8z"/>
<path color="#421a00" d="M766,5676l15-8l-15-11l-16,9zM750,5688l16-12l-16-10l-16,12zM734,5698l16-10l-16-10l-15,12zM719,5712l15-14l-15-8l-16,14z"/>
<path color="#3e1800" d="M703,5727l16-15l-16-8l-16,11z"/>
<path color="#3a1600" d="M687,5740l16-13l-16-12l-15,13z"/>
<path color="#361500" d="M672,5749l15-9l-15-12l-16,13zM656,5759l16-10l-16-8l-16,10z"/>
<path color="#3a1600" d="M640,5771l16-12l-16-8l-15,11zM625,5783l15-12l-15-9l-16,10z"/>
<path color="#361500" d="M609,5792l16-9l-16-11l-16,15zM593,5806l16-14l-16-5l-15,8z"/>
<path color="#3a1600" d="M578,5815l15-9l-15-11l-16,10z"/>
<path color="#3e1800" d="M562,5824l16-9l-16-10l-16,9zM546,5836l16-12l-16-10l-15,11z"/>
<path color="#421a00" d="M531,5844l15-8l-15-11l-16,8zM515,5854l16-10l-16-11l-16,9z"/>
<path color="#471d00" d="M499,5862l16-8l-16-12l-15,8zM484,5874l15-12l-15-12l-16,8zM468,5881l16-7l-16-16l-16,10zM452,5893l16-12l-16-13l-15,9zM436,5905l16-12l-15-16l-16,12z"/>
<path color="#361500" d="M1533,5166l16-11l-15-15l-16,12z"/>
<path color="#3a1600" d="M1518,5174l15-8l-15-14l-16,7z"/>
<path color="#3e1800" d="M1502,5179l16-5l-16-15l-16,11zM1486,5195l16-16l-16-9l-15,12z"/>
<path color="#3a1600" d="M1471,5207l15-12l-15-13l-16,15z"/>
<path color="#361500" d="M1455,5220l16-13l-16-10l-16,11zM1439,5230l16-10l-16-12l-15,11zM1424,5242l15-12l-15-11l-16,11zM1408,5253l16-11l-16-12l-16,12zM1392,5263l16-10l-16-11l-15,11zM1377,5276l15-13l-15-10l-16,10zM1361,5287l16-11l-16-13l-16,15z"/>
<path color="#321300" d="M1345,5298l16-11l-16-9l-15,10zM1330,5309l15-11l-15-10l-16,10z"/>
<path color="#361500" d="M1314,5319l16-10l-16-11l-16,10zM1298,5328l16-9l-16-11l-15,10z"/>
<path color="#3a1600" d="M1283,5337l15-9l-15-10l-16,11z"/>
<path color="#3e1800" d="M1267,5347l16-10l-16-8l-16,8zM1251,5360l16-13l-16-10l-15,10z"/>
<path color="#421a00" d="M1236,5367l15-7l-15-13l-16,6zM1220,5378l16-11l-16-14l-16,15zM1204,5390l16-12l-16-10l-15,13zM1189,5401l15-11l-15-9l-16,9zM1173,5407l16-6l-16-11l-16,11z"/>
<path color="#471d00" d="M1157,5415l16-8l-16-6l-15,7zM1142,5423l15-8l-15-7l-16,11z"/>
<path color="#4b1f00" d="M1126,5422l16,1l-16-4l-16,5z"/>
<path color="#f4cf43" d="M1032,5412l16-15l-16,10l-16-5z"/>
<path color="#f6d549" d="M1016,5435l16-23l-16-10l-15,9z"/>
<path color="#e0a927" d="M1000,5463l16-28l-15-24l-16,22z"/>
<path color="#b8730e" d="M985,5495l15-32l-15-30l-16,28z"/>
<path color="#884702" d="M969,5525l16-30l-16-34l-15,34z"/>
<path color="#652e00" d="M953,5548l16-23l-15-30l-16,30z"/>
<path color="#542400" d="M938,5568l15-20l-15-23l-16,24z"/>
<path color="#4b1f00" d="M922,5582l16-14l-16-19l-15,19z"/>
<path color="#471d00" d="M906,5599l16-17l-15-14l-16,15zM891,5607l15-8l-15-16l-16,12z"/>
<path color="#421a00" d="M875,5624l16-17l-16-12l-15,16zM859,5636l16-12l-15-13l-16,12z"/>
<path color="#3e1800" d="M844,5648l15-12l-15-13l-16,15zM828,5658l16-10l-16-10l-15,11zM812,5669l16-11l-15-9l-16,9z"/>
<path color="#421a00" d="M797,5675l15-6l-15-11l-16,10zM781,5685l16-10l-16-7l-15,8zM765,5698l16-13l-15-9l-16,12zM750,5708l15-10l-15-10l-16,10zM734,5722l16-14l-16-10l-15,14z"/>
<path color="#3e1800" d="M718,5737l16-15l-15-10l-16,15z"/>
<path color="#3a1600" d="M703,5748l15-11l-15-10l-16,13zM687,5759l16-11l-16-8l-15,9zM671,5769l16-10l-15-10l-16,10z"/>
<path color="#3e1800" d="M656,5779l15-10l-15-10l-16,12z"/>
<path color="#3a1600" d="M640,5792l16-13l-16-8l-15,12zM624,5805l16-13l-15-9l-16,9zM609,5815l15-10l-15-13l-16,14zM593,5824l16-9l-16-9l-15,9z"/>
<path color="#3e1800" d="M577,5836l16-12l-15-9l-16,9zM562,5846l15-10l-15-12l-16,12zM546,5858l16-12l-16-10l-15,8z"/>
<path color="#421a00" d="M530,5865l16-7l-15-14l-16,10zM515,5873l15-8l-15-11l-16,8zM499,5888l16-15l-16-11l-15,12z"/>
<path color="#471d00" d="M483,5896l16-8l-15-14l-16,7zM468,5907l15-11l-15-15l-16,12zM452,5915l16-8l-16-14l-16,12z"/>
<path color="#2f1200" d="M1549,5181l16-13l-16-13l-16,11z"/>
<path color="#321300" d="M1533,5186l16-5l-16-15l-15,8z"/>
<path color="#3a1600" d="M1517,5194l16-8l-15-12l-16,5z"/>
<path color="#3e1800" d="M1502,5207l15-13l-15-15l-16,16z"/>
<path color="#3a1600" d="M1486,5217l16-10l-16-12l-15,12zM1470,5228l16-11l-15-10l-16,13zM1455,5239l15-11l-15-8l-16,10zM1439,5250l16-11l-16-9l-15,12zM1423,5261l16-11l-15-8l-16,11z"/>
<path color="#361500" d="M1408,5276l15-15l-15-8l-16,10zM1392,5286l16-10l-16-13l-15,13zM1376,5298l16-12l-15-10l-16,11z"/>
<path color="#321300" d="M1361,5309l15-11l-15-11l-16,11z"/>
<path color="#361500" d="M1345,5318l16-9l-16-11l-15,11zM1329,5327l16-9l-15-9l-16,10z"/>
<path color="#3a1600" d="M1314,5340l15-13l-15-8l-16,9zM1298,5350l16-10l-16-12l-15,9z"/>
<path color="#3e1800" d="M1282,5360l16-10l-15-13l-16,10zM1267,5369l15-9l-15-13l-16,13z"/>
<path color="#421a00" d="M1251,5378l16-9l-16-9l-15,7zM1235,5388l16-10l-15-11l-16,11zM1220,5397l15-9l-15-10l-16,12zM1204,5410l16-13l-16-7l-15,11zM1188,5418l16-8l-15-9l-16,6z"/>
<path color="#471d00" d="M1173,5423l15-5l-15-11l-16,8z"/>
<path color="#4b1f00" d="M1157,5422l16,1l-16-8l-15,8z"/>
<path color="#f9db50" d="M1063,5411l16-15l-16,5l-15-4z"/>
<path color="#f6d549" d="M1047,5437l16-26l-15-14l-16,15z"/>
<path color="#dca324" d="M1032,5466l15-29l-15-25l-16,23z"/>
<path color="#b46e0c" d="M1016,5496l16-30l-16-31l-16,28z"/>
<path color="#884702" d="M1000,5522l16-26l-16-33l-15,32z"/>
<path color="#652e00" d="M985,5549l15-27l-15-27l-16,30z"/>
<path color="#542400" d="M969,5565l16-16l-16-24l-16,23z"/>
<path color="#4b1f00" d="M953,5581l16-16l-16-17l-15,20z"/>
<path color="#471d00" d="M938,5591l15-10l-15-13l-16,14zM922,5606l16-15l-16-9l-16,17z"/>
<path color="#421a00" d="M906,5620l16-14l-16-7l-15,8zM891,5630l15-10l-15-13l-16,17zM875,5645l16-15l-16-6l-16,12z"/>
<path color="#3e1800" d="M859,5658l16-13l-16-9l-15,12zM844,5670l15-12l-15-10l-16,10zM828,5678l16-8l-16-12l-16,11z"/>
<path color="#421a00" d="M812,5686l16-8l-16-9l-15,6zM797,5695l15-9l-15-11l-16,10zM781,5709l16-14l-16-10l-16,13zM765,5722l16-13l-16-11l-15,10zM750,5732l15-10l-15-14l-16,14z"/>
<path color="#3e1800" d="M734,5748l16-16l-16-10l-16,15z"/>
<path color="#3a1600" d="M718,5762l16-14l-16-11l-15,11zM703,5770l15-8l-15-14l-16,11z"/>
<path color="#3e1800" d="M687,5780l16-10l-16-11l-16,10zM671,5790l16-10l-16-11l-15,10zM656,5800l15-10l-15-11l-16,13zM640,5813l16-13l-16-8l-16,13z"/>
<path color="#3a1600" d="M624,5826l16-13l-16-8l-15,10z"/>
<path color="#3e1800" d="M609,5836l15-10l-15-11l-16,9zM593,5847l16-11l-16-12l-16,12zM577,5857l16-10l-16-11l-15,10zM562,5867l15-10l-15-11l-16,12zM546,5879l16-12l-16-9l-16,7z"/>
<path color="#421a00" d="M530,5888l16-9l-16-14l-15,8zM515,5899l15-11l-15-15l-16,15zM499,5909l16-10l-16-11l-16,8zM483,5921l16-12l-16-13l-15,11zM468,5933l15-12l-15-14l-16,8z"/>
<path color="#2f1200" d="M1564,5188l16-7l-15-13l-16,13z"/>
<path color="#321300" d="M1549,5197l15-9l-15-7l-16,5z"/>
<path color="#3a1600" d="M1533,5204l16-7l-16-11l-16,8zM1517,5215l16-11l-16-10l-15,13z"/>
<path color="#3e1800" d="M1502,5225l15-10l-15-8l-16,10zM1486,5239l16-14l-16-8l-16,11zM1470,5248l16-9l-16-11l-15,11z"/>
<path color="#3a1600" d="M1455,5263l15-15l-15-9l-16,11zM1439,5275l16-12l-16-13l-16,11z"/>
<path color="#361500" d="M1423,5284l16-9l-16-14l-15,15zM1408,5296l15-12l-15-8l-16,10zM1392,5309l16-13l-16-10l-16,12zM1376,5319l16-10l-16-11l-15,11zM1361,5331l15-12l-15-10l-16,9z"/>
<path color="#3a1600" d="M1345,5339l16-8l-16-13l-16,9zM1329,5351l16-12l-16-12l-15,13zM1314,5363l15-12l-15-11l-16,10zM1298,5369l16-6l-16-13l-16,10z"/>
<path color="#3e1800" d="M1282,5385l16-16l-16-9l-15,9zM1267,5392l15-7l-15-16l-16,9z"/>
<path color="#421a00" d="M1251,5402l16-10l-16-14l-16,10zM1235,5409l16-7l-16-14l-15,9z"/>
<path color="#471d00" d="M1220,5414l15-5l-15-12l-16,13zM1204,5424l16-10l-16-4l-16,8z"/>
<path color="#4b1f00" d="M1188,5420l16,4l-16-6l-15,5z"/>
<path color="#fdea69" d="M1094,5410l16-20l-16,1l-15,5z"/>
<path color="#f9db50" d="M1079,5436l15-26l-15-14l-16,15z"/>
<path color="#dca324" d="M1063,5466l16-30l-16-25l-16,26z"/>
<path color="#b0690a" d="M1047,5499l16-33l-16-29l-15,29z"/>
<path color="#844302" d="M1032,5529l15-30l-15-33l-16,30z"/>
<path color="#652e00" d="M1016,5548l16-19l-16-33l-16,26z"/>
<path color="#542400" d="M1000,5568l16-20l-16-26l-15,27z"/>
<path color="#4b1f00" d="M984,5580l16-12l-15-19l-16,16z"/>
<path color="#471d00" d="M969,5591l15-11l-15-15l-16,16zM953,5604l16-13l-16-10l-15,10zM937,5615l16-11l-15-13l-16,15zM922,5626l15-11l-15-9l-16,14zM906,5639l16-13l-16-6l-15,10z"/>
<path color="#421a00" d="M890,5653l16-14l-15-9l-16,15zM875,5668l15-15l-15-8l-16,13z"/>
<path color="#3e1800" d="M859,5678l16-10l-16-10l-15,12z"/>
<path color="#421a00" d="M843,5689l16-11l-15-8l-16,8zM828,5698l15-9l-15-11l-16,8zM812,5709l16-11l-16-12l-15,9zM796,5717l16-8l-15-14l-16,14zM781,5732l15-15l-15-8l-16,13zM765,5747l16-15l-16-10l-15,10z"/>
<path color="#3e1800" d="M749,5758l16-11l-15-15l-16,16z"/>
<path color="#3a1600" d="M734,5770l15-12l-15-10l-16,14zM718,5783l16-13l-16-8l-15,8zM702,5792l16-9l-15-13l-16,10z"/>
<path color="#3e1800" d="M687,5801l15-9l-15-12l-16,10z"/>
<path color="#421a00" d="M671,5812l16-11l-16-11l-15,10z"/>
<path color="#3e1800" d="M655,5826l16-14l-15-12l-16,13zM640,5834l15-8l-15-13l-16,13zM624,5843l16-9l-16-8l-15,10zM608,5858l16-15l-15-7l-16,11zM593,5869l15-11l-15-11l-16,10zM577,5876l16-7l-16-12l-15,10z"/>
<path color="#421a00" d="M561,5890l16-14l-15-9l-16,12z"/>
<path color="#3e1800" d="M546,5901l15-11l-15-11l-16,9z"/>
<path color="#421a00" d="M530,5911l16-10l-16-13l-15,11zM514,5926l16-15l-15-12l-16,10zM499,5930l15-4l-15-17l-16,12zM483,5939l16-9l-16-9l-15,12z"/>
<path color="#2f1200" d="M1580,5201l16-8l-16-12l-16,7z"/>
<path color="#321300" d="M1564,5210l16-9l-16-13l-15,9z"/>
<path color="#361500" d="M1548,5219l16-9l-15-13l-16,7z"/>
<path color="#3e1800" d="M1533,5225l15-6l-15-15l-16,11zM1517,5236l16-11l-16-10l-15,10zM1501,5245l16-9l-15-11l-16,14zM1486,5258l15-13l-15-6l-16,9zM1470,5271l16-13l-16-10l-15,15z"/>
<path color="#3a1600" d="M1454,5283l16-12l-15-8l-16,12zM1439,5294l15-11l-15-8l-16,9zM1423,5306l16-12l-16-10l-15,12z"/>
<path color="#361500" d="M1407,5318l16-12l-15-10l-16,13zM1392,5328l15-10l-15-9l-16,10zM1376,5341l16-13l-16-9l-15,12zM1360,5351l16-10l-15-10l-16,8zM1345,5364l15-13l-15-12l-16,12zM1329,5371l16-7l-16-13l-15,12z"/>
<path color="#3a1600" d="M1313,5383l16-12l-15-8l-16,6z"/>
<path color="#3e1800" d="M1298,5390l15-7l-15-14l-16,16zM1282,5400l16-10l-16-5l-15,7z"/>
<path color="#421a00" d="M1266,5405l16-5l-15-8l-16,10z"/>
<path color="#471d00" d="M1251,5408l15-3l-15-3l-16,7z"/>
<path color="#4b1f00" d="M1235,5414l16-6l-16,1l-15,5z"/>
<path color="#fff484" d="M1125,5405l16-21l-15-2l-16,8z"/>
<path color="#fbe257" d="M1110,5436l15-31l-15-15l-16,20z"/>
<path color="#dca324" d="M1094,5467l16-31l-16-26l-15,26z"/>
<path color="#ab6408" d="M1078,5501l16-34l-15-31l-16,30z"/>
<path color="#804001" d="M1063,5532l15-31l-15-35l-16,33z"/>
<path color="#5d2900" d="M1047,5554l16-22l-16-33l-15,30z"/>
<path color="#4f2200" d="M1031,5571l16-17l-15-25l-16,19z"/>
<path color="#4b1f00" d="M1016,5582l15-11l-15-23l-16,20z"/>
<path color="#471d00" d="M1000,5593l16-11l-16-14l-16,12zM984,5603l16-10l-16-13l-15,11zM969,5615l15-12l-15-12l-16,13zM953,5622l16-7l-16-11l-16,11zM937,5633l16-11l-16-7l-15,11zM922,5642l15-9l-15-7l-16,13z"/>
<path color="#4b1f00" d="M906,5649l16-7l-16-3l-16,14z"/>
<path color="#471d00" d="M890,5663l16-14l-16,4l-15,15zM875,5677l15-14l-15,5l-16,10zM859,5690l16-13l-16,1l-16,11zM843,5704l16-14l-16-1l-15,9zM828,5709l15-5l-15-6l-16,11zM812,5729l16-20l-16,0l-16,8z"/>
<path color="#421a00" d="M796,5743l16-14l-16-12l-15,15zM781,5758l15-15l-15-11l-16,15z"/>
<path color="#3a1600" d="M765,5772l16-14l-16-11l-16,11zM749,5783l16-11l-16-14l-15,12zM734,5793l15-10l-15-13l-16,13zM718,5804l16-11l-16-10l-16,9z"/>
<path color="#3e1800" d="M702,5815l16-11l-16-12l-15,9zM687,5825l15-10l-15-14l-16,11zM671,5834l16-9l-16-13l-16,14zM655,5844l16-10l-16-8l-15,8z"/>
<path color="#421a00" d="M640,5857l15-13l-15-10l-16,9z"/>
<path color="#3e1800" d="M624,5867l16-10l-16-14l-16,15zM608,5879l16-12l-16-9l-15,11zM593,5893l15-14l-15-10l-16,7zM577,5900l16-7l-16-17l-16,14zM561,5913l16-13l-16-10l-15,11zM546,5924l15-11l-15-12l-16,10zM530,5935l16-11l-16-13l-16,15zM514,5940l16-5l-16-9l-15,4z"/>
<path color="#471d00" d="M498,5945l16-5l-15-10l-16,9z"/>
<path color="#2f1200" d="M1595,5210l16-12l-15-5l-16,8z"/>
<path color="#321300" d="M1580,5216l15-6l-15-9l-16,9z"/>
<path color="#3a1600" d="M1564,5227l16-11l-16-6l-16,9z"/>
<path color="#3e1800" d="M1548,5237l16-10l-16-8l-15,6z"/>
<path color="#421a00" d="M1533,5245l15-8l-15-12l-16,11zM1517,5256l16-11l-16-9l-16,9zM1501,5269l16-13l-16-11l-15,13z"/>
<path color="#3e1800" d="M1486,5279l15-10l-15-11l-16,13zM1470,5294l16-15l-16-8l-16,12z"/>
<path color="#3a1600" d="M1454,5304l16-10l-16-11l-15,11zM1439,5315l15-11l-15-10l-16,12zM1423,5327l16-12l-16-9l-16,12zM1407,5341l16-14l-16-9l-15,10z"/>
<path color="#361500" d="M1392,5352l15-11l-15-13l-16,13zM1376,5360l16-8l-16-11l-16,10z"/>
<path color="#3a1600" d="M1360,5370l16-10l-16-9l-15,13z"/>
<path color="#3e1800" d="M1345,5376l15-6l-15-6l-16,7zM1329,5382l16-6l-16-5l-16,12z"/>
<path color="#421a00" d="M1313,5389l16-7l-16,1l-15,7z"/>
<path color="#471d00" d="M1298,5393l15-4l-15,1l-16,10z"/>
<path color="#fef17b" d="M1172,5380l16-9l-16,8l-15-3z"/>
<path color="#fff484" d="M1157,5401l15-21l-15-4l-16,8z"/>
<path color="#fce660" d="M1141,5436l16-35l-16-17l-16,21z"/>
<path color="#dca324" d="M1125,5471l16-35l-16-31l-15,31z"/>
<path color="#a75f07" d="M1110,5505l15-34l-15-35l-16,31z"/>
<path color="#7b3c01" d="M1094,5533l16-28l-16-38l-16,34z"/>
<path color="#5d2900" d="M1078,5557l16-24l-16-32l-15,31z"/>
<path color="#4b1f00" d="M1062,5572l16-15l-15-25l-16,22z"/>
<path color="#471d00" d="M1047,5585l15-13l-15-18l-16,17zM1031,5595l16-10l-16-14l-15,11zM1015,5604l16-9l-15-13l-16,11zM1000,5615l15-11l-15-11l-16,10zM984,5624l16-9l-16-12l-15,12zM968,5632l16-8l-15-9l-16,7z"/>
<path color="#4b1f00" d="M953,5640l15-8l-15-10l-16,11z"/>
<path color="#4f2200" d="M937,5644l16-4l-16-7l-15,9z"/>
<path color="#542400" d="M921,5647l16-3l-15-2l-16,7z"/>
<path color="#582700" d="M906,5658l15-11l-15,2l-16,14z"/>
<path color="#542400" d="M890,5674l16-16l-16,5l-15,14z"/>
<path color="#4f2200" d="M874,5692l16-18l-15,3l-16,13z"/>
<path color="#4b1f00" d="M859,5699l15-7l-15-2l-16,14zM843,5720l16-21l-16,5l-15,5z"/>
<path color="#471d00" d="M827,5736l16-16l-15-11l-16,20zM812,5754l15-18l-15-7l-16,14z"/>
<path color="#421a00" d="M796,5768l16-14l-16-11l-15,15z"/>
<path color="#3a1600" d="M780,5781l16-13l-15-10l-16,14z"/>
<path color="#361500" d="M765,5795l15-14l-15-9l-16,11zM749,5804l16-9l-16-12l-15,10z"/>
<path color="#3a1600" d="M733,5814l16-10l-15-11l-16,11zM718,5824l15-10l-15-10l-16,11zM702,5836l16-12l-16-9l-15,10z"/>
<path color="#3e1800" d="M686,5844l16-8l-15-11l-16,9z"/>
<path color="#421a00" d="M671,5856l15-12l-15-10l-16,10z"/>
<path color="#3e1800" d="M655,5868l16-12l-16-12l-15,13zM639,5878l16-10l-15-11l-16,10zM624,5889l15-11l-15-11l-16,12zM608,5899l16-10l-16-10l-15,14zM592,5913l16-14l-15-6l-16,7zM577,5920l15-7l-15-13l-16,13zM561,5932l16-12l-16-7l-15,11z"/>
<path color="#421a00" d="M545,5936l16-4l-15-8l-16,11z"/>
<path color="#471d00" d="M530,5942l15-6l-15-1l-16,5z"/>
<path color="#4b1f00" d="M514,5940l16,2l-16-2l-16,5z"/>
<path color="#3a1600" d="M1611,5216l15-14l-15-4l-16,12zM1595,5225l16-9l-16-6l-15,6z"/>
<path color="#3e1800" d="M1579,5234l16-9l-15-9l-16,11zM1564,5248l15-14l-15-7l-16,10z"/>
<path color="#421a00" d="M1548,5256l16-8l-16-11l-15,8zM1532,5269l16-13l-15-11l-16,11zM1517,5281l15-12l-15-13l-16,13z"/>
<path color="#3e1800" d="M1501,5291l16-10l-16-12l-15,10zM1485,5301l16-10l-15-12l-16,15z"/>
<path color="#3a1600" d="M1470,5318l15-17l-15-7l-16,10zM1454,5328l16-10l-16-14l-15,11zM1438,5337l16-9l-15-13l-16,12zM1423,5350l15-13l-15-10l-16,14z"/>
<path color="#361500" d="M1407,5361l16-11l-16-9l-15,11z"/>
<path color="#3a1600" d="M1391,5363l16-2l-15-9l-16,8z"/>
<path color="#421a00" d="M1376,5370l15-7l-15-3l-16,10z"/>
<path color="#471d00" d="M1360,5373l16-3l-16,0l-15,6z"/>
<path color="#fef17b" d="M1203,5382l16-10l-15,8l-16-9z"/>
<path color="#fff484" d="M1188,5405l15-23l-15-11l-16,9z"/>
<path color="#fdea69" d="M1172,5434l16-29l-16-25l-15,21z"/>
<path color="#e0a927" d="M1156,5470l16-36l-15-33l-16,35z"/>
<path color="#a75f07" d="M1141,5506l15-36l-15-34l-16,35z"/>
<path color="#773900" d="M1125,5535l16-29l-16-35l-15,34z"/>
<path color="#582700" d="M1109,5556l16-21l-15-30l-16,28z"/>
<path color="#4b1f00" d="M1094,5572l15-16l-15-23l-16,24z"/>
<path color="#471d00" d="M1078,5585l16-13l-16-15l-16,15zM1062,5597l16-12l-16-13l-15,13zM1047,5605l15-8l-15-12l-16,10zM1031,5616l16-11l-16-10l-16,9zM1015,5627l16-11l-16-12l-15,11zM1000,5636l15-9l-15-12l-16,9zM984,5643l16-7l-16-12l-16,8z"/>
<path color="#4b1f00" d="M968,5649l16-6l-16-11l-15,8z"/>
<path color="#542400" d="M953,5644l15,5l-15-9l-16,4z"/>
<path color="#6e3300" d="M921,5656l16-12l-16,3l-15,11z"/>
<path color="#652e00" d="M906,5675l15-19l-15,2l-16,16z"/>
<path color="#612c00" d="M890,5682l16-7l-16-1l-16,18z"/>
<path color="#5d2900" d="M874,5702l16-20l-16,10l-15,7z"/>
<path color="#542400" d="M859,5723l15-21l-15-3l-16,21z"/>
<path color="#4b1f00" d="M843,5743l16-20l-16-3l-16,16z"/>
<path color="#471d00" d="M827,5761l16-18l-16-7l-15,18z"/>
<path color="#421a00" d="M812,5778l15-17l-15-7l-16,14z"/>
<path color="#3a1600" d="M796,5795l16-17l-16-10l-16,13zM780,5802l16-7l-16-14l-15,14zM765,5814l15-12l-15-7l-16,9zM749,5823l16-9l-16-10l-16,10z"/>
<path color="#3e1800" d="M733,5834l16-11l-16-9l-15,10zM718,5843l15-9l-15-10l-16,12z"/>
<path color="#421a00" d="M702,5854l16-11l-16-7l-16,8z"/>
<path color="#3e1800" d="M686,5869l16-15l-16-10l-15,12zM671,5878l15-9l-15-13l-16,12zM655,5889l16-11l-16-10l-16,10zM639,5900l16-11l-16-11l-15,11z"/>
<path color="#421a00" d="M624,5911l15-11l-15-11l-16,10z"/>
<path color="#3e1800" d="M608,5920l16-9l-16-12l-16,14z"/>
<path color="#421a00" d="M592,5928l16-8l-16-7l-15,7z"/>
<path color="#471d00" d="M577,5932l15-4l-15-8l-16,12z"/>
<path color="#723600" d="M530,5910l15,12l-15,20l-16-2z"/>
<path color="#3e1800" d="M1626,5224l16-10l-16-12l-15,14zM1611,5234l15-10l-15-8l-16,9z"/>
<path color="#421a00" d="M1595,5247l16-13l-16-9l-16,9z"/>
<path color="#3e1800" d="M1579,5258l16-11l-16-13l-15,14zM1564,5269l15-11l-15-10l-16,8z"/>
<path color="#421a00" d="M1548,5279l16-10l-16-13l-16,13z"/>
<path color="#3e1800" d="M1532,5293l16-14l-16-10l-15,12zM1517,5304l15-11l-15-12l-16,10zM1501,5317l16-13l-16-13l-16,10z"/>
<path color="#361500" d="M1485,5332l16-15l-16-16l-15,17zM1470,5341l15-9l-15-14l-16,10zM1454,5352l16-11l-16-13l-16,9z"/>
<path color="#3a1600" d="M1438,5361l16-9l-16-15l-15,13zM1423,5366l15-5l-15-11l-16,11z"/>
<path color="#421a00" d="M1407,5366l16,0l-16-5l-16,2z"/>
<path color="#feed72" d="M1250,5373l16-14l-16,12l-15-1z"/>
<path color="#fff484" d="M1235,5389l15-16l-15-3l-16,2z"/>
<path color="#fef17b" d="M1219,5409l16-20l-16-17l-16,10z"/>
<path color="#fbe257" d="M1203,5437l16-28l-16-27l-15,23z"/>
<path color="#d89d20" d="M1188,5478l15-41l-15-32l-16,29z"/>
<path color="#9e5805" d="M1172,5510l16-32l-16-44l-16,36z"/>
<path color="#723600" d="M1156,5535l16-25l-16-40l-15,36z"/>
<path color="#582700" d="M1141,5556l15-21l-15-29l-16,29z"/>
<path color="#4b1f00" d="M1125,5576l16-20l-16-21l-16,21z"/>
<path color="#471d00" d="M1109,5587l16-11l-16-20l-15,16z"/>
<path color="#421a00" d="M1094,5596l15-9l-15-15l-16,13zM1078,5610l16-14l-16-11l-16,12zM1062,5619l16-9l-16-13l-15,8z"/>
<path color="#471d00" d="M1046,5628l16-9l-15-14l-16,11zM1031,5633l15-5l-15-12l-16,11zM1015,5645l16-12l-16-6l-15,9zM999,5654l16-9l-15-9l-16,7z"/>
<path color="#4b1f00" d="M984,5657l15-3l-15-11l-16,6z"/>
<path color="#884702" d="M937,5651l15-12l-15,5l-16,12z"/>
<path color="#844302" d="M921,5661l16-10l-16,5l-15,19z"/>
<path color="#7b3c01" d="M905,5684l16-23l-15,14l-16,7z"/>
<path color="#6e3300" d="M890,5710l15-26l-15-2l-16,20z"/>
<path color="#5d2900" d="M874,5731l16-21l-16-8l-15,21z"/>
<path color="#4f2200" d="M858,5756l16-25l-15-8l-16,20z"/>
<path color="#471d00" d="M843,5773l15-17l-15-13l-16,18z"/>
<path color="#421a00" d="M827,5791l16-18l-16-12l-15,17z"/>
<path color="#3e1800" d="M811,5801l16-10l-15-13l-16,17z"/>
<path color="#3a1600" d="M796,5816l15-15l-15-6l-16,7zM780,5826l16-10l-16-14l-15,12zM764,5835l16-9l-15-12l-16,9z"/>
<path color="#3e1800" d="M749,5847l15-12l-15-12l-16,11zM733,5857l16-10l-16-13l-15,9zM717,5870l16-13l-15-14l-16,11zM702,5876l15-6l-15-16l-16,15z"/>
<path color="#421a00" d="M686,5887l16-11l-16-7l-15,9zM670,5898l16-11l-15-9l-16,11zM655,5910l15-12l-15-9l-16,11zM639,5917l16-7l-16-10l-15,11zM623,5923l16-6l-15-6l-16,9z"/>
<path color="#471d00" d="M608,5923l15,0l-15-3l-16,8z"/>
<path color="#c07c12" d="M545,5885l16,6l-16,31l-15-12z"/>
<path color="#421a00" d="M1642,5230l16-6l-16-10l-16,10zM1626,5246l16-16l-16-6l-15,10zM1610,5258l16-12l-15-12l-16,13z"/>
<path color="#3e1800" d="M1595,5267l15-9l-15-11l-16,11zM1579,5280l16-13l-16-9l-15,11zM1563,5294l16-14l-15-11l-16,10zM1548,5302l15-8l-15-15l-16,14z"/>
<path color="#3a1600" d="M1532,5316l16-14l-16-9l-15,11zM1516,5329l16-13l-15-12l-16,13z"/>
<path color="#361500" d="M1501,5340l15-11l-15-12l-16,15z"/>
<path color="#321300" d="M1485,5353l16-13l-16-8l-15,9z"/>
<path color="#361500" d="M1469,5359l16-6l-15-12l-16,11z"/>
<path color="#3a1600" d="M1454,5369l15-10l-15-7l-16,9z"/>
<path color="#3e1800" d="M1438,5370l16-1l-16-8l-15,5z"/>
<path color="#fef17b" d="M1313,5345l15-15l-15,13l-16,1z"/>
<path color="#fff484" d="M1297,5361l16-16l-16-1l-15,9zM1281,5378l16-17l-15-8l-16,6z"/>
<path color="#fef17b" d="M1266,5398l15-20l-15-19l-16,14z"/>
<path color="#fce660" d="M1250,5423l16-25l-16-25l-15,16z"/>
<path color="#efc235" d="M1234,5446l16-23l-15-34l-16,20z"/>
<path color="#cd8b17" d="M1219,5479l15-33l-15-37l-16,28z"/>
<path color="#9a5505" d="M1203,5509l16-30l-16-42l-15,41z"/>
<path color="#6e3300" d="M1187,5533l16-24l-15-31l-16,32z"/>
<path color="#542400" d="M1172,5559l15-26l-15-23l-16,25z"/>
<path color="#471d00" d="M1156,5579l16-20l-16-24l-15,21z"/>
<path color="#421a00" d="M1140,5589l16-10l-15-23l-16,20zM1125,5598l15-9l-15-13l-16,11zM1109,5606l16-8l-16-11l-15,9zM1093,5620l16-14l-15-10l-16,14zM1078,5627l15-7l-15-10l-16,9z"/>
<path color="#471d00" d="M1062,5637l16-10l-16-8l-16,9zM1046,5649l16-12l-16-9l-15,5zM1031,5657l15-8l-15-16l-16,12zM1015,5665l16-8l-16-12l-16,9z"/>
<path color="#4f2200" d="M999,5662l16,3l-16-11l-15,3z"/>
<path color="#ab6408" d="M952,5648l16-13l-16,4l-15,12z"/>
<path color="#a75f07" d="M937,5667l15-19l-15,3l-16,10z"/>
<path color="#914e03" d="M921,5694l16-27l-16-6l-16,23z"/>
<path color="#773900" d="M905,5717l16-23l-16-10l-15,26z"/>
<path color="#612c00" d="M890,5739l15-22l-15-7l-16,21z"/>
<path color="#4f2200" d="M874,5765l16-26l-16-8l-16,25z"/>
<path color="#471d00" d="M858,5778l16-13l-16-9l-15,17z"/>
<path color="#421a00" d="M843,5799l15-21l-15-5l-16,18z"/>
<path color="#3e1800" d="M827,5811l16-12l-16-8l-16,10z"/>
<path color="#3a1600" d="M811,5825l16-14l-16-10l-15,15z"/>
<path color="#361500" d="M796,5838l15-13l-15-9l-16,10z"/>
<path color="#3a1600" d="M780,5849l16-11l-16-12l-16,9zM764,5860l16-11l-16-14l-15,12zM749,5871l15-11l-15-13l-16,10zM733,5882l16-11l-16-14l-16,13z"/>
<path color="#3e1800" d="M717,5889l16-7l-16-12l-15,6zM702,5902l15-13l-15-13l-16,11z"/>
<path color="#421a00" d="M686,5909l16-7l-16-15l-16,11zM670,5913l16-4l-16-11l-15,12z"/>
<path color="#471d00" d="M655,5913l15,0l-15-3l-16,7z"/>
<path color="#fbe257" d="M560,5890l16-11l-15,12l-16-6z"/>
<path color="#421a00" d="M1657,5244l16-11l-15-9l-16,6zM1642,5256l15-12l-15-14l-16,16zM1626,5269l16-13l-16-10l-16,12z"/>
<path color="#3e1800" d="M1610,5280l16-11l-16-11l-15,9zM1595,5293l15-13l-15-13l-16,13z"/>
<path color="#3a1600" d="M1579,5307l16-14l-16-13l-16,14zM1563,5312l16-5l-16-13l-15,8z"/>
<path color="#3e1800" d="M1548,5326l15-14l-15-10l-16,14z"/>
<path color="#3a1600" d="M1532,5338l16-12l-16-10l-16,13zM1516,5348l16-10l-16-9l-15,11z"/>
<path color="#361500" d="M1501,5364l15-16l-15-8l-16,13zM1485,5371l16-7l-16-11l-16,6z"/>
<path color="#3e1800" d="M1469,5377l16-6l-16-12l-15,10z"/>
<path color="#471d00" d="M1454,5376l15,1l-15-8l-16,1z"/>
<path color="#fff484" d="M1360,5325l15-10l-15,2l-16,6zM1344,5346l16-21l-16-2l-16,7zM1328,5370l16-24l-16-16l-15,15z"/>
<path color="#feed72" d="M1313,5394l15-24l-15-25l-16,16z"/>
<path color="#f6d549" d="M1297,5417l16-23l-16-33l-16,17z"/>
<path color="#ecbc30" d="M1281,5439l16-22l-16-39l-15,20z"/>
<path color="#d1901a" d="M1266,5462l15-23l-15-41l-16,25z"/>
<path color="#b0690a" d="M1250,5487l16-25l-16-39l-16,23z"/>
<path color="#8d4a03" d="M1234,5507l16-20l-16-41l-15,33z"/>
<path color="#6e3300" d="M1219,5537l15-30l-15-28l-16,30z"/>
<path color="#542400" d="M1203,5558l16-21l-16-28l-16,24z"/>
<path color="#4b1f00" d="M1187,5574l16-16l-16-25l-15,26z"/>
<path color="#421a00" d="M1172,5589l15-15l-15-15l-16,20zM1156,5599l16-10l-16-10l-16,10zM1140,5607l16-8l-16-10l-15,9zM1124,5621l16-14l-15-9l-16,8zM1109,5628l15-7l-15-15l-16,14z"/>
<path color="#471d00" d="M1093,5636l16-8l-16-8l-15,7zM1077,5648l16-12l-15-9l-16,10zM1062,5661l15-13l-15-11l-16,12zM1046,5671l16-10l-16-12l-15,8zM1030,5677l16-6l-15-14l-16,8z"/>
<path color="#542400" d="M1015,5669l15,8l-15-12l-16-3z"/>
<path color="#c48114" d="M968,5657l15-19l-15-3l-16,13z"/>
<path color="#b46e0c" d="M952,5674l16-17l-16-9l-15,19z"/>
<path color="#9a5505" d="M936,5700l16-26l-15-7l-16,27z"/>
<path color="#7b3c01" d="M921,5726l15-26l-15-6l-16,23z"/>
<path color="#652e00" d="M905,5751l16-25l-16-9l-15,22z"/>
<path color="#542400" d="M889,5773l16-22l-15-12l-16,26z"/>
<path color="#471d00" d="M874,5794l15-21l-15-8l-16,13zM858,5808l16-14l-16-16l-15,21z"/>
<path color="#421a00" d="M842,5823l16-15l-15-9l-16,12z"/>
<path color="#3e1800" d="M827,5836l15-13l-15-12l-16,14z"/>
<path color="#3a1600" d="M811,5848l16-12l-16-11l-15,13z"/>
<path color="#361500" d="M795,5859l16-11l-15-10l-16,11zM780,5871l15-12l-15-10l-16,11zM764,5883l16-12l-16-11l-15,11zM748,5892l16-9l-15-12l-16,11z"/>
<path color="#3a1600" d="M733,5904l15-12l-15-10l-16,7z"/>
<path color="#3e1800" d="M717,5911l16-7l-16-15l-15,13z"/>
<path color="#421a00" d="M701,5915l16-4l-15-9l-16,7z"/>
<path color="#471d00" d="M686,5911l15,4l-15-6l-16,4z"/>
<path color="#fef17b" d="M592,5888l15-13l-15,0l-16,4zM576,5906l16-18l-16-9l-16,11z"/>
<path color="#421a00" d="M1673,5256l16-9l-16-14l-16,11zM1657,5267l16-11l-16-12l-15,12zM1641,5280l16-13l-15-11l-16,13z"/>
<path color="#3e1800" d="M1626,5294l15-14l-15-11l-16,11z"/>
<path color="#3a1600" d="M1610,5304l16-10l-16-14l-15,13zM1594,5313l16-9l-15-11l-16,14zM1579,5327l15-14l-15-6l-16,5z"/>
<path color="#3e1800" d="M1563,5334l16-7l-16-15l-15,14zM1547,5347l16-13l-15-8l-16,12z"/>
<path color="#3a1600" d="M1532,5358l15-11l-15-9l-16,10zM1516,5368l16-10l-16-10l-15,16zM1500,5378l16-10l-15-4l-16,7z"/>
<path color="#421a00" d="M1485,5382l15-4l-15-7l-16,6z"/>
<path color="#fff484" d="M1406,5322l16-14l-15-3l-16-1zM1391,5340l15-18l-15-18l-16,11zM1375,5360l16-20l-16-25l-15,10z"/>
<path color="#fdea69" d="M1359,5386l16-26l-15-35l-16,21z"/>
<path color="#f4cf43" d="M1344,5411l15-25l-15-40l-16,24z"/>
<path color="#dca324" d="M1328,5435l16-24l-16-41l-15,24z"/>
<path color="#bc7710" d="M1312,5458l16-23l-15-41l-16,23z"/>
<path color="#a35c06" d="M1297,5482l15-24l-15-41l-16,22z"/>
<path color="#884702" d="M1281,5502l16-20l-16-43l-15,23z"/>
<path color="#723600" d="M1265,5519l16-17l-15-40l-16,25z"/>
<path color="#652e00" d="M1250,5537l15-18l-15-32l-16,20z"/>
<path color="#542400" d="M1234,5559l16-22l-16-30l-15,30z"/>
<path color="#471d00" d="M1218,5574l16-15l-15-22l-16,21z"/>
<path color="#421a00" d="M1203,5591l15-17l-15-16l-16,16zM1187,5599l16-8l-16-17l-15,15zM1171,5610l16-11l-15-10l-16,10zM1156,5619l15-9l-15-11l-16,8zM1140,5628l16-9l-16-12l-16,14z"/>
<path color="#471d00" d="M1124,5637l16-9l-16-7l-15,7zM1109,5648l15-11l-15-9l-16,8zM1093,5659l16-11l-16-12l-16,12zM1077,5672l16-13l-16-11l-15,13zM1062,5680l15-8l-15-11l-16,10zM1046,5689l16-9l-16-9l-16,6z"/>
<path color="#542400" d="M1030,5678l16,11l-16-12l-15-8z"/>
<path color="#cd8b17" d="M983,5662l16-11l-16-13l-15,19z"/>
<path color="#bc7710" d="M968,5685l15-23l-15-5l-16,17z"/>
<path color="#9e5805" d="M952,5710l16-25l-16-11l-16,26z"/>
<path color="#804001" d="M936,5737l16-27l-16-10l-15,26z"/>
<path color="#652e00" d="M921,5759l15-22l-15-11l-16,25z"/>
<path color="#542400" d="M905,5782l16-23l-16-8l-16,22z"/>
<path color="#4b1f00" d="M889,5801l16-19l-16-9l-15,21z"/>
<path color="#471d00" d="M874,5819l15-18l-15-7l-16,14z"/>
<path color="#421a00" d="M858,5834l16-15l-16-11l-16,15z"/>
<path color="#3a1600" d="M842,5849l16-15l-16-11l-15,13z"/>
<path color="#361500" d="M827,5860l15-11l-15-13l-16,12zM811,5872l16-12l-16-12l-16,11zM795,5884l16-12l-16-13l-15,12z"/>
<path color="#321300" d="M780,5896l15-12l-15-13l-16,12z"/>
<path color="#361500" d="M764,5907l16-11l-16-13l-16,9zM748,5915l16-8l-16-15l-15,12z"/>
<path color="#3e1800" d="M733,5918l15-3l-15-11l-16,7z"/>
<path color="#471d00" d="M717,5914l16,4l-16-7l-16,4z"/>
<path color="#feed72" d="M639,5877l15-10l-15,2l-16-1z"/>
<path color="#fff484" d="M623,5890l16-13l-16-9l-16,7z"/>
<path color="#fef17b" d="M607,5909l16-19l-16-15l-15,13z"/>
<path color="#fbe257" d="M592,5927l15-18l-15-21l-16,18z"/>
<path color="#3e1800" d="M1688,5271l16-13l-15-11l-16,9zM1673,5279l15-8l-15-15l-16,11zM1657,5292l16-13l-16-12l-16,13z"/>
<path color="#3a1600" d="M1641,5304l16-12l-16-12l-15,14zM1626,5314l15-10l-15-10l-16,10z"/>
<path color="#3e1800" d="M1610,5325l16-11l-16-10l-16,9zM1594,5334l16-9l-16-12l-15,14zM1579,5347l15-13l-15-7l-16,7zM1563,5357l16-10l-16-13l-16,13zM1547,5367l16-10l-16-10l-15,11z"/>
<path color="#421a00" d="M1532,5377l15-10l-15-9l-16,10zM1516,5386l16-9l-16-9l-16,10z"/>
<path color="#471d00" d="M1500,5386l16,0l-16-8l-15,4z"/>
<path color="#fff484" d="M1422,5343l16-21l-16-14l-16,14z"/>
<path color="#fce660" d="M1406,5382l16-39l-16-21l-15,18z"/>
<path color="#efc235" d="M1391,5405l15-23l-15-42l-16,20z"/>
<path color="#d5971d" d="M1375,5432l16-27l-16-45l-16,26z"/>
<path color="#b0690a" d="M1359,5453l16-21l-16-46l-15,25z"/>
<path color="#965104" d="M1344,5474l15-21l-15-42l-16,24z"/>
<path color="#7b3c01" d="M1328,5494l16-20l-16-39l-16,23z"/>
<path color="#6a3100" d="M1312,5509l16-15l-16-36l-15,24z"/>
<path color="#5d2900" d="M1297,5528l15-19l-15-27l-16,20z"/>
<path color="#542400" d="M1281,5544l16-16l-16-26l-16,17z"/>
<path color="#4f2200" d="M1265,5559l16-15l-16-25l-15,18z"/>
<path color="#471d00" d="M1250,5574l15-15l-15-22l-16,22z"/>
<path color="#421a00" d="M1234,5591l16-17l-16-15l-16,15z"/>
<path color="#3e1800" d="M1218,5601l16-10l-16-17l-15,17zM1203,5611l15-10l-15-10l-16,8z"/>
<path color="#421a00" d="M1187,5622l16-11l-16-12l-16,11zM1171,5630l16-8l-16-12l-15,9zM1155,5639l16-9l-15-11l-16,9z"/>
<path color="#471d00" d="M1140,5651l15-12l-15-11l-16,9zM1124,5657l16-6l-16-14l-15,11zM1108,5670l16-13l-15-9l-16,11zM1093,5682l15-12l-15-11l-16,13zM1077,5696l16-14l-16-10l-15,8zM1061,5698l16-2l-15-16l-16,9z"/>
<path color="#c07c12" d="M1014,5661l16-1l-15-5l-16-4z"/>
<path color="#cd8b17" d="M999,5675l15-14l-15-10l-16,11z"/>
<path color="#c07c12" d="M983,5695l16-20l-16-13l-15,23z"/>
<path color="#9e5805" d="M967,5723l16-28l-15-10l-16,25z"/>
<path color="#7b3c01" d="M952,5750l15-27l-15-13l-16,27z"/>
<path color="#612c00" d="M936,5777l16-27l-16-13l-15,22z"/>
<path color="#542400" d="M920,5793l16-16l-15-18l-16,23z"/>
<path color="#4b1f00" d="M905,5814l15-21l-15-11l-16,19z"/>
<path color="#471d00" d="M889,5826l16-12l-16-13l-15,18z"/>
<path color="#421a00" d="M873,5842l16-16l-15-7l-16,15z"/>
<path color="#3e1800" d="M858,5855l15-13l-15-8l-16,15z"/>
<path color="#3a1600" d="M842,5871l16-16l-16-6l-15,11z"/>
<path color="#361500" d="M826,5883l16-12l-15-11l-16,12z"/>
<path color="#321300" d="M811,5897l15-14l-15-11l-16,12zM795,5905l16-8l-16-13l-15,12zM779,5918l16-13l-15-9l-16,11z"/>
<path color="#361500" d="M764,5923l15-5l-15-11l-16,8z"/>
<path color="#3e1800" d="M748,5918l16,5l-16-8l-15,3z"/>
<path color="#feed72" d="M670,5884l15-16l-15-7l-16,6zM654,5900l16-16l-16-17l-15,10z"/>
<path color="#fbe257" d="M638,5920l16-20l-15-23l-16,13z"/>
<path color="#efc235" d="M623,5939l15-19l-15-30l-16,19z"/>
<path color="#dca324" d="M607,5959l16-20l-16-30l-15,18z"/>
<path color="#3e1800" d="M1704,5278l16-14l-16-6l-16,13zM1688,5289l16-11l-16-7l-15,8zM1672,5307l16-18l-15-10l-16,13z"/>
<path color="#3a1600" d="M1657,5312l15-5l-15-15l-16,12z"/>
<path color="#3e1800" d="M1641,5323l16-11l-16-8l-15,10zM1625,5335l16-12l-15-9l-16,11zM1610,5343l15-8l-15-10l-16,9z"/>
<path color="#421a00" d="M1594,5354l16-11l-16-9l-15,13zM1578,5366l16-12l-15-7l-16,10zM1563,5376l15-10l-15-9l-16,10zM1547,5387l16-11l-16-9l-15,10z"/>
<path color="#471d00" d="M1531,5388l16-1l-15-10l-16,9z"/>
<path color="#fff484" d="M1453,5340l16-15l-16-3l-15,0z"/>
<path color="#fef17b" d="M1437,5369l16-29l-15-18l-16,21z"/>
<path color="#e4b02a" d="M1422,5410l15-41l-15-26l-16,39z"/>
<path color="#ab6408" d="M1406,5450l16-40l-16-28l-15,23z"/>
<path color="#844302" d="M1390,5470l16-20l-15-45l-16,27z"/>
<path color="#6e3300" d="M1375,5491l15-21l-15-38l-16,21z"/>
<path color="#612c00" d="M1359,5503l16-12l-16-38l-15,21z"/>
<path color="#582700" d="M1343,5520l16-17l-15-29l-16,20z"/>
<path color="#4f2200" d="M1328,5534l15-14l-15-26l-16,15z"/>
<path color="#4b1f00" d="M1312,5548l16-14l-16-25l-15,19z"/>
<path color="#471d00" d="M1296,5560l16-12l-15-20l-16,16zM1281,5574l15-14l-15-16l-16,15z"/>
<path color="#421a00" d="M1265,5588l16-14l-16-15l-15,15zM1249,5600l16-12l-15-14l-16,17z"/>
<path color="#3e1800" d="M1234,5613l15-13l-15-9l-16,10zM1218,5621l16-8l-16-12l-15,10z"/>
<path color="#421a00" d="M1202,5631l16-10l-15-10l-16,11zM1187,5638l15-7l-15-9l-16,8z"/>
<path color="#471d00" d="M1171,5647l16-9l-16-8l-16,9zM1155,5661l16-14l-16-8l-15,12zM1140,5674l15-13l-15-10l-16,6zM1124,5682l16-8l-16-17l-16,13zM1108,5696l16-14l-16-12l-15,12zM1093,5704l15-8l-15-14l-16,14z"/>
<path color="#4b1f00" d="M1077,5700l16,4l-16-8l-16,2z"/>
<path color="#cd8b17" d="M1030,5667l16-3l-16-4l-16,1z"/>
<path color="#d1901a" d="M1014,5683l16-16l-16-6l-15,14z"/>
<path color="#c07c12" d="M999,5707l15-24l-15-8l-16,20z"/>
<path color="#9e5805" d="M983,5732l16-25l-16-12l-16,28z"/>
<path color="#7b3c01" d="M967,5758l16-26l-16-9l-15,27z"/>
<path color="#612c00" d="M952,5782l15-24l-15-8l-16,27z"/>
<path color="#542400" d="M936,5805l16-23l-16-5l-16,16z"/>
<path color="#4b1f00" d="M920,5822l16-17l-16-12l-15,21z"/>
<path color="#471d00" d="M905,5838l15-16l-15-8l-16,12z"/>
<path color="#421a00" d="M889,5856l16-18l-16-12l-16,16z"/>
<path color="#3e1800" d="M873,5872l16-16l-16-14l-15,13z"/>
<path color="#361500" d="M858,5882l15-10l-15-17l-16,16zM842,5894l16-12l-16-11l-16,12z"/>
<path color="#321300" d="M826,5905l16-11l-16-11l-15,14zM811,5915l15-10l-15-8l-16,8z"/>
<path color="#361500" d="M795,5923l16-8l-16-10l-16,13z"/>
<path color="#3a1600" d="M779,5924l16-1l-16-5l-15,5z"/>
<path color="#fce660" d="M701,5888l16-15l-16-10l-16,5z"/>
<path color="#f9db50" d="M685,5912l16-24l-16-20l-15,16z"/>
<path color="#e8b62d" d="M670,5930l15-18l-15-28l-16,16z"/>
<path color="#d5971d" d="M654,5951l16-21l-16-30l-16,20z"/>
<path color="#c07c12" d="M638,5970l16-19l-16-31l-15,19z"/>
<path color="#a75f07" d="M622,5995l16-25l-15-31l-16,20z"/>
<path color="#421a00" d="M1719,5287l16-11l-15-12l-16,14zM1704,5303l15-16l-15-9l-16,11z"/>
<path color="#3e1800" d="M1688,5311l16-8l-16-14l-16,18zM1672,5324l16-13l-16-4l-15,5zM1657,5334l15-10l-15-12l-16,11z"/>
<path color="#421a00" d="M1641,5343l16-9l-16-11l-16,12zM1625,5354l16-11l-16-8l-15,8zM1610,5362l15-8l-15-11l-16,11zM1594,5374l16-12l-16-8l-16,12zM1578,5386l16-12l-16-8l-15,10zM1563,5395l15-9l-15-10l-16,11z"/>
<path color="#471d00" d="M1547,5394l16,1l-16-8l-16,1z"/>
<path color="#fff484" d="M1469,5357l15-19l-15-13l-16,15z"/>
<path color="#f9db50" d="M1453,5397l16-40l-16-17l-16,29z"/>
<path color="#c07c12" d="M1437,5437l16-40l-16-28l-15,41z"/>
<path color="#804001" d="M1422,5472l15-35l-15-27l-16,40z"/>
<path color="#5d2900" d="M1406,5495l16-23l-16-22l-16,20z"/>
<path color="#4f2200" d="M1390,5514l16-19l-16-25l-15,21z"/>
<path color="#4b1f00" d="M1375,5525l15-11l-15-23l-16,12zM1359,5535l16-10l-16-22l-16,17z"/>
<path color="#471d00" d="M1343,5547l16-12l-16-15l-15,14zM1328,5558l15-11l-15-13l-16,14zM1312,5572l16-14l-16-10l-16,12zM1296,5585l16-13l-16-12l-15,14z"/>
<path color="#421a00" d="M1281,5600l15-15l-15-11l-16,14z"/>
<path color="#3e1800" d="M1265,5612l16-12l-16-12l-16,12zM1249,5622l16-10l-16-12l-15,13z"/>
<path color="#421a00" d="M1234,5630l15-8l-15-9l-16,8zM1218,5642l16-12l-16-9l-16,10zM1202,5652l16-10l-16-11l-15,7z"/>
<path color="#471d00" d="M1186,5662l16-10l-15-14l-16,9zM1171,5671l15-9l-15-15l-16,14z"/>
<path color="#421a00" d="M1155,5683l16-12l-16-10l-15,13z"/>
<path color="#471d00" d="M1139,5693l16-10l-15-9l-16,8zM1124,5703l15-10l-15-11l-16,14zM1108,5706l16-3l-16-7l-15,8z"/>
<path color="#4b1f00" d="M1092,5714l16-8l-15-2l-16-4z"/>
<path color="#dca324" d="M1045,5672l16-5l-15-3l-16,3zM1030,5690l15-18l-15-5l-16,16z"/>
<path color="#c48114" d="M1014,5716l16-26l-16-7l-15,24z"/>
<path color="#a35c06" d="M998,5740l16-24l-15-9l-16,25z"/>
<path color="#844302" d="M983,5767l15-27l-15-8l-16,26z"/>
<path color="#652e00" d="M967,5793l16-26l-16-9l-15,24z"/>
<path color="#542400" d="M951,5813l16-20l-15-11l-16,23z"/>
<path color="#4b1f00" d="M936,5831l15-18l-15-8l-16,17z"/>
<path color="#471d00" d="M920,5848l16-17l-16-9l-15,16z"/>
<path color="#421a00" d="M904,5863l16-15l-15-10l-16,18z"/>
<path color="#3a1600" d="M889,5879l15-16l-15-7l-16,16zM873,5890l16-11l-16-7l-15,10zM857,5900l16-10l-15-8l-16,12z"/>
<path color="#361500" d="M842,5913l15-13l-15-6l-16,11z"/>
<path color="#3a1600" d="M826,5920l16-7l-16-8l-15,10z"/>
<path color="#3e1800" d="M810,5925l16-5l-15-5l-16,8z"/>
<path color="#f6d549" d="M732,5890l16-13l-16-7l-15,3z"/>
<path color="#f1c93c" d="M716,5914l16-24l-15-17l-16,15z"/>
<path color="#dca324" d="M701,5934l15-20l-15-26l-16,24z"/>
<path color="#bc7710" d="M685,5964l16-30l-16-22l-15,18z"/>
<path color="#a35c06" d="M669,5984l16-20l-15-34l-16,21z"/>
<path color="#8d4a03" d="M654,6005l15-21l-15-33l-16,19z"/>
<path color="#773900" d="M638,6023l16-18l-16-35l-16,25z"/>
<path color="#421a00" d="M1735,5296l15-11l-15-9l-16,11zM1719,5309l16-13l-16-9l-15,16z"/>
<path color="#3e1800" d="M1703,5323l16-14l-15-6l-16,8zM1688,5332l15-9l-15-12l-16,13z"/>
<path color="#421a00" d="M1672,5344l16-12l-16-8l-15,10zM1656,5354l16-10l-15-10l-16,9zM1641,5365l15-11l-15-11l-16,11zM1625,5373l16-8l-16-11l-15,8zM1609,5387l16-14l-15-11l-16,12zM1594,5398l15-11l-15-13l-16,12zM1578,5405l16-7l-16-12l-15,9z"/>
<path color="#4b1f00" d="M1562,5403l16,2l-15-10l-16-1z"/>
<path color="#fef17b" d="M1500,5351l15-7l-15-3l-16-3z"/>
<path color="#feed72" d="M1484,5382l16-31l-16-13l-15,19z"/>
<path color="#e0a927" d="M1468,5422l16-40l-15-25l-16,40z"/>
<path color="#9a5505" d="M1453,5463l15-41l-15-25l-16,40z"/>
<path color="#652e00" d="M1437,5491l16-28l-16-26l-15,35z"/>
<path color="#4f2200" d="M1421,5511l16-20l-15-19l-16,23z"/>
<path color="#471d00" d="M1406,5529l15-18l-15-16l-16,19zM1390,5538l16-9l-16-15l-15,11zM1374,5551l16-13l-15-13l-16,10zM1359,5559l15-8l-15-16l-16,12zM1343,5568l16-9l-16-12l-15,11zM1327,5579l16-11l-15-10l-16,14zM1312,5596l15-17l-15-7l-16,13z"/>
<path color="#421a00" d="M1296,5608l16-12l-16-11l-15,15z"/>
<path color="#3e1800" d="M1280,5622l16-14l-15-8l-16,12zM1265,5631l15-9l-15-10l-16,10z"/>
<path color="#421a00" d="M1249,5642l16-11l-16-9l-15,8zM1233,5653l16-11l-15-12l-16,12zM1218,5660l15-7l-15-11l-16,10zM1202,5673l16-13l-16-8l-16,10zM1186,5684l16-11l-16-11l-15,9z"/>
<path color="#471d00" d="M1171,5692l15-8l-15-13l-16,12zM1155,5703l16-11l-16-9l-16,10zM1139,5709l16-6l-16-10l-15,10z"/>
<path color="#4b1f00" d="M1124,5719l15-10l-15-6l-16,3z"/>
<path color="#4f2200" d="M1108,5715l16,4l-16-13l-16,8z"/>
<path color="#f1c93c" d="M1061,5672l16-6l-16,1l-16,5z"/>
<path color="#efc235" d="M1045,5695l16-23l-16,0l-15,18z"/>
<path color="#d1901a" d="M1030,5722l15-27l-15-5l-16,26z"/>
<path color="#a75f07" d="M1014,5752l16-30l-16-6l-16,24z"/>
<path color="#844302" d="M998,5777l16-25l-16-12l-15,27z"/>
<path color="#6a3100" d="M983,5802l15-25l-15-10l-16,26z"/>
<path color="#542400" d="M967,5826l16-24l-16-9l-16,20z"/>
<path color="#4b1f00" d="M951,5843l16-17l-16-13l-15,18z"/>
<path color="#471d00" d="M936,5857l15-14l-15-12l-16,17z"/>
<path color="#421a00" d="M920,5877l16-20l-16-9l-16,15z"/>
<path color="#3e1800" d="M904,5889l16-12l-16-14l-15,16z"/>
<path color="#3a1600" d="M889,5902l15-13l-15-10l-16,11zM873,5911l16-9l-16-12l-16,10z"/>
<path color="#3e1800" d="M857,5922l16-11l-16-11l-15,13zM842,5928l15-6l-15-9l-16,7z"/>
<path color="#471d00" d="M826,5925l16,3l-16-8l-16,5z"/>
<path color="#f1c93c" d="M763,5892l16-17l-16-2l-15,4z"/>
<path color="#efc235" d="M748,5913l15-21l-15-15l-16,13z"/>
<path color="#d5971d" d="M732,5936l16-23l-16-23l-16,24z"/>
<path color="#b8730e" d="M716,5963l16-27l-16-22l-15,20z"/>
<path color="#965104" d="M701,5992l15-29l-15-29l-16,30z"/>
<path color="#773900" d="M685,6015l16-23l-16-28l-16,20z"/>
<path color="#652e00" d="M669,6034l16-19l-16-31l-15,21z"/>
<path color="#582700" d="M654,6050l15-16l-15-29l-16,18z"/>
<path color="#421a00" d="M1750,5306l16-8l-16-13l-15,11zM1735,5319l15-13l-15-10l-16,13zM1719,5330l16-11l-16-10l-16,14zM1703,5343l16-13l-16-7l-15,9zM1688,5353l15-10l-15-11l-16,12zM1672,5363l16-10l-16-9l-16,10zM1656,5377l16-14l-16-9l-15,11zM1641,5389l15-12l-15-12l-16,8zM1625,5400l16-11l-16-16l-16,14zM1609,5410l16-10l-16-13l-15,11z"/>
<path color="#471d00" d="M1594,5415l15-5l-15-12l-16,7z"/>
<path color="#4b1f00" d="M1578,5407l16,8l-16-10l-16-2z"/>
<path color="#fff484" d="M1515,5374l16-20l-16-10l-15,7z"/>
<path color="#f4cf43" d="M1500,5406l15-32l-15-23l-16,31z"/>
<path color="#bc7710" d="M1484,5449l16-43l-16-24l-16,40z"/>
<path color="#7b3c01" d="M1468,5482l16-33l-16-27l-15,41z"/>
<path color="#582700" d="M1453,5506l15-24l-15-19l-16,28z"/>
<path color="#4b1f00" d="M1437,5527l16-21l-16-15l-16,20z"/>
<path color="#471d00" d="M1421,5538l16-11l-16-16l-15,18z"/>
<path color="#421a00" d="M1406,5552l15-14l-15-9l-16,9zM1390,5561l16-9l-16-14l-16,13z"/>
<path color="#471d00" d="M1374,5570l16-9l-16-10l-15,8zM1359,5584l15-14l-15-11l-16,9zM1343,5592l16-8l-16-16l-16,11zM1327,5608l16-16l-16-13l-15,17z"/>
<path color="#421a00" d="M1312,5618l15-10l-15-12l-16,12zM1296,5631l16-13l-16-10l-16,14zM1280,5642l16-11l-16-9l-15,9zM1265,5654l15-12l-15-11l-16,11zM1249,5662l16-8l-16-12l-16,11zM1233,5674l16-12l-16-9l-15,7z"/>
<path color="#471d00" d="M1218,5680l15-6l-15-14l-16,13zM1202,5693l16-13l-16-7l-16,11zM1186,5701l16-8l-16-9l-15,8zM1170,5713l16-12l-15-9l-16,11zM1155,5722l15-9l-15-10l-16,6z"/>
<path color="#4b1f00" d="M1139,5728l16-6l-16-13l-15,10z"/>
<path color="#542400" d="M1123,5723l16,5l-15-9l-16-4z"/>
<path color="#feed72" d="M1076,5676l16-10l-15,0l-16,6z"/>
<path color="#fbe257" d="M1061,5700l15-24l-15-4l-16,23z"/>
<path color="#dca324" d="M1045,5731l16-31l-16-5l-15,27z"/>
<path color="#ab6408" d="M1029,5760l16-29l-15-9l-16,30z"/>
<path color="#844302" d="M1014,5788l15-28l-15-8l-16,25z"/>
<path color="#6a3100" d="M998,5814l16-26l-16-11l-15,25z"/>
<path color="#582700" d="M982,5833l16-19l-15-12l-16,24z"/>
<path color="#4b1f00" d="M967,5854l15-21l-15-7l-16,17z"/>
<path color="#471d00" d="M951,5869l16-15l-16-11l-15,14z"/>
<path color="#421a00" d="M935,5884l16-15l-15-12l-16,20z"/>
<path color="#3e1800" d="M920,5899l15-15l-15-7l-16,12z"/>
<path color="#3a1600" d="M904,5912l16-13l-16-10l-15,13zM888,5922l16-10l-15-10l-16,9z"/>
<path color="#3e1800" d="M873,5932l15-10l-15-11l-16,11z"/>
<path color="#421a00" d="M857,5937l16-5l-16-10l-15,6z"/>
<path color="#efc235" d="M794,5890l16-11l-15,0l-16-4zM779,5910l15-20l-15-15l-16,17z"/>
<path color="#d89d20" d="M763,5937l16-27l-16-18l-15,21z"/>
<path color="#b8730e" d="M747,5961l16-24l-15-24l-16,23z"/>
<path color="#965104" d="M732,5988l15-27l-15-25l-16,27z"/>
<path color="#723600" d="M716,6014l16-26l-16-25l-15,29z"/>
<path color="#5d2900" d="M700,6040l16-26l-15-22l-16,23z"/>
<path color="#4f2200" d="M685,6054l15-14l-15-25l-16,19z"/>
<path color="#4b1f00" d="M669,6072l16-18l-16-20l-15,16z"/>
<path color="#421a00" d="M1766,5321l16-10l-16-13l-16,8zM1750,5329l16-8l-16-15l-15,13zM1734,5338l16-9l-15-10l-16,11zM1719,5354l15-16l-15-8l-16,13zM1703,5363l16-9l-16-11l-15,10zM1687,5377l16-14l-15-10l-16,10zM1672,5391l15-14l-15-14l-16,14z"/>
<path color="#3e1800" d="M1656,5401l16-10l-16-14l-15,12zM1640,5412l16-11l-15-12l-16,11z"/>
<path color="#421a00" d="M1625,5420l15-8l-15-12l-16,10z"/>
<path color="#471d00" d="M1609,5424l16-4l-16-10l-15,5z"/>
<path color="#fce660" d="M1546,5368l16-2l-15-4l-16-8z"/>
<path color="#fdea69" d="M1531,5392l15-24l-15-14l-16,20z"/>
<path color="#dca324" d="M1515,5434l16-42l-16-18l-15,32z"/>
<path color="#9a5505" d="M1499,5470l16-36l-15-28l-16,43z"/>
<path color="#6a3100" d="M1484,5501l15-31l-15-21l-16,33z"/>
<path color="#4f2200" d="M1468,5527l16-26l-16-19l-15,24z"/>
<path color="#471d00" d="M1452,5539l16-12l-15-21l-16,21z"/>
<path color="#421a00" d="M1437,5556l15-17l-15-12l-16,11zM1421,5562l16-6l-16-18l-15,14zM1405,5572l16-10l-15-10l-16,9z"/>
<path color="#471d00" d="M1390,5580l15-8l-15-11l-16,9zM1374,5591l16-11l-16-10l-15,14zM1358,5600l16-9l-15-7l-16,8zM1343,5616l15-16l-15-8l-16,16z"/>
<path color="#421a00" d="M1327,5629l16-13l-16-8l-15,10zM1311,5642l16-13l-15-11l-16,13zM1296,5652l15-10l-15-11l-16,11zM1280,5660l16-8l-16-10l-15,12zM1264,5669l16-9l-15-6l-16,8z"/>
<path color="#471d00" d="M1249,5680l15-11l-15-7l-16,12zM1233,5690l16-10l-16-6l-15,6zM1217,5700l16-10l-15-10l-16,13zM1202,5710l15-10l-15-7l-16,8zM1186,5723l16-13l-16-9l-16,12zM1170,5731l16-8l-16-10l-15,9z"/>
<path color="#4b1f00" d="M1155,5736l15-5l-15-9l-16,6z"/>
<path color="#582700" d="M1139,5729l16,7l-16-8l-16-5z"/>
<path color="#fff484" d="M1092,5684l16-12l-16-6l-16,10z"/>
<path color="#fdea69" d="M1076,5706l16-22l-16-8l-15,24z"/>
<path color="#e4b02a" d="M1061,5739l15-33l-15-6l-16,31z"/>
<path color="#b46e0c" d="M1045,5770l16-31l-16-8l-16,29z"/>
<path color="#884702" d="M1029,5797l16-27l-16-10l-15,28z"/>
<path color="#6a3100" d="M1014,5825l15-28l-15-9l-16,26z"/>
<path color="#582700" d="M998,5843l16-18l-16-11l-16,19z"/>
<path color="#4f2200" d="M982,5859l16-16l-16-10l-15,21z"/>
<path color="#471d00" d="M967,5879l15-20l-15-5l-16,15z"/>
<path color="#421a00" d="M951,5898l16-19l-16-10l-16,15zM935,5909l16-11l-16-14l-15,15z"/>
<path color="#3e1800" d="M920,5922l15-13l-15-10l-16,13z"/>
<path color="#3a1600" d="M904,5937l16-15l-16-10l-16,10z"/>
<path color="#3e1800" d="M888,5941l16-4l-16-15l-15,10z"/>
<path color="#421a00" d="M873,5943l15-2l-15-9l-16,5z"/>
<path color="#f1c93c" d="M810,5903l16-14l-16-10l-16,11z"/>
<path color="#e4b02a" d="M794,5928l16-25l-16-13l-15,20z"/>
<path color="#c07c12" d="M779,5959l15-31l-15-18l-16,27z"/>
<path color="#965104" d="M763,5987l16-28l-16-22l-16,24z"/>
<path color="#773900" d="M747,6012l16-25l-16-26l-15,27z"/>
<path color="#612c00" d="M732,6034l15-22l-15-24l-16,26z"/>
<path color="#4f2200" d="M716,6056l16-22l-16-20l-16,26z"/>
<path color="#471d00" d="M700,6074l16-18l-16-16l-15,14z"/>
<path color="#421a00" d="M684,6086l16-12l-15-20l-16,18zM1781,5332l16-9l-15-12l-16,10zM1766,5340l15-8l-15-11l-16,8z"/>
<path color="#471d00" d="M1750,5346l16-6l-16-11l-16,9zM1734,5363l16-17l-16-8l-15,16z"/>
<path color="#421a00" d="M1719,5374l15-11l-15-9l-16,9zM1703,5385l16-11l-16-11l-16,14zM1687,5399l16-14l-16-8l-15,14z"/>
<path color="#3e1800" d="M1672,5413l15-14l-15-8l-16,10zM1656,5423l16-10l-16-12l-16,11z"/>
<path color="#421a00" d="M1640,5431l16-8l-16-11l-15,8z"/>
<path color="#471d00" d="M1625,5430l15,1l-15-11l-16,4z"/>
<path color="#fce660" d="M1562,5385l16-8l-16-11l-16,2z"/>
<path color="#f4cf43" d="M1546,5417l16-32l-16-17l-15,24z"/>
<path color="#c07c12" d="M1531,5456l15-39l-15-25l-16,42z"/>
<path color="#804001" d="M1515,5492l16-36l-16-22l-16,36z"/>
<path color="#5d2900" d="M1499,5518l16-26l-16-22l-15,31z"/>
<path color="#4b1f00" d="M1484,5538l15-20l-15-17l-16,26z"/>
<path color="#421a00" d="M1468,5554l16-16l-16-11l-16,12zM1452,5565l16-11l-16-15l-15,17zM1437,5574l15-9l-15-9l-16,6zM1421,5584l16-10l-16-12l-16,10z"/>
<path color="#471d00" d="M1405,5594l16-10l-16-12l-15,8zM1390,5602l15-8l-15-14l-16,11zM1374,5611l16-9l-16-11l-16,9zM1358,5624l16-13l-16-11l-15,16zM1343,5640l15-16l-15-8l-16,13z"/>
<path color="#421a00" d="M1327,5653l16-13l-16-11l-16,13zM1311,5664l16-11l-16-11l-15,10zM1296,5670l15-6l-15-12l-16,8z"/>
<path color="#471d00" d="M1280,5682l16-12l-16-10l-16,9zM1264,5689l16-7l-16-13l-15,11zM1248,5698l16-9l-15-9l-16,10zM1233,5710l15-12l-15-8l-16,10zM1217,5725l16-15l-16-10l-15,10zM1201,5736l16-11l-15-15l-16,13zM1186,5744l15-8l-15-13l-16,8z"/>
<path color="#4b1f00" d="M1170,5748l16-4l-16-13l-15,5z"/>
<path color="#fff484" d="M1107,5689l16-13l-15-4l-16,12z"/>
<path color="#feed72" d="M1092,5716l15-27l-15-5l-16,22z"/>
<path color="#ecbc30" d="M1076,5747l16-31l-16-10l-15,33z"/>
<path color="#b8730e" d="M1060,5781l16-34l-15-8l-16,31z"/>
<path color="#884702" d="M1045,5809l15-28l-15-11l-16,27z"/>
<path color="#6a3100" d="M1029,5836l16-27l-16-12l-15,28z"/>
<path color="#582700" d="M1013,5856l16-20l-15-11l-16,18z"/>
<path color="#4f2200" d="M998,5875l15-19l-15-13l-16,16z"/>
<path color="#471d00" d="M982,5891l16-16l-16-16l-15,20z"/>
<path color="#421a00" d="M966,5907l16-16l-15-12l-16,19zM951,5921l15-14l-15-9l-16,11z"/>
<path color="#3e1800" d="M935,5935l16-14l-16-12l-15,13z"/>
<path color="#3a1600" d="M919,5945l16-10l-15-13l-16,15z"/>
<path color="#3e1800" d="M904,5953l15-8l-15-8l-16,4z"/>
<path color="#471d00" d="M888,5950l16,3l-16-12l-15,2z"/>
<path color="#f1c93c" d="M825,5916l16-18l-15-9l-16,14z"/>
<path color="#d89d20" d="M810,5944l15-28l-15-13l-16,25z"/>
<path color="#b0690a" d="M794,5974l16-30l-16-16l-15,31z"/>
<path color="#844302" d="M778,6002l16-28l-15-15l-16,28z"/>
<path color="#652e00" d="M763,6029l15-27l-15-15l-16,25z"/>
<path color="#542400" d="M747,6051l16-22l-16-17l-15,22z"/>
<path color="#4b1f00" d="M731,6067l16-16l-15-17l-16,22z"/>
<path color="#421a00" d="M716,6089l15-22l-15-11l-16,18z"/>
<path color="#3e1800" d="M700,6101l16-12l-16-15l-16,12z"/>
<path color="#421a00" d="M1797,5343l15-10l-15-10l-16,9zM1781,5352l16-9l-16-11l-15,8z"/>
<path color="#471d00" d="M1765,5362l16-10l-15-12l-16,6zM1750,5370l15-8l-15-16l-16,17zM1734,5382l16-12l-16-7l-15,11z"/>
<path color="#421a00" d="M1718,5396l16-14l-15-8l-16,11zM1703,5405l15-9l-15-11l-16,14zM1687,5415l16-10l-16-6l-15,14zM1671,5426l16-11l-15-2l-16,10zM1656,5430l15-4l-15-3l-16,8z"/>
<path color="#f9db50" d="M1577,5405l16-22l-15-6l-16,8z"/>
<path color="#dca324" d="M1562,5441l15-36l-15-20l-16,32z"/>
<path color="#9e5805" d="M1546,5478l16-37l-16-24l-15,39z"/>
<path color="#6e3300" d="M1530,5511l16-33l-15-22l-16,36z"/>
<path color="#4f2200" d="M1515,5536l15-25l-15-19l-16,26z"/>
<path color="#471d00" d="M1499,5555l16-19l-16-18l-15,20z"/>
<path color="#421a00" d="M1483,5567l16-12l-15-17l-16,16z"/>
<path color="#3e1800" d="M1468,5577l15-10l-15-13l-16,11z"/>
<path color="#421a00" d="M1452,5582l16-5l-16-12l-15,9zM1436,5593l16-11l-15-8l-16,10z"/>
<path color="#471d00" d="M1421,5603l15-10l-15-9l-16,10zM1405,5612l16-9l-16-9l-15,8zM1389,5623l16-11l-15-10l-16,9zM1374,5634l15-11l-15-12l-16,13zM1358,5649l16-15l-16-10l-15,16z"/>
<path color="#421a00" d="M1342,5662l16-13l-15-9l-16,13zM1327,5675l15-13l-15-9l-16,11zM1311,5683l16-8l-16-11l-15,6z"/>
<path color="#471d00" d="M1295,5693l16-10l-15-13l-16,12zM1280,5699l15-6l-15-11l-16,7zM1264,5712l16-13l-16-10l-16,9zM1248,5719l16-7l-16-14l-15,12zM1233,5733l15-14l-15-9l-16,15zM1217,5747l16-14l-16-8l-16,11zM1201,5754l16-7l-16-11l-15,8z"/>
<path color="#4b1f00" d="M1186,5760l15-6l-15-10l-16,4z"/>
<path color="#fff484" d="M1123,5704l16-16l-16-12l-16,13z"/>
<path color="#feed72" d="M1107,5728l16-24l-16-15l-15,27z"/>
<path color="#ecbc30" d="M1092,5763l15-35l-15-12l-16,31z"/>
<path color="#b46e0c" d="M1076,5796l16-33l-16-16l-16,34z"/>
<path color="#844302" d="M1060,5823l16-27l-16-15l-15,28z"/>
<path color="#652e00" d="M1045,5849l15-26l-15-14l-16,27z"/>
<path color="#582700" d="M1029,5866l16-17l-16-13l-16,20z"/>
<path color="#4b1f00" d="M1013,5886l16-20l-16-10l-15,19z"/>
<path color="#471d00" d="M998,5903l15-17l-15-11l-16,16z"/>
<path color="#421a00" d="M982,5917l16-14l-16-12l-16,16zM966,5929l16-12l-16-10l-15,14z"/>
<path color="#3e1800" d="M951,5941l15-12l-15-8l-16,14zM935,5956l16-15l-16-6l-16,10zM919,5961l16-5l-16-11l-15,8z"/>
<path color="#471d00" d="M904,5961l15,0l-15-8l-16-3z"/>
<path color="#e4b02a" d="M857,5909l15,8l-15-9l-16-10z"/>
<path color="#f1c93c" d="M841,5929l16-20l-16-11l-16,18z"/>
<path color="#d1901a" d="M825,5956l16-27l-16-13l-15,28z"/>
<path color="#a75f07" d="M810,5985l15-29l-15-12l-16,30z"/>
<path color="#7b3c01" d="M794,6017l16-32l-16-11l-16,28z"/>
<path color="#612c00" d="M778,6042l16-25l-16-15l-15,27z"/>
<path color="#4f2200" d="M763,6068l15-26l-15-13l-16,22z"/>
<path color="#471d00" d="M747,6082l16-14l-16-17l-16,16z"/>
<path color="#3e1800" d="M731,6099l16-17l-16-15l-15,22z"/>
<path color="#3a1600" d="M716,6111l15-12l-15-10l-16,12z"/>
<path color="#421a00" d="M1812,5351l16-9l-16-9l-15,10zM1797,5355l15-4l-15-8l-16,9z"/>
<path color="#471d00" d="M1781,5367l16-12l-16-3l-16,10zM1765,5371l16-4l-16-5l-15,8z"/>
<path color="#4b1f00" d="M1750,5382l15-11l-15-1l-16,12zM1734,5394l16-12l-16,0l-16,14zM1718,5399l16-5l-16,2l-15,9z"/>
<path color="#4f2200" d="M1703,5406l15-7l-15,6l-16,10z"/>
<path color="#efc235" d="M1609,5402l15-7l-15-4l-16-8zM1593,5429l16-27l-16-19l-16,22z"/>
<path color="#bc7710" d="M1577,5467l16-38l-16-24l-15,36z"/>
<path color="#804001" d="M1562,5506l15-39l-15-26l-16,37z"/>
<path color="#582700" d="M1546,5532l16-26l-16-28l-16,33z"/>
<path color="#4b1f00" d="M1530,5551l16-19l-16-21l-15,25z"/>
<path color="#421a00" d="M1515,5566l15-15l-15-15l-16,19z"/>
<path color="#3e1800" d="M1499,5579l16-13l-16-11l-16,12zM1483,5589l16-10l-16-12l-15,10z"/>
<path color="#421a00" d="M1468,5596l15-7l-15-12l-16,5z"/>
<path color="#471d00" d="M1452,5603l16-7l-16-14l-16,11zM1436,5612l16-9l-16-10l-15,10zM1421,5623l15-11l-15-9l-16,9zM1405,5634l16-11l-16-11l-16,11zM1389,5647l16-13l-16-11l-15,11zM1374,5662l15-15l-15-13l-16,15z"/>
<path color="#421a00" d="M1358,5675l16-13l-16-13l-16,13zM1342,5684l16-9l-16-13l-15,13zM1327,5693l15-9l-15-9l-16,8z"/>
<path color="#471d00" d="M1311,5701l16-8l-16-10l-16,10zM1295,5712l16-11l-16-8l-15,6zM1280,5721l15-9l-15-13l-16,13zM1264,5732l16-11l-16-9l-16,7zM1248,5744l16-12l-16-13l-15,14zM1232,5758l16-14l-15-11l-16,14zM1217,5770l15-12l-15-11l-16,7zM1201,5775l16-5l-16-16l-15,6z"/>
<path color="#fff484" d="M1138,5717l16-12l-15-17l-16,16z"/>
<path color="#fdea69" d="M1123,5743l15-26l-15-13l-16,24z"/>
<path color="#e4b02a" d="M1107,5772l16-29l-16-15l-15,35z"/>
<path color="#b0690a" d="M1091,5808l16-36l-15-9l-16,33z"/>
<path color="#804001" d="M1076,5835l15-27l-15-12l-16,27z"/>
<path color="#652e00" d="M1060,5861l16-26l-16-12l-15,26z"/>
<path color="#542400" d="M1044,5881l16-20l-15-12l-16,17z"/>
<path color="#4b1f00" d="M1029,5897l15-16l-15-15l-16,20z"/>
<path color="#471d00" d="M1013,5912l16-15l-16-11l-15,17zM997,5927l16-15l-15-9l-16,14z"/>
<path color="#421a00" d="M982,5941l15-14l-15-10l-16,12zM966,5952l16-11l-16-12l-15,12zM950,5961l16-9l-15-11l-16,15zM935,5973l15-12l-15-5l-16,5z"/>
<path color="#4b1f00" d="M919,5965l16,8l-16-12l-15,0z"/>
<path color="#e4b02a" d="M872,5922l16,0l-16-5l-15-8z"/>
<path color="#ecbc30" d="M856,5942l16-20l-15-13l-16,20z"/>
<path color="#cd8b17" d="M841,5971l15-29l-15-13l-16,27z"/>
<path color="#a35c06" d="M825,6001l16-30l-16-15l-15,29z"/>
<path color="#773900" d="M809,6031l16-30l-15-16l-16,32z"/>
<path color="#5d2900" d="M794,6054l15-23l-15-14l-16,25z"/>
<path color="#4b1f00" d="M778,6076l16-22l-16-12l-15,26z"/>
<path color="#471d00" d="M762,6093l16-17l-15-8l-16,14z"/>
<path color="#421a00" d="M747,6109l15-16l-15-11l-16,17z"/>
<path color="#3a1600" d="M731,6125l16-16l-16-10l-15,12z"/>
<path color="#471d00" d="M1828,5354l16-7l-16-5l-16,9z"/>
<path color="#4b1f00" d="M1812,5357l16-3l-16-3l-15,4z"/>
<path color="#4f2200" d="M1796,5361l16-4l-15-2l-16,12z"/>
<path color="#efc235" d="M1624,5416l16-13l-16-8l-15,7z"/>
<path color="#d89d20" d="M1608,5448l16-32l-15-14l-16,27z"/>
<path color="#9e5805" d="M1593,5490l15-42l-15-19l-16,38z"/>
<path color="#6a3100" d="M1577,5523l16-33l-16-23l-15,39z"/>
<path color="#4f2200" d="M1561,5549l16-26l-15-17l-16,26z"/>
<path color="#421a00" d="M1546,5567l15-18l-15-17l-16,19z"/>
<path color="#3e1800" d="M1530,5579l16-12l-16-16l-15,15z"/>
<path color="#3a1600" d="M1514,5591l16-12l-15-13l-16,13z"/>
<path color="#3e1800" d="M1499,5599l15-8l-15-12l-16,10z"/>
<path color="#421a00" d="M1483,5607l16-8l-16-10l-15,7zM1467,5614l16-7l-15-11l-16,7z"/>
<path color="#471d00" d="M1452,5624l15-10l-15-11l-16,9zM1436,5635l16-11l-16-12l-15,11zM1420,5647l16-12l-15-12l-16,11zM1405,5662l15-15l-15-13l-16,13z"/>
<path color="#421a00" d="M1389,5674l16-12l-16-15l-15,15zM1373,5685l16-11l-15-12l-16,13zM1358,5696l15-11l-15-10l-16,9zM1342,5704l16-8l-16-12l-15,9z"/>
<path color="#471d00" d="M1326,5716l16-12l-15-11l-16,8zM1311,5722l15-6l-15-15l-16,11zM1295,5733l16-11l-16-10l-15,9zM1279,5746l16-13l-15-12l-16,11zM1264,5759l15-13l-15-14l-16,12zM1248,5771l16-12l-16-15l-16,14zM1232,5781l16-10l-16-13l-15,12zM1217,5784l15-3l-15-11l-16,5z"/>
<path color="#fff484" d="M1154,5730l16-15l-16-10l-16,12z"/>
<path color="#fdea69" d="M1138,5754l16-24l-16-13l-15,26z"/>
<path color="#e0a927" d="M1123,5788l15-34l-15-11l-16,29z"/>
<path color="#ab6408" d="M1107,5819l16-31l-16-16l-16,36z"/>
<path color="#804001" d="M1091,5849l16-30l-16-11l-15,27z"/>
<path color="#612c00" d="M1076,5871l15-22l-15-14l-16,26z"/>
<path color="#542400" d="M1060,5891l16-20l-16-10l-16,20z"/>
<path color="#4b1f00" d="M1044,5909l16-18l-16-10l-15,16z"/>
<path color="#471d00" d="M1029,5924l15-15l-15-12l-16,15zM1013,5934l16-10l-16-12l-16,15z"/>
<path color="#421a00" d="M997,5949l16-15l-16-7l-15,14zM982,5962l15-13l-15-8l-16,11zM966,5972l16-10l-16-10l-16,9zM950,5978l16-6l-16-11l-15,12z"/>
<path color="#4b1f00" d="M935,5977l15,1l-15-5l-16-8z"/>
<path color="#e8b62d" d="M888,5936l15-7l-15-7l-16,0zM872,5955l16-19l-16-14l-16,20z"/>
<path color="#c48114" d="M856,5987l16-32l-16-13l-15,29z"/>
<path color="#965104" d="M841,6016l15-29l-15-16l-16,30z"/>
<path color="#723600" d="M825,6042l16-26l-16-15l-16,30z"/>
<path color="#582700" d="M809,6069l16-27l-16-11l-15,23z"/>
<path color="#4b1f00" d="M794,6086l15-17l-15-15l-16,22z"/>
<path color="#471d00" d="M778,6106l16-20l-16-10l-16,17z"/>
<path color="#3e1800" d="M762,6122l16-16l-16-13l-15,16z"/>
<path color="#3a1600" d="M746,6135l16-13l-15-13l-16,16z"/>
<path color="#4f2200" d="M1843,5349l16-1l-15-1l-16,7z"/>
<path color="#f4cf43" d="M1655,5412l16-19l-16,3l-15,7z"/>
<path color="#ecbc30" d="M1640,5434l15-22l-15-9l-16,13z"/>
<path color="#c48114" d="M1624,5472l16-38l-16-18l-16,32z"/>
<path color="#884702" d="M1608,5511l16-39l-16-24l-15,42z"/>
<path color="#5d2900" d="M1593,5542l15-31l-15-21l-16,33z"/>
<path color="#471d00" d="M1577,5566l16-24l-16-19l-16,26z"/>
<path color="#3e1800" d="M1561,5579l16-13l-16-17l-15,18z"/>
<path color="#3a1600" d="M1546,5589l15-10l-15-12l-16,12zM1530,5600l16-11l-16-10l-16,12z"/>
<path color="#3e1800" d="M1514,5608l16-8l-16-9l-15,8z"/>
<path color="#421a00" d="M1499,5614l15-6l-15-9l-16,8z"/>
<path color="#471d00" d="M1483,5624l16-10l-16-7l-16,7zM1467,5635l16-11l-16-10l-15,10zM1452,5650l15-15l-15-11l-16,11zM1436,5660l16-10l-16-15l-16,12z"/>
<path color="#421a00" d="M1420,5674l16-14l-16-13l-15,15zM1405,5684l15-10l-15-12l-16,12zM1389,5694l16-10l-16-10l-16,11zM1373,5704l16-10l-16-9l-15,11zM1358,5716l15-12l-15-8l-16,8zM1342,5724l16-8l-16-12l-16,12z"/>
<path color="#471d00" d="M1326,5736l16-12l-16-8l-15,6zM1310,5750l16-14l-15-14l-16,11zM1295,5757l15-7l-15-17l-16,13zM1279,5774l16-17l-16-11l-15,13z"/>
<path color="#421a00" d="M1263,5783l16-9l-15-15l-16,12zM1248,5794l15-11l-15-12l-16,10z"/>
<path color="#fff484" d="M1169,5741l16-16l-15-10l-16,15z"/>
<path color="#fce660" d="M1154,5769l15-28l-15-11l-16,24z"/>
<path color="#d89d20" d="M1138,5802l16-33l-16-15l-15,34z"/>
<path color="#a35c06" d="M1122,5832l16-30l-15-14l-16,31z"/>
<path color="#7b3c01" d="M1107,5862l15-30l-15-13l-16,30z"/>
<path color="#612c00" d="M1091,5884l16-22l-16-13l-15,22z"/>
<path color="#542400" d="M1075,5903l16-19l-15-13l-16,20z"/>
<path color="#4b1f00" d="M1060,5918l15-15l-15-12l-16,18z"/>
<path color="#471d00" d="M1044,5931l16-13l-16-9l-15,15zM1028,5947l16-16l-15-7l-16,10zM1013,5958l15-11l-15-13l-16,15z"/>
<path color="#421a00" d="M997,5972l16-14l-16-9l-15,13zM981,5983l16-11l-15-10l-16,10zM966,5991l15-8l-15-11l-16,6z"/>
<path color="#4b1f00" d="M950,5987l16,4l-16-13l-15-1z"/>
<path color="#e4b02a" d="M903,5950l16-9l-16-12l-15,7z"/>
<path color="#dca324" d="M887,5975l16-25l-15-14l-16,19z"/>
<path color="#b8730e" d="M872,6003l15-28l-15-20l-16,32z"/>
<path color="#8d4a03" d="M856,6032l16-29l-16-16l-15,29z"/>
<path color="#6a3100" d="M840,6062l16-30l-15-16l-16,26z"/>
<path color="#542400" d="M825,6082l15-20l-15-20l-16,27z"/>
<path color="#4b1f00" d="M809,6102l16-20l-16-13l-15,17z"/>
<path color="#471d00" d="M793,6118l16-16l-15-16l-16,20z"/>
<path color="#421a00" d="M778,6129l15-11l-15-12l-16,16z"/>
<path color="#3e1800" d="M762,6141l16-12l-16-7l-16,13z"/>
<path color="#652e00" d="M1859,5332l16,16l-16,0l-16,1z"/>
<path color="#fff484" d="M1733,5356l16-14l-15,7l-16,6zM1718,5377l15-21l-15-1l-16,14z"/>
<path color="#fef17b" d="M1702,5398l16-21l-16-8l-15,8z"/>
<path color="#fbe257" d="M1686,5420l16-22l-15-21l-16,16z"/>
<path color="#ecbc30" d="M1671,5439l15-19l-15-27l-16,19z"/>
<path color="#d1901a" d="M1655,5468l16-29l-16-27l-15,22z"/>
<path color="#a35c06" d="M1639,5496l16-28l-15-34l-16,38z"/>
<path color="#723600" d="M1624,5531l15-35l-15-24l-16,39z"/>
<path color="#4f2200" d="M1608,5557l16-26l-16-20l-15,31z"/>
<path color="#421a00" d="M1592,5575l16-18l-15-15l-16,24z"/>
<path color="#3e1800" d="M1577,5592l15-17l-15-9l-16,13z"/>
<path color="#3a1600" d="M1561,5600l16-8l-16-13l-15,10zM1545,5612l16-12l-15-11l-16,11z"/>
<path color="#3e1800" d="M1530,5620l15-8l-15-12l-16,8z"/>
<path color="#421a00" d="M1514,5628l16-8l-16-12l-15,6z"/>
<path color="#471d00" d="M1498,5638l16-10l-15-14l-16,10zM1483,5647l15-9l-15-14l-16,11zM1467,5662l16-15l-16-12l-15,15z"/>
<path color="#421a00" d="M1451,5673l16-11l-15-12l-16,10zM1436,5685l15-12l-15-13l-16,14zM1420,5697l16-12l-16-11l-15,10zM1404,5707l16-10l-15-13l-16,10zM1389,5715l15-8l-15-13l-16,10zM1373,5729l16-14l-16-11l-15,12zM1357,5739l16-10l-15-13l-16,8z"/>
<path color="#471d00" d="M1342,5749l15-10l-15-15l-16,12z"/>
<path color="#421a00" d="M1326,5759l16-10l-16-13l-16,14z"/>
<path color="#471d00" d="M1310,5770l16-11l-16-9l-15,7z"/>
<path color="#421a00" d="M1295,5784l15-14l-15-13l-16,17zM1279,5797l16-13l-16-10l-16,9z"/>
<path color="#471d00" d="M1263,5792l16,5l-16-14l-15,11z"/>
<path color="#4f2200" d="M1248,5799l15-7l-15,2l-16-19z"/>
<path color="#6e3300" d="M1232,5781l16,18l-16-24l-16-1z"/>
<path color="#fff484" d="M1185,5755l16-18l-16-12l-16,16z"/>
<path color="#f9db50" d="M1169,5784l16-29l-16-14l-15,28z"/>
<path color="#d1901a" d="M1154,5813l15-29l-15-15l-16,33z"/>
<path color="#9e5805" d="M1138,5846l16-33l-16-11l-16,30z"/>
<path color="#773900" d="M1122,5871l16-25l-16-14l-15,30z"/>
<path color="#5d2900" d="M1107,5897l15-26l-15-9l-16,22z"/>
<path color="#4f2200" d="M1091,5911l16-14l-16-13l-16,19z"/>
<path color="#4b1f00" d="M1075,5931l16-20l-16-8l-15,15z"/>
<path color="#471d00" d="M1060,5944l15-13l-15-13l-16,13zM1044,5959l16-15l-16-13l-16,16z"/>
<path color="#421a00" d="M1028,5973l16-14l-16-12l-15,11zM1013,5986l15-13l-15-15l-16,14zM997,5996l16-10l-16-14l-16,11zM981,6005l16-9l-16-13l-15,8z"/>
<path color="#4b1f00" d="M966,5999l15,6l-15-14l-16-4z"/>
<path color="#d89d20" d="M919,5967l15-8l-15-18l-16,9z"/>
<path color="#cd8b17" d="M903,5992l16-25l-16-17l-16,25z"/>
<path color="#a75f07" d="M887,6022l16-30l-16-17l-15,28z"/>
<path color="#804001" d="M872,6047l15-25l-15-19l-16,29z"/>
<path color="#612c00" d="M856,6073l16-26l-16-15l-16,30z"/>
<path color="#4f2200" d="M840,6097l16-24l-16-11l-15,20z"/>
<path color="#471d00" d="M825,6114l15-17l-15-15l-16,20z"/>
<path color="#421a00" d="M809,6124l16-10l-16-12l-16,16zM793,6138l16-14l-16-6l-15,11zM778,6152l15-14l-15-9l-16,12z"/>
<path color="#844302" d="M1874,5324l16,28l-15-4l-16-16z"/>
<path color="#fff484" d="M1796,5322l16-19l-16,8l-16,7zM1780,5341l16-19l-16-4l-15,9zM1765,5362l15-21l-15-14l-16,15z"/>
<path color="#fef17b" d="M1749,5387l16-25l-16-20l-16,14z"/>
<path color="#fbe257" d="M1733,5413l16-26l-16-31l-15,21z"/>
<path color="#ecbc30" d="M1718,5436l15-23l-15-36l-16,21z"/>
<path color="#d1901a" d="M1702,5459l16-23l-16-38l-16,22z"/>
<path color="#b46e0c" d="M1686,5483l16-24l-16-39l-15,19z"/>
<path color="#965104" d="M1671,5505l15-22l-15-44l-16,29z"/>
<path color="#773900" d="M1655,5527l16-22l-16-37l-16,28z"/>
<path color="#5d2900" d="M1639,5550l16-23l-16-31l-15,35z"/>
<path color="#4b1f00" d="M1624,5573l15-23l-15-19l-16,26z"/>
<path color="#421a00" d="M1608,5587l16-14l-16-16l-16,18z"/>
<path color="#3a1600" d="M1592,5602l16-15l-16-12l-15,17z"/>
<path color="#361500" d="M1577,5615l15-13l-15-10l-16,8z"/>
<path color="#3a1600" d="M1561,5622l16-7l-16-15l-16,12z"/>
<path color="#3e1800" d="M1545,5630l16-8l-16-10l-15,8z"/>
<path color="#421a00" d="M1530,5639l15-9l-15-10l-16,8zM1514,5652l16-13l-16-11l-16,10zM1498,5659l16-7l-16-14l-15,9zM1483,5673l15-14l-15-12l-16,15zM1467,5686l16-13l-16-11l-16,11zM1451,5699l16-13l-16-13l-15,12z"/>
<path color="#3e1800" d="M1436,5710l15-11l-15-14l-16,12zM1420,5722l16-12l-16-13l-16,10z"/>
<path color="#421a00" d="M1404,5731l16-9l-16-15l-15,8zM1389,5738l15-7l-15-16l-16,14zM1373,5748l16-10l-16-9l-16,10zM1357,5759l16-11l-16-9l-15,10zM1341,5774l16-15l-15-10l-16,10zM1326,5784l15-10l-15-15l-16,11zM1310,5796l16-12l-16-14l-15,14zM1294,5801l16-5l-15-12l-16,13z"/>
<path color="#471d00" d="M1279,5814l15-13l-15-4l-16-5z"/>
<path color="#4b1f00" d="M1263,5814l16,0l-16-22l-15,7z"/>
<path color="#fce660" d="M1216,5751l16,5l-16-10l-15-9z"/>
<path color="#fef17b" d="M1200,5770l16-19l-15-14l-16,18z"/>
<path color="#f4cf43" d="M1185,5797l15-27l-15-15l-16,29z"/>
<path color="#c98616" d="M1169,5830l16-33l-16-13l-15,29z"/>
<path color="#9a5505" d="M1153,5858l16-28l-15-17l-16,33z"/>
<path color="#773900" d="M1138,5885l15-27l-15-12l-16,25z"/>
<path color="#5d2900" d="M1122,5907l16-22l-16-14l-15,26z"/>
<path color="#4f2200" d="M1106,5925l16-18l-15-10l-16,14z"/>
<path color="#4b1f00" d="M1091,5940l15-15l-15-14l-16,20z"/>
<path color="#471d00" d="M1075,5957l16-17l-16-9l-15,13zM1059,5972l16-15l-15-13l-16,15z"/>
<path color="#421a00" d="M1044,5985l15-13l-15-13l-16,14zM1028,5997l16-12l-16-12l-15,13z"/>
<path color="#3e1800" d="M1012,6010l16-13l-15-11l-16,10zM997,6019l15-9l-15-14l-16,9z"/>
<path color="#4b1f00" d="M981,6010l16,9l-16-14l-15-6z"/>
<path color="#cd8b17" d="M934,5983l16-10l-16-14l-15,8z"/>
<path color="#c07c12" d="M918,6005l16-22l-15-16l-16,25z"/>
<path color="#9a5505" d="M903,6037l15-32l-15-13l-16,30z"/>
<path color="#723600" d="M887,6063l16-26l-16-15l-15,25z"/>
<path color="#5d2900" d="M871,6088l16-25l-15-16l-16,26z"/>
<path color="#4b1f00" d="M856,6110l15-22l-15-15l-16,24z"/>
<path color="#471d00" d="M840,6123l16-13l-16-13l-15,17z"/>
<path color="#421a00" d="M824,6138l16-15l-15-9l-16,10zM809,6150l15-12l-15-14l-16,14zM793,6161l16-11l-16-12l-15,14z"/>
<path color="#965104" d="M1890,5332l16,30l-16-10l-16-28z"/>
<path color="#fff484" d="M1843,5309l15-22l-15-2l-16,6zM1827,5332l16-23l-16-18l-15,12zM1811,5358l16-26l-15-29l-16,19z"/>
<path color="#fdea69" d="M1796,5381l15-23l-15-36l-16,19z"/>
<path color="#f6d549" d="M1780,5407l16-26l-16-40l-15,21z"/>
<path color="#e4b02a" d="M1764,5431l16-24l-15-45l-16,25z"/>
<path color="#c48114" d="M1749,5457l15-26l-15-44l-16,26z"/>
<path color="#a35c06" d="M1733,5481l16-24l-16-44l-15,23z"/>
<path color="#884702" d="M1717,5503l16-22l-15-45l-16,23z"/>
<path color="#723600" d="M1702,5521l15-18l-15-44l-16,24z"/>
<path color="#612c00" d="M1686,5539l16-18l-16-38l-15,22z"/>
<path color="#542400" d="M1670,5553l16-14l-15-34l-16,22z"/>
<path color="#4b1f00" d="M1655,5570l15-17l-15-26l-16,23z"/>
<path color="#471d00" d="M1639,5585l16-15l-16-20l-15,23z"/>
<path color="#421a00" d="M1623,5601l16-16l-15-12l-16,14z"/>
<path color="#3a1600" d="M1608,5613l15-12l-15-14l-16,15z"/>
<path color="#361500" d="M1592,5627l16-14l-16-11l-15,13zM1576,5635l16-8l-15-12l-16,7z"/>
<path color="#3e1800" d="M1561,5645l15-10l-15-13l-16,8zM1545,5653l16-8l-16-15l-15,9z"/>
<path color="#421a00" d="M1529,5665l16-12l-15-14l-16,13zM1514,5675l15-10l-15-13l-16,7zM1498,5686l16-11l-16-16l-15,14z"/>
<path color="#3e1800" d="M1482,5700l16-14l-15-13l-16,13zM1467,5709l15-9l-15-14l-16,13zM1451,5723l16-14l-16-10l-15,11z"/>
<path color="#3a1600" d="M1435,5733l16-10l-15-13l-16,12z"/>
<path color="#3e1800" d="M1420,5743l15-10l-15-11l-16,9z"/>
<path color="#421a00" d="M1404,5750l16-7l-16-12l-15,7zM1388,5761l16-11l-15-12l-16,10zM1373,5773l15-12l-15-13l-16,11zM1357,5784l16-11l-16-14l-16,15zM1341,5796l16-12l-16-10l-15,10zM1326,5805l15-9l-15-12l-16,12zM1310,5815l16-10l-16-9l-16,5z"/>
<path color="#471d00" d="M1294,5825l16-10l-16-14l-15,13zM1279,5825l15,0l-15-11l-16,0z"/>
<path color="#fbe257" d="M1232,5767l15,2l-15-13l-16-5z"/>
<path color="#fdea69" d="M1216,5789l16-22l-16-16l-16,19z"/>
<path color="#ecbc30" d="M1200,5815l16-26l-16-19l-15,27z"/>
<path color="#bc7710" d="M1185,5844l15-29l-15-18l-16,33z"/>
<path color="#914e03" d="M1169,5871l16-27l-16-14l-16,28z"/>
<path color="#723600" d="M1153,5896l16-25l-16-13l-15,27z"/>
<path color="#5d2900" d="M1138,5918l15-22l-15-11l-16,22z"/>
<path color="#4f2200" d="M1122,5937l16-19l-16-11l-16,18z"/>
<path color="#4b1f00" d="M1106,5953l16-16l-16-12l-15,15z"/>
<path color="#471d00" d="M1091,5969l15-16l-15-13l-16,17z"/>
<path color="#421a00" d="M1075,5984l16-15l-16-12l-16,15zM1059,5998l16-14l-16-12l-15,13z"/>
<path color="#3e1800" d="M1044,6011l15-13l-15-13l-16,12z"/>
<path color="#3a1600" d="M1028,6023l16-12l-16-14l-16,13zM1012,6031l16-8l-16-13l-15,9z"/>
<path color="#a75f07" d="M965,5989l16,16l-16-23l-15-9z"/>
<path color="#c07c12" d="M950,6000l15-11l-15-16l-16,10z"/>
<path color="#b46e0c" d="M934,6024l16-24l-16-17l-16,22z"/>
<path color="#8d4a03" d="M918,6054l16-30l-16-19l-15,32z"/>
<path color="#6e3300" d="M903,6077l15-23l-15-17l-16,26z"/>
<path color="#582700" d="M887,6106l16-29l-16-14l-16,25z"/>
<path color="#4b1f00" d="M871,6124l16-18l-16-18l-15,22z"/>
<path color="#471d00" d="M856,6139l15-15l-15-14l-16,13z"/>
<path color="#421a00" d="M840,6149l16-10l-16-16l-16,15zM824,6158l16-9l-16-11l-15,12zM808,6174l16-16l-15-8l-16,11z"/>
<path color="#884702" d="M1905,5366l16,9l-15-13l-16-30z"/>
<path color="#fef17b" d="M1874,5326l16,3l-16-27l-16-15z"/>
<path color="#fff484" d="M1858,5350l16-24l-16-39l-15,22z"/>
<path color="#fce660" d="M1843,5377l15-27l-15-41l-16,23z"/>
<path color="#efc235" d="M1827,5405l16-28l-16-45l-16,26z"/>
<path color="#d1901a" d="M1811,5429l16-24l-16-47l-15,23z"/>
<path color="#b0690a" d="M1796,5455l15-26l-15-48l-16,26z"/>
<path color="#914e03" d="M1780,5482l16-27l-16-48l-16,24z"/>
<path color="#773900" d="M1764,5500l16-18l-16-51l-15,26z"/>
<path color="#612c00" d="M1749,5519l15-19l-15-43l-16,24z"/>
<path color="#582700" d="M1733,5532l16-13l-16-38l-16,22z"/>
<path color="#4f2200" d="M1717,5548l16-16l-16-29l-15,18z"/>
<path color="#4b1f00" d="M1702,5562l15-14l-15-27l-16,18z"/>
<path color="#471d00" d="M1686,5574l16-12l-16-23l-16,14zM1670,5585l16-11l-16-21l-15,17z"/>
<path color="#421a00" d="M1655,5597l15-12l-15-15l-16,15z"/>
<path color="#3e1800" d="M1639,5613l16-16l-16-12l-16,16z"/>
<path color="#3a1600" d="M1623,5623l16-10l-16-12l-15,12z"/>
<path color="#361500" d="M1608,5634l15-11l-15-10l-16,14zM1592,5645l16-11l-16-7l-16,8z"/>
<path color="#3a1600" d="M1576,5655l16-10l-16-10l-15,10z"/>
<path color="#3e1800" d="M1561,5665l15-10l-15-10l-16,8zM1545,5678l16-13l-16-12l-16,12zM1529,5688l16-10l-16-13l-15,10zM1514,5697l15-9l-15-13l-16,11zM1498,5709l16-12l-16-11l-16,14zM1482,5722l16-13l-16-9l-15,9z"/>
<path color="#3a1600" d="M1467,5733l15-11l-15-13l-16,14zM1451,5743l16-10l-16-10l-16,10zM1435,5755l16-12l-16-10l-15,10z"/>
<path color="#3e1800" d="M1420,5763l15-8l-15-12l-16,7z"/>
<path color="#421a00" d="M1404,5774l16-11l-16-13l-16,11zM1388,5782l16-8l-16-13l-15,12zM1372,5793l16-11l-15-9l-16,11zM1357,5807l15-14l-15-9l-16,12zM1341,5814l16-7l-16-11l-15,9zM1325,5826l16-12l-15-9l-16,10zM1310,5838l15-12l-15-11l-16,10z"/>
<path color="#4b1f00" d="M1294,5833l16,5l-16-13l-15,0z"/>
<path color="#f1c93c" d="M1247,5792l16-5l-16-18l-15-2zM1231,5810l16-18l-15-25l-16,22z"/>
<path color="#d5971d" d="M1216,5834l15-24l-15-21l-16,26z"/>
<path color="#b0690a" d="M1200,5860l16-26l-16-19l-15,29z"/>
<path color="#884702" d="M1184,5888l16-28l-15-16l-16,27z"/>
<path color="#6a3100" d="M1169,5913l15-25l-15-17l-16,25z"/>
<path color="#582700" d="M1153,5936l16-23l-16-17l-15,22z"/>
<path color="#4b1f00" d="M1137,5951l16-15l-15-18l-16,19z"/>
<path color="#471d00" d="M1122,5966l15-15l-15-14l-16,16zM1106,5983l16-17l-16-13l-15,16z"/>
<path color="#421a00" d="M1090,5998l16-15l-15-14l-16,15z"/>
<path color="#3e1800" d="M1075,6011l15-13l-15-14l-16,14z"/>
<path color="#3a1600" d="M1059,6024l16-13l-16-13l-15,13z"/>
<path color="#361500" d="M1043,6034l16-10l-15-13l-16,12z"/>
<path color="#3e1800" d="M1028,6029l15,5l-15-11l-16,8z"/>
<path color="#4b1f00" d="M1012,6034l16-5l-16,2l-15-20z"/>
<path color="#652e00" d="M996,6019l16,15l-15-23l-16-6z"/>
<path color="#b0690a" d="M965,6020l16-15l-16-16l-15,11z"/>
<path color="#9e5805" d="M949,6042l16-22l-15-20l-16,24z"/>
<path color="#804001" d="M934,6068l15-26l-15-18l-16,30z"/>
<path color="#652e00" d="M918,6093l16-25l-16-14l-15,23z"/>
<path color="#542400" d="M902,6117l16-24l-15-16l-16,29z"/>
<path color="#471d00" d="M887,6138l15-21l-15-11l-16,18z"/>
<path color="#421a00" d="M871,6154l16-16l-16-14l-15,15z"/>
<path color="#3e1800" d="M855,6164l16-10l-15-15l-16,10zM840,6176l15-12l-15-15l-16,9zM824,6190l16-14l-16-18l-16,16z"/>
<path color="#6e3300" d="M1921,5393l15,1l-15-19l-16-9z"/>
<path color="#a75f07" d="M1905,5382l16,11l-16-27l-15-37z"/>
<path color="#dca324" d="M1889,5382l16,0l-15-53l-16-3z"/>
<path color="#e0a927" d="M1874,5399l15-17l-15-56l-16,24z"/>
<path color="#c48114" d="M1858,5425l16-26l-16-49l-15,27z"/>
<path color="#9e5805" d="M1842,5449l16-24l-15-48l-16,28z"/>
<path color="#804001" d="M1827,5472l15-23l-15-44l-16,24z"/>
<path color="#6a3100" d="M1811,5493l16-21l-16-43l-15,26z"/>
<path color="#582700" d="M1795,5510l16-17l-15-38l-16,27z"/>
<path color="#4f2200" d="M1780,5524l15-14l-15-28l-16,18z"/>
<path color="#471d00" d="M1764,5542l16-18l-16-24l-15,19z"/>
<path color="#421a00" d="M1748,5553l16-11l-15-23l-16,13zM1733,5562l15-9l-15-21l-16,16zM1717,5575l16-13l-16-14l-15,14zM1701,5588l16-13l-15-13l-16,12zM1686,5597l15-9l-15-14l-16,11z"/>
<path color="#3e1800" d="M1670,5611l16-14l-16-12l-15,12z"/>
<path color="#3a1600" d="M1654,5622l16-11l-15-14l-16,16zM1639,5632l15-10l-15-9l-16,10zM1623,5647l16-15l-16-9l-15,11zM1607,5657l16-10l-15-13l-16,11zM1592,5669l15-12l-15-12l-16,10zM1576,5679l16-10l-16-14l-15,10zM1560,5694l16-15l-15-14l-16,13z"/>
<path color="#361500" d="M1545,5703l15-9l-15-16l-16,10z"/>
<path color="#3a1600" d="M1529,5711l16-8l-16-15l-15,9zM1513,5724l16-13l-15-14l-16,12zM1498,5734l15-10l-15-15l-16,13zM1482,5744l16-10l-16-12l-15,11zM1466,5757l16-13l-15-11l-16,10zM1451,5765l15-8l-15-14l-16,12z"/>
<path color="#3e1800" d="M1435,5777l16-12l-16-10l-15,8zM1419,5785l16-8l-15-14l-16,11z"/>
<path color="#421a00" d="M1404,5794l15-9l-15-11l-16,8zM1388,5803l16-9l-16-12l-16,11zM1372,5817l16-14l-16-10l-15,14zM1357,5828l15-11l-15-10l-16,7zM1341,5839l16-11l-16-14l-16,12zM1325,5848l16-9l-16-13l-15,12z"/>
<path color="#4b1f00" d="M1310,5847l15,1l-15-10l-16-5z"/>
<path color="#d89d20" d="M1263,5813l15-6l-15-20l-16,5z"/>
<path color="#d5971d" d="M1247,5831l16-18l-16-21l-16,18z"/>
<path color="#bc7710" d="M1231,5854l16-23l-16-21l-15,24z"/>
<path color="#9a5505" d="M1216,5883l15-29l-15-20l-16,26z"/>
<path color="#7b3c01" d="M1200,5905l16-22l-16-23l-16,28z"/>
<path color="#612c00" d="M1184,5928l16-23l-16-17l-15,25z"/>
<path color="#542400" d="M1169,5948l15-20l-15-15l-16,23z"/>
<path color="#4b1f00" d="M1153,5964l16-16l-16-12l-16,15z"/>
<path color="#471d00" d="M1137,5979l16-15l-16-13l-15,15z"/>
<path color="#421a00" d="M1122,5997l15-18l-15-13l-16,17z"/>
<path color="#3e1800" d="M1106,6011l16-14l-16-14l-16,15z"/>
<path color="#3a1600" d="M1090,6020l16-9l-16-13l-15,13zM1075,6030l15-10l-15-9l-16,13zM1059,6041l16-11l-16-6l-16,10z"/>
<path color="#421a00" d="M1043,6048l16-7l-16-7l-15-5z"/>
<path color="#471d00" d="M1028,6050l15-2l-15-19l-16,5z"/>
<path color="#5d2900" d="M1012,6037l16,13l-16-16l-16-15z"/>
<path color="#844302" d="M996,6030l16,7l-16-18l-15-14z"/>
<path color="#9a5505" d="M981,6041l15-11l-15-25l-16,15z"/>
<path color="#8d4a03" d="M965,6062l16-21l-16-21l-16,22z"/>
<path color="#723600" d="M949,6086l16-24l-16-20l-15,26z"/>
<path color="#5d2900" d="M934,6113l15-27l-15-18l-16,25z"/>
<path color="#4b1f00" d="M918,6134l16-21l-16-20l-16,24z"/>
<path color="#421a00" d="M902,6152l16-18l-16-17l-15,21z"/>
<path color="#3a1600" d="M887,6168l15-16l-15-14l-16,16z"/>
<path color="#361500" d="M871,6182l16-14l-16-14l-16,10zM855,6193l16-11l-16-18l-15,12z"/>
<path color="#321300" d="M839,6205l16-12l-15-17l-16,14z"/>
<path color="#582700" d="M1936,5427l16-12l-16-21l-15-1z"/>
<path color="#6a3100" d="M1921,5428l15-1l-15-34l-16-11z"/>
<path color="#844302" d="M1905,5429l16-1l-16-46l-16,0z"/>
<path color="#884702" d="M1889,5447l16-18l-16-47l-15,17z"/>
<path color="#773900" d="M1874,5464l15-17l-15-48l-16,26z"/>
<path color="#612c00" d="M1858,5483l16-19l-16-39l-16,24z"/>
<path color="#542400" d="M1842,5501l16-18l-16-34l-15,23z"/>
<path color="#4b1f00" d="M1827,5512l15-11l-15-29l-16,21z"/>
<path color="#471d00" d="M1811,5527l16-15l-16-19l-16,17zM1795,5537l16-10l-16-17l-15,14z"/>
<path color="#421a00" d="M1780,5550l15-13l-15-13l-16,18zM1764,5561l16-11l-16-8l-16,11zM1748,5575l16-14l-16-8l-15,9zM1733,5585l15-10l-15-13l-16,13z"/>
<path color="#3e1800" d="M1717,5600l16-15l-16-10l-16,13zM1701,5609l16-9l-16-12l-15,9z"/>
<path color="#3a1600" d="M1686,5623l15-14l-15-12l-16,14zM1670,5636l16-13l-16-12l-16,11zM1654,5644l16-8l-16-14l-15,10zM1639,5656l15-12l-15-12l-16,15z"/>
<path color="#361500" d="M1623,5670l16-14l-16-9l-16,10zM1607,5681l16-11l-16-13l-15,12z"/>
<path color="#321300" d="M1592,5695l15-14l-15-12l-16,10zM1576,5705l16-10l-16-16l-16,15zM1560,5714l16-9l-16-11l-15,9z"/>
<path color="#361500" d="M1545,5724l15-10l-15-11l-16,8zM1529,5735l16-11l-16-13l-16,13zM1513,5747l16-12l-16-11l-15,10z"/>
<path color="#3a1600" d="M1498,5755l15-8l-15-13l-16,10zM1482,5766l16-11l-16-11l-16,13zM1466,5779l16-13l-16-9l-15,8zM1451,5788l15-9l-15-14l-16,12z"/>
<path color="#3e1800" d="M1435,5797l16-9l-16-11l-16,8z"/>
<path color="#421a00" d="M1419,5807l16-10l-16-12l-15,9zM1404,5817l15-10l-15-13l-16,9zM1388,5827l16-10l-16-14l-16,14zM1372,5840l16-13l-16-10l-15,11zM1356,5851l16-11l-15-12l-16,11zM1341,5861l15-10l-15-12l-16,9z"/>
<path color="#471d00" d="M1325,5860l16,1l-16-13l-15-1z"/>
<path color="#612c00" d="M1309,5847l16,13l-15-13l-16-19z"/>
<path color="#965104" d="M1294,5831l15,16l-15-19l-16-21z"/>
<path color="#b8730e" d="M1278,5843l16-12l-16-24l-15,6z"/>
<path color="#b46e0c" d="M1262,5859l16-16l-15-30l-16,18z"/>
<path color="#9e5805" d="M1247,5883l15-24l-15-28l-16,23z"/>
<path color="#804001" d="M1231,5906l16-23l-16-29l-15,29z"/>
<path color="#652e00" d="M1215,5928l16-22l-15-23l-16,22z"/>
<path color="#582700" d="M1200,5945l15-17l-15-23l-16,23z"/>
<path color="#4f2200" d="M1184,5963l16-18l-16-17l-15,20z"/>
<path color="#471d00" d="M1168,5978l16-15l-15-15l-16,16zM1153,5992l15-14l-15-14l-16,15z"/>
<path color="#421a00" d="M1137,6006l16-14l-16-13l-15,18z"/>
<path color="#3e1800" d="M1121,6020l16-14l-15-9l-16,14z"/>
<path color="#3a1600" d="M1106,6032l15-12l-15-9l-16,9zM1090,6043l16-11l-16-12l-15,10z"/>
<path color="#3e1800" d="M1074,6051l16-8l-15-13l-16,11z"/>
<path color="#421a00" d="M1059,6062l15-11l-15-10l-16,7z"/>
<path color="#471d00" d="M1043,6062l16,0l-16-14l-15,2z"/>
<path color="#542400" d="M1027,6055l16,7l-15-12l-16-13z"/>
<path color="#723600" d="M1012,6054l15,1l-15-18l-16-7z"/>
<path color="#804001" d="M996,6064l16-10l-16-24l-15,11z"/>
<path color="#773900" d="M980,6079l16-15l-15-23l-16,21z"/>
<path color="#652e00" d="M965,6104l15-25l-15-17l-16,24z"/>
<path color="#542400" d="M949,6128l16-24l-16-18l-15,27z"/>
<path color="#471d00" d="M933,6148l16-20l-15-15l-16,21z"/>
<path color="#3e1800" d="M918,6168l15-20l-15-14l-16,18z"/>
<path color="#361500" d="M902,6181l16-13l-16-16l-15,16z"/>
<path color="#2f1200" d="M886,6198l16-17l-15-13l-16,14z"/>
<path color="#2b1000" d="M871,6209l15-11l-15-16l-16,11zM855,6217l16-8l-16-16l-16,12z"/>
<path color="#471d00" d="M1952,5447l16-4l-16-28l-16,12z"/>
<path color="#4b1f00" d="M1936,5458l16-11l-16-20l-15,1z"/>
<path color="#542400" d="M1920,5467l16-9l-15-30l-16,1zM1905,5475l15-8l-15-38l-16,18z"/>
<path color="#4f2200" d="M1889,5490l16-15l-16-28l-15,17z"/>
<path color="#4b1f00" d="M1873,5503l16-13l-15-26l-16,19z"/>
<path color="#471d00" d="M1858,5515l15-12l-15-20l-16,18zM1842,5529l16-14l-16-14l-15,11z"/>
<path color="#421a00" d="M1826,5539l16-10l-15-17l-16,15zM1811,5547l15-8l-15-12l-16,10z"/>
<path color="#471d00" d="M1795,5557l16-10l-16-10l-15,13z"/>
<path color="#421a00" d="M1779,5570l16-13l-15-7l-16,11zM1764,5582l15-12l-15-9l-16,14z"/>
<path color="#3e1800" d="M1748,5600l16-18l-16-7l-15,10z"/>
<path color="#3a1600" d="M1732,5611l16-11l-15-15l-16,15zM1717,5621l15-10l-15-11l-16,9zM1701,5634l16-13l-16-12l-15,14zM1685,5641l16-7l-15-11l-16,13zM1670,5656l15-15l-15-5l-16,8zM1654,5670l16-14l-16-12l-15,12z"/>
<path color="#361500" d="M1638,5682l16-12l-15-14l-16,14z"/>
<path color="#321300" d="M1623,5697l15-15l-15-12l-16,11z"/>
<path color="#2f1200" d="M1607,5711l16-14l-16-16l-15,14z"/>
<path color="#2b1000" d="M1591,5720l16-9l-15-16l-16,10z"/>
<path color="#2f1200" d="M1576,5729l15-9l-15-15l-16,9z"/>
<path color="#321300" d="M1560,5736l16-7l-16-15l-15,10z"/>
<path color="#361500" d="M1544,5746l16-10l-15-12l-16,11zM1529,5758l15-12l-15-11l-16,12zM1513,5765l16-7l-16-11l-15,8z"/>
<path color="#3a1600" d="M1497,5782l16-17l-15-10l-16,11z"/>
<path color="#361500" d="M1482,5790l15-8l-15-16l-16,13z"/>
<path color="#3a1600" d="M1466,5801l16-11l-16-11l-15,9z"/>
<path color="#3e1800" d="M1450,5807l16-6l-15-13l-16,9z"/>
<path color="#421a00" d="M1435,5818l15-11l-15-10l-16,10zM1419,5828l16-10l-16-11l-15,10zM1403,5836l16-8l-15-11l-16,10zM1388,5849l15-13l-15-9l-16,13zM1372,5862l16-13l-16-9l-16,11zM1356,5872l16-10l-16-11l-15,10z"/>
<path color="#471d00" d="M1341,5875l15-3l-15-11l-16-1z"/>
<path color="#582700" d="M1325,5864l16,11l-16-15l-16-13z"/>
<path color="#7b3c01" d="M1309,5857l16,7l-16-17l-15-16z"/>
<path color="#914e03" d="M1294,5869l15-12l-15-26l-16,12z"/>
<path color="#8d4a03" d="M1278,5885l16-16l-16-26l-16,16z"/>
<path color="#7b3c01" d="M1262,5904l16-19l-16-26l-15,24z"/>
<path color="#652e00" d="M1247,5929l15-25l-15-21l-16,23z"/>
<path color="#582700" d="M1231,5945l16-16l-16-23l-16,22z"/>
<path color="#4f2200" d="M1215,5961l16-16l-16-17l-15,17z"/>
<path color="#4b1f00" d="M1200,5977l15-16l-15-16l-16,18z"/>
<path color="#471d00" d="M1184,5989l16-12l-16-14l-16,15zM1168,6004l16-15l-16-11l-15,14z"/>
<path color="#421a00" d="M1153,6016l15-12l-15-12l-16,14zM1137,6029l16-13l-16-10l-16,14z"/>
<path color="#3e1800" d="M1121,6040l16-11l-16-9l-15,12zM1106,6050l15-10l-15-8l-16,11zM1090,6063l16-13l-16-7l-16,8z"/>
<path color="#421a00" d="M1074,6071l16-8l-16-12l-15,11z"/>
<path color="#471d00" d="M1059,6076l15-5l-15-9l-16,0z"/>
<path color="#4f2200" d="M1043,6070l16,6l-16-14l-16-7z"/>
<path color="#612c00" d="M1027,6074l16-4l-16-15l-15-1z"/>
<path color="#6a3100" d="M1012,6088l15-14l-15-20l-16,10z"/>
<path color="#652e00" d="M996,6103l16-15l-16-24l-16,15z"/>
<path color="#582700" d="M980,6122l16-19l-16-24l-15,25z"/>
<path color="#4b1f00" d="M965,6143l15-21l-15-18l-16,24z"/>
<path color="#421a00" d="M949,6166l16-23l-16-15l-16,20z"/>
<path color="#3a1600" d="M933,6181l16-15l-16-18l-15,20z"/>
<path color="#2f1200" d="M918,6198l15-17l-15-13l-16,13z"/>
<path color="#270f00" d="M902,6213l16-15l-16-17l-16,17z"/>
<path color="#230d00" d="M886,6225l16-12l-16-15l-15,11zM870,6236l16-11l-15-16l-16,8z"/>
<path color="#3a1600" d="M1967,5469l16-10l-15-16l-16,4z"/>
<path color="#3e1800" d="M1952,5479l15-10l-15-22l-16,11z"/>
<path color="#421a00" d="M1936,5487l16-8l-16-21l-16,9zM1920,5496l16-9l-16-20l-15,8z"/>
<path color="#471d00" d="M1905,5507l15-11l-15-21l-16,15z"/>
<path color="#421a00" d="M1889,5520l16-13l-16-17l-16,13zM1873,5530l16-10l-16-17l-15,12zM1858,5538l15-8l-15-15l-16,14zM1842,5547l16-9l-16-9l-16,10z"/>
<path color="#471d00" d="M1826,5556l16-9l-16-8l-15,8zM1811,5569l15-13l-15-9l-16,10zM1795,5580l16-11l-16-12l-16,13z"/>
<path color="#421a00" d="M1779,5593l16-13l-16-10l-15,12z"/>
<path color="#3e1800" d="M1764,5610l15-17l-15-11l-16,18z"/>
<path color="#3a1600" d="M1748,5623l16-13l-16-10l-16,11zM1732,5634l16-11l-16-12l-15,10zM1717,5646l15-12l-15-13l-16,13zM1701,5655l16-9l-16-12l-16,7z"/>
<path color="#3e1800" d="M1685,5666l16-11l-16-14l-15,15z"/>
<path color="#3a1600" d="M1670,5678l15-12l-15-10l-16,14z"/>
<path color="#321300" d="M1654,5694l16-16l-16-8l-16,12z"/>
<path color="#2f1200" d="M1638,5708l16-14l-16-12l-15,15z"/>
<path color="#270f00" d="M1623,5722l15-14l-15-11l-16,14zM1607,5730l16-8l-16-11l-16,9z"/>
<path color="#2b1000" d="M1591,5740l16-10l-16-10l-15,9z"/>
<path color="#321300" d="M1576,5743l15-3l-15-11l-16,7z"/>
<path color="#361500" d="M1560,5757l16-14l-16-7l-16,10zM1544,5769l16-12l-16-11l-15,12zM1529,5779l15-10l-15-11l-16,7zM1513,5790l16-11l-16-14l-16,17zM1497,5801l16-11l-16-8l-15,8zM1482,5810l15-9l-15-11l-16,11z"/>
<path color="#3e1800" d="M1466,5817l16-7l-16-9l-16,6z"/>
<path color="#421a00" d="M1450,5829l16-12l-16-10l-15,11zM1434,5837l16-8l-15-11l-16,10zM1419,5846l15-9l-15-9l-16,8zM1403,5858l16-12l-16-10l-15,13zM1387,5869l16-11l-15-9l-16,13zM1372,5882l15-13l-15-7l-16,10z"/>
<path color="#471d00" d="M1356,5883l16-1l-16-10l-15,3z"/>
<path color="#542400" d="M1340,5876l16,7l-15-8l-16-11z"/>
<path color="#6e3300" d="M1325,5874l15,2l-15-12l-16-7z"/>
<path color="#7b3c01" d="M1309,5885l16-11l-16-17l-15,12z"/>
<path color="#773900" d="M1293,5902l16-17l-15-16l-16,16z"/>
<path color="#6a3100" d="M1278,5920l15-18l-15-17l-16,19z"/>
<path color="#5d2900" d="M1262,5939l16-19l-16-16l-15,25z"/>
<path color="#4f2200" d="M1246,5959l16-20l-15-10l-16,16z"/>
<path color="#4b1f00" d="M1231,5975l15-16l-15-14l-16,16z"/>
<path color="#471d00" d="M1215,5988l16-13l-16-14l-15,16zM1199,6002l16-14l-15-11l-16,12z"/>
<path color="#421a00" d="M1184,6015l15-13l-15-13l-16,15zM1168,6026l16-11l-16-11l-15,12zM1152,6040l16-14l-15-10l-16,13zM1137,6049l15-9l-15-11l-16,11zM1121,6060l16-11l-16-9l-15,10zM1105,6072l16-12l-15-10l-16,13zM1090,6081l15-9l-15-9l-16,8z"/>
<path color="#471d00" d="M1074,6086l16-5l-16-10l-15,5z"/>
<path color="#4f2200" d="M1058,6086l16,0l-15-10l-16-6z"/>
<path color="#582700" d="M1043,6090l15-4l-15-16l-16,4z"/>
<path color="#5d2900" d="M1027,6099l16-9l-16-16l-15,14z"/>
<path color="#582700" d="M1011,6115l16-16l-15-11l-16,15z"/>
<path color="#542400" d="M996,6135l15-20l-15-12l-16,19z"/>
<path color="#471d00" d="M980,6157l16-22l-16-13l-15,21z"/>
<path color="#3e1800" d="M964,6178l16-21l-15-14l-16,23z"/>
<path color="#321300" d="M949,6195l15-17l-15-12l-16,15z"/>
<path color="#2b1000" d="M933,6210l16-15l-16-14l-15,17z"/>
<path color="#1f0b00" d="M917,6225l16-15l-15-12l-16,15zM902,6234l15-9l-15-12l-16,12zM886,6247l16-13l-16-9l-16,11z"/>
</g>
<g transform="scale(.1)" fill="currentColor" stroke="currentColor" stroke-width="4" stroke-linejoin="round">
<path color="#331400" d="M328,5838L344,5850L344,5864L328,5857z"/>
<path color="#351400" d="M344,5850L359,5855L359,5877L344,5864z"/>
<path color="#381600" d="M359,5855L374,5861L374,5885L359,5877z"/>
<path color="#391600" d="M374,5861L390,5870L390,5895L374,5885z"/>
<path color="#3b1700" d="M390,5870L406,5878L406,5914L390,5895z"/>
<path color="#3b1700" d="M406,5878L421,5891L421,5926L406,5914z"/>
<path color="#391600" d="M421,5891L436,5907L436,5925L421,5926z"/>
<path color="#381600" d="M436,5907L452,5917L452,5944L436,5925z"/>
<path color="#371500" d="M452,5917L468,5935L468,5955L452,5944z"/>
<path color="#361500" d="M468,5935L483,5941L483,5955L468,5955z"/>
<path color="#381600" d="M483,5941L498,5947L498,5974L483,5955z"/>
<path color="#3f1900" d="M498,5947L514,5942L514,5979L498,5974z"/>
<path color="#642d00" d="M514,5942L530,5912L530,5995L514,5979z"/>
<path color="#a86107" d="M530,5912L545,5887L545,6004L530,5995z"/>
<path color="#d4951d" d="M545,5887L560,5892L560,6022L545,6004z"/>
<path color="#d5971e" d="M560,5892L576,5908L576,6026L560,6022z"/>
<path color="#c48013" d="M576,5908L592,5929L592,6033L576,6026z"/>
<path color="#a35c06" d="M592,5929L607,5961L607,6049L592,6033z"/>
<path color="#773900" d="M607,5961L622,5997L622,6057L607,6049z"/>
<path color="#562600" d="M622,5997L638,6025L638,6069L622,6057z"/>
<path color="#431b00" d="M638,6025L654,6052L654,6089L638,6069z"/>
<path color="#391600" d="M654,6052L669,6074L669,6089L654,6089z"/>
<path color="#361500" d="M669,6074L684,6088L684,6103L669,6089z"/>
<path color="#321300" d="M684,6088L700,6103L700,6118L684,6103z"/>
<path color="#301200" d="M700,6103L716,6113L716,6133L700,6118z"/>
<path color="#2f1200" d="M716,6113L731,6127L731,6131L716,6133z"/>
<path color="#2d1100" d="M731,6127L746,6137L746,6148L731,6131z"/>
<path color="#311300" d="M746,6137L762,6143L762,6155L746,6148z"/>
<path color="#341400" d="M762,6143L778,6154L778,6164L762,6155z"/>
<path color="#351400" d="M778,6154L793,6163L793,6177L778,6164z"/>
<path color="#351400" d="M793,6163L808,6176L808,6185L793,6177z"/>
<path color="#301200" d="M808,6176L824,6192L824,6204L808,6185z"/>
<path color="#291000" d="M824,6192L839,6207L839,6208L824,6204z"/>
<path color="#260e00" d="M839,6207L855,6219L855,6225L839,6208z"/>
<path color="#200c00" d="M855,6219L870,6238L870,6239L855,6225z"/>
<path color="#1a0900" d="M870,6238L886,6249L886,6250L870,6239z"/>
<path color="#1b0a00" d="M886,6249L902,6236L902,6240L886,6252z"/>
<path color="#1b0a00" d="M902,6236L917,6227L917,6228L902,6240z"/>
<path color="#1d0a00" d="M917,6227L933,6212L933,6213L917,6228z"/>
<path color="#220d00" d="M933,6212L949,6197L949,6202L933,6213z"/>
<path color="#290f00" d="M949,6197L964,6180L964,6188L949,6202z"/>
<path color="#321300" d="M964,6180L980,6159L980,6182L964,6188z"/>
<path color="#391600" d="M980,6159L996,6137L996,6168L980,6182z"/>
<path color="#401900" d="M996,6137L1011,6117L1011,6159L996,6168z"/>
<path color="#461d00" d="M1011,6117L1027,6101L1027,6148L1011,6159z"/>
<path color="#481e00" d="M1027,6101L1043,6092L1043,6134L1027,6148z"/>
<path color="#431b00" d="M1043,6092L1058,6088L1058,6122L1043,6134z"/>
<path color="#3c1700" d="M1058,6088L1074,6088L1074,6107L1058,6122z"/>
<path color="#381500" d="M1074,6088L1090,6083L1090,6099L1074,6107z"/>
<path color="#361500" d="M1090,6083L1105,6074L1105,6084L1090,6099z"/>
<path color="#361500" d="M1105,6074L1121,6062L1121,6074L1105,6084z"/>
<path color="#371500" d="M1121,6062L1137,6051L1137,6061L1121,6074z"/>
<path color="#351400" d="M1137,6051L1152,6042L1152,6055L1137,6061z"/>
<path color="#351400" d="M1152,6042L1168,6028L1168,6051L1152,6055z"/>
<path color="#371500" d="M1168,6028L1184,6017L1184,6030L1168,6051z"/>
<path color="#371500" d="M1184,6017L1199,6004L1199,6017L1184,6030z"/>
<path color="#381500" d="M1199,6004L1215,5990L1215,6007L1199,6017z"/>
<path color="#381600" d="M1215,5990L1231,5977L1231,6001L1215,6007z"/>
<path color="#3a1600" d="M1231,5977L1246,5961L1246,5988L1231,6001z"/>
<path color="#3f1800" d="M1246,5961L1262,5941L1262,5984L1246,5988z"/>
<path color="#471d00" d="M1262,5941L1278,5922L1278,5964L1262,5984z"/>
<path color="#4f2200" d="M1278,5922L1293,5904L1293,5957L1278,5964z"/>
<path color="#572600" d="M1293,5904L1309,5887L1309,5950L1293,5957z"/>
<path color="#5b2900" d="M1309,5887L1325,5876L1325,5942L1309,5950z"/>
<path color="#532400" d="M1325,5876L1340,5878L1340,5919L1325,5942z"/>
<path color="#421a00" d="M1340,5878L1356,5885L1356,5906L1340,5919z"/>
<path color="#391600" d="M1356,5885L1372,5884L1372,5908L1356,5906z"/>
<path color="#371500" d="M1372,5884L1387,5871L1387,5887L1372,5908z"/>
<path color="#371500" d="M1387,5871L1403,5860L1403,5881L1387,5887z"/>
<path color="#371500" d="M1403,5860L1419,5848L1419,5874L1403,5881z"/>
<path color="#371500" d="M1419,5848L1434,5839L1434,5861L1419,5874z"/>
<path color="#361500" d="M1434,5839L1450,5831L1450,5843L1434,5861z"/>
<path color="#351400" d="M1450,5831L1466,5819L1466,5830L1450,5843z"/>
<path color="#331300" d="M1466,5819L1482,5812L1482,5832L1466,5830z"/>
<path color="#2e1200" d="M1482,5812L1497,5803L1497,5812L1482,5832z"/>
<path color="#2d1100" d="M1497,5803L1513,5792L1513,5809L1497,5812z"/>
<path color="#2e1100" d="M1513,5792L1529,5781L1529,5788L1513,5809z"/>
<path color="#2d1100" d="M1529,5781L1544,5771L1544,5783L1529,5788z"/>
<path color="#2c1100" d="M1544,5771L1560,5759L1560,5764L1544,5783z"/>
<path color="#2f1200" d="M1560,5759L1576,5745L1576,5751L1560,5764z"/>
<path color="#2c1100" d="M1576,5745L1591,5742L1591,5747L1576,5751z"/>
<path color="#260e00" d="M1591,5742L1607,5732L1607,5733L1591,5747z"/>
<path color="#220d00" d="M1607,5732L1623,5724L1623,5728L1607,5733z"/>
<path color="#220d00" d="M1623,5724L1638,5710L1638,5720L1623,5728z"/>
<path color="#270e00" d="M1638,5710L1654,5696L1654,5702L1638,5720z"/>
<path color="#2c1100" d="M1654,5696L1670,5680L1670,5699L1654,5702z"/>
<path color="#301200" d="M1670,5680L1685,5668L1685,5685L1670,5699z"/>
<path color="#311300" d="M1685,5668L1701,5657L1701,5671L1685,5685z"/>
<path color="#2f1200" d="M1701,5657L1717,5648L1717,5657L1701,5671z"/>
<path color="#2f1200" d="M1717,5648L1732,5636L1732,5653L1717,5657z"/>
<path color="#2f1200" d="M1732,5636L1748,5625L1748,5643L1732,5653z"/>
<path color="#301200" d="M1748,5625L1764,5612L1764,5620L1748,5643z"/>
<path color="#341400" d="M1764,5612L1779,5595L1779,5617L1764,5620z"/>
<path color="#371500" d="M1779,5595L1795,5582L1795,5596L1779,5617z"/>
<path color="#371500" d="M1795,5582L1811,5571L1811,5586L1795,5596z"/>
<path color="#381500" d="M1811,5571L1826,5558L1826,5583L1811,5586z"/>
<path color="#381500" d="M1826,5558L1842,5549L1842,5571L1826,5583z"/>
<path color="#371500" d="M1842,5549L1858,5540L1858,5559L1842,5571z"/>
<path color="#361500" d="M1858,5540L1873,5532L1873,5546L1858,5559z"/>
<path color="#341400" d="M1873,5532L1889,5522L1889,5535L1873,5546z"/>
<path color="#351400" d="M1889,5522L1905,5509L1905,5525L1889,5535z"/>
<path color="#361500" d="M1905,5509L1920,5498L1920,5513L1905,5525z"/>
<path color="#351400" d="M1920,5498L1936,5489L1936,5497L1920,5513z"/>
<path color="#311300" d="M1936,5489L1952,5481L1952,5493L1936,5497z"/>
<path color="#2e1100" d="M1952,5481L1967,5471L1967,5483L1952,5493z"/>
<path color="#2c1100" d="M1967,5471L1983,5461L1983,5467L1967,5483z"/>
</g>
<path d="M31.8,588.6L87.6,627.8L198.0,550.3v-16.5" fill="none" stroke="#000" stroke-width="1.55" stroke-linejoin="miter"/>
<path d="M198.0,534.4h1.6M198.0,542.7h1.3" stroke="#000" stroke-width="1.1" fill="none"/>
<path d="M86.1,625.8l3,4M86.1,629.8l3,-4" stroke="#000" stroke-width="0.9" fill="none"/>
<text x="54.60" y="617.50" font-size="11.5" text-anchor="middle" fill="#000" transform="rotate(35.1 54.60 617.50)">18 µm</text>
<text x="148.60" y="600.60" font-size="11.5" text-anchor="middle" fill="#000" transform="rotate(-35.1 148.60 600.60)">35 µm</text>
<rect x="196.2" y="573.0" width="7.1" height="48" fill="url(#afmg)"/>
<text x="201.30" y="568.20" font-size="11.5" text-anchor="middle" fill="#000">1.6</text>
<text x="200.30" y="632.00" font-size="11.5" text-anchor="middle" fill="#000">0</text>
<text x="193.20" y="596.20" font-size="14.1" text-anchor="middle" fill="#000" transform="rotate(-90 193.20 596.20)">z / µm</text>
<text x="224.20" y="571.30" font-size="14.1" text-anchor="middle" fill="#000" transform="rotate(-90 224.20 571.30)">z / µm</text>
<text x="6.60" y="510.20" font-size="17" text-anchor="start" fill="#000">i</text>
<text x="51.40" y="520.20" font-size="14.1" text-anchor="middle" fill="#000">50% MA</text>
<text x="51.40" y="536.00" font-size="14.1" text-anchor="middle" fill="#000">60% Br</text>
<path d="M255.30,415.57h9.6M255.30,385.99h9.6M255.30,356.41h9.6M255.30,326.83h9.6M289.61,445.15v-9.6M323.93,445.15v-9.6M358.24,445.15v-9.6M272.46,445.15v-5M306.77,445.15v-5M341.09,445.15v-5" stroke="#000" stroke-width="1.3" fill="none"/>
<rect x="255.30" y="304.65" width="120.10" height="140.50" fill="none" stroke="#000" stroke-width="1.5" stroke-linejoin="round"/>
<path transform="translate(255.30 445.15) scale(0.60352 -0.14789)" d="M0,18l1,0l1-3l1-4l1-2l1,1l1,4l1,4l1,0l1-1l1-1l1,0l1-1l1-2l1-1l1-2l1-3l1-5l1-2l1,0l1,0l1,0l1,2l1,5l1,2l1-3l1-4l1-1l1,3l1,3l1-1l1-3l1,0l1,4l1,4l1,2l1,2l1,0l1,0l1-1l1-1l1-2l1,0l1,1l1,1l1,2l1,0l1,0l1,4l1,3l1-1l1-3l1-3l1,0l1,2l1,2l1,1l1,2l1,1l1-3l1-3l1-3l1-3l1-2l1,0l1,5l1,5l1,1l1-3l1-5l1-4l1-1l1,2l1,5l1,7l1,2l1-2l1-3l1,0l1,2l1,0l1-1l1-2l1-1l1-2l1-2l1,1l1,4l1,5l1,3l1,0l1-1l1-1l1,1l1-1l1-2l1-5l1-6l1-5l1-3l1,0l1,7l1,9l1,5l1-1l1-3l1-2l1,0l1,2l1,0l1,1l1-2l1-2l1-3l1-2l1,0l1,1l1,2l1,3l1,2l1-1l1-4l1-6l1-4l1-2l1,1l1,3l1,2l1,1l1,3l1,3l1,2l1,0l1,1l1,3l1,4l1,0l1-5l1-4l1-1l1,1l1,1l1-2l1-4l1-2l1,2l1,5l1,5l1,2l1-3l1-4l1-3l1-1l1,1l1-1l1-2l1-2l1,3l1,3l1,1l1,0l1,1l1,0l1-1l1-5l1-4l1,0l1,4l1,3l1,2l1-1l1-1l1-1l1-2l1-2l1,1l1,3l1,4l1,1l1-2l1-2l1,1l1,0l1,1l1,1l1,3l1,3l1,2l1-3l1-6l1-3l1,3l1,4l1,3l1,1l1,1l1,1l1,0l1-2l1-1" fill="none" stroke="#a31a3a" stroke-width="1.5" stroke-linejoin="round" vector-effect="non-scaling-stroke"/>
<path transform="translate(255.30 445.15) scale(0.60352 -0.14789)" d="M0,215l1,0l1,0l1,0l1-2l1-3l1-2l1,2l1,1l1,2l1,3l1,4l1,2l1-3l1-4l1,1l1,4l1,4l1,1l1-5l1-6l1-3l1,0l1,2l1,4l1,1l1-1l1-2l1-3l1-1l1,0l1,0l1-1l1-2l1-2l1,1l1,3l1,2l1,0l1-2l1-1l1,1l1,3l1,4l1,1l1,0l1-2l1-2l1-1l1,1l1,2l1,1l1-2l1-2l1,0l1,2l1,1l1-1l1-4l1-2l1-1l1-2l1,1l1,2l1,2l1-1l1-3l1-3l1,2l1,2l1,2l1,1l1,1l1,0l1-1l1-4l1-3l1,2l1,4l1,5l1,2l1-1l1,0l1,3l1-1l1-5l1-7l1-4l1,3l1,6l1,3l1-2l1-2l1-1l1,1l1,0l1,0l1,1l1,2l1,0l1-3l1-2l1,3l1,6l1,3l1-2l1-7l1-5l1,0l1,4l1,3l1,0l1-2l1,1l1,5l1,6l1,2l1-3l1-6l1-6l1-2l1-1l1,0l1,2l1,2l1,2l1,0l1-2l1-3l1-2l1,0l1,2l1,2l1,0l1-2l1-2l1-2l1,0l1-1l1,1l1,2l1,4l1,2l1,0l1-2l1-2l1,1l1,1l1,0l1,1l1,2l1,1l1,1l1,0l1-2l1-1l1,2l1,2l1,2l1,0l1-2l1-1l1,2l1,1l1-2l1-2l1,2l1,5l1,2l1-3l1-4l1-4l1-3l1-3l1-3l1-2l1,2l1,4l1,4l1,5l1,5l1,3l1,1l1-4l1-8l1-6l1-1l1,3l1,5l1,2l1-1l1-1l1-1l1,2l1,3l1,2l1-2l1-3l1-4l1-2" fill="none" stroke="#a31a3a" stroke-width="1.5" stroke-linejoin="round" vector-effect="non-scaling-stroke"/>
<path transform="translate(255.30 445.15) scale(0.60352 -0.14789)" d="M0,419l1,0l1,0l1,0l1,1l1,1l1,0l1,0l1-2l1-3l1-4l1-2l1-1l1,1l1,2l1,1l1-2l1-3l1-4l1-1l1,3l1,2l1,1l1,0l1,1l1,1l1,3l1,4l1,2l1-3l1-4l1-3l1,0l1,0l1,0l1-1l1-1l1-1l1-2l1-2l1,1l1,2l1,4l1,0l1,0l1,1l1,3l1,2l1,0l1-2l1-2l1-2l1,0l1,1l1,3l1,4l1,1l1-1l1-2l1,0l1,2l1,3l1,0l1-2l1-3l1,0l1,0l1-3l1-4l1-1l1,2l1,5l1,3l1,1l1-2l1-1l1,2l1,3l1,1l1-1l1-2l1-1l1-2l1-1l1,0l1,1l1,0l1-1l1-1l1,0l1-2l1,0l1,1l1,1l1,1l1,0l1-1l1,0l1-1l1,2l1,6l1,6l1,2l1-2l1-4l1-3l1,0l1-1l1-1l1,0l1,1l1,1l1-1l1-2l1-1l1,1l1,0l1-2l1-3l1-2l1,1l1,4l1,2l1,1l1-2l1-2l1-1l1-1l1,1l1,1l1,0l1-2l1,1l1,0l1,0l1-1l1,1l1,3l1,3l1,1l1-1l1-2l1,0l1-1l1-1l1-1l1,0l1,0l1,0l1,1l1,1l1,2l1,3l1,2l1,2l1,0l1-1l1-2l1-3l1,1l1,1l1-2l1-4l1-4l1,1l1,3l1,3l1-1l1-1l1,0l1-1l1-3l1-3l1-1l1,1l1,2l1,0l1-1l1-1l1-2l1-2l1,0l1,3l1,5l1,4l1,2l1,0l1-1l1,0l1,1l1,0l1,0l1-2l1-2l1,0l1,1l1,1l1,1l1,0l1-1" fill="none" stroke="#a31a3a" stroke-width="1.5" stroke-linejoin="round" vector-effect="non-scaling-stroke"/>
<path transform="translate(255.30 445.15) scale(0.60352 -0.14789)" d="M0,606l1,0l1-1l1-2l1-3l1,1l1,6l1,8l1,4l1-1l1-4l1-3l1,0l1,4l1,5l1,2l1-4l1-8l1-8l1-2l1,5l1,6l1,3l1,1l1,1l1,1l1,0l1-3l1-2l1,3l1,6l1,5l1,4l1,1l1-2l1-7l1-7l1-5l1,1l1,3l1,1l1-1l1,1l1,3l1,3l1,3l1,1l1-3l1-6l1-9l1-5l1,0l1,5l1,6l1,3l1,1l1,0l1,0l1-2l1-1l1-2l1,1l1,2l1,0l1-2l1-1l1,1l1,1l1,2l1,2l1,3l1,4l1,2l1-3l1-3l1-1l1,1l1,3l1,2l1-4l1-5l1-3l1,2l1,5l1,5l1,3l1,4l1,7l1,0l1-14l1-16l1-4l1,5l1,7l1,6l1,5l1,2l1-1l1-4l1-5l1-3l1-1l1,1l1,2l1,0l1-2l1-3l1-1l1,3l1,4l1,2l1-2l1-3l1,0l1,1l1,0l1-5l1-6l1-1l1,6l1,9l1,2l1-3l1-1l1,3l1,4l1-2l1-6l1-3l1,5l1,9l1,6l1-3l1-6l1-6l1-4l1-2l1,0l1,2l1,4l1,1l1-3l1-6l1-5l1-2l1-2l1-2l1-2l1-2l1-2l1-1l1,3l1,9l1,9l1,3l1-2l1-3l1-1l1,3l1,3l1,0l1-3l1-5l1-4l1,1l1,2l1-1l1,0l1,3l1,3l1,3l1,0l1-3l1-3l1-2l1-1l1-2l1-1l1,2l1,6l1,5l1,2l1-1l1,1l1,3l1,2l1-1l1-4l1-6l1-5l1-3l1,3l1,8l1,8l1,3l1-2l1,0l1,3l1,1l1,0" fill="none" stroke="#a31a3a" stroke-width="1.5" stroke-linejoin="round" vector-effect="non-scaling-stroke"/>
<text x="255.30" y="461.25" font-size="11.5" text-anchor="middle" fill="#000">0</text>
<text x="289.61" y="461.25" font-size="11.5" text-anchor="middle" fill="#000">10</text>
<text x="323.93" y="461.25" font-size="11.5" text-anchor="middle" fill="#000">20</text>
<text x="358.24" y="461.25" font-size="11.5" text-anchor="middle" fill="#000">30</text>
<text x="250.00" y="448.75" font-size="11.5" text-anchor="end" fill="#000">0</text>
<text x="250.00" y="419.17" font-size="11.5" text-anchor="end" fill="#000">2</text>
<text x="250.00" y="389.59" font-size="11.5" text-anchor="end" fill="#000">4</text>
<text x="250.00" y="360.01" font-size="11.5" text-anchor="end" fill="#000">6</text>
<text x="250.00" y="330.43" font-size="11.5" text-anchor="end" fill="#000">8</text>
<text x="372.40" y="317.65" font-size="11.5" text-anchor="end" fill="#000">25% MA</text>
<text x="372.40" y="330.55" font-size="11.5" text-anchor="end" fill="#000">40% Br</text>
<text x="372.40" y="343.15" font-size="11.5" text-anchor="end" fill="#000">R<tspan font-size="8.5" dy="3">p</tspan><tspan dy="-3"> = 0.30 µm</tspan></text>
<text x="240.00" y="309.05" font-size="17" text-anchor="start" fill="#000">j</text>
<path d="M399.40,415.57h9.6M399.40,385.99h9.6M399.40,356.41h9.6M399.40,326.83h9.6M433.71,445.15v-9.6M468.03,445.15v-9.6M502.34,445.15v-9.6M416.56,445.15v-5M450.87,445.15v-5M485.19,445.15v-5" stroke="#000" stroke-width="1.3" fill="none"/>
<rect x="399.40" y="304.65" width="120.10" height="140.50" fill="none" stroke="#000" stroke-width="1.5" stroke-linejoin="round"/>
<path transform="translate(399.40 445.15) scale(0.60352 -0.14789)" d="M0,17l1,0l1,3l1,2l1,1l1-1l1,0l1,3l1,2l1,1l1,0l1-1l1,0l1,1l1-1l1-3l1-5l1-6l1-3l1,0l1,2l1,3l1,3l1,2l1,2l1,1l1,1l1,3l1,3l1,0l1-4l1-5l1-2l1,3l1,1l1,1l1,0l1,1l1,0l1-3l1-4l1-1l1,5l1,6l1,1l1-3l1-3l1,1l1,5l1,7l1,4l1,2l1,0l1-4l1-6l1-5l1-3l1-2l1-1l1-1l1,1l1,2l1,2l1,0l1,0l1-1l1-3l1-1l1,2l1,2l1,0l1-2l1-1l1,3l1,3l1,4l1,2l1,1l1-2l1-6l1-9l1-6l1-2l1,3l1,5l1,2l1-1l1-2l1-1l1-1l1,1l1-1l1-2l1-1l1,2l1,6l1,6l1,2l1-4l1-4l1-2l1,0l1,3l1,2l1,1l1,2l1,3l1,4l1,4l1,1l1,1l1,1l1,1l1,0l1-2l1-3l1-5l1-4l1-2l1,1l1,1l1,2l1,0l1-3l1-4l1-1l1,1l1,1l1-3l1-3l1,1l1,3l1,1l1,0l1,1l1,1l1,1l1,0l1,1l1,1l1-1l1-4l1-4l1,3l1,7l1,2l1-2l1-4l1,2l1,6l1,5l1-2l1-7l1-8l1-6l1,0l1,6l1,8l1,5l1,0l1-1l1,1l1,1l1-1l1-4l1-2l1,0l1,0l1,0l1-2l1-1l1-2l1-3l1,0l1,4l1,6l1,3l1-1l1-3l1-1l1,3l1,4l1-1l1-4l1-4l1-3l1-4l1-1l1,1l1,1l1-1l1-4l1-4l1,1l1,3l1,2l1,1l1-1l1-2l1,0" fill="none" stroke="#a31a3a" stroke-width="1.5" stroke-linejoin="round" vector-effect="non-scaling-stroke"/>
<path transform="translate(399.40 445.15) scale(0.60352 -0.14789)" d="M0,219l1,0l1-1l1,0l1,0l1-1l1-3l1-3l1,0l1,2l1,2l1,2l1,2l1,2l1,0l1,0l1,4l1,2l1-4l1-6l1-1l1,5l1,7l1,4l1-3l1-5l1-3l1-2l1-1l1,1l1,2l1,0l1-3l1-3l1-4l1-1l1,1l1,2l1,5l1,6l1,3l1-1l1-3l1-5l1-3l1,0l1,1l1,3l1,4l1,5l1,4l1,2l1-1l1-1l1,1l1,0l1-3l1-5l1-7l1-4l1,2l1,5l1,4l1-1l1-3l1-5l1-3l1-2l1-1l1,1l1,2l1,1l1-1l1-1l1,1l1,3l1,5l1,4l1-1l1-3l1-1l1,2l1,2l1,0l1-2l1,1l1,4l1,2l1-2l1-4l1-1l1-2l1-3l1-5l1,0l1,5l1,6l1,2l1,0l1,0l1,2l1,1l1-1l1-3l1-3l1-3l1-2l1,0l1,0l1,2l1,3l1,1l1-2l1-3l1-1l1,2l1,4l1,2l1-1l1-3l1-3l1-2l1,1l1,3l1,4l1,1l1-4l1-5l1-4l1,4l1,9l1,7l1,0l1-4l1-3l1,1l1,3l1,1l1-1l1-2l1-2l1,1l1,2l1-2l1-4l1-5l1-1l1,3l1,2l1,0l1,1l1,2l1,3l1,3l1,1l1,1l1,0l1-1l1-3l1-3l1-3l1-2l1-3l1-5l1-3l1,1l1,3l1,3l1,4l1,3l1,1l1-2l1-4l1-5l1-1l1,1l1,2l1,1l1-2l1-1l1,2l1,7l1,5l1,1l1-7l1-10l1-6l1,0l1,4l1,4l1,2l1,1l1,2l1,2l1-1l1-3l1-2l1-1l1-2l1-2" fill="none" stroke="#a31a3a" stroke-width="1.5" stroke-linejoin="round" vector-effect="non-scaling-stroke"/>
<path transform="translate(399.40 445.15) scale(0.60352 -0.14789)" d="M0,425l1,0l1,0l1,1l1-1l1-2l1,0l1,1l1,1l1,0l1-3l1-2l1,1l1,1l1,1l1,2l1,4l1,5l1,1l1-5l1-8l1-5l1-1l1,4l1,5l1,1l1-2l1-2l1,0l1,0l1-2l1-1l1,4l1,8l1,7l1,2l1,0l1,0l1,2l1,2l1-2l1-5l1-4l1-2l1-1l1-3l1-6l1-7l1-3l1,1l1,4l1,3l1,4l1,3l1,5l1,7l1,3l1-1l1-3l1-3l1-1l1,1l1-2l1-5l1-5l1-4l1-1l1-1l1,0l1,1l1,4l1,2l1-1l1-5l1-3l1,1l1,4l1,4l1,2l1,1l1,1l1-1l1,1l1,1l1,2l1,0l1-1l1,0l1,1l1,3l1,2l1-1l1-1l1,0l1-3l1-4l1-3l1-1l1,0l1-1l1-1l1,3l1,5l1,1l1-3l1-2l1,2l1,0l1-4l1-6l1-2l1,0l1,1l1,1l1,3l1,4l1,2l1,1l1,3l1,5l1,1l1-1l1-3l1-2l1-1l1-4l1-3l1,0l1,2l1,1l1-1l1-5l1-5l1-2l1,0l1,5l1,6l1,4l1,1l1,0l1-2l1-3l1-2l1,1l1,3l1,1l1-2l1-4l1-2l1,1l1,3l1,1l1,1l1,1l1,2l1,1l1-1l1-1l1-2l1-3l1-1l1,1l1,5l1,6l1,5l1,1l1-2l1-2l1,0l1,1l1,4l1,1l1-3l1-4l1-4l1-4l1-4l1-3l1,4l1,8l1,8l1,4l1-1l1-2l1-5l1-5l1-1l1,0l1,0l1-2l1-3l1-1l1,1l1-1l1-3l1-2l1,1l1,2l1,2l1,0" fill="none" stroke="#a31a3a" stroke-width="1.5" stroke-linejoin="round" vector-effect="non-scaling-stroke"/>
<path transform="translate(399.40 445.15) scale(0.60352 -0.14789)" d="M0,624l1,0l1-2l1-1l1-1l1-1l1,0l1,2l1-1l1-4l1-6l1-3l1,2l1,5l1,3l1,2l1-1l1-1l1-1l1,1l1,4l1,4l1,1l1-4l1-5l1-4l1-1l1,1l1,3l1,2l1,0l1-2l1-2l1-1l1,3l1,3l1,3l1,1l1,0l1-1l1-4l1-4l1,0l1,4l1,5l1,2l1-1l1-3l1-2l1,0l1,1l1,2l1,0l1,0l1,0l1,0l1,2l1,1l1,2l1,1l1,1l1,0l1-1l1-3l1-5l1-3l1-1l1,1l1,2l1,1l1,0l1,0l1,1l1,3l1,4l1,3l1,0l1-2l1-2l1-1l1-2l1-1l1,0l1,0l1,0l1,0l1-1l1-1l1-2l1,0l1,0l1-1l1-1l1,0l1,1l1,2l1,2l1,1l1,2l1,2l1,1l1-2l1-3l1-2l1-1l1-1l1,1l1,0l1-1l1,0l1-1l1,1l1,2l1-1l1-1l1-2l1-1l1,1l1,1l1,1l1,2l1,1l1,1l1,0l1,0l1-2l1-3l1,0l1,3l1,6l1,4l1,0l1-2l1-4l1-1l1,1l1,2l1-1l1-2l1-1l1,0l1,2l1,1l1-1l1-2l1-2l1-3l1-1l1,0l1,0l1,1l1,1l1,2l1,1l1-1l1-2l1-2l1,1l1,2l1,4l1,3l1,3l1,1l1-2l1-2l1-1l1,1l1-1l1,0l1,0l1,1l1,1l1-3l1-3l1,0l1,1l1,1l1-1l1-2l1-3l1-4l1-3l1,1l1,4l1,4l1,3l1,1l1-2l1-2l1-3l1-1l1,0l1,2l1,1l1,0l1,0l1,2l1,1l1-1l1-2" fill="none" stroke="#a31a3a" stroke-width="1.5" stroke-linejoin="round" vector-effect="non-scaling-stroke"/>
<text x="399.40" y="461.25" font-size="11.5" text-anchor="middle" fill="#000">0</text>
<text x="433.71" y="461.25" font-size="11.5" text-anchor="middle" fill="#000">10</text>
<text x="468.03" y="461.25" font-size="11.5" text-anchor="middle" fill="#000">20</text>
<text x="502.34" y="461.25" font-size="11.5" text-anchor="middle" fill="#000">30</text>
<text x="516.50" y="317.65" font-size="11.5" text-anchor="end" fill="#000">50% MA</text>
<text x="516.50" y="330.55" font-size="11.5" text-anchor="end" fill="#000">40% Br</text>
<text x="516.50" y="343.15" font-size="11.5" text-anchor="end" fill="#000">R<tspan font-size="8.5" dy="3">p</tspan><tspan dy="-3"> = 0.26 µm</tspan></text>
<text x="384.10" y="309.05" font-size="17" text-anchor="start" fill="#000">k</text>
<path d="M543.70,415.57h9.6M543.70,385.99h9.6M543.70,356.41h9.6M543.70,326.83h9.6M578.01,445.15v-9.6M612.33,445.15v-9.6M646.64,445.15v-9.6M560.86,445.15v-5M595.17,445.15v-5M629.49,445.15v-5" stroke="#000" stroke-width="1.3" fill="none"/>
<rect x="543.70" y="304.65" width="120.10" height="140.50" fill="none" stroke="#000" stroke-width="1.5" stroke-linejoin="round"/>
<path transform="translate(543.70 445.15) scale(0.60352 -0.14789)" d="M0,44l1,0l1,4l1,2l1-2l1-3l1-3l1,0l1,0l1,1l1,1l1,2l1,0l1,1l1-1l1,0l1,0l1,0l1-2l1-5l1-6l1-4l1,0l1,1l1,0l1,2l1,4l1,6l1,6l1,0l1-4l1-7l1-6l1-3l1,4l1,7l1,4l1-3l1-6l1-6l1-2l1-1l1,2l1,3l1,4l1,3l1-2l1-5l1-3l1,3l1,6l1,5l1,2l1,0l1,0l1,1l1,0l1-2l1-4l1-5l1-4l1-1l1,2l1,4l1,3l1,2l1,1l1,0l1,1l1,3l1,3l1,0l1-1l1,4l1,11l1,10l1,2l1-7l1-9l1-8l1-4l1-2l1-4l1-6l1-7l1-4l1,0l1,6l1,8l1,4l1,0l1-5l1-4l1,2l1,4l1,3l1-2l1-7l1-7l1-3l1,3l1,5l1,3l1,1l1,2l1,1l1,0l1-2l1-2l1,1l1,5l1,5l1,1l1-1l1-3l1-1l1,0l1,1l1,0l1,0l1,0l1-2l1-1l1,0l1,2l1,0l1,0l1-2l1-4l1-4l1-3l1-1l1,1l1,1l1,1l1,1l1,2l1,2l1,2l1,2l1,1l1,0l1-1l1,1l1,0l1-1l1,0l1-1l1,3l1,8l1,13l1,14l1,13l1,9l1,7l1,2l1-2l1-7l1-8l1-8l1-8l1-9l1-9l1-9l1-8l1-3l1,0l1,1l1,0l1,3l1,6l1,4l1-1l1-3l1-2l1,1l1,0l1-2l1-3l1-3l1,0l1,0l1,1l1,3l1,2l1,3l1,0l1-2l1-2l1-1l1,0l1,1l1,0l1-2l1-3l1-3l1,0l1,0l1-3l1-3" fill="none" stroke="#a31a3a" stroke-width="1.5" stroke-linejoin="round" vector-effect="non-scaling-stroke"/>
<path transform="translate(543.70 445.15) scale(0.60352 -0.14789)" d="M0,232l1,0l1,1l1,1l1-1l1-2l1-2l1,1l1,1l1,1l1,2l1,0l1,0l1,0l1,1l1,0l1-1l1-2l1,1l1,4l1,4l1,2l1,2l1,2l1,4l1,3l1-3l1-5l1-4l1,0l1,1l1,0l1-2l1-1l1,1l1,0l1,0l1-1l1-1l1,0l1,3l1,2l1,2l1-3l1-6l1-4l1-2l1,1l1,1l1-2l1-2l1,1l1,4l1,3l1,0l1-2l1,1l1,2l1,2l1,0l1-1l1,1l1,1l1,0l1,0l1,1l1,0l1-3l1-3l1,2l1,6l1,7l1,2l1-3l1-7l1-5l1-3l1-3l1-2l1-1l1,3l1,7l1,7l1,2l1-3l1-6l1-4l1-1l1,3l1,8l1,7l1,6l1,5l1,4l1,3l1-4l1-7l1-8l1-5l1-4l1-4l1-3l1-2l1,2l1,2l1,2l1,3l1,2l1-1l1-4l1-5l1-2l1,3l1,7l1,5l1,1l1-3l1-3l1-3l1-3l1-2l1-2l1,0l1,0l1-1l1,0l1,1l1,1l1-1l1-1l1,0l1,2l1,1l1-2l1-3l1-2l1,2l1,2l1,2l1,0l1-2l1,0l1,1l1,3l1,2l1,2l1-1l1-4l1-4l1-2l1,0l1,4l1,5l1,0l1-3l1-6l1-5l1,0l1,4l1,4l1,1l1,2l1,4l1,3l1-1l1-5l1-4l1-3l1,0l1,2l1,3l1,2l1,2l1,2l1,0l1-3l1-3l1,2l1,7l1,10l1,8l1,7l1,8l1,7l1,5l1,2l1-1l1-4l1-7l1-8l1-9l1-5l1-4l1-1l1-1l1-3l1-5l1-5l1-2l1,1" fill="none" stroke="#a31a3a" stroke-width="1.5" stroke-linejoin="round" vector-effect="non-scaling-stroke"/>
<path transform="translate(543.70 445.15) scale(0.60352 -0.14789)" d="M0,441l1,0l1-2l1-2l1-3l1-3l1-3l1,0l1,2l1,3l1,2l1,1l1-2l1-2l1-3l1-1l1,0l1,1l1,1l1-1l1-3l1-2l1,2l1,5l1,7l1,6l1,6l1,8l1,8l1,7l1,3l1-3l1-9l1-11l1-10l1-6l1-2l1,0l1-1l1-1l1,0l1,3l1,6l1,7l1,3l1-1l1-6l1-5l1-6l1-5l1,0l1,3l1,5l1,3l1,1l1-3l1-1l1-2l1-2l1-1l1,0l1,2l1,0l1-2l1-1l1,3l1,5l1,2l1-5l1-7l1-4l1,0l1,2l1,2l1,2l1-1l1-4l1-4l1-3l1-2l1,2l1,2l1,3l1,3l1,3l1,4l1,2l1-3l1-5l1-2l1,1l1,4l1,6l1,4l1,1l1-2l1-5l1-5l1-5l1-1l1,3l1,4l1,6l1,5l1,3l1-1l1-3l1-2l1-2l1,0l1,0l1,2l1,4l1,2l1-1l1-3l1-4l1-3l1,1l1,1l1,3l1,2l1,0l1-2l1-2l1,1l1,3l1,2l1,1l1,1l1,1l1-1l1-3l1-4l1-3l1-1l1,0l1,1l1,2l1-1l1-2l1-3l1,0l1,3l1,2l1,0l1,0l1,2l1,0l1-2l1-3l1-3l1,1l1,1l1,1l1-5l1-8l1-7l1-3l1,2l1,4l1,2l1,1l1-1l1-3l1-2l1,0l1,2l1,3l1,4l1,4l1,4l1,1l1,2l1,4l1,3l1,3l1,2l1,6l1,7l1,5l1,2l1,4l1,8l1,12l1,11l1,7l1,3l1,0l1-3l1-4l1-3l1-4l1-6l1-10l1-12l1-9l1-6l1-3l1-2" fill="none" stroke="#a31a3a" stroke-width="1.5" stroke-linejoin="round" vector-effect="non-scaling-stroke"/>
<path transform="translate(543.70 445.15) scale(0.60352 -0.14789)" d="M0,643l1,0l1-2l1-3l1,0l1,3l1,4l1,1l1-1l1-1l1,0l1,2l1,2l1,1l1-1l1-2l1-3l1-1l1,1l1,0l1-1l1-1l1,3l1,5l1,2l1-3l1-5l1-3l1,1l1,1l1,1l1,1l1,2l1,0l1-2l1-2l1-1l1,2l1,2l1,0l1-2l1-3l1-1l1,2l1,3l1,2l1,1l1-1l1-2l1-1l1,0l1,0l1-1l1-2l1-4l1-2l1,0l1,1l1,1l1,1l1-2l1-1l1,1l1,5l1,6l1,3l1-1l1-1l1,1l1,2l1,2l1-2l1-5l1-4l1-4l1-2l1-1l1-1l1,0l1,0l1,3l1,4l1,3l1,1l1,0l1-2l1-2l1-2l1-2l1-2l1,0l1,1l1,3l1,2l1-1l1-1l1,1l1,3l1,5l1-1l1-5l1-5l1-2l1,2l1,2l1,0l1-2l1-3l1,0l1,3l1,5l1,4l1,2l1-3l1-6l1-5l1-3l1,2l1,6l1,4l1,0l1-3l1-3l1-1l1,0l1-1l1-1l1,1l1,3l1,1l1,0l1,1l1,2l1,2l1-1l1-2l1-4l1-5l1-3l1,2l1,4l1,3l1,1l1-3l1-2l1,1l1,3l1,3l1,2l1,2l1,1l1-1l1-4l1-5l1-2l1,2l1,3l1,1l1,0l1,1l1,3l1,1l1-1l1-2l1,0l1,2l1,3l1,2l1,0l1-1l1-5l1-5l1-3l1,1l1,2l1,3l1,2l1,0l1-1l1-2l1-1l1,1l1,2l1,2l1,3l1,1l1-1l1-3l1-5l1-3l1-1l1,2l1,2l1-1l1-3l1-2l1,1l1,3l1,3l1,1" fill="none" stroke="#a31a3a" stroke-width="1.5" stroke-linejoin="round" vector-effect="non-scaling-stroke"/>
<text x="543.70" y="461.25" font-size="11.5" text-anchor="middle" fill="#000">0</text>
<text x="578.01" y="461.25" font-size="11.5" text-anchor="middle" fill="#000">10</text>
<text x="612.33" y="461.25" font-size="11.5" text-anchor="middle" fill="#000">20</text>
<text x="646.64" y="461.25" font-size="11.5" text-anchor="middle" fill="#000">30</text>
<text x="660.80" y="317.65" font-size="11.5" text-anchor="end" fill="#000">75% MA</text>
<text x="660.80" y="330.55" font-size="11.5" text-anchor="end" fill="#000">40% Br</text>
<text x="660.80" y="343.15" font-size="11.5" text-anchor="end" fill="#000">R<tspan font-size="8.5" dy="3">p</tspan><tspan dy="-3"> = 0.89 µm</tspan></text>
<text x="528.40" y="309.05" font-size="17" text-anchor="start" fill="#000">l</text>
<text x="459.80" y="486.15" font-size="14.1" text-anchor="middle" fill="#000">Distance / µm</text>
<path d="M255.30,612.22h9.6M255.30,582.64h9.6M255.30,553.06h9.6M255.30,523.48h9.6M289.61,641.80v-9.6M323.93,641.80v-9.6M358.24,641.80v-9.6M272.46,641.80v-5M306.77,641.80v-5M341.09,641.80v-5" stroke="#000" stroke-width="1.3" fill="none"/>
<rect x="255.30" y="501.30" width="120.10" height="140.50" fill="none" stroke="#000" stroke-width="1.5" stroke-linejoin="round"/>
<path transform="translate(255.30 641.80) scale(0.60352 -0.14789)" d="M0,26l1,0l1-2l1-4l1-3l1,0l1,2l1,3l1,0l1-4l1-4l1-2l1,2l1,3l1,1l1,1l1,0l1,0l1,0l1-2l1-1l1-2l1-2l1,0l1,2l1,4l1,2l1,2l1,1l1,2l1-1l1-3l1-3l1,0l1,3l1,2l1,1l1-2l1-2l1-2l1-1l1,0l1,1l1,1l1,0l1,3l1,4l1,3l1,1l1-1l1-1l1,2l1,2l1,0l1-3l1-6l1-8l1-6l1-1l1,3l1,6l1,5l1,2l1,1l1,2l1,1l1,0l1-1l1-3l1-2l1-1l1-1l1-1l1,1l1,3l1,3l1,1l1-2l1-3l1-2l1,1l1,4l1,1l1-1l1-1l1-1l1-1l1,0l1-1l1,0l1,1l1,1l1-1l1,0l1-1l1-3l1-6l1-3l1,0l1,5l1,5l1,3l1,1l1,0l1,0l1,0l1,1l1,0l1,0l1-3l1-3l1-2l1,0l1,3l1,2l1,1l1,0l1,0l1,0l1-1l1-1l1-1l1-2l1-1l1-2l1-1l1,1l1,1l1,2l1,1l1-1l1,0l1,0l1-1l1,0l1,1l1,0l1-2l1-3l1,0l1,1l1,2l1,1l1-1l1-2l1-2l1-2l1,0l1,4l1,4l1,3l1,1l1-1l1-4l1-5l1-1l1,3l1,4l1,1l1-2l1,1l1,3l1,5l1,0l1-3l1-4l1-1l1,2l1,3l1,2l1,2l1-1l1-2l1-2l1-1l1,2l1,2l1,2l1,0l1-1l1-1l1,0l1-1l1-1l1-1l1-1l1-1l1-1l1,0l1-1l1,0l1,1l1,2l1,2l1,1" fill="none" stroke="#a31a3a" stroke-width="1.5" stroke-linejoin="round" vector-effect="non-scaling-stroke"/>
<path transform="translate(255.30 641.80) scale(0.60352 -0.14789)" d="M0,220l1,0l1-2l1-3l1,0l1,2l1,3l1,2l1-1l1-4l1-3l1,1l1,3l1,1l1-2l1-1l1,0l1,1l1,1l1,0l1,1l1,2l1,1l1,0l1-1l1-3l1-3l1-3l1-2l1,0l1,2l1,2l1,0l1-3l1-3l1-3l1-1l1,2l1,3l1,2l1,1l1-1l1-2l1-1l1,0l1,1l1,1l1,1l1,3l1,2l1-2l1-4l1-4l1,0l1,2l1,1l1,1l1,0l1-1l1-2l1,0l1,2l1,4l1,1l1,0l1,1l1,1l1,2l1,0l1-1l1-2l1-1l1,0l1,0l1,1l1,3l1,2l1,1l1,0l1,0l1-1l1,0l1-1l1-1l1,1l1,1l1,0l1,1l1,0l1-1l1-2l1-2l1-1l1-1l1,0l1,4l1,4l1,3l1-1l1-3l1-3l1-1l1,1l1,0l1,0l1,0l1-1l1-1l1-1l1-1l1,3l1,2l1-1l1-2l1-3l1-2l1-1l1,1l1,0l1,0l1,0l1,1l1,0l1,1l1,2l1,3l1,1l1-3l1-3l1-2l1,1l1,1l1,0l1-1l1-4l1-2l1,1l1,4l1,3l1,0l1,1l1,1l1,1l1,0l1,1l1,2l1,0l1-1l1-2l1-2l1-2l1,0l1,1l1,2l1,2l1,1l1-1l1-2l1-2l1-2l1,0l1,1l1,3l1,1l1-2l1-2l1-1l1,2l1,0l1-2l1-3l1-1l1,3l1,4l1,4l1,1l1-3l1-4l1-3l1,1l1,3l1,3l1,1l1,1l1,0l1-2l1-4l1-4l1-3l1,1l1,4l1,6l1,4l1-1l1-3" fill="none" stroke="#a31a3a" stroke-width="1.5" stroke-linejoin="round" vector-effect="non-scaling-stroke"/>
<path transform="translate(255.30 641.80) scale(0.60352 -0.14789)" d="M0,412l1,0l1-1l1,0l1,1l1,1l1,0l1-1l1-1l1-1l1,0l1,0l1,0l1,0l1,2l1,1l1,1l1,0l1-2l1-1l1,0l1,1l1,1l1,0l1,1l1,2l1,1l1,2l1,0l1,0l1-1l1,0l1,0l1-1l1,1l1,1l1,0l1-2l1-2l1-1l1-1l1-1l1-2l1-1l1,1l1,2l1,3l1,2l1,1l1-1l1-4l1-3l1-2l1,0l1,0l1,1l1,1l1,2l1,0l1-1l1-1l1-1l1,0l1,2l1,3l1,1l1,0l1-1l1,0l1,1l1,0l1,0l1,0l1,0l1,1l1,1l1-1l1,0l1,0l1-1l1,0l1-1l1-1l1-1l1-1l1,2l1,2l1,1l1-1l1-3l1-2l1,0l1-1l1,0l1,0l1,2l1,3l1,2l1,1l1,1l1,0l1,1l1,0l1,0l1,0l1,0l1,0l1,0l1-2l1,0l1-1l1,0l1-1l1,0l1,0l1,1l1,1l1,0l1-1l1,0l1,0l1,3l1,2l1,1l1,0l1,0l1-1l1,1l1,1l1,1l1,0l1,0l1-2l1-2l1-1l1,0l1,1l1,0l1,0l1,0l1-1l1-1l1,0l1-1l1-2l1-1l1,1l1,2l1,2l1,3l1,1l1-1l1-1l1-1l1-2l1-2l1-1l1-1l1-2l1-1l1-1l1,0l1,1l1,1l1,1l1,1l1,0l1-2l1-2l1-3l1-2l1,0l1,3l1,2l1,3l1,1l1,2l1,2l1,2l1,1l1,0l1-2l1-3l1-2l1-2l1-1l1,1l1,2l1,1l1,0l1-1l1,0l1,0l1-1l1-2" fill="none" stroke="#a31a3a" stroke-width="1.5" stroke-linejoin="round" vector-effect="non-scaling-stroke"/>
<path transform="translate(255.30 641.80) scale(0.60352 -0.14789)" d="M0,615l1,0l1,1l1,0l1-1l1-1l1-1l1,0l1,1l1,1l1,1l1,0l1-1l1-1l1,1l1,1l1,2l1,1l1-1l1,0l1,0l1,0l1,1l1-1l1-1l1-2l1-1l1-2l1-3l1-3l1-1l1,1l1,2l1,3l1,1l1,0l1,0l1,0l1-1l1-1l1,2l1,3l1,3l1,1l1-2l1-4l1-2l1,1l1,2l1,3l1,1l1,1l1,1l1-1l1-3l1-4l1-1l1,0l1,2l1,0l1-1l1-1l1,2l1,3l1,3l1,1l1,0l1-2l1,0l1,0l1-2l1-2l1-1l1,1l1,2l1,1l1-1l1-1l1-2l1-3l1-2l1,1l1,2l1,4l1,2l1-1l1-3l1-3l1,0l1,3l1,3l1,1l1-1l1-1l1,0l1,1l1,1l1,0l1-3l1-4l1-3l1,0l1,3l1,3l1,2l1,0l1,1l1,0l1,0l1,1l1,1l1,0l1-1l1-1l1-1l1-1l1-2l1-2l1-1l1,1l1,2l1,1l1,2l1,2l1,1l1-2l1-4l1-3l1,0l1,2l1,4l1,2l1,1l1-1l1,0l1-1l1,1l1,1l1,0l1-4l1-3l1-2l1-1l1,0l1,2l1,1l1,2l1,3l1,3l1,2l1,2l1-1l1-1l1,0l1-1l1-3l1-3l1-3l1-2l1,1l1,2l1,2l1,2l1,0l1,0l1-1l1-1l1,0l1-1l1,0l1-1l1-1l1-2l1,0l1,0l1,0l1-1l1-2l1,0l1,2l1,2l1,1l1-1l1-3l1-4l1-2l1-1l1,1l1,2l1,2l1,2l1,2l1,0l1-1l1-2" fill="none" stroke="#a31a3a" stroke-width="1.5" stroke-linejoin="round" vector-effect="non-scaling-stroke"/>
<text x="255.30" y="657.90" font-size="11.5" text-anchor="middle" fill="#000">0</text>
<text x="289.61" y="657.90" font-size="11.5" text-anchor="middle" fill="#000">10</text>
<text x="323.93" y="657.90" font-size="11.5" text-anchor="middle" fill="#000">20</text>
<text x="358.24" y="657.90" font-size="11.5" text-anchor="middle" fill="#000">30</text>
<text x="250.00" y="645.40" font-size="11.5" text-anchor="end" fill="#000">0</text>
<text x="250.00" y="615.82" font-size="11.5" text-anchor="end" fill="#000">2</text>
<text x="250.00" y="586.24" font-size="11.5" text-anchor="end" fill="#000">4</text>
<text x="250.00" y="556.66" font-size="11.5" text-anchor="end" fill="#000">6</text>
<text x="250.00" y="527.08" font-size="11.5" text-anchor="end" fill="#000">8</text>
<text x="372.40" y="514.30" font-size="11.5" text-anchor="end" fill="#000">25% MA</text>
<text x="372.40" y="527.20" font-size="11.5" text-anchor="end" fill="#000">60% Br</text>
<text x="372.40" y="539.80" font-size="11.5" text-anchor="end" fill="#000">R<tspan font-size="8.5" dy="3">p</tspan><tspan dy="-3"> = 0.22 µm</tspan></text>
<text x="240.00" y="506.10" font-size="17" text-anchor="start" fill="#000">m</text>
<path d="M399.40,612.22h9.6M399.40,582.64h9.6M399.40,553.06h9.6M399.40,523.48h9.6M433.71,641.80v-9.6M468.03,641.80v-9.6M502.34,641.80v-9.6M416.56,641.80v-5M450.87,641.80v-5M485.19,641.80v-5" stroke="#000" stroke-width="1.3" fill="none"/>
<rect x="399.40" y="501.30" width="120.10" height="140.50" fill="none" stroke="#000" stroke-width="1.5" stroke-linejoin="round"/>
<path transform="translate(399.40 641.80) scale(0.60352 -0.14789)" d="M0,23l1,0l1-1l1,1l1,0l1,0l1-1l1-1l1-1l1-1l1-1l1,0l1,2l1,2l1-1l1-3l1-3l1-2l1-1l1,1l1,2l1,1l1-1l1,0l1,1l1,1l1,1l1,0l1-1l1,0l1,1l1,1l1,3l1,2l1,0l1-2l1-2l1-2l1,1l1,2l1,2l1,0l1,0l1,2l1,4l1,5l1,4l1,3l1,1l1,1l1,0l1,2l1,2l1,2l1-2l1-2l1,0l1,0l1,0l1-3l1-3l1-4l1-2l1-3l1-2l1-3l1-2l1-1l1,0l1-1l1-2l1-2l1,0l1,2l1,2l1,1l1,0l1-1l1,0l1,1l1,0l1,1l1,0l1-1l1-1l1-1l1,1l1,2l1-1l1,0l1,3l1,15l1,31l1,36l1,26l1,12l1,4l1,1l1-1l1-8l1-22l1-35l1-35l1-23l1-6l1,1l1,0l1-1l1-2l1-2l1-1l1,2l1,2l1,0l1-1l1-3l1-1l1,1l1,1l1,2l1,1l1,0l1-3l1-4l1-2l1,0l1,2l1,2l1,2l1,1l1,0l1-1l1-2l1,0l1,2l1,3l1,2l1,0l1,0l1,1l1,0l1-1l1-1l1,1l1,2l1,3l1,1l1-2l1-1l1,1l1,2l1,1l1,0l1,0l1,1l1-1l1-2l1-2l1-1l1,0l1,2l1,0l1,2l1,1l1,0l1-2l1-3l1-2l1,0l1,0l1,0l1-1l1,1l1,1l1-1l1-2l1-1l1-2l1-1l1-2l1-1l1,3l1,5l1,4l1,2l1-1l1-3l1-1l1-1l1-1l1-2l1,1l1,2l1,3l1,3l1,3l1-1l1-4l1-4l1-4" fill="none" stroke="#a31a3a" stroke-width="1.5" stroke-linejoin="round" vector-effect="non-scaling-stroke"/>
<path transform="translate(399.40 641.80) scale(0.60352 -0.14789)" d="M0,211l1,0l1,3l1,3l1,0l1-2l1-2l1,0l1,4l1,2l1-1l1-2l1-2l1,0l1,2l1,0l1-1l1,0l1,3l1,3l1,1l1-2l1-1l1-1l1-1l1,0l1,1l1,1l1,2l1,2l1-1l1-1l1-1l1,0l1,1l1-1l1-2l1-2l1,1l1,3l1,3l1,1l1,0l1-1l1-2l1,1l1,1l1,0l1,0l1-1l1-1l1,1l1,0l1-1l1,2l1,3l1,3l1,1l1,2l1,4l1,4l1-1l1-3l1-2l1,0l1,4l1,3l1,1l1-2l1-4l1-3l1-1l1,1l1,1l1,1l1,0l1,1l1,0l1-3l1-3l1-1l1,0l1-1l1-2l1-1l1-1l1-1l1-1l1,0l1,3l1,3l1,1l1-2l1-3l1-2l1-2l1-2l1-3l1-2l1-1l1,2l1,7l1,13l1,21l1,25l1,23l1,18l1,12l1,4l1-1l1-3l1-1l1-2l1-6l1-12l1-18l1-22l1-23l1-16l1-7l1,1l1,2l1-1l1-4l1-4l1-2l1,0l1-1l1-1l1,0l1,0l1,0l1,0l1,0l1,2l1,1l1-1l1-1l1-2l1-1l1,1l1,3l1,3l1,0l1-1l1,0l1,3l1,1l1-2l1-3l1,1l1,4l1,5l1,0l1-2l1-1l1,1l1,3l1,0l1-2l1-1l1,1l1,4l1,2l1-1l1-5l1-7l1-4l1-3l1-2l1,0l1,1l1,1l1,2l1,2l1,1l1,2l1,2l1,1l1,0l1-1l1,0l1,1l1,2l1,3l1,4l1-1l1-4l1-5l1-2l1,2l1,2l1,1l1-1l1-1l1,0l1,0l1-2l1-4l1-3" fill="none" stroke="#a31a3a" stroke-width="1.5" stroke-linejoin="round" vector-effect="non-scaling-stroke"/>
<path transform="translate(399.40 641.80) scale(0.60352 -0.14789)" d="M0,519l1,0l1-1l1-1l1,0l1,2l1,3l1,2l1,1l1,0l1-2l1-3l1-4l1-10l1-24l1-29l1-20l1-8l1-4l1-2l1-1l1-1l1-1l1,0l1,2l1,3l1,3l1,0l1-2l1-4l1-4l1-2l1,0l1,2l1,1l1,0l1,0l1,2l1,1l1,0l1-1l1,2l1,1l1,0l1-1l1-1l1-1l1,1l1-2l1-3l1-1l1,2l1,1l1,0l1-2l1-1l1,2l1,1l1,1l1-4l1-4l1-2l1,3l1,4l1,1l1-1l1,2l1,4l1,3l1,1l1-1l1,0l1,6l1,15l1,23l1,22l1,15l1,3l1-3l1-11l1-21l1-25l1-19l1-9l1-1l1-1l1,1l1,3l1,2l1,2l1,0l1,0l1,1l1-3l1-3l1,0l1,2l1,2l1,0l1-1l1-1l1-2l1-3l1-2l1,1l1,4l1,4l1,1l1-1l1-3l1-5l1-2l1-3l1-3l1,1l1,3l1,5l1,4l1,0l1-1l1,0l1-1l1-2l1-1l1,1l1,3l1,4l1,2l1,0l1-3l1-3l1-1l1-2l1-3l1-2l1-2l1,0l1,1l1,1l1,1l1-1l1-1l1,1l1,4l1,6l1,10l1,14l1,17l1,18l1,17l1,14l1,7l1,2l1,1l1-2l1-8l1-16l1-19l1-18l1-17l1-13l1-10l1-4l1-1l1,0l1,0l1,0l1,0l1,0l1,0l1-1l1,0l1,0l1,0l1-2l1-1l1,2l1,5l1,4l1,1l1-2l1-4l1-1l1,2l1,4l1,3l1,0l1-2l1-1l1,0l1-1l1-1l1-1l1-1l1,0l1-2l1-2l1-2l1,1l1,3" fill="none" stroke="#a31a3a" stroke-width="1.5" stroke-linejoin="round" vector-effect="non-scaling-stroke"/>
<path transform="translate(399.40 641.80) scale(0.60352 -0.14789)" d="M0,639l1-1l1-3l1-6l1-4l1,0l1,1l1,0l1-2l1-3l1,1l1,4l1,2l1-1l1-1l1,0l1,1l1,0l1,0l1,1l1,6l1,12l1,15l1,15l1,14l1,10l1,3l1-3l1-14l1-19l1-17l1-12l1-6l1-1l1-2l1,0l1,0l1,0l1-3l1-3l1-2l1,0l1,2l1-1l1-1l1-1l1,1l1,2l1,2l1-1l1-2l1-2l1,0l1,1l1-1l1,0l1-1l1,1l1,2l1,2l1,2l1,2l1,2l1,2l1,1l1,0l1,0l1-1l1-2l1-4l1-2l1-1l1,0l1,2l1,3l1,4l1,7l1,13l1,20l1,20l1,12l1,2l1-5l1-17l1-22l1-20l1-13l1-6l1-1l1,2l1,4l1,3l1,3l1,2l1,0l1-3l1-5l1-4l1-2l1,1l1,1l1-1l1,1l1,1l1,1l1,0l1-1l1,1l1,3l1,1l1-1l1-3l1-2l1,1l1,3l1,3l1,1l1,1l1,3l1,3l1,0l1-2l1,0l1,4l1,6l1,4l1-1l1-4l1-3l1-3l1-1l1,0l1-2l1-1l1-1l1,2l1,1l1,1l1-1l1-2l1-2l1-4l1-3l1,0l1,1l1-1l1-2l1-3l1-1l1,2l1,3l1,2l1,1l1,1l1,0l1-1l1,0l1,1l1,3l1,6l1,11l1,17l1,19l1,16l1,8l1,1l1-2l1-10l1-16l1-18l1-16l1-12l1-7l1-1l1,2l1,2l1,2l1,1l1,2l1,3l1-1l1-5l1-7l1-6l1,0l1,2l1,1l1-2l1-1l1-1l1,0l1,0l1,2l1,2l1,2l1-1l1-1l1,1l1,3l1,3" fill="none" stroke="#a31a3a" stroke-width="1.5" stroke-linejoin="round" vector-effect="non-scaling-stroke"/>
<text x="399.40" y="657.90" font-size="11.5" text-anchor="middle" fill="#000">0</text>
<text x="433.71" y="657.90" font-size="11.5" text-anchor="middle" fill="#000">10</text>
<text x="468.03" y="657.90" font-size="11.5" text-anchor="middle" fill="#000">20</text>
<text x="502.34" y="657.90" font-size="11.5" text-anchor="middle" fill="#000">30</text>
<text x="516.50" y="514.30" font-size="11.5" text-anchor="end" fill="#000">50% MA</text>
<text x="516.50" y="527.20" font-size="11.5" text-anchor="end" fill="#000">60% Br</text>
<text x="516.50" y="539.80" font-size="11.5" text-anchor="end" fill="#000">R<tspan font-size="8.5" dy="3">p</tspan><tspan dy="-3"> = 1.23 µm</tspan></text>
<text x="384.10" y="506.10" font-size="17" text-anchor="start" fill="#000">n</text>
<path d="M543.70,612.22h9.6M543.70,582.64h9.6M543.70,553.06h9.6M543.70,523.48h9.6M578.01,641.80v-9.6M612.33,641.80v-9.6M646.64,641.80v-9.6M560.86,641.80v-5M595.17,641.80v-5M629.49,641.80v-5" stroke="#000" stroke-width="1.3" fill="none"/>
<rect x="543.70" y="501.30" width="120.10" height="140.50" fill="none" stroke="#000" stroke-width="1.5" stroke-linejoin="round"/>
<path transform="translate(543.70 641.80) scale(0.60352 -0.14789)" d="M0,19l1,0l1-1l1-2l1-1l1,0l1,2l1,2l1,5l1,10l1,15l1,9l1-3l1-12l1-12l1-8l1-3l1-3l1,0l1,1l1,2l1,1l1,1l1,1l1,1l1-1l1-3l1-3l1-1l1-1l1-2l1-2l1-1l1,2l1,3l1,4l1,3l1,4l1,7l1,5l1,2l1-3l1-6l1-7l1-6l1-3l1,0l1,3l1,2l1,1l1,1l1,1l1,1l1,1l1,1l1,3l1,5l1,6l1,7l1,7l1,8l1,7l1,5l1,2l1-1l1-5l1-7l1-9l1-10l1-9l1-8l1-5l1-2l1-1l1,0l1-2l1-1l1-1l1,0l1-1l1-1l1,0l1,0l1,0l1,1l1,0l1-1l1-1l1,0l1,1l1,1l1,0l1,1l1,2l1,1l1,1l1-1l1-1l1-1l1,2l1,2l1,1l1,0l1,1l1,7l1,17l1,25l1,24l1,10l1-9l1-24l1-25l1-18l1-7l1-2l1,1l1,0l1,1l1,0l1,2l1,1l1,2l1,2l1,0l1-1l1-4l1-3l1-2l1-1l1,0l1,0l1-1l1-2l1-1l1,0l1,0l1,0l1,0l1,0l1,2l1,2l1,1l1,1l1,0l1,0l1-1l1-1l1,1l1,2l1,1l1-1l1-2l1-1l1,0l1-1l1,1l1,1l1-1l1-2l1-3l1-2l1,1l1,1l1,3l1,2l1,3l1,3l1,7l1,10l1,12l1,9l1,1l1-9l1-13l1-12l1-7l1-2l1,0l1,2l1,1l1-1l1-3l1-3l1,0l1,1l1,1l1,1l1-1l1-1l1,0l1,1l1,3l1,4l1,6l1,9l1,12l1,10l1,2l1-7l1-13" fill="none" stroke="#a31a3a" stroke-width="1.5" stroke-linejoin="round" vector-effect="non-scaling-stroke"/>
<path transform="translate(543.70 641.80) scale(0.60352 -0.14789)" d="M0,294l1-1l1-3l1-4l1-6l1-11l1-15l1-15l1-12l1-7l1-3l1-2l1-1l1-2l1-1l1,1l1,2l1,1l1-1l1-1l1,0l1,0l1-1l1-2l1-1l1,0l1,1l1,0l1,1l1,2l1,4l1,4l1,1l1-1l1-5l1-4l1-3l1,1l1,1l1,2l1,3l1,4l1,5l1,4l1,2l1,2l1,2l1,1l1,2l1,4l1,7l1,7l1,7l1,5l1,6l1,5l1,2l1,1l1,1l1,3l1,5l1,3l1,1l1-1l1-3l1-2l1,0l1,0l1,1l1,1l1,0l1,0l1,0l1,0l1-1l1-2l1-3l1-2l1-3l1-4l1-6l1-8l1-10l1-9l1-9l1-9l1-8l1-7l1-5l1-2l1,1l1,1l1,1l1,2l1,2l1,2l1,1l1,0l1-2l1-1l1,1l1,3l1,3l1,6l1,10l1,13l1,11l1,4l1-3l1-9l1-11l1-10l1-9l1-6l1-3l1-1l1,0l1,1l1,1l1,3l1,2l1,0l1-1l1-1l1,0l1,4l1,4l1,2l1-1l1-2l1-1l1,0l1,0l1,1l1,2l1,0l1-3l1-3l1,0l1,2l1,2l1,0l1-1l1,1l1,1l1,1l1,0l1-1l1-1l1-1l1-1l1,0l1,1l1,1l1-1l1,0l1-2l1-1l1,0l1-1l1,0l1-2l1-3l1-2l1-2l1,0l1,2l1,3l1,3l1,2l1,1l1,0l1-2l1-1l1,2l1,4l1,3l1-1l1-3l1-2l1-1l1,1l1,1l1,3l1,4l1,6l1,8l1,11l1,13l1,11l1,7l1,1l1-7l1-12l1-15l1-13l1-11l1-8l1-4l1-3" fill="none" stroke="#a31a3a" stroke-width="1.5" stroke-linejoin="round" vector-effect="non-scaling-stroke"/>
<path transform="translate(543.70 641.80) scale(0.60352 -0.14789)" d="M0,401l1,0l1,0l1,0l1,1l1,4l1,4l1,3l1,2l1,3l1,7l1,8l1,3l1-3l1-6l1-7l1-5l1-3l1-4l1-5l1-3l1-1l1,3l1,3l1,1l1,0l1-1l1,1l1,1l1,1l1,0l1,0l1-1l1-2l1-2l1,1l1,2l1,1l1-2l1,0l1,4l1,7l1,9l1,8l1,5l1,0l1-5l1-8l1-7l1-5l1-3l1-4l1-2l1-1l1-1l1,0l1,0l1,1l1,0l1-1l1-2l1,1l1,3l1,2l1,0l1-1l1,1l1,1l1,0l1-1l1-5l1-5l1-1l1,3l1,5l1,5l1,3l1-1l1,0l1,0l1,0l1,0l1-1l1-1l1,0l1-1l1-1l1,7l1,27l1,45l1,43l1,24l1,6l1,0l1-1l1-6l1-11l1-13l1-14l1-16l1-13l1-11l1-9l1-10l1-10l1-11l1-9l1-9l1-8l1-5l1-1l1,2l1,3l1,3l1-1l1-3l1-1l1,0l1,1l1,2l1,2l1,4l1,5l1,5l1,4l1,3l1,1l1-2l1-6l1-6l1-4l1-3l1-2l1,0l1,0l1-1l1-1l1-2l1-2l1-1l1,1l1,2l1,2l1,0l1-3l1-1l1,2l1,5l1,5l1,3l1,3l1,3l1,1l1-1l1-3l1-4l1-4l1,0l1,3l1,2l1-2l1-5l1-3l1-1l1,3l1,1l1-2l1-2l1-1l1,1l1,1l1,1l1-2l1-2l1-1l1,2l1,4l1,3l1,0l1-1l1,0l1,1l1,1l1,0l1-1l1,2l1,5l1,11l1,17l1,22l1,19l1,9l1-6l1-17l1-22l1-17l1-11l1-6l1-5l1-3" fill="none" stroke="#a31a3a" stroke-width="1.5" stroke-linejoin="round" vector-effect="non-scaling-stroke"/>
<path transform="translate(543.70 641.80) scale(0.60352 -0.14789)" d="M0,614l1,0l1,0l1,0l1-1l1-1l1-1l1,0l1-2l1-1l1-1l1-1l1,2l1,1l1,0l1,0l1,0l1,0l1-1l1-1l1-1l1,2l1,1l1,1l1-1l1-1l1-1l1-2l1-1l1,0l1,1l1,2l1,2l1,0l1-1l1,0l1,1l1,1l1,1l1,0l1,0l1,0l1-3l1-3l1-2l1,0l1,2l1,3l1,1l1,0l1-1l1-1l1,2l1,1l1-1l1-2l1-2l1-1l1-1l1,1l1,3l1,3l1,3l1,1l1,0l1-1l1-1l1-2l1-1l1,0l1,1l1,1l1,2l1,1l1-1l1-2l1-1l1,1l1,0l1,1l1,1l1,3l1,3l1,1l1,0l1,1l1,0l1-2l1-3l1-3l1-1l1,0l1,0l1,0l1,1l1,0l1-1l1,0l1,1l1,0l1,0l1-1l1-1l1,0l1,1l1,1l1,0l1-1l1-2l1,1l1,3l1,2l1,1l1,0l1-1l1,0l1,2l1,14l1,34l1,47l1,39l1,21l1,6l1,0l1-1l1-2l1-10l1-25l1-43l1-44l1-28l1-9l1-2l1-1l1,0l1,2l1,2l1,1l1,0l1-1l1-1l1,0l1,2l1,3l1,2l1,1l1-1l1-3l1-3l1-1l1,3l1,4l1,5l1,6l1,7l1,6l1,8l1,8l1,7l1,5l1,0l1-7l1-9l1-9l1-7l1-5l1-5l1-6l1-6l1-3l1-1l1,2l1,1l1,1l1,0l1,1l1,3l1,3l1,5l1,4l1,3l1,2l1,1l1-1l1-6l1-7l1-3l1-1l1-1l1,0l1-1l1,0l1,0l1,0l1-1l1,0l1,2l1,3l1,2l1,0" fill="none" stroke="#a31a3a" stroke-width="1.5" stroke-linejoin="round" vector-effect="non-scaling-stroke"/>
<text x="543.70" y="657.90" font-size="11.5" text-anchor="middle" fill="#000">0</text>
<text x="578.01" y="657.90" font-size="11.5" text-anchor="middle" fill="#000">10</text>
<text x="612.33" y="657.90" font-size="11.5" text-anchor="middle" fill="#000">20</text>
<text x="646.64" y="657.90" font-size="11.5" text-anchor="middle" fill="#000">30</text>
<text x="660.80" y="514.30" font-size="11.5" text-anchor="end" fill="#000">75% MA</text>
<text x="660.80" y="527.20" font-size="11.5" text-anchor="end" fill="#000">60% Br</text>
<text x="660.80" y="539.80" font-size="11.5" text-anchor="end" fill="#000">R<tspan font-size="8.5" dy="3">p</tspan><tspan dy="-3"> = 1.44 µm</tspan></text>
<text x="528.40" y="506.10" font-size="17" text-anchor="start" fill="#000">o</text>
<text x="459.80" y="682.30" font-size="14.1" text-anchor="middle" fill="#000">Distance / µm</text>
</svg>
</body></html>
